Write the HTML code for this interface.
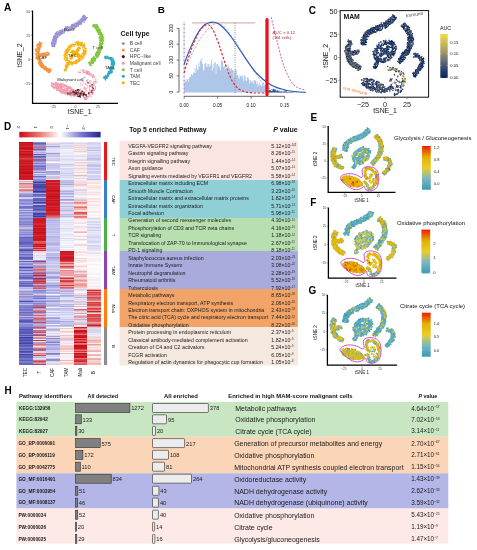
<!DOCTYPE html>
<html lang="en"><head><meta charset="utf-8"><title>Figure</title>
<style>html,body{margin:0;padding:0;background:#fff}svg{display:block}text{font-family:"Liberation Sans",sans-serif}</style>
</head><body>
<svg width="477" height="550" viewBox="0 0 477 550">
<rect width="477" height="550" fill="#fff"/>
<text x="4.00" y="11.32" font-size="10.20" fill="#000" font-weight="bold">A</text>
<path d="M58.4 32h0M53.7 43.8h0M51.5 42.9h0M73.1 28.8h0M83.5 16h0M59.7 34.9h0M72.3 26.1h0M74.2 25.6h0M64.3 29.6h0M68.5 30.7h0M83.4 15.6h0M54.6 44.8h0M81.2 19.9h0M81.7 23.1h0M54 43.7h0M62 32.1h0M53.9 38.4h0M62.8 33.1h0M69.5 30.2h0M61.9 33.8h0M54.1 38h0M52.9 46.2h0M84.5 18.2h0M83.6 20.6h0M62 31.4h0M54.5 36.5h0M52 46.3h0M71 25.9h0M60.2 31.3h0M52.3 42.3h0M79.7 21.6h0M67.7 26.6h0M82 21.7h0M68.7 30.3h0M81.2 24.5h0M55.8 36.2h0M52.5 45.1h0M85.4 19.8h0M55 36.1h0M80.2 21.3h0M55 42.7h0M56 38.8h0M83.9 16.6h0M52.5 40.3h0M56.2 40.6h0M52.6 39.7h0M68.3 30h0M56 34.5h0M57.1 35.2h0M71 29.6h0M66.7 29.4h0M54.7 46.5h0M76.3 24.9h0M54.1 41.6h0M77.9 23.5h0M71.4 27.1h0M64.3 29.7h0M82.6 17.3h0M79.7 20.8h0M54.6 43.2h0M55.5 39.8h0M57.3 37.2h0M86.6 17.6h0M54.8 37.3h0M69 28.3h0M55.6 43.8h0M53.6 41.6h0M64.2 32.7h0M55.8 40.2h0M74.6 25.4h0M73.2 28.4h0M64.5 29.9h0M56.2 33.4h0M52.5 44h0M77.2 23.2h0M55.4 33.8h0M55.4 37.9h0M66.9 30.5h0M75.4 27.2h0M62.1 30.3h0M54.8 43.4h0M82.3 21.6h0M58.2 34.2h0M85.6 17.8h0M58.7 33.4h0M55.7 37.5h0M53.6 42.3h0M70.5 28h0M76.5 26.4h0M76.5 25.4h0M82.7 20.5h0M67.5 30.9h0M70.9 29.1h0M53.8 40.1h0M69.2 28.4h0M79.8 23.9h0M72.6 24.6h0M75.9 23.8h0M66 28.6h0M71.7 24.6h0M76.6 23.7h0M74.4 26.8h0M67.2 28.7h0M86.3 18.1h0M81 23.7h0M56.8 37.5h0M83.1 17.1h0M57.5 36.7h0M53 46.3h0M60.1 34.8h0M79.8 20.9h0M60.9 31.3h0M60.5 31.9h0M59.3 36.1h0M66.3 27.4h0M72.9 28.1h0M75.1 23.2h0M56.5 32.4h0M65.1 29.1h0M72.9 25.5h0M53.8 38.3h0M84.6 21h0M53.8 37h0M70.4 29.8h0M62.9 31h0M83.5 16.4h0M80.6 20.1h0M85.6 19h0M54.7 45.2h0M62.8 33.2h0M84 16.6h0M84.6 18.9h0M65.1 30.9h0M72.8 26.4h0M72.9 27.6h0M61.3 30.4h0M58.7 34.1h0M55.1 35.4h0M57.2 31.7h0M74.7 27.9h0M59.6 32.5h0M66.1 27.6h0M79.2 21.6h0M66.2 28.9h0M74.7 28.1h0M53.4 39.5h0M83.8 20.9h0M56.9 38.8h0M73.4 25.5h0M57.4 34h0M83.3 16.5h0M53.2 44.1h0M55 37.6h0M77.2 22.5h0M82.4 18.5h0M84.9 18.2h0M58.8 33.1h0M82.2 16.9h0M85.7 18.9h0M82.6 18.1h0M80.6 23h0M77.5 22.4h0M55.6 34.3h0M84 22.6h0M53.9 42h0M72.2 28.1h0M73 24.8h0M76.1 23.3h0M56 40.1h0M66.7 28.7h0M83.5 15.1h0M52.1 44.4h0M85.3 17.6h0M57.6 35.8h0M71 28.1h0M57.2 35.7h0M52.6 45.8h0M79.3 23.4h0M62.2 31.6h0M62.6 30.7h0M59 33.7h0M59.6 30.4h0M54.5 46.4h0M64.5 29.1h0M73.6 28.6h0M53.9 39.5h0M54.3 41.5h0M85.7 19.7h0M83.4 18.8h0M77.8 22.4h0M79.3 21.1h0M53 40.6h0M53.9 44.6h0M71 27.5h0M63.2 30.9h0M54.1 45.5h0M78.3 25h0M53.9 40.5h0M66.2 27.2h0M66.1 26.9h0M83.5 17.4h0M56.8 38.4h0M82.2 18.5h0M76.9 23h0M78.2 20.8h0M66.7 28.7h0M56.3 39.8h0M54.7 41.2h0M81.5 20.5h0M72.3 27h0M85.3 16.5h0M76.2 22.8h0M73.4 28.2h0M52 44.7h0M67.9 30.8h0M52.6 46.3h0M56.2 36.5h0M55.8 40.9h0M54.9 42.2h0M54.1 46.1h0M73 26.8h0M54.4 44.6h0M55.3 44h0M56 37.7h0M78.6 21.4h0M79.3 24.4h0M77 24.3h0M54.5 35.3h0M75.6 26.8h0M78.7 23.3h0M83.7 16.8h0M78 26.4h0M81.5 20h0M74.5 27.7h0M75.6 26.4h0M56.2 37.1h0M53.2 39.2h0M51.7 44.9h0M75.7 26.7h0M81.3 24h0M84.8 20.7h0M81.8 22.6h0M71.9 26.1h0M58.9 33h0M58.3 35h0M81.3 21.7h0M64.3 31.4h0M80.2 19.7h0M52.1 46.3h0M66.8 30.7h0M61.1 33.7h0M75.2 25.6h0M54.9 42.9h0M62.1 30.7h0M81 18.8h0M62.1 33.1h0M68.4 29.8h0M56.3 40.1h0M54.8 38.7h0M81.6 19.7h0M76 26.8h0M67.1 27.8h0M86.2 18.1h0M86.3 17.7h0M56.2 38h0M62.9 32.6h0M72.4 26.9h0M82.9 19.6h0M62.7 29.8h0M81.2 21.6h0M59.5 34.2h0M71.5 25.5h0M71.6 26.4h0M78.3 23.6h0M54 44.8h0M54.2 41.8h0M67.5 29.8h0M56.9 37.5h0M56.2 41.1h0M53.4 45.9h0M59.9 31.7h0M57 37.2h0M55.4 41.1h0M58 37.2h0M80.6 23.3h0M79.9 21.4h0M60.8 30.7h0M57.1 33.6h0M63.8 31.2h0M54.8 44h0M55.7 40.6h0M72.9 25.4h0M57.2 36.5h0M56.2 39.4h0M74.7 27.7h0M68.6 30.1h0M68.6 27.4h0M64.6 28.6h0M69.2 30.6h0M74.4 27.5h0M82.8 16.3h0M75.3 27.5h0M67.1 29.1h0M60.6 33.7h0M68.2 30h0M79.6 21.6h0M66.1 27.6h0M58.9 32.1h0M73.2 28.3h0M52.5 44h0M83.4 19.2h0M71.8 27.4h0M73.7 24.5h0M53.3 37.4h0M73.2 26.1h0M58.3 33.5h0M73.7 28.7h0M79.8 22.9h0M52.3 45.7h0M62.2 29.5h0M53.2 38.9h0M56.1 42.7h0M75.5 24h0M76.5 26.7h0M72.3 27.1h0M75.3 23.9h0M78.5 20.9h0M65.5 28.4h0M64.5 31.6h0M72.2 26.9h0M84.8 18.8h0M76.1 26.9h0M85.9 17.8h0M61.9 32.8h0M79 22.2h0M81 23.9h0M80.5 23.7h0M75.1 26.9h0M69.5 29.7h0M71.5 27.9h0M57.5 36.2h0M77.6 23.2h0M82 20.1h0M56.2 38.7h0M62.5 31.4h0M54.6 41.7h0M70.5 26.8h0M81.6 21.1h0M78.5 23.8h0M55.1 33.1h0M51.4 42.2h0M81.7 18.5h0M56.1 41.2h0M73.4 25.1h0M86.3 18.8h0M84.4 21.1h0M78.9 23.7h0M78.4 26h0M71.1 28.9h0M65.3 28.6h0M73.3 24h0M57.9 37.4h0M54.7 40.2h0M64.1 29.3h0M71.5 25.6h0M55.6 40.3h0M54 39h0M60.4 35.1h0M55.3 44.1h0M56.2 34.2h0M87.2 17.5h0M75.9 24h0M79 22.3h0M54.8 37.8h0M69.2 26.8h0M51.9 42.5h0M56.5 33.4h0M53.6 36.4h0M75.3 23.3h0M65.2 27.1h0M81.2 20.2h0M61.4 32.4h0M64.5 30.8h0M59.5 33.6h0M55.7 43.9h0M67.4 26.7h0M53.7 37.5h0M74.5 24.3h0M70 28h0M51.6 44.1h0M56.6 33.1h0M54.5 39.7h0M81.2 23.4h0M62.9 32.9h0M55 35.1h0M80.2 23.2h0M85.9 18.9h0M67.1 26.8h0M52.4 45.4h0M80.5 23.8h0M72.2 25.6h0M71.3 25.9h0M83.3 17.3h0M84.6 18h0M67.5 27.4h0M57.6 33.7h0M80.6 21.8h0M65.3 30.7h0M58.2 32.8h0M53 45.9h0M69 28.1h0M53.6 38.7h0M52.8 43.5h0M85.3 18.4h0M60.6 32.7h0M77.1 25.2h0M79.3 24.2h0M78.1 24.3h0M69.6 27.8h0M64.4 30h0M62 31.6h0M66.3 28.6h0M54.7 39.9h0M81.6 22.7h0M64.3 32.5h0M84.1 19.8h0M67.4 29h0M61.8 34.3h0M53.1 41.8h0M84.3 17.3h0M84.5 15.6h0M86.3 18h0M83.3 21h0M53.7 38.9h0M53.8 37.3h0M72 25.7h0M59.4 34.6h0M73.1 24.6h0M57 34.6h0M52.5 40.6h0" stroke="#9b8fd4" stroke-width="1.35" stroke-linecap="round" fill="none"/>
<path d="M98.2 26.6h0M97.2 25h0M97.6 54.7h0M100.1 49h0M94.7 26.9h0M101.8 33.1h0M99.4 37h0M99.8 45h0M98.2 55.3h0M101.3 33h0M90.8 64.5h0M103.3 41h0M102.2 38.3h0M99 52.8h0M97.2 27h0M95.7 58.6h0M99.6 39.9h0M102.7 43.2h0M91.9 61.2h0M94.1 61.3h0M99.9 34.8h0M103.3 40.4h0M100.2 37.2h0M102.3 35.7h0M97.1 29.3h0M91.7 60h0M94.2 25.9h0M98.2 54.2h0M99.9 51.2h0M96.5 24.3h0M101.1 36.2h0M93.7 59h0M100.7 42.2h0M103 35.1h0M95.6 25.7h0M97.1 56.3h0M95.3 55h0M90.7 62h0M99 50.8h0M92.3 63.2h0M96.5 53.3h0M101.5 47.6h0M102.7 41.3h0M101.3 32.7h0M91.6 63.1h0M99.7 37.9h0M98.3 30.6h0M98.3 27.4h0M96.1 26h0M101.2 37.2h0M97 25.9h0M89.4 64h0M102.6 42.4h0M97.8 50.4h0M101.1 33.3h0M98.7 31.3h0M97.4 31h0M94.6 58.9h0M100.2 39.5h0M93.9 58h0M101 45h0M99 54.1h0M97.9 26.1h0M92.7 58.3h0M100.4 35.4h0M97.2 51.7h0M101.3 35.8h0M101.1 37.1h0M91.3 58.7h0M97.9 52.7h0M90.7 63.4h0M95 24.9h0M96.1 27.6h0M100.4 48.2h0M91.9 60.6h0M101.5 47h0M99.3 33.1h0M103.2 41.2h0M99.6 47.3h0M96 28.8h0M90.1 63.4h0M100.6 33h0M100.3 31.9h0M92.9 60.3h0M98 30.7h0M98.3 27.9h0M98.6 55.7h0M96.2 29.3h0M99.1 31.5h0M96.3 29h0M100.2 35.7h0M97.1 52.9h0M103.2 37.7h0M97.9 31.5h0M102.3 44.3h0M96.7 26.4h0M101.4 49.8h0M102.1 40.1h0M103.8 37.1h0M99 53.2h0M101 34.1h0M99.3 47.6h0M98.8 51h0M90.8 62.7h0M96.7 55.5h0M96.1 26h0M101.7 44.5h0M92.7 25.8h0M100.8 48.6h0M96.5 54.6h0M91.1 61.8h0M100.7 38.8h0M95.7 26.8h0M99.3 29.9h0M103.2 40.8h0M95.3 54.2h0M93.6 57.2h0M92.1 59.9h0M100.3 37.4h0M95.9 26h0M101.4 37.6h0M91.1 62.1h0M98.7 50h0M97.1 57.3h0M100.7 47h0M97.4 56h0M96.2 57.1h0M99.2 45.7h0M100.5 44.1h0M97.5 56.9h0M95.7 26.4h0M99.4 29h0M100.1 29.4h0M99.7 51.5h0M99.2 37.5h0M99.9 40.6h0M99.5 40.9h0M100.6 34.3h0M95.8 56h0M96.8 30.7h0M95.3 55.2h0M97.8 30.5h0M98.4 48.2h0M93.8 60.5h0M102.1 35.7h0M97.4 30.1h0M99.6 54.2h0M91.7 65.7h0M99.5 54.5h0M92.8 26.5h0M97.4 28.6h0M97 30.2h0M101.1 38.6h0M91.3 59.7h0M101.9 34.2h0M103.1 38.6h0M100.6 47.3h0M102.6 40.7h0M102.2 40.1h0M98 49.5h0M102.5 39.4h0M93.5 63h0M99 51.8h0M93.4 59.6h0M99.6 33.4h0M100.7 46.4h0M99 50.9h0M99.7 43.9h0M100.7 32.2h0M95.4 58.8h0M100.4 43.4h0M100.3 40h0M99 29.5h0M103.2 43.3h0M98.3 54h0M98.7 53.4h0M102.1 39.2h0M96.1 25.8h0M102 37h0M100 31.5h0M103.5 39h0M101.2 41h0M101.1 40.1h0M100.9 39.5h0M96.8 56.5h0M94.4 25.4h0M94.5 59.7h0M99.6 45.7h0M103.5 40.9h0M98.6 27.3h0M98.1 26.8h0M97.2 54.2h0M100.6 41.4h0M101.2 37.6h0M101.7 34.7h0M101.6 45.9h0M92 59.3h0M101 47.1h0M100.3 49.2h0M95.9 25.6h0M100.9 48.4h0M94.3 57.3h0M99.6 42.6h0M94.5 61h0M91.1 61.9h0M102.3 35.6h0M92.4 62.6h0M101.5 41.3h0M98.7 53.8h0M101.7 35.6h0M101.3 48.4h0M93.6 56.6h0M101 39.8h0M96.9 55h0M94.6 59.1h0M101.5 35.5h0M92.9 63.7h0M97.6 26.3h0M94.4 60h0M100 38.3h0M101.4 37.6h0M102.1 35.8h0M99.6 47.3h0M96.3 28.2h0M101.9 38.4h0M99.3 37.9h0M99.5 29h0M97.5 28.3h0M101.5 45.6h0M98.7 34.1h0M93.2 25.9h0M99.2 33.3h0M95.1 25.1h0M101 49.1h0M98.7 55.2h0M98.7 50.2h0M94.7 58.1h0M103.2 41.2h0M99.3 53.8h0M99.1 37.9h0M101.1 44.3h0M99.2 31.7h0M96.1 28.1h0M97.7 56.4h0M91 60.8h0M93.5 58h0M90.1 63.4h0M99.3 34.5h0M102.9 43.5h0M100.9 40.2h0M89.9 62.1h0M101.3 37.9h0M93.7 24.7h0M100 50.1h0M100.2 38.7h0M97.6 53.9h0M96.6 29.4h0M90.7 63.6h0M98.3 49.7h0M90.6 65.4h0M102.3 47.1h0M100.7 33.7h0M93.5 60.2h0M95.9 27.2h0M101 39h0M91.9 61.6h0M94.6 27.2h0M91.5 60.3h0M101.9 37.1h0M101.4 49.2h0M99.8 51.8h0M89.4 63.9h0M99.9 40.1h0M98.7 48.1h0M97.9 29.3h0M102.9 36.3h0M88.6 62.6h0M101.4 37h0M101.8 40.4h0M99.4 42.8h0M102.3 36.5h0M97.1 56.5h0M101.7 46.9h0M94 58.5h0M101.3 34.4h0M100.7 41.2h0M97.5 51.1h0M90.4 62.4h0M95.1 58.1h0M97.1 51.8h0M96.4 26.1h0M101.6 40.8h0M94.1 56.3h0M91.1 60.5h0M97.2 51.2h0M102.7 34.6h0M101.8 34.6h0M95.9 58.5h0M94 59.3h0M95.5 26.4h0M93.9 26.8h0M101.1 37.5h0M98.2 32.8h0M94.4 25.5h0M98.6 50.8h0M98.6 33.5h0M90.7 63.9h0M100.6 43.1h0M102.6 37.7h0M100.8 46h0M100.4 31h0M89.4 62.1h0M96.1 26.2h0M101.5 34.2h0M89.9 65h0M94.6 57.7h0M98.1 29.9h0M100.2 44.1h0M100.1 48.1h0M95.8 53.2h0M97 55.2h0M99.2 32.5h0M93.3 58.1h0M96.6 26.2h0M100.5 44.5h0M96.8 28.1h0M101.2 43.3h0M98.4 55.7h0M97.6 52.3h0M96.9 29.9h0M98.3 34.2h0M98.7 51h0M88.9 63.3h0M98.5 33.2h0M92.2 62.6h0M89.4 63.6h0M98.1 30.4h0M93 25.2h0M101 45.4h0M101.2 47.6h0M97.8 56.5h0M99.9 52.3h0M89.8 64.1h0M95.2 60.8h0M97.7 57.4h0M97.1 25.9h0M101.4 46.4h0M96.2 54.8h0M98.9 55.6h0M97.1 31.8h0M101.2 33.5h0M89.1 63.8h0M92.4 57.8h0M94.8 24.7h0M100 37.6h0M96.3 28.6h0M101.1 39.2h0M99.1 46.4h0M96.2 52.3h0M94.3 24.7h0M99.2 30.6h0M101.6 33.1h0M99.9 31.9h0M99.2 49.4h0M97.2 25.3h0M89.3 63.3h0M100.3 30.1h0M98.4 56h0M95.4 59.9h0M99.4 53.4h0M93.1 62.4h0M99.6 28.6h0M98.5 51.9h0M96.2 29.7h0M97 29.7h0M99.3 34.3h0M96.8 56.9h0M98.9 51.5h0M97.4 51.7h0M100.4 43.3h0M102.4 44.5h0M101.4 38.9h0M96.7 26.1h0M94.9 61.1h0M101.1 32.9h0M91.4 62.2h0M101.9 43.2h0M89.6 64.4h0M98.5 51.8h0M100.3 33h0M96.7 30.2h0M93.1 62.3h0M93.3 62.4h0M98.2 31.9h0M100.1 40.6h0M99 45.6h0M100.3 51h0M98.2 33.7h0M100.3 38.2h0M93 25.1h0M99.3 47.7h0M99 29.2h0M93.8 61.9h0M100.1 40.9h0M90.9 63.8h0M98.2 26.8h0M89.2 63.1h0M99.1 52.2h0M98.2 51.9h0M95 28.1h0M98.6 54h0M95.4 27.6h0M97.1 51.9h0M100.4 52.3h0M100 33.1h0M92.6 61.7h0M97.5 51.8h0M95.6 24.8h0M95.6 27.6h0M102.3 42.5h0M99.7 53.9h0M99 51.5h0M98.3 32h0M92.6 58.8h0M94 25.1h0M98 31h0M99.7 34.6h0M90.8 64.5h0M101.6 36.9h0M99.9 29.5h0" stroke="#86c440" stroke-width="1.35" stroke-linecap="round" fill="none"/>
<path d="M36.7 50.9h0M48.5 70.2h0M42.1 64.9h0M39.4 45.4h0M44.1 68.6h0M40 47.4h0M41.4 63.2h0M39.5 43h0M40.4 63.9h0M41.6 64.3h0M43.2 67.9h0M36.9 52.8h0M41 45.9h0M39.6 57.8h0M39.4 59.8h0M40.1 44.8h0M41.9 63.8h0M38.3 54.8h0M42 62.4h0M49.5 72.3h0M40.6 63h0M40 45.4h0M40.6 44.3h0M38.1 47.6h0M37.5 47.8h0M50.5 69.6h0M47 70.2h0M37.6 58.3h0M36 48.3h0M37.7 50.8h0M46.5 68.4h0M36.6 56.7h0M40 42.4h0M45.5 69.7h0M38.3 54.9h0M36.8 56.4h0M36 50.1h0M45.9 66.9h0M46.5 67.1h0M45.4 69.6h0M48.5 70.8h0M39.3 60.9h0M43.3 68.4h0M39 53h0M41.1 45.2h0M43.6 69.1h0M47.4 69.7h0M40.5 61.3h0M39.3 59.7h0M38.3 54.4h0M37.1 45.6h0M39.4 56.7h0M44.7 67.1h0M46.4 70.7h0M41.1 66.9h0M37.6 48.3h0M36.7 46.1h0M48 69.7h0M36 54.8h0M46.9 71.1h0M41 60.5h0M38.4 51h0M39.5 58h0M39.2 50.4h0M38.6 63.3h0M42.1 66h0M49.1 68.7h0M44.1 68.2h0M39.1 64.5h0M38.4 47.5h0M39.2 47.7h0M38 48.3h0M36.9 59.1h0M39.9 48.1h0M38.6 55.8h0M37.4 46.8h0M45.8 69.3h0M38.9 56.8h0M41.7 67.6h0M39.6 62.3h0M39.6 60.8h0M41.1 43.6h0M36.4 54.8h0M39.1 58.4h0M45 66.5h0M39.5 60.4h0M37.5 47.1h0M39.3 47.4h0M42 67.2h0M38 44.6h0M42.5 67.5h0M38.7 63.1h0M40.6 47.1h0M37.7 48.1h0M36.1 54.8h0M49 72.6h0M39.8 48.4h0M42.5 63.7h0M39.6 61.8h0M48.3 71.7h0M40 47.5h0M44.2 67.4h0M37.7 56.4h0M48.5 72.2h0M38.2 55h0M50.4 71.2h0M37 50.9h0M49.1 68.6h0M38.1 46.9h0M49.5 68.6h0M38.9 51.7h0M42.6 66.4h0M43.3 65h0M47.9 72.3h0M44.6 68.2h0M39.3 58.2h0M42.3 63.9h0M41.1 63.5h0M39.8 43.2h0M38.4 58.1h0M35.8 54.2h0M38.3 48.4h0M48.6 70h0M47.7 69.9h0M40.2 63.7h0M44.2 68.6h0M36.4 58.4h0M39.4 61.1h0M38.3 58.3h0M41.2 61.6h0M48.6 72.3h0M39.9 60.5h0M39.8 46.7h0M36.1 54.8h0M46.3 69.3h0M35.4 50h0M40.5 60.5h0M40.7 66h0M43.4 64.5h0M41.3 60.7h0M38.6 62.8h0M37.2 44.7h0M39.1 59.7h0M44.4 69.7h0M39.3 51.6h0M50.5 71.3h0M42.8 65.9h0M39.4 47.9h0M38.6 47.6h0M41.7 43.4h0M44.1 66h0M38.2 55.4h0M40.5 65.5h0M40 48.5h0M39 45h0M39.2 50.6h0M47.7 70.3h0M45.7 69.2h0M39.8 44.2h0M40.2 59h0M42.3 63.9h0M39.4 49h0M38.4 53.4h0M39.1 56.8h0M49.6 72.7h0M41.2 64.7h0M48.2 71h0M41.1 65.7h0M39.2 43.4h0M39 62.4h0M37 54.8h0M38.5 44.9h0M37.1 46.8h0M41.9 43h0M50.8 70.9h0M49.7 70.9h0M38.3 48.8h0M40.6 61.8h0M39 59.3h0M43.4 67.6h0M36.5 50.4h0M41.3 66.7h0M38.3 49.4h0M43.3 65.6h0M40.5 64.4h0M39.2 54.2h0M40 66.1h0M43.9 68.4h0M37.9 51.4h0M38.8 57.1h0M39.6 48.5h0M45.6 69.9h0M44 67.1h0M40.7 62h0M39.9 54.8h0M41.1 63h0M40.8 62.6h0M39.7 62.2h0M37.1 53.2h0M37.7 52.8h0M37.2 45.3h0M39.1 54.8h0M37.5 51.3h0M37.4 49.8h0M39.6 60.7h0M35.8 57.7h0M39.8 49.6h0M39.2 59.3h0M51 69.5h0M36.2 48.9h0M40.1 63.1h0M38.5 45.8h0M36.3 53.6h0M39.2 55.7h0M38.4 57.4h0M36.7 55.2h0M49.3 71h0M37.7 47.8h0M42.1 63.3h0M40.6 60.4h0M39.5 47h0M40.9 61h0M38.9 61.8h0M42.3 63.6h0M47.9 71.6h0M45.5 68.3h0M37 57.5h0M48 68.9h0M41.2 45.1h0M35.9 51.4h0M50.6 70.9h0M43.6 65.2h0M38.9 61.2h0M44.6 67h0M36.6 51.6h0M39.3 49.9h0M38.3 59.8h0M39.2 54.1h0M41.4 64.2h0M37.8 59.9h0M36.2 54.5h0M37.7 55.1h0M39.6 41.9h0M41.8 62.7h0M46.1 69.7h0M49.8 69.5h0M39.8 59.1h0M37.8 48.2h0M39.8 60.2h0M39.7 49.1h0M40 60.1h0M39.3 61.8h0M39.2 44.2h0M38.1 45.1h0M39.4 50.8h0M37.7 52.4h0M43.5 64.8h0M41.1 66.2h0M39.7 43.3h0M37.9 43.9h0M36.9 57.4h0M47.4 69.3h0M37.9 58.1h0M36.3 55h0M39.8 63.7h0M41.6 66.5h0M40.1 64.7h0M38.5 53.5h0M45.2 66.6h0M37.9 43.7h0M39.1 54.5h0M39.5 59.8h0M38.8 57h0M37.3 55.7h0M40.1 43.7h0M38.8 51.7h0M48.2 71.5h0M36.5 57.7h0M43.2 64.5h0M40.4 42.9h0M41.6 43.3h0M40 59.4h0M38.7 50.8h0M49.3 69.9h0M40.8 46.3h0M39.8 58.6h0M40.6 61.7h0M39.2 58.9h0M38 59.7h0M49.6 72.1h0M36.7 50.7h0M44.8 68.1h0M39.2 48.2h0M38.6 45.1h0M40 64.5h0M38.5 56.6h0M41.4 63.9h0M48.9 72.1h0M46.2 67.7h0M47.5 68.3h0M37.8 52.9h0M39.9 48.1h0M38.7 53.4h0M35.6 53.7h0M39.9 55.3h0M39.5 54.7h0M39.2 51h0M38.8 50.6h0M49.6 72.6h0M44.4 68.5h0M38.3 47.2h0M38.3 62.3h0M47.9 70.7h0M39.8 45.9h0M39.8 64.4h0M44 66.3h0M45.7 67h0M38.9 58.9h0M37.2 57.6h0M39.7 44.8h0M43 56h0M41.2 53.9h0M45.6 54.3h0M42.4 53.4h0M43.2 55.8h0M44.5 52.9h0M45 53h0M39.6 55.4h0M39.7 55.5h0M48.3 54.3h0M47.9 55.2h0M47 54.6h0M48.8 54.2h0M43.7 55.1h0M45.3 54.3h0M38.7 53.5h0M46.8 52.4h0M41 55.7h0M42.1 55.6h0M44.1 54.4h0M40.4 55h0M44.3 56.2h0M42.9 55.2h0M40 54.2h0M39.8 55.5h0M40.8 55.8h0M38.4 55.8h0M45.7 55.1h0M48 55.1h0M44.5 53.6h0M39.9 56h0M39.8 55.3h0M39.6 54h0M39.7 54.1h0M39.2 55.8h0M46.2 55.7h0M38.9 54.1h0M44.5 55h0M41.8 54.2h0M48.2 54.5h0M48.9 54.8h0M41.5 53.4h0M40.2 54.8h0M48.3 53.7h0M47 55.4h0M43.5 54.9h0M48.7 53.8h0M48 53.4h0M48 54.6h0M43.7 55h0M46.3 53.1h0M45.2 56h0M42.7 53.9h0M49.2 53.2h0M40.3 55.9h0M42 54.9h0M44.6 53.9h0M48.2 53.3h0M44.5 54.9h0M42.7 56h0M39.2 54.7h0M38.8 55.5h0M43.5 54.2h0M46.2 53.6h0M45.6 54h0M44.5 55.1h0M41 56.1h0M46.2 53.4h0M41.8 55.3h0M49.2 53h0M47.8 52.2h0M40.8 55.5h0M43.6 53.5h0M41.3 55.4h0M43.4 55.7h0M46.3 53.2h0M39.6 54.2h0M39.7 55.8h0M41.3 54.8h0M46.9 54.7h0" stroke="#f4923c" stroke-width="1.35" stroke-linecap="round" fill="none"/>
<path d="M67.3 55.6h0M83.2 48.9h0M81.4 42.1h0M84.2 44.4h0M82.1 57.3h0M81.7 45.4h0M85.2 51.6h0M67.1 57.2h0M76.4 43.9h0M73.9 44.6h0M73.9 45.2h0M84.3 54.9h0M79 57.9h0M65 57.3h0M81.4 46h0M70.4 47.8h0M81.8 58.9h0M80.8 43.8h0M68.3 51.2h0M80 43.3h0M69.3 49.2h0M64 55.4h0M81.6 59.3h0M78.3 41.4h0M66.5 50.4h0M67 59h0M82.8 47.8h0M70.2 48.9h0M67.6 50.9h0M69.7 63.9h0M77.8 42.1h0M84.1 53.5h0M65.9 51.8h0M65.9 57.8h0M74.2 61.6h0M80.3 56.8h0M69.7 61.3h0M74.5 61.3h0M83.3 53.4h0M83.9 52.2h0M85.3 48.4h0M85 48.5h0M67 52.3h0M76.1 41.8h0M79.2 43h0M76.3 42.4h0M85.3 51.1h0M69.6 47h0M85.8 50.4h0M77.9 60.6h0M81.3 59.8h0M74.6 63.1h0M83 57.3h0M80.6 45.7h0M81.8 59.4h0M65.7 50.5h0M80 43.8h0M78.8 44.5h0M83.3 49.4h0M81.9 44h0M85.3 51.5h0M77.4 45.4h0M84.5 45.5h0M84.5 50.6h0M81.6 44.8h0M67.1 48.7h0M83.3 55.8h0M71.5 62.4h0M79.3 61.1h0M69.5 61.9h0M66.6 54.3h0M67.1 62.8h0M65.9 59.8h0M79 59.8h0M70.3 49.3h0M83.2 49.2h0M79.3 58.9h0M72.1 44.1h0M81.8 55.3h0M66.1 51.8h0M71.8 64.7h0M76.7 60.7h0M78.6 60.8h0M84.3 46.2h0M69.5 64.6h0M72.4 63.3h0M69.6 46.6h0M84.2 55.5h0M71.2 62.2h0M84.3 44.7h0M84 50.7h0M66 60.2h0M67.4 60.6h0M70.2 63.2h0M64.2 54.9h0M84.5 47.5h0M68.3 46.3h0M64 57.7h0M72.1 64.9h0M67.4 58.7h0M79 44.9h0M83.4 51.4h0M77.4 61.9h0M67.3 53.2h0M67 62.8h0M66.2 53.4h0M68.4 48.9h0M67.3 58.2h0M80.5 43.3h0M68.2 63.7h0M70.4 46.8h0M75 42.1h0M84.2 54.8h0M74 62h0M85.4 50.7h0M67.8 60.2h0M85.7 52.8h0M65.7 52.4h0M70.1 47.8h0M73.8 46.3h0M67.9 49.6h0M82.9 47h0M77 42h0M81 56h0M77.7 44.8h0M83.4 45.5h0M79.4 61.1h0M70.2 44.6h0M83.3 50.6h0M82.3 53.1h0M67.7 62.4h0M67.3 52h0M65.8 57.7h0M64.7 52.1h0M77.6 44.8h0M72.9 62.5h0M86.3 48.7h0M76.9 62.9h0M65.1 53.7h0M76.3 62.2h0M68.9 47.4h0M77.9 61h0M72.9 63.4h0M73.1 44.3h0M66.1 53.3h0M77 43.9h0M65.2 56.8h0M64.6 53.8h0M73.3 61.9h0M66.9 50.9h0M80 59.9h0M80 58.7h0M65.2 52.3h0M79.8 43.3h0M71.7 63.9h0M67.7 57.5h0M70.2 44.9h0M78.3 44.6h0M82.1 44.5h0M65.6 52.5h0M70.4 61.9h0M68.7 60.8h0M66.7 62.5h0M71.7 62.2h0M71.3 61.7h0M81.7 43.3h0M85.8 48.9h0M72.5 63.9h0M75.6 60.7h0M84.7 47.3h0M81.2 42.7h0M74.4 44.4h0M75.7 43.8h0M78.2 57.9h0M85.4 54.1h0M81.6 56.6h0M84.2 44.3h0M75.5 44.4h0M86 53.3h0M77.5 42.5h0M83.2 45h0M65 52.3h0M74.5 45.1h0M69.4 46.4h0M79.4 58.9h0M67.7 59.8h0M72.3 44.7h0M83.7 46.7h0M78.2 61.7h0M70.2 45.5h0M82.5 53.6h0M76.3 42.3h0M67.2 59.7h0M65.4 50.8h0M69.2 49.1h0M65.2 56.4h0M69.1 60.4h0M66.8 55.7h0M82.4 56.6h0M84.5 52.2h0M67.7 53.9h0M65.2 56.7h0M84.9 51.2h0M72.5 44.9h0M83.7 54.6h0M78.8 42.4h0M83.5 51.9h0M84.7 46.8h0M80.8 56.3h0M68.3 51.7h0M68.5 49.7h0M83.7 45.2h0M78.3 43.4h0M68.3 49h0M70.1 64.3h0M66.1 59.6h0M85.5 53.3h0M71.3 45.5h0M78.1 44.8h0M65.5 55.8h0M71.8 44.7h0M86.3 51h0M79.6 44.8h0M84.7 46.1h0M64.4 59.2h0M69 47.1h0M72.9 43.9h0M73.3 63.1h0M65.8 60.6h0M65.3 54.6h0M83.4 53.5h0M69.1 61.5h0M66.4 49.6h0M70.7 47.4h0M66.4 53.3h0M78.8 57.8h0M64.9 54.5h0M66.8 59.1h0M80.3 57.9h0M79.4 61.1h0M70.4 63.5h0M81.3 55.8h0M80.9 55.8h0M84.4 51.4h0M80.5 43.9h0M77.4 43.3h0M72.4 63.2h0M64.4 57.1h0M67.7 52.2h0M71.8 45.1h0M82.5 58.3h0M80.8 56h0M85 51.1h0M65.5 52.6h0M83.7 53.2h0M76 61.4h0M67.1 51.1h0M66.4 58.7h0M66.9 57.3h0M69.6 63.1h0M76.3 63.2h0M65.2 60.8h0M82.4 43.1h0M66.8 58.6h0M81.8 54.5h0M65.8 54h0M81.2 44.4h0M75.5 62.7h0M79.3 61.5h0M80.9 42.4h0M72.2 64.9h0M84.6 54.5h0M80.1 44.2h0M84.5 45.8h0M68.9 51.8h0M79.3 44.6h0M73.9 63.2h0M77.2 42.7h0M67 60.4h0M82.7 45.5h0M77.4 42.3h0M64.7 54.7h0M84.3 43.3h0M78.8 44.5h0M66.8 62.3h0M80.4 58.1h0M82.3 42.6h0M69.4 49.5h0M64.6 54.4h0M72.3 46.1h0M71.6 62.1h0M79.5 59h0M80.7 45h0M67.3 49.4h0M83.2 44.9h0M83.5 50.7h0M85.8 52.2h0M68.8 50.4h0M67.9 50.9h0M84.9 49h0M79.2 44.8h0M75.4 63.8h0M65 57.6h0M78 61.1h0M84.8 50.3h0M68.9 46.1h0M78.4 60.8h0M71.6 46.6h0M70 62.5h0M68.1 47.7h0M80.1 60.6h0M84.5 53.9h0M76.7 60.9h0M67.3 63.7h0M66.9 60.6h0M83.5 55.8h0M81 56.3h0M74.7 44.9h0M67.9 48.4h0M79.7 44.2h0M65.6 50.5h0M65.5 56.7h0M85.3 53.8h0M74.3 45.8h0M80.7 57.9h0M84 57.2h0M78 59.6h0M65.5 55.6h0M68.5 62h0M75.3 44.6h0M79.5 58h0M67.2 59.2h0M78.1 45.4h0M76.3 60h0M83.7 46.6h0M66.2 52.2h0M69.8 48.9h0M84.7 47.5h0M84.2 53.3h0M76.2 60.3h0M75 51.6h0M72.7 52.1h0M79.6 55.2h0M73.8 53h0M73.3 51.8h0M70.7 52.1h0M80.2 56.2h0M76.9 52.5h0M72.9 51.4h0M72 51.8h0M76.9 53.1h0M73.3 50.8h0M71.7 51h0M77.6 55.4h0M75 52.2h0M72.7 51.5h0M74.1 54.2h0M78.8 54.5h0M72.3 51.3h0M74.9 54.2h0M78.7 57h0M73.5 51.2h0M78 55.4h0M77.8 53.4h0M77.6 55.1h0M77.1 54.2h0M75.9 52.9h0M77.3 53.3h0M79.3 56.1h0M70.5 52.4h0M76.3 53.2h0M71.5 52h0M77 55.5h0M78.2 55.7h0M77.3 56.7h0M75.2 52.3h0M73.2 53.2h0M76.5 53.8h0M80.4 56.1h0M70.9 52.3h0M73.2 53.1h0M78.4 53.7h0M71.7 52.3h0M78.2 54.3h0M78.3 56.1h0M74 53.1h0M73.5 52h0M79.9 55.4h0M74.1 52.7h0M73 53.6h0M74 52.9h0M77.4 55.3h0M76.2 54.5h0M73.6 52.5h0M76.1 53.7h0M71.7 52.5h0M74.1 53.9h0M72 50.6h0M73.6 51.9h0M72.3 50.5h0M79.9 55.2h0M79.6 54.6h0M72.8 53h0M72.3 52.2h0M76.1 52.4h0M71.3 52h0M76.8 53.8h0M73.6 50.8h0M78.6 54h0M75.9 53.5h0M77.9 55.8h0M76.3 52.7h0M74.5 53.2h0M74.6 53.2h0M72.2 52.3h0M78.3 57.1h0M75.3 51.2h0M72.1 52.2h0M77.6 54.5h0M74.4 51.2h0M80 48.1h0M79.2 47.2h0M80.4 48.4h0M70.6 58.3h0M72.7 57.6h0M71.2 56.8h0M78.1 50h0M77.4 50.7h0M72.5 55.1h0M70.5 58.2h0M77.7 51.1h0M70.6 58.9h0M76 53.5h0M74.1 52.4h0M73.3 54.8h0M75.2 54.1h0M78.1 50.9h0M76.3 51.1h0M74.9 54.9h0M72.3 58h0M71.1 55.6h0M75.6 53.8h0M71.7 58.3h0M74.7 54.4h0M76.2 53.9h0M71.4 55.5h0M77.8 51.3h0M69.9 58.4h0M77.3 48.9h0M71.5 57.7h0M74.8 53.3h0M76.8 53.5h0M75.6 52.7h0M74.6 53.9h0M70.9 57.5h0M78.7 50.1h0M72.4 56.7h0M76.6 49.7h0M80.3 48.7h0M77.5 48.2h0M77.3 49.5h0M71.9 56.6h0M79.2 50.3h0M70.5 56.4h0M78.9 48.5h0M76.9 50.5h0M74.2 56.1h0M76.9 53.7h0M80.4 48.7h0M76 54.1h0M77.3 51.2h0M79.6 47.5h0M70.9 58.1h0M70.3 58.5h0M73.3 53h0M74.7 56h0M75.2 53.3h0M75.1 53.3h0M74.5 54.4h0M77.8 48.1h0M79.1 46.8h0M70 58.1h0M71.7 58.1h0M74.4 52.8h0M77.7 50.7h0M77.7 50.4h0M71.7 55.9h0M77.8 50h0M78.4 47.2h0M78.7 49.5h0M77.2 53h0M71.7 58.9h0M79.7 48.3h0M77.5 50.4h0M72.5 55.4h0M74.2 53.5h0M78.7 50.7h0M77.6 51.6h0M76.9 50.4h0M74.4 53.7h0M75.3 52.7h0M74.7 54.8h0M70.2 58.3h0M71.3 59.1h0M76.4 51.2h0M77.6 51.7h0M74.3 56.1h0M75.9 53.3h0M76.2 52.7h0M77.7 51.8h0M75.8 54h0M72.7 58h0M73.2 53h0M76.2 52.3h0M73.9 55.3h0M77.3 51.3h0M70.9 57.7h0M77.9 48.7h0M78 49.2h0M77.4 51.3h0M78.8 47.8h0M79.3 47.2h0M74.1 53.2h0M70.8 56.9h0M74.7 55.5h0M71.7 57.4h0M71 56.5h0M75.2 50.9h0M72.3 54h0M74 55.6h0M66.9 63.7h0M64.7 70.8h0M65.9 65.3h0M64.3 70h0M68.9 62.5h0M66.2 70.8h0M65.6 68h0M66.7 66.4h0M66.7 66.4h0M66.5 65.1h0M64.4 70.3h0M68.6 62.7h0M64.7 69.9h0M68 66.6h0M66.6 68.9h0M65.5 65.4h0M65.9 70.5h0M66.3 68.9h0M65.9 69.2h0M65.1 70h0M65.3 70.1h0M67.6 65.7h0M65.7 65.1h0M66.7 68.1h0M67 65.6h0M66.6 66h0M66.9 65.2h0M65.9 68.8h0M68 66.1h0M65.5 66.7h0M66 67.5h0M66.3 67.7h0M67.6 63.1h0M67.6 64.6h0M67.9 65.1h0M68.7 62.8h0M68 62.4h0M68 66.5h0M64.2 69.5h0M66.1 68h0M67.9 65.2h0M67.5 66.1h0M68.1 64.1h0M67.3 66.9h0M68.5 64.7h0M66 69.3h0M65.5 65.5h0M67.2 64.8h0M65.8 66.4h0M67.1 67.8h0M66.6 66.6h0M68.2 63.1h0M65.8 65.1h0M66.1 65.7h0M67.9 64.7h0M67.5 66.6h0M65.4 68.6h0M67.8 63.6h0M69.2 64.2h0M67 67h0" stroke="#f5b10f" stroke-width="1.35" stroke-linecap="round" fill="none"/>
<path d="M109.2 57.3h0M107.1 76.4h0M107.1 57.8h0M108.8 71.8h0M113 64.6h0M111 57.7h0M111.4 62.2h0M111.4 61.4h0M112.8 58.8h0M111.7 60.7h0M110.6 67.6h0M112.5 71.9h0M110.8 57.5h0M111.2 64.2h0M110.2 57.6h0M105.2 57.7h0M107.8 74.2h0M111.5 71.6h0M111.2 60.8h0M111.3 60.7h0M104.5 77h0M112 71.4h0M111.7 63.3h0M103.5 77.7h0M107.2 77.6h0M111 72h0M109.6 70h0M111.7 72.9h0M114 62.3h0M110.4 73.1h0M110.9 69.9h0M110 58h0M111.6 58.9h0M114.6 64.2h0M113.8 65.4h0M109.8 73.9h0M112.5 61h0M114.1 69.1h0M108.5 58.7h0M111.9 67.9h0M112 62.7h0M106.6 77.7h0M105.6 80h0M107.4 57.6h0M109.9 72.3h0M108.4 72.5h0M108.8 75h0M104 77.6h0M112.8 65.1h0M113.7 67.4h0M106 57.4h0M111.8 72.4h0M108.5 58.7h0M106 75.2h0M111.4 63.7h0M108.3 76.2h0M112.2 69.3h0M109.1 71.8h0M106.2 78.3h0M112.8 64.4h0M111.5 61.1h0M110.5 72.5h0M111.3 59h0M112.8 68.7h0M113.7 62.3h0M112.1 68h0M107 76.7h0M109.7 73.6h0M110.7 68h0M112.6 65.3h0M112.1 61.4h0M108.6 71.3h0M108.9 75.3h0M110.4 59.6h0M108.2 74.6h0M106.1 58.7h0M112.3 59.4h0M112.3 70.7h0M111.4 58.2h0M111.7 68.5h0M111.9 65h0M108.2 75h0M105.7 57.8h0M111.5 59.9h0M113.1 63.2h0M113.4 65.6h0M111.5 72.1h0M105.2 77.9h0M105.2 76.9h0M107.5 75h0M109.3 73.7h0M107.4 75.2h0M106.1 76.7h0M107.5 74.9h0M105.2 57h0M106.5 76.7h0M107.8 75.4h0M107.5 77.6h0M113 68.9h0M113.8 60.1h0M105.4 58.2h0M105.3 57.2h0M111.8 69.5h0M113.7 65.9h0M112.5 71.8h0M110.2 71.4h0M111.2 72.8h0M104.4 78h0M110.2 72.7h0M112.9 64.7h0M106.8 77h0M111.2 59.3h0M109 72.5h0M109.8 72.3h0M110.2 70.3h0M110.3 70.8h0M106 77.2h0M105.1 79.2h0M113.1 66.3h0M111.6 60.9h0M112.3 59.5h0M107 78.4h0M108.8 72.5h0M114.5 63.3h0M114.1 60.7h0M114.1 64.3h0M112.1 65h0M111.9 67.4h0M112.4 64.2h0M114.2 63h0M104.9 57.9h0M108.3 58h0M111.1 66.1h0M108.9 73.7h0M109.3 73.2h0M104.6 76.6h0M107.7 57.7h0M110.6 72.8h0M105.5 58.2h0M110.1 73.4h0M111.5 70.5h0M109 58h0M111.5 71.6h0M110.2 59.2h0M109.7 71.4h0M111.9 64.7h0M110.6 57.5h0M105.1 58h0M111.7 59.5h0M111.7 61.2h0M108.8 57.4h0M112.2 57.6h0M112.7 67.9h0M108.8 58.1h0M109.4 73.7h0M112.4 62.7h0M108.9 58.3h0M111.7 58.1h0M105.4 58.5h0M107.4 56.7h0M105.5 76h0M113.2 60.7h0M113.1 68.2h0M106.9 76.1h0M113.8 60.1h0M108.5 71.7h0M110.9 58.6h0M105.9 55.9h0M112.3 67.8h0M108 58.3h0M107.9 75.1h0M107.5 73.6h0M114.6 62.4h0M105.3 57.9h0M113.5 68.9h0M106.2 56.8h0M110.4 69h0M113.3 63.3h0M110.2 71.7h0M109.5 58.9h0M108.1 57.5h0M105.9 58.3h0M110.9 58.8h0M107.3 77.9h0M109 72h0M107.9 73.1h0M108.6 73.5h0M111.2 60.8h0M108.2 74.4h0M103.9 76.9h0M113.2 64.7h0M107.8 56.2h0M112.5 68.7h0M104.8 57.5h0M105.3 57h0M103.8 77.4h0M113 62.5h0M112.9 64.9h0M104.6 57h0M108.1 75.8h0M104.9 78.4h0M111.2 71.7h0M111.9 58h0M112.9 62.6h0M112.9 68.1h0M113.8 61.8h0M113.3 58.8h0M112.6 64.8h0M111.7 72.2h0M111.9 57.6h0" stroke="#2aa9c0" stroke-width="1.35" stroke-linecap="round" fill="none"/>
<path d="M70.7 91h0M61.4 88.7h0M61.5 85.2h0M76.1 93.6h0M70.2 93.3h0M70.4 92h0M59.8 85.7h0M73.5 96h0M70.1 90.1h0M55.1 87.7h0M67.4 91.1h0M60.1 86h0M61 87.9h0M76.2 94.5h0M57.6 87.9h0M64.7 85.6h0M53.5 86.4h0M59.5 85.2h0M72.9 91.5h0M56.5 84.2h0M53.2 85.1h0M60.4 84.7h0M74.5 93.7h0M56.8 86.3h0M71 87.7h0M59.6 90.9h0M58.9 88.1h0M55.8 87.1h0M57.4 86.7h0M71.5 94.7h0M62.9 84.8h0M63.5 91.2h0M61.6 88.4h0M54.1 87.2h0M57 83.9h0M66.7 90.7h0M73.2 91.5h0M53.1 86h0M68.1 92.8h0M66.6 86.3h0M70.8 93.7h0M63.2 86.4h0M53.8 87.4h0M53.4 87.7h0M64.5 90.2h0M62.4 84h0M62.8 90.1h0M55.7 86.1h0M66.2 89.8h0M62 92h0M62.2 88.1h0M63.4 84.2h0M74.1 90.2h0M73.9 94.8h0M58.2 85.4h0M64.8 92.7h0M66.9 89.5h0M59.5 91.2h0M71.5 89.9h0M61.2 86.7h0M70 90.4h0M76 92.9h0M56 85.7h0M58.9 89.3h0M77.3 93.9h0M76.3 91.7h0M60.3 84.7h0M51.9 86.1h0M69.6 87h0M58.9 89.1h0M68.6 94.7h0M65.7 92.3h0M68.2 90.1h0M71.5 87.9h0M65.2 86.2h0M53.3 86.2h0M70 94.3h0M59.8 89.5h0M60.8 85.3h0M63.8 91.6h0M68.3 86.5h0M68.2 86.3h0M58.3 86.9h0M70 87.5h0M57.8 86.8h0M74.3 93.9h0M64.7 87.1h0M53.4 86.1h0M54.5 84.5h0M70.4 93.4h0M67.4 86.4h0M66.5 87h0M61.4 83.9h0M76.3 93.5h0M66.8 90.1h0M66.9 87.2h0M72.6 95.4h0M72.1 94.7h0M56.9 89.8h0M61.9 91.4h0M57.8 83.1h0M64.8 86.8h0M66.8 88.4h0M66.6 86.5h0M74.8 93.4h0M53 85.5h0M55.4 84h0M60.8 90.4h0M70.6 88h0M60.7 83.3h0M55.9 88h0M58.8 83.6h0M65.8 85.1h0M61.6 91.3h0M65.1 88.6h0M56.6 88.1h0M61.1 88h0M60.4 92.3h0M66.4 85.9h0M56.1 83.6h0M62 86.1h0M74.5 92.9h0M57.3 89.2h0M56.4 82.6h0M60.5 85.4h0M65.5 91.7h0M51.6 85h0M65.3 94.1h0M63.7 92.5h0M55.3 83h0M57.2 88.4h0M64.9 91.8h0M58.6 90.8h0M60.6 88.8h0M73.2 92.9h0M56.8 87.9h0M63.6 84.2h0M56.2 87.9h0M67.1 92.5h0M59.3 84.6h0M59.8 87.7h0M60.2 86.4h0M61.2 85.5h0M53.6 87.3h0M70.9 93.6h0M60.3 86.1h0M70.7 95.5h0M76.4 92h0M56.6 85.4h0M57.7 90.1h0M63.8 86.2h0M55.1 86.8h0M70.8 94.6h0M60.5 91h0M58.9 86.7h0M53.4 84h0M60.8 84.7h0M72.9 92.6h0M70.3 92h0M62.1 84.9h0M56.9 88h0M63.5 91.9h0M73.2 89.7h0M58.1 85.7h0M69.4 94h0M53.3 83.8h0M76.4 91.8h0M61.6 92.9h0M66.4 88.7h0M63.1 87.3h0M63.4 86.9h0M66.6 90.9h0M52 83.7h0M73.2 92.5h0M64.4 93.8h0M54.8 88.1h0M59.6 90.5h0M61.3 90.3h0M65.9 92.5h0M54 88.2h0M69.2 88h0M69.1 94.8h0M76.8 92.6h0M56.9 90.2h0M57.8 83.1h0M62.3 89.1h0M53.9 83.8h0M69.2 86.7h0M76.5 94h0M71.3 90.7h0M64.5 89.2h0M60.2 87.6h0M71.7 93.9h0M68.1 87.1h0M63.5 91.4h0M53 83.7h0M63.3 89.6h0M60.4 92.5h0M57.1 87.1h0M70.4 87.5h0M61 85.3h0M66.1 90.4h0M59.6 85.1h0M68.8 91.8h0M67.5 94.9h0M66.7 90.9h0M62.9 90.1h0M59.7 84.2h0M57.2 86.1h0M58 85.3h0M61.5 87h0M64.4 89.3h0M58.7 86.2h0M58.5 87.6h0M60.6 85.8h0M72.1 89h0M51.1 85.1h0M57.2 89.3h0M57.1 86.1h0M76 96h0M57.7 90.4h0M61.8 92.1h0M52.9 84.6h0M56.8 87.1h0M64.9 89.8h0M74.4 96h0M61.1 85.2h0M66.7 89.9h0M70.3 91.4h0M57.3 84.7h0M72.3 94.8h0M65.4 86.3h0M64.6 85.1h0M70.8 95.1h0M55.7 85.5h0M64.8 88.6h0M60.5 87.1h0M67 92.7h0M55.9 82.4h0M56.2 83.2h0M72.1 90h0M61.5 89h0M59.5 86h0M72.1 91.2h0M62.6 91h0M63.6 84.3h0M57.2 88.7h0M69.8 95.1h0M64.3 93.6h0M74.2 95.6h0M73.8 89.7h0M65.1 90.3h0M71.1 87.9h0M67.4 88.1h0M63 92.6h0M53.9 87h0M67.7 89.3h0M63.1 93.1h0M61.7 85.3h0M62.7 91.7h0M73.8 92.3h0M63.6 90.6h0M73.6 92.9h0M77.4 95.2h0M70 94.8h0M67.6 92.4h0M73.7 93.2h0M54.1 88.6h0M61.1 83.6h0M67.4 89.9h0M71.2 91.9h0M68.5 90.1h0M54.8 85h0M58.5 87h0M53.8 83.4h0M51.7 82.9h0M71.4 95.9h0M55.8 83.2h0M56.3 90h0M68.8 88.1h0M58.9 88.9h0M58.2 83.1h0M73.4 93.5h0M53.4 86.9h0M58.7 88.6h0M67.4 89.1h0M76.2 93.4h0M68.8 94.7h0M72.9 92.9h0M63.9 89.3h0M66.1 91.8h0M59.7 85.6h0M66.9 89.5h0M67.2 93.5h0M60.1 87.3h0M56.3 85.9h0M61 89.3h0M71.7 94.3h0M70.4 88.9h0M70.3 94.7h0M72.7 94.9h0M69.2 91.5h0M67.3 93.9h0M68.7 93h0M70.6 95.7h0M69.4 87.6h0M57 84.6h0M68.4 88.4h0M73.3 95.1h0M70.1 95.1h0M66.8 93.6h0M60 84.6h0M57.6 90.3h0M61.1 88.3h0M52.7 82.9h0M66.6 86.4h0M74.8 92.5h0M65 84.8h0M70.5 95.5h0M63.4 86.5h0M71.8 89.6h0M57.1 90.1h0M61.8 86.5h0M59.7 87.5h0M58 88.2h0M58.1 83.7h0M73.4 94.7h0M62.3 84h0M55.6 82.6h0M73.3 90.6h0M57.7 83.3h0M66.8 90.5h0M71.9 89.1h0M65.1 92.7h0M70 89h0M71 95.4h0M65 91.8h0M62.6 92.9h0M52.6 86.9h0M58.7 88.1h0M83.5 72.7h0M86.8 74.2h0M88.3 94.6h0M93 90.4h0M88 96.3h0M93.4 84.1h0M92.8 87.6h0M92.7 89.5h0M86 72.7h0M87.7 74h0M86.5 71.8h0M93.5 92.8h0M86.4 98.5h0M87.3 96.4h0M93.3 76.3h0M95.5 88.2h0M85.1 72.5h0M91.9 90.7h0M89.3 93.8h0M85.8 98.8h0M79.5 72.2h0M90.1 93.3h0M95.4 87.7h0M94 85.3h0M92.6 94.1h0M91.7 93.1h0M86.3 99.5h0M90.7 75.9h0M90.1 73.3h0M86.7 73.4h0M91.7 94.3h0M88.5 74.4h0M94.7 89.5h0M93 87.5h0M92.8 88h0M88.6 71.5h0M90 74h0M86.2 72.1h0M87.7 71.7h0M91.1 96.9h0M93 76.2h0M83 72h0M87.5 72.6h0M83.1 70.9h0M94.1 83.2h0M85.1 99.7h0M90 94.9h0M83.7 70h0M85.2 98.2h0M88.7 96.7h0M88.6 94.7h0M86.8 72h0M92.3 92.9h0M90.9 92h0M93.5 81.7h0M80.4 72.3h0M92.9 77.7h0M89 71.7h0M85.8 97.9h0M92.8 93h0M96 82.7h0M95 82h0M85.6 70.4h0M96.1 81.8h0M95.7 79.4h0M83.4 71.8h0M90.9 73.9h0M90 95.7h0M88.5 74.2h0M85.7 97.3h0M89.2 75h0M86.9 98.5h0M90.9 73.9h0M96.2 81.5h0M92.5 87.3h0M94 84.3h0M92.1 92h0M92.1 89.9h0M91.4 74.5h0M95.6 80.1h0M92.7 76.8h0M85.3 98.6h0M93.9 76.2h0M84.9 71.9h0M84.5 98.8h0M87.2 70.9h0M87.7 72.4h0M94.5 77.4h0M78.2 72.1h0M91 73.9h0M80.3 70.1h0M95.5 86.6h0M93.8 81.4h0M93.9 89.6h0M85.4 72.7h0M87.2 73.7h0M87.2 98.1h0M94.6 90.5h0M87 96.7h0M89.7 73h0M87.2 98.4h0M93.3 75.2h0M93.3 85.8h0M90.5 92.8h0M94.2 89.7h0M92.3 76.4h0M88.2 72.8h0M82.7 70h0M93 74.4h0M92.4 75.1h0M80.3 85.1h0M86.5 90.2h0M87.9 79.7h0M91.3 91.9h0M89.3 87.9h0M84.6 89h0M89.6 81.1h0M90.4 90.5h0M89.5 89.5h0M82.5 84.7h0M89.5 90.9h0M87.9 82.5h0M80.9 83h0M86.2 91h0M91.6 85.3h0M90.4 82.8h0M91.3 86.8h0M85.8 84.4h0M84.1 88.4h0M82 80.4h0M83.5 82.1h0M80.6 89.2h0M83.1 81.4h0M81.7 79.1h0M85 77.5h0M88.3 94.5h0M89.1 92.6h0M85.5 88.8h0M86.5 94.6h0M88.6 83h0M84 77.3h0M86.4 80.9h0M87.6 85.7h0M85.7 88.1h0M87.1 82.2h0M87.2 80.7h0M84.1 91.2h0M89.9 86.6h0M89.6 83.1h0M90.7 80.9h0M84.4 87.5h0M91 91.7h0M87 88h0M85.2 83.5h0M91.1 84.1h0M79.7 92.4h0M81.9 95.4h0M81.4 92.9h0M84 94.1h0M78.8 91.9h0M78.1 93.5h0M81.6 93.6h0M76.6 92.4h0M84.6 93.1h0M82.7 93.8h0M81.9 94.9h0M82.8 92.7h0M78 90.9h0M81.2 95.2h0M84.1 92.5h0M80.8 92.2h0M80.9 94.7h0M82.4 91h0M80.7 94.2h0M81 95h0M83.6 92.9h0M79.3 93.2h0M81.1 94.2h0M83.6 92.3h0M76.8 92.3h0M82.6 91.1h0M77.5 95.6h0M81.8 92.4h0M82.9 91.4h0M80.5 91.9h0M81.2 93.8h0M78.9 93.8h0M78.2 91.4h0M75.6 94.2h0M76.8 94.2h0M79.7 94.8h0M80 93.2h0M81.3 90.6h0M76.1 93.9h0M81.2 94.8h0" stroke="#f29aae" stroke-width="1.35" stroke-linecap="round" fill="none"/>
<path d="M83.6 94.2h0M75 93.6h0M74.7 92h0M76.3 93.3h0M84.2 93h0M77.5 96.1h0M80.2 95.8h0M84 97.1h0M85 94.8h0M75.1 92.6h0M80.4 93.8h0M74.8 92.3h0M83.6 94.9h0M77.2 94.3h0M78.3 92.1h0M76.8 92.1h0M86 95.2h0M77.2 90.5h0M78.3 89.6h0M77.3 89.7h0M81.7 92.1h0M73.7 91.9h0M86.4 96.1h0M75 94.7h0M82.2 91.3h0M77 92.5h0M80.8 93.6h0M80.5 97h0M83 95.8h0M73.1 91.3h0M78.2 96.2h0M79.5 95.7h0M79.2 90.3h0M75.6 90.7h0M84 93.8h0M80.4 93.9h0M86 94.4h0M79.3 96.5h0M73 92.4h0M77.3 90.3h0M92.3 84.8h0M88.5 93.2h0M88.5 93.2h0M91.8 92.2h0M89 92.6h0M88 82.9h0M92.4 87.1h0M90 86h0M93.2 88.5h0M92 90.7h0" stroke="#5a1212" stroke-width="1.4" stroke-linecap="round" fill="none"/>
<path d="M32.55 10.4V103.25H118" stroke="#000" stroke-width="1.25" fill="none"/>
<path d="M30.6 11.3H32" stroke="#333" stroke-width=".4"/>
<text x="30.30" y="12.60" font-size="3.60" fill="#444" text-anchor="end">50</text>
<path d="M30.6 35.2H32" stroke="#333" stroke-width=".4"/>
<text x="30.30" y="36.50" font-size="3.60" fill="#444" text-anchor="end">25</text>
<path d="M30.6 59.6H32" stroke="#333" stroke-width=".4"/>
<text x="30.30" y="60.90" font-size="3.60" fill="#444" text-anchor="end">0</text>
<path d="M30.6 83.8H32" stroke="#333" stroke-width=".4"/>
<text x="30.30" y="85.10" font-size="3.60" fill="#444" text-anchor="end">−25</text>
<path d="M53.3 103V104.4" stroke="#333" stroke-width=".4"/>
<text x="53.30" y="107.90" font-size="3.60" fill="#444" text-anchor="middle">−25</text>
<path d="M75.5 103V104.4" stroke="#333" stroke-width=".4"/>
<text x="75.50" y="107.90" font-size="3.60" fill="#444" text-anchor="middle">0</text>
<path d="M98.1 103V104.4" stroke="#333" stroke-width=".4"/>
<text x="98.10" y="107.90" font-size="3.60" fill="#444" text-anchor="middle">25</text>
<text x="79.60" y="114.08" font-size="6.90" fill="#222" text-anchor="middle">tSNE_1</text>
<text x="19.30" y="57.88" font-size="6.90" fill="#222" text-anchor="middle" transform="rotate(-90 19.30 55.40)">tSNE_2</text>
<text x="69.20" y="31.25" font-size="4.30" fill="#222" text-anchor="middle">B cell</text>
<text x="97.60" y="48.55" font-size="4.30" fill="#222" text-anchor="middle">T cell</text>
<text x="42.80" y="58.95" font-size="4.30" fill="#222" text-anchor="middle">CAF</text>
<text x="72.20" y="57.35" font-size="4.30" fill="#222" text-anchor="middle">TEC</text>
<text x="109.40" y="69.45" font-size="4.30" fill="#222" text-anchor="middle">TAM</text>
<text x="70.40" y="80.75" font-size="4.30" fill="#222" text-anchor="middle">Malignant cell</text>
<text x="75.50" y="95.15" font-size="4.30" fill="#222" text-anchor="middle">HPC−like</text>
<text x="120.60" y="35.80" font-size="6.95" fill="#111" font-weight="bold">Cell type</text>
<circle cx="123.3" cy="43.50" r="1.55" fill="#9b8fd4"/>
<text x="129.80" y="45.32" font-size="5.05" fill="#444">B cell</text>
<circle cx="123.3" cy="50.05" r="1.55" fill="#f4923c"/>
<text x="129.80" y="51.87" font-size="5.05" fill="#444">CAF</text>
<circle cx="123.3" cy="56.60" r="1.55" fill="#5a1212"/>
<text x="129.80" y="58.42" font-size="5.05" fill="#444">HPC−like</text>
<circle cx="123.3" cy="63.15" r="1.55" fill="#f29aae"/>
<text x="129.80" y="64.97" font-size="5.05" fill="#444">Malignant cell</text>
<circle cx="123.3" cy="69.70" r="1.55" fill="#86c440"/>
<text x="129.80" y="71.52" font-size="5.05" fill="#444">T cell</text>
<circle cx="123.3" cy="76.25" r="1.55" fill="#2aa9c0"/>
<text x="129.80" y="78.07" font-size="5.05" fill="#444">TAM</text>
<circle cx="123.3" cy="82.80" r="1.55" fill="#f5b10f"/>
<text x="129.80" y="84.62" font-size="5.05" fill="#444">TEC</text>
<text x="157.70" y="12.86" font-size="9.90" fill="#000" font-weight="bold">B</text>
<path d="M184.20 92.6v-10.0h0.80V92.6zM184.95 92.6v-12.2h0.80V92.6zM185.70 92.6v-10.9h0.80V92.6zM186.44 92.6v-13.8h0.80V92.6zM187.19 92.6v-13.2h0.80V92.6zM187.94 92.6v-11.4h0.80V92.6zM188.69 92.6v-14.4h0.80V92.6zM189.44 92.6v-16.3h0.80V92.6zM190.19 92.6v-15.5h0.80V92.6zM190.93 92.6v-18.8h0.80V92.6zM191.68 92.6v-18.2h0.80V92.6zM192.43 92.6v-17.5h0.80V92.6zM193.18 92.6v-20.2h0.80V92.6zM193.93 92.6v-19.8h0.80V92.6zM194.67 92.6v-24.7h0.80V92.6zM195.42 92.6v-19.6h0.80V92.6zM196.17 92.6v-27.9h0.80V92.6zM196.92 92.6v-23.1h0.80V92.6zM197.67 92.6v-23.1h0.80V92.6zM198.42 92.6v-30.2h0.80V92.6zM199.16 92.6v-26.3h0.80V92.6zM199.91 92.6v-32.5h0.80V92.6zM200.66 92.6v-30.6h0.80V92.6zM201.41 92.6v-34.6h0.80V92.6zM202.16 92.6v-28.5h0.80V92.6zM202.90 92.6v-21.7h0.80V92.6zM203.65 92.6v-23.5h0.80V92.6zM204.40 92.6v-28.8h0.80V92.6zM205.15 92.6v-29.9h0.80V92.6zM205.90 92.6v-26.1h0.80V92.6zM206.65 92.6v-29.1h0.80V92.6zM207.39 92.6v-25.5h0.80V92.6zM208.14 92.6v-28.3h0.80V92.6zM208.89 92.6v-25.5h0.80V92.6zM209.64 92.6v-29.1h0.80V92.6zM210.39 92.6v-26.8h0.80V92.6zM211.13 92.6v-33.1h0.80V92.6zM211.88 92.6v-21.5h0.80V92.6zM212.63 92.6v-28.6h0.80V92.6zM213.38 92.6v-24.4h0.80V92.6zM214.13 92.6v-29.5h0.80V92.6zM214.88 92.6v-30.6h0.80V92.6zM215.62 92.6v-19.0h0.80V92.6zM216.37 92.6v-28.3h0.80V92.6zM217.12 92.6v-28.6h0.80V92.6zM217.87 92.6v-26.4h0.80V92.6zM218.62 92.6v-26.8h0.80V92.6zM219.36 92.6v-25.1h0.80V92.6zM220.11 92.6v-22.0h0.80V92.6zM220.86 92.6v-31.5h0.80V92.6zM221.61 92.6v-33.6h0.80V92.6zM222.36 92.6v-30.3h0.80V92.6zM223.11 92.6v-25.5h0.80V92.6zM223.85 92.6v-26.6h0.80V92.6zM224.60 92.6v-23.3h0.80V92.6zM225.35 92.6v-28.5h0.80V92.6zM226.10 92.6v-22.8h0.80V92.6zM226.85 92.6v-21.5h0.80V92.6zM227.59 92.6v-28.6h0.80V92.6zM228.34 92.6v-25.8h0.80V92.6zM229.09 92.6v-24.7h0.80V92.6zM229.84 92.6v-22.3h0.80V92.6zM230.59 92.6v-24.0h0.80V92.6zM231.34 92.6v-24.9h0.80V92.6zM232.08 92.6v-22.6h0.80V92.6zM232.83 92.6v-22.5h0.80V92.6zM233.58 92.6v-15.8h0.80V92.6zM234.33 92.6v-21.2h0.80V92.6zM235.08 92.6v-23.7h0.80V92.6zM235.82 92.6v-22.7h0.80V92.6zM236.57 92.6v-17.3h0.80V92.6zM237.32 92.6v-17.7h0.80V92.6zM238.07 92.6v-15.4h0.80V92.6zM238.82 92.6v-13.5h0.80V92.6zM239.57 92.6v-17.6h0.80V92.6zM240.31 92.6v-16.1h0.80V92.6zM241.06 92.6v-16.5h0.80V92.6zM241.81 92.6v-17.4h0.80V92.6zM242.56 92.6v-14.3h0.80V92.6zM243.31 92.6v-11.3h0.80V92.6zM244.05 92.6v-17.7h0.80V92.6zM244.80 92.6v-16.6h0.80V92.6zM245.55 92.6v-12.3h0.80V92.6zM246.30 92.6v-11.7h0.80V92.6zM247.05 92.6v-15.2h0.80V92.6zM247.80 92.6v-15.3h0.80V92.6zM248.54 92.6v-13.0h0.80V92.6zM249.29 92.6v-8.9h0.80V92.6zM250.04 92.6v-12.6h0.80V92.6zM250.79 92.6v-10.7h0.80V92.6zM251.54 92.6v-10.0h0.80V92.6zM252.28 92.6v-12.1h0.80V92.6zM253.03 92.6v-9.0h0.80V92.6zM253.78 92.6v-12.3h0.80V92.6zM254.53 92.6v-12.2h0.80V92.6zM255.28 92.6v-12.0h0.80V92.6zM256.03 92.6v-8.5h0.80V92.6zM256.77 92.6v-11.4h0.80V92.6zM257.52 92.6v-6.3h0.80V92.6zM258.27 92.6v-7.9h0.80V92.6zM259.02 92.6v-10.4h0.80V92.6zM259.77 92.6v-8.2h0.80V92.6zM260.51 92.6v-7.0h0.80V92.6zM261.26 92.6v-6.4h0.80V92.6zM262.01 92.6v-9.3h0.80V92.6zM262.76 92.6v-9.3h0.80V92.6zM263.51 92.6v-6.4h0.80V92.6zM264.26 92.6v-7.4h0.80V92.6zM265.00 92.6v-7.4h0.80V92.6zM265.75 92.6v-7.0h0.80V92.6z" fill="#aec7e8"/>
<path d="M268.30 92.6v-2.1h.9V92.6zM269.15 92.6v-2.8h.9V92.6zM270.00 92.6v-2.4h.9V92.6zM270.85 92.6v-1.9h.9V92.6zM271.70 92.6v-1.7h.9V92.6zM272.55 92.6v-3.5h.9V92.6zM273.40 92.6v-3.9h.9V92.6zM274.25 92.6v-2.9h.9V92.6zM275.10 92.6v-3.0h.9V92.6zM275.95 92.6v-1.5h.9V92.6zM276.80 92.6v-2.6h.9V92.6zM277.65 92.6v-1.6h.9V92.6zM278.50 92.6v-2.2h.9V92.6zM279.35 92.6v-1.1h.9V92.6zM280.20 92.6v-1.1h.9V92.6zM281.05 92.6v-1.3h.9V92.6zM281.90 92.6v-0.9h.9V92.6zM282.75 92.6v-0.8h.9V92.6zM283.60 92.6v-1.3h.9V92.6zM284.45 92.6v-1.2h.9V92.6zM285.30 92.6v-1.3h.9V92.6zM286.15 92.6v-1.0h.9V92.6zM287.00 92.6v-0.6h.9V92.6zM287.85 92.6v-0.7h.9V92.6zM288.70 92.6v-0.7h.9V92.6zM289.55 92.6v-0.7h.9V92.6zM290.40 92.6v-0.8h.9V92.6zM291.25 92.6v-0.6h.9V92.6zM292.10 92.6v-0.7h.9V92.6zM292.95 92.6v-0.4h.9V92.6zM293.80 92.6v-0.4h.9V92.6zM294.65 92.6v-0.2h.9V92.6zM295.50 92.6v-0.3h.9V92.6zM296.35 92.6v-0.3h.9V92.6zM297.20 92.6v-0.2h.9V92.6zM298.05 92.6v-0.3h.9V92.6zM298.90 92.6v-0.2h.9V92.6zM299.75 92.6v-0.2h.9V92.6zM300.60 92.6v-0.3h.9V92.6zM301.45 92.6v-0.3h.9V92.6zM302.30 92.6v-0.1h.9V92.6zM303.15 92.6v-0.2h.9V92.6zM304.00 92.6v-0.2h.9V92.6zM304.85 92.6v-0.1h.9V92.6z" fill="#2e4f9e"/>
<path d="M192 22.8H255.2" stroke="#d6b6b6" stroke-width="1.3"/>
<path d="M235 22.8V93" stroke="#8a8a8a" stroke-width="1" stroke-dasharray="1 1.3"/>
<path d="M184.1 21.5V94.5" stroke="#7da0e0" stroke-width="1" stroke-dasharray="1 1"/>
<path d="M184.1 21.5V94.5" stroke="#e8607a" stroke-width="1" stroke-dasharray="1 3" stroke-dashoffset="1.5"/>
<path d="M184.1 68.6C184.9 67.1 186.9 63.8 189.2 59.6C191.4 55.3 195.3 47.3 197.6 43.1C200.0 39.0 201.2 37.4 203.3 34.6C205.4 31.9 208.3 28.6 210.4 26.7C212.5 24.9 214.2 23.9 216.0 23.6C217.9 23.3 220.1 23.9 221.7 24.7C223.4 25.5 224.3 26.5 225.9 28.4C227.6 30.3 229.3 32.7 231.6 36.1C234.0 39.5 237.3 44.3 240.1 48.8C242.9 53.3 245.8 58.5 248.6 62.9C251.4 67.4 254.7 72.4 257.1 75.7C259.4 79.0 260.9 80.7 262.7 82.8C264.6 84.8 266.0 86.4 268.4 87.9C270.8 89.3 273.6 90.5 276.9 91.3C280.2 92.1 286.3 92.4 288.2 92.7" stroke="#8c8c8c" stroke-width=".7" stroke-dasharray="2.2 1.6" fill="none"/>
<path d="M184.1 64.4C184.7 62.7 186.4 57.8 187.7 54.5C189.1 51.2 190.6 47.6 192.0 44.6C193.4 41.5 194.8 38.7 196.2 36.1C197.6 33.5 199.1 30.9 200.5 29.0C201.9 27.1 203.3 25.8 204.7 24.7C206.1 23.7 207.6 23.2 209.0 22.8C210.4 22.3 211.8 22.1 213.2 22.2C214.6 22.3 216.0 22.7 217.5 23.3C218.9 24.0 220.3 25.0 221.7 26.2C223.1 27.3 224.3 28.5 225.9 30.4C227.6 32.3 229.7 34.9 231.6 37.5C233.5 40.1 235.4 43.1 237.3 46.0C239.2 48.8 241.0 51.6 242.9 54.5C244.8 57.3 246.7 60.3 248.6 62.9C250.5 65.6 252.4 68.3 254.3 70.6C256.1 72.9 258.0 74.7 259.9 76.5C261.8 78.3 263.7 79.9 265.6 81.3C267.5 82.8 269.3 84.0 271.2 85.0C273.1 86.1 275.0 86.9 276.9 87.6C278.8 88.3 280.7 88.8 282.6 89.3C284.4 89.8 285.9 90.3 288.2 90.7C290.6 91.1 293.8 91.5 296.7 91.8C299.6 92.1 304.3 92.3 305.8 92.4" stroke="#2b57b8" stroke-width="1.15" fill="none"/>
<path d="M184.1 72.9C184.7 70.7 186.4 64.4 187.7 60.1C189.1 55.9 190.6 51.2 192.0 47.4C193.4 43.6 194.8 40.4 196.2 37.5C197.6 34.5 199.1 31.5 200.5 29.5C201.9 27.6 203.5 26.4 204.7 25.6C205.9 24.8 206.6 24.6 207.6 24.7C208.5 24.8 209.2 24.7 210.4 26.2C211.6 27.6 213.2 30.2 214.6 33.2C216.0 36.3 217.5 40.5 218.9 44.6C220.3 48.6 221.7 53.0 223.1 57.3C224.5 61.5 225.9 66.3 227.4 70.0C228.8 73.8 230.2 77.2 231.6 79.9C233.0 82.6 234.4 84.5 235.9 86.2C237.3 87.8 238.4 88.8 240.1 89.8C241.8 90.8 243.4 91.6 245.8 92.1C248.1 92.6 251.0 92.8 254.3 93.0C257.6 93.1 263.7 93.0 265.6 93.0" stroke="#e8202a" stroke-width="1.15" stroke-dasharray="2.4 1.6" fill="none"/>
<path d="M271.2 17.1C271.7 19.1 273.1 25.1 274.1 29.0C275.0 32.9 275.7 35.6 276.9 40.3C278.1 45.0 279.7 52.3 281.1 57.3C282.6 62.2 283.7 66.0 285.4 70.0C287.0 74.0 289.2 78.5 291.0 81.3C292.9 84.2 294.4 85.5 296.7 87.0C299.0 88.5 303.3 89.6 304.6 90.1" stroke="#c8409a" stroke-width=".85" stroke-dasharray="2 1.4" fill="none"/>
<path d="M267 19.7V94.6" stroke="#e8111d" stroke-width="3.3" stroke-linecap="round"/>
<text x="272.60" y="33.97" font-size="4.35" fill="#b3272d">AUC &gt; 0.12</text>
<text x="272.60" y="39.44" font-size="3.99" fill="#b3272d">(164 cells)</text>
<path d="M179 28.4V92.1" stroke="#222" stroke-width=".7"/>
<path d="M176.6 92.1H179" stroke="#222" stroke-width=".6"/>
<text x="171.60" y="93.79" font-size="4.70" fill="#111" text-anchor="middle" transform="rotate(-90 171.60 92.10)">0</text>
<path d="M176.6 75.9H179" stroke="#222" stroke-width=".6"/>
<text x="171.60" y="77.59" font-size="4.70" fill="#111" text-anchor="middle" transform="rotate(-90 171.60 75.90)">50</text>
<path d="M176.6 60.1H179" stroke="#222" stroke-width=".6"/>
<text x="171.60" y="61.79" font-size="4.70" fill="#111" text-anchor="middle" transform="rotate(-90 171.60 60.10)">100</text>
<path d="M176.6 44.2H179" stroke="#222" stroke-width=".6"/>
<text x="171.60" y="45.89" font-size="4.70" fill="#111" text-anchor="middle" transform="rotate(-90 171.60 44.20)">150</text>
<path d="M176.6 28.4H179" stroke="#222" stroke-width=".6"/>
<text x="171.60" y="30.09" font-size="4.70" fill="#111" text-anchor="middle" transform="rotate(-90 171.60 28.40)">200</text>
<path d="M184.1 96.3H284.6" stroke="#222" stroke-width=".7"/>
<path d="M184.1 96.3V98.8" stroke="#222" stroke-width=".6"/>
<text x="184.10" y="106.89" font-size="4.70" fill="#111" text-anchor="middle">0.00</text>
<path d="M217.6 96.3V98.8" stroke="#222" stroke-width=".6"/>
<text x="217.60" y="106.89" font-size="4.70" fill="#111" text-anchor="middle">0.05</text>
<path d="M251.1 96.3V98.8" stroke="#222" stroke-width=".6"/>
<text x="251.10" y="106.89" font-size="4.70" fill="#111" text-anchor="middle">0.10</text>
<path d="M284.6 96.3V98.8" stroke="#222" stroke-width=".6"/>
<text x="284.60" y="106.89" font-size="4.70" fill="#111" text-anchor="middle">0.15</text>
<text x="308.70" y="14.20" font-size="10.00" fill="#000" font-weight="bold">C</text>
<g fill="none" stroke="#cfcfcf" stroke-width=".45" stroke-dasharray=".6 .9">
<path d="M359.0 46.5L361.9 33.2L371.7 25.6L385.5 19.9L393.3 11.3L399.2 13.2L399.2 21.8L389.4 29.4L375.7 35.1L367.8 40.8L365.8 48.4L360.0 49.3L359.0 46.5"/>
<path d="M400.2 20.8L408.1 22.7L415.0 32.2L415.0 45.5L410.0 56.0L402.2 65.5L395.3 65.5L395.3 59.8L402.2 52.2L406.1 42.7L405.1 32.2L399.2 25.6L400.2 20.8"/>
<path d="M369.8 56.0L372.7 45.5L381.6 38.9L391.4 37.9L398.3 43.6L398.3 52.2L393.3 59.8L385.5 64.5L378.6 65.5L376.7 71.2L371.7 71.2L369.8 63.6L369.8 56.0"/>
<path d="M410.0 53.1L418.9 51.2L425.8 57.9L424.8 67.4L418.9 76.9L412.0 79.7L409.1 75.0L415.0 67.4L416.9 60.7L411.0 57.9L410.0 53.1"/>
<path d="M346.2 38.9L353.1 37.0L354.1 44.6L353.1 50.3L361.9 49.3L362.9 55.0L355.0 57.9L357.0 61.7L363.9 65.5L363.9 71.2L355.0 70.2L347.2 63.6L343.3 52.2L344.2 43.6L346.2 38.9"/>
<path d="M356.0 80.7L363.9 75.0L377.6 77.8L385.5 67.4L397.3 65.5L407.1 73.1L408.1 84.5L403.2 94.0L393.3 98.7L381.6 95.9L367.8 92.1L358.0 86.4L356.0 80.7"/>
</g>
<path d="M368 33h0M380.4 25.4h0M391.8 20h0M371.2 31.6h0M380.3 26h0M370.8 30.2h0M365.6 36.8h0M362.2 44.4h0M393.3 19.2h0M391.4 20h0M379.2 30.5h0M368.3 36.4h0M369.7 30.2h0M369.1 29.8h0M364.8 41h0M363.8 44.8h0M367.5 36.2h0M378.8 25.9h0M362.5 40.3h0M375.9 27h0M385.8 22.8h0M363.8 35.5h0M370.8 30.6h0M368.4 31.3h0M393.8 16.6h0M369.1 31.3h0M372.5 32.9h0M363.5 36h0M365.1 44.6h0M391.2 22.8h0M377.6 30.3h0M362.9 37.1h0M394.1 20.7h0M375 29.3h0M392.1 23.1h0M366 35.6h0M393.7 20.1h0M392.5 22.3h0M385.4 23.8h0M392.6 15.2h0M367.4 30.4h0M393.8 16.2h0M368.2 30.5h0M375.9 28h0M381 30.2h0M366.7 36.9h0M374.6 29.3h0M394.5 17.5h0M365.5 39.2h0M383.6 22.8h0M388.3 20h0M365.3 38.8h0M376 32.1h0M374.6 27.8h0M383.8 24.5h0M390.9 17.8h0M382.7 25.3h0M380.4 30.1h0M385.5 24.6h0M392.1 20.9h0M390.5 22.8h0M388.1 25.1h0M391.7 17.3h0M391.1 23.2h0M368.9 32.7h0M385.9 21.3h0M389.5 23.2h0M368.2 32.9h0M385.6 25.6h0M390.6 21.4h0M372.5 28.7h0M363.4 44.3h0M382.8 26.9h0M393.2 21.9h0M386.3 24.1h0M372.8 28.2h0M390.4 24.1h0M378.5 29.6h0M367.1 39.3h0M372 30.3h0M364.7 39h0M363.1 37.3h0M382.3 27.1h0M364.6 39.6h0M390.2 23.3h0M367.7 34.4h0M362.5 39.9h0M393.2 15.7h0M392.3 22h0M392.3 17.5h0M379.1 28.7h0M375.7 27.2h0M385.9 22.1h0M380.3 25.4h0M361.5 39.7h0M362.4 37.9h0M387.1 26.5h0M368.1 31.3h0M380.9 24.6h0M367.6 34.7h0M377.4 25.7h0M387.6 20.2h0M393.8 20.1h0M366.1 42.6h0M362.3 37.4h0M387.6 23.7h0M387.8 21.4h0M379.4 25.5h0M360.8 39.9h0M363.9 36.4h0M376.9 30.2h0M362.1 42.5h0M366.7 39.1h0M388.3 23.5h0M382.3 26h0M387 21.2h0M383.8 25h0M373.7 32.6h0M382.4 28.5h0M366.1 35.5h0M388.5 22.4h0M371.1 28.2h0M375.8 29.2h0M394.1 20.2h0M390.8 22.7h0M373.4 30.5h0M385.3 28.2h0M363.7 37.6h0M371.3 31.8h0M378.9 28h0M370.6 29.4h0M392.2 16.6h0M381.2 22.9h0M394.5 16.9h0M390.5 21.4h0M367 31.5h0M369.6 34.8h0M373.5 28.2h0M377.4 26.8h0M361.7 44.1h0M382.9 24.5h0M379.6 24.9h0M395.1 19.5h0M393.2 21.5h0M388.7 24.3h0M375.2 32.2h0M385.2 25.2h0M386 27.2h0M381.2 24.6h0M383.9 24h0M373.2 31.4h0M371.5 33.7h0M384.1 24.8h0M383.6 24.8h0M378.3 25.5h0M371.6 30h0M364.7 42.2h0M365 35.2h0M366.8 34.6h0M381.6 25.3h0M362.7 38.5h0M391.4 22.4h0M364.5 34.3h0M369.4 34.8h0M388.6 19.2h0M387.1 21.4h0M381.6 25.5h0M363.6 43.6h0M391.5 21.3h0M393.1 17.5h0M367.4 31.9h0M362.6 42.5h0M370.4 33.6h0M389.9 19.4h0M383.8 23.9h0M384 25.3h0M371.6 32.4h0M394.8 17.3h0M394.4 16.4h0M370.6 30.8h0M365.4 36.5h0M390.6 22.9h0M370.9 28.5h0M367.8 33.6h0M368.5 32.7h0M365.8 36.3h0M361.9 40.1h0M363.6 42.4h0M367.9 32.9h0M382.1 26.6h0M392 18h0M365 34.2h0M392.8 17.4h0M392.3 19.4h0M377.2 28.2h0M363 37.7h0M361.2 43.9h0M365.3 42.1h0M392.7 17.2h0M388.3 21h0M392.6 16.7h0M362.1 37.6h0M364.5 43.8h0M386.8 27.2h0M391.3 21.8h0M365.8 35.7h0M391.5 19.4h0M394.8 19.2h0M387 22.8h0M369.7 34.2h0M366.3 31.7h0M377.2 31.1h0M374.2 30.6h0M379.7 25h0M365.8 35.5h0M386.4 26.6h0M364.4 43.6h0M373.7 29.9h0M380.3 25.3h0M364 40.1h0M367.7 35.9h0M392.2 17.1h0M367.6 31.3h0M371.8 32.9h0M365.4 33.2h0M361 42.7h0M387 21.7h0M391.1 22.7h0M394.8 19.3h0M364.5 39h0M383.3 25.5h0M375.3 27.8h0M391.6 19.8h0M362.4 37.3h0M363 42.7h0M393 17.2h0M369.8 34.6h0M378.5 27.2h0M396.2 17.7h0M371.4 33.4h0M375.7 28h0M375.2 31.7h0M377.1 28.9h0M385.1 26.5h0M392.1 21.3h0M365 37.9h0M366.5 42.3h0M379.9 26.3h0M377.1 26.8h0M368.7 36.4h0M386.2 26.2h0M367.4 32h0M380.9 25.2h0M378.6 28.9h0M366.8 34.2h0M372.6 30.8h0M372.9 29.5h0M364 39.9h0M396 17.6h0M364.2 39.4h0M379.8 25.8h0M373.1 27.5h0M392.8 19.4h0M364.7 43h0M374.5 32h0M365.9 39.7h0M389.5 22.2h0M368.8 31.1h0M386.1 21.3h0M393 17h0M390 17.9h0M389.9 19.9h0M361.4 40.9h0M377.2 28.3h0M362.5 38h0M368.6 31.3h0M384.4 23h0M392 21.6h0M395.7 19.1h0M375.8 27.1h0M381.1 25.6h0M371.7 28.3h0M363.6 35.4h0M380 28.6h0M367.2 33.9h0M375.9 26.1h0M365.9 41h0M392.8 15.1h0M366.4 34.4h0M388.1 22.6h0M385.3 27h0M366 44.4h0M362.6 44.7h0M391.8 17.1h0M373.8 28.7h0M367.5 33.3h0M391.8 16.7h0M386.2 26.1h0M388.5 24.2h0M391.4 21.2h0M361.8 41.2h0M363.6 41.1h0M378 29.9h0M390.4 19.8h0M367.5 35.7h0M392.9 17h0M394.2 15.8h0M389 21.8h0M394.9 19.5h0M367.3 36.7h0M372.5 30.8h0M390 23.5h0M386.5 25.4h0M390.5 23.4h0M374.2 30.8h0M370.9 31.9h0M364.3 36.6h0M369.5 32.7h0M367.3 32.2h0M391.3 18.8h0M372.9 32.3h0M378.9 28.6h0M363.9 34.2h0M377.7 27.9h0M361.5 40.9h0M369.6 31.4h0M362.9 37.6h0M383.4 23.8h0M370.3 33.2h0M365.2 36.6h0M396.1 17.7h0M365.7 37.1h0M364.6 38.5h0M383 26.4h0M381.9 29.2h0M364 43.1h0M361.6 40.7h0M364 39.3h0M371.7 31.8h0M376.9 29h0M371.9 30.1h0M377 26.5h0M367.9 31.2h0M366.3 31.5h0M385.7 24.9h0M380.7 27h0M395.1 18.3h0M383.8 23.7h0M368.4 33.4h0M364.1 42.7h0M364.7 44.4h0M382.9 24.6h0M367.5 34.4h0M364.2 35h0M380.3 27.1h0M363.3 38.4h0M391.2 20.2h0M368.5 31h0M374.8 29h0M389.7 24.3h0M376 28.4h0M383 26.8h0M373.9 28.6h0M388.1 22.6h0M369.2 33h0M389.5 22.9h0M368.9 30.2h0M365.4 38.8h0M373.8 30h0M380.8 25.3h0M389.8 21.7h0M374.5 29.9h0M388.8 21.5h0M379.8 25.5h0M365.1 32.5h0M388.5 23.9h0M376.8 30.4h0M384.9 25.4h0M361.9 43h0M363.7 38.6h0M387.2 20.9h0M369 33.4h0M394.3 16.4h0M391.1 17.7h0M376.4 28.1h0M391.9 22h0M378.4 28.8h0M365.9 32.9h0M388.4 25.7h0M371.3 33.1h0M384.8 27.1h0M389.6 19.7h0M362.3 44.2h0M365.2 40.2h0M373.7 27.5h0M393.6 15.5h0M408.7 51.9h0M408.8 49.2h0M401.9 54.9h0M411.9 38.5h0M407.7 29.7h0M406.2 49.4h0M408.8 42.5h0M410.1 50.5h0M405.5 29.3h0M408.8 41.3h0M409.5 32h0M408.3 28.4h0M404.2 28.1h0M409.4 27.5h0M407.8 45.5h0M399 59.5h0M409.3 29.6h0M409.6 37.2h0M412.4 33.8h0M399.3 60.2h0M408.3 45.3h0M402.1 25.8h0M398.6 59.8h0M407.6 27.9h0M406.6 26.2h0M407 49.2h0M405.6 31.7h0M407.4 32.9h0M407.4 32.7h0M404.3 59.4h0M411.1 45.2h0M403.2 53.2h0M403 25.4h0M402.4 25.7h0M410 42.8h0M404.8 24.5h0M403.4 27.7h0M405.6 50.6h0M407.1 31.6h0M405.8 53.9h0M408.6 49.4h0M410.3 48.3h0M397.8 61.5h0M403.8 55.3h0M406.5 50.4h0M406.2 52.9h0M410.9 32.5h0M410.1 35h0M404.3 53.6h0M410.3 35.9h0M412.9 37.3h0M405 29.2h0M405.8 53.5h0M410.9 46.1h0M402.9 54.1h0M408.4 38.6h0M410.1 49.8h0M408.6 46.7h0M409.9 47.1h0M409.6 36h0M404.9 24.3h0M411 30.8h0M411 31.4h0M403.9 25.6h0M407.5 49.1h0M409.3 41h0M412 41.1h0M411.8 35.3h0M405.4 58h0M398.8 59.7h0M406.9 31.4h0M408.8 48.9h0M404.8 55.6h0M409.9 48.5h0M410.4 36.2h0M406.9 49.8h0M408 30h0M412.2 40.9h0M406.3 51.9h0M402 61.5h0M412.1 37h0M409.6 46.4h0M403.6 56.1h0M410.3 36.2h0M402.3 59.2h0M408.3 30.3h0M408.3 26.8h0M408.2 49.7h0M405.3 51.3h0M408.8 41.3h0M404 53.4h0M406.8 31.3h0M407.1 46.5h0M407.8 40h0M399.7 63.6h0M411.5 39.5h0M405.6 26.6h0M405.7 29.3h0M406 49.9h0M413.5 39.5h0M408.1 30.5h0M406.3 51h0M410.1 44.3h0M402.2 55.6h0M399.3 62.6h0M401.6 25.3h0M401.2 56.5h0M399.8 59.2h0M406.6 26.2h0M406.2 25h0M408.9 40.6h0M410 43.3h0M406.9 31h0M405.1 52.5h0M408.1 44.2h0M404.6 51.2h0M410.7 32.3h0M405 52.9h0M408.6 48.8h0M410 44.3h0M398.2 61.8h0M410.8 41.8h0M404.3 27.3h0M409 36.9h0M409.2 46.3h0M411 45.1h0M405.7 24.4h0M400 61.3h0M409.7 37.6h0M400 60.8h0M405.7 54.8h0M407.6 49.1h0M408.6 31.7h0M407.8 33.1h0M402.9 54.2h0M402 61.5h0M402.8 55.9h0M403.2 26.7h0M410.5 42.3h0M405.5 50.8h0M408.5 52.6h0M408.6 44h0M411.3 32.6h0M400.8 61.4h0M401.8 53.4h0M408 31.6h0M408.4 52.9h0M410.1 49.6h0M408 33.6h0M410.3 30.7h0M409.5 44.5h0M410.5 33.9h0M408.6 43.9h0M407.3 27.4h0M400.4 58.1h0M408.3 54.2h0M411.2 48.4h0M404.9 23.2h0M411.9 35.9h0M402.9 61.1h0M412.6 41.8h0M407.5 49.5h0M411.5 46h0M408.9 28.8h0M402.4 59.8h0M409.7 42.4h0M406.9 49.7h0M405.7 50.1h0M406.1 29.6h0M407.6 53.2h0M405.8 55.5h0M411.9 45.7h0M411.3 38.7h0M407.8 51.9h0M408.3 32.2h0M410.9 36.8h0M409.7 41.9h0M411.5 36.6h0M399.3 62.3h0M411.8 41.4h0M407.7 33.6h0M406.5 54h0M404.5 25.9h0M409.6 31.3h0M410.5 41.9h0M409.4 52.7h0M408.5 31.6h0M408 31h0M404.3 26.2h0M400.5 57.3h0M405.9 53.6h0M402.3 55.8h0M410.1 44.4h0M412.2 37.7h0M408.7 32.3h0M407.1 54.6h0M408.2 31h0M400.8 61.7h0M411.4 47.7h0M404.9 57.6h0M410.4 45.2h0M411.3 42.2h0M404.1 52.7h0M403.8 56.3h0M410.8 38.7h0M403.1 54.5h0M409.2 34.8h0M409.1 30.2h0M411.7 39.8h0M402.1 25.9h0M407.4 46h0M405.5 29.8h0M402.9 59.2h0M406.6 52.2h0M411.9 41h0M410.2 40.1h0M401.1 58.7h0M405.7 29.3h0M410.3 31h0M402.7 52.3h0M398.6 58.7h0M408.5 28.6h0M407.5 42.6h0M406 49.7h0M409.3 52.5h0M408.1 50.8h0M399.9 63.2h0M404.8 23.9h0M402.8 55.9h0M407.1 26.8h0M410.2 31.7h0M407.2 28.2h0M406.7 53.5h0M405.8 54.9h0M406.7 30.5h0M410 43.1h0M406.8 55.2h0M406.6 51.2h0M400.3 63.3h0M408.5 31.3h0M404 56h0M402.9 57.3h0M411 41.3h0M410.2 44.5h0M402.2 27.1h0M412.2 35.6h0M409.8 36.3h0M404.1 53.7h0M405.3 57.4h0M410.8 42.4h0M403.7 58h0M401.3 26h0M405.9 53.9h0M408.5 38.1h0M404.5 52.4h0M407.8 34.1h0M408.7 45.8h0M401.7 61.7h0M399.1 59h0M412.9 42.3h0M410 39.9h0M410.7 36.5h0M403.8 55.1h0M403.5 29.1h0M403.1 52.9h0M410.8 46.3h0M401.2 55.4h0M403.6 57.4h0M409.9 30.2h0M408.7 31.3h0M408.1 53.2h0M407.1 54.3h0M406.8 31.6h0M407.2 27.7h0M400.9 60.1h0M408 47.1h0M406.8 54.4h0M398.8 62.2h0M403.7 54.8h0M405.3 53.1h0M409.9 34.7h0M410.2 34.4h0M408.7 32h0M400 57.9h0M407.8 31h0M408.3 27.8h0M404.5 24.4h0M409.4 47.3h0M407 53.9h0M402.7 55.2h0M407.8 49.3h0M408.3 37.4h0M408.2 33.6h0M413 40.5h0M401.4 57.7h0M408.9 29.5h0M410.4 45.3h0M408.9 40.1h0M406.8 33.4h0M408.2 32.9h0M407.8 25.9h0M408.8 45.8h0M409.7 38.3h0M409.1 35.1h0M407.2 47.8h0M400 59.5h0M411.2 40.2h0M409.4 30.8h0M401.1 62.1h0M408.3 53.4h0M407.7 37.7h0M403.6 54.4h0M408.1 37.4h0M400.2 56.9h0M412.5 46.1h0M410.9 37.4h0M404.9 26.5h0M404 54.3h0M410.9 41.1h0M399.6 58.9h0M407.7 50.8h0M405.7 24.6h0M410.7 31.8h0M403.3 56.2h0M403.2 24.2h0M405.1 30.4h0M411.2 38.1h0M401.4 61.9h0M408.1 45.4h0M407.8 26.8h0M409.1 50.2h0M401.9 25.4h0M410.2 41h0M408.5 38.1h0M403 60.1h0M409.6 30.3h0M407.6 52.8h0M407.6 35h0M408.9 49.1h0M411.6 34.9h0M413.3 44.1h0M409.2 34.6h0M407.9 29.9h0M408.6 42.5h0M408.7 32h0M407.7 43.9h0M405.9 31.1h0M412.4 40.7h0M407.7 31.5h0M409.4 32.2h0M403.6 28h0M403.8 23.7h0M405.8 26.6h0M408.1 39.2h0M403.5 24.7h0M409.1 48.5h0M401.1 57h0M409.5 51.5h0M404.2 51.9h0M405.9 26.5h0M407.3 43.9h0M409.3 47.6h0M407.9 42.9h0M405.3 51.3h0M413.2 38.4h0M409.1 33.7h0M401 61.3h0M408.5 33.9h0M408.6 36.9h0M409.3 47.7h0M408.2 27.9h0M411.9 35.7h0M407.1 28.5h0M405.1 51.1h0M406.3 30.5h0M405.1 50.2h0M401.7 57.8h0M407.5 32.2h0M411.1 42.7h0M403 25.6h0M403 26.8h0M412.4 43.9h0M408.6 40.9h0M405 24.1h0M409.7 43.5h0M401.7 57.8h0M409.9 36.8h0M349.7 52.5h0M352.1 65.5h0M349.2 58.2h0M348 55.8h0M351 57.2h0M356.3 64.8h0M350.6 57h0M345.5 47.9h0M345.4 52.3h0M347.5 52.4h0M347.2 52.5h0M360.1 66.3h0M347.6 53.1h0M354.8 64.7h0M356.8 67.4h0M359.8 68.9h0M351.1 60h0M351.1 63.1h0M348 55.6h0M352.6 65.9h0M347.2 49.1h0M347.8 51.8h0M350.6 43.1h0M351.1 61.6h0M356.3 65.5h0M360.7 67.4h0M353.1 63.6h0M348.2 58.4h0M350.4 46.3h0M349.9 55.7h0M354.1 67.3h0M351.8 60.2h0M346.4 46.4h0M349.6 55.7h0M349.6 47.4h0M348.2 44.4h0M349.8 49.1h0M354.3 64.5h0M355.3 63.9h0M353 63.7h0M349.3 58.6h0M348 57.4h0M354.1 65.6h0M350.6 52.8h0M348.2 55.5h0M356.7 64.9h0M346.3 54.8h0M349.3 46.5h0M348.5 43.3h0M349.9 50.7h0M351.2 62.7h0M346.8 52.2h0M349.3 49.4h0M358.2 68.2h0M349.4 51.3h0M347.9 56.6h0M352.2 61.7h0M350.9 63.7h0M347.1 49h0M349.1 59.2h0M355.7 68.2h0M348.2 60.2h0M353.2 62.9h0M348.3 56.7h0M358.3 64.7h0M350.3 42h0M357.2 67.2h0M347.4 55.2h0M358.7 65.1h0M350.4 46.6h0M347.1 57.9h0M349.9 64.2h0M349.7 50h0M349.4 57.1h0M349.7 47.5h0M345.7 47h0M351.2 59.7h0M346.1 55h0M349.7 52h0M349.1 56.5h0M351.1 44.4h0M349 52.7h0M346.5 48.4h0M357.2 67.4h0M351.7 44.4h0M346.1 54.9h0M352.4 60.9h0M348 49.6h0M346.9 49.8h0M356.9 66.2h0M350 47.9h0M348.3 50h0M350.3 53.8h0M354.2 66.6h0M350.4 54.2h0M347.6 57.4h0M352.4 59.7h0M346.4 55.3h0M355.7 64.2h0M352.1 65h0M346.5 46.9h0M349.6 46.5h0M347.4 53h0M350.5 48.8h0M346.7 45.8h0M350.4 61.3h0M347.9 51.1h0M347.5 46.1h0M356.5 63.4h0M349.9 64.3h0M348.3 40.4h0M354.6 66.7h0M354.5 65.1h0M346.6 55.5h0M350.3 55.2h0M352.9 62.4h0M350 62.7h0M355.8 65.2h0M352.5 66.3h0M358.4 68.3h0M351.3 58.9h0M354.5 64.7h0M345.4 52.6h0M356.1 64.8h0M351.8 59.7h0M346 49.2h0M353.2 60.2h0M359.2 65.3h0M348 51.3h0M348.8 51.5h0M352.3 62h0M346.9 50.3h0M345.9 53.5h0M352.6 61h0M349.2 51.7h0M350 57.5h0M348.5 43.4h0M356.4 66.1h0M349.6 52.3h0M346.4 56.9h0M353 62.9h0M349.8 54.5h0M349.9 46.1h0M349.4 62.4h0M349.8 47.5h0M350.7 43.4h0M356.1 65.4h0M346.4 54.4h0M360.2 67.2h0M356.6 68.3h0M346.6 56h0M355.4 63h0M349.3 59.8h0M351.8 44.1h0M346.6 53.4h0M348.9 54.6h0M349.6 41.5h0M346.7 50.4h0M355.3 65.5h0M347.1 56.9h0M350.7 43.9h0M360.7 66.8h0M346.8 49h0M347.9 52.8h0M345.5 52.7h0M357 65.9h0M353.6 64.7h0M348.9 59.8h0M346.6 47.9h0M350.7 45.1h0M350.9 64.1h0M345.8 53h0M351.5 63h0M352.6 60.5h0M354.6 63.3h0M349.7 58.6h0M352.9 66.5h0M348.2 50.1h0M349 58.2h0M349.1 40.8h0M349.1 46.7h0M353.7 64.6h0M350.2 54.8h0M347 59h0M349.2 48.6h0M350.9 59h0M354.4 63.9h0M346.7 49.3h0M361 66.5h0M347.8 52.1h0M347.8 48.4h0M352.7 61.2h0M345.2 50.5h0M348.5 54.2h0M358.7 66.4h0M360.4 69.1h0M348.3 48.7h0M349.7 61h0M360.8 66.7h0M346.9 54.3h0M355.2 63.6h0M355.2 64.6h0M349 45.7h0M359.8 67.5h0M360.1 67.6h0M344.7 51h0M358.4 64.7h0M352.6 65.7h0M349.8 52.6h0M357.9 66.9h0M346.7 53.1h0M357.3 66.7h0M346.9 57.8h0M348.8 61.9h0M347.3 48.7h0M348.4 40.1h0M358.7 69.9h0M349.1 62.9h0M349.8 60.1h0M347.8 54.3h0M356 67.6h0M348.9 45.8h0M347.3 61.1h0M353.7 67.3h0M349 44.4h0M348.4 43.9h0M357.8 70.1h0M350.6 61.1h0M351.1 57.5h0M351.3 65.6h0M352.6 60.7h0M350.1 58h0M348.9 46.3h0M351.2 42.5h0M349.7 41.2h0M357 63.8h0M354.1 64.2h0M348.9 41.1h0M347.2 55.5h0M348.2 59h0M348.7 62.3h0M348.1 49.2h0M348.2 46.6h0M357.1 64.8h0M351.6 63.4h0M348.6 49.8h0M352.1 60.3h0M351.8 62.4h0M348 41.5h0M349.7 43h0M351.7 58.9h0M351.1 41.3h0M347.3 44.9h0M349 52.1h0M345.9 52.9h0M354.1 63.9h0M350.7 41.1h0M360.8 66.5h0M354 62.4h0M353.4 65.5h0M358 67.6h0M349.5 56.8h0M348 58.8h0M353.4 65.9h0M350.4 54.4h0M346.8 52.5h0M348.2 61.3h0M346.7 46.8h0M348.7 54.7h0M356.5 66.4h0M355.4 62.8h0M350.6 56.4h0M360.1 67.9h0M350 45.2h0M350.2 64.4h0M357.1 67.7h0M348.9 42.2h0M359.1 67.3h0M351.7 63.8h0M352.8 66.8h0M355.7 63.1h0M349.9 41.6h0M358.3 68.4h0M351.7 62.8h0M349.2 45.9h0M346.6 48.7h0M353.7 63.9h0M349 61.4h0M359 51.5h0M358.4 52h0M353.2 52.8h0M349 51.5h0M349.5 51.8h0M358.2 51.3h0M354.6 50.8h0M354.1 52h0M352.4 53.2h0M355.1 51h0M356.5 52.2h0M354.8 52.2h0M352 52.9h0M351.5 54.4h0M358.6 52.5h0M353 52.9h0M349.7 54.4h0M351.2 54.2h0M358.9 51.9h0M358.8 50.3h0M355.3 54.3h0M351.9 54.5h0M350.4 53.2h0M351.8 51.6h0M357.5 50.8h0M350.3 51.1h0M349.4 54.4h0M350.4 54.4h0M350.1 53.5h0M356.8 54h0M351.4 52.2h0M357.8 53.8h0M349.9 54.7h0M357.3 53.4h0M355.4 52.9h0M355.6 51h0M350.7 53.2h0M355.6 53.7h0M357.8 51.2h0M353.1 51.9h0M353.1 53.7h0M354 54.7h0M354.7 54.4h0M356.9 51.9h0M355 53.1h0M354.9 51.8h0M353.3 54.9h0M351.5 52.4h0M357.4 53.7h0M351.5 54.7h0M358.6 50.7h0M349.2 54.9h0M349.3 53.8h0M351 52h0M353.5 51.5h0M349.7 51.9h0M352.1 51.2h0M356.9 53.1h0M353.6 52.4h0M352 52.8h0M351.2 51.6h0M351.8 52.8h0M358.6 51.6h0M358.5 51.4h0M351.9 52.9h0M352.7 54.8h0M354.9 51h0M354.7 51.9h0M352.6 51.6h0M357.2 50.3h0M349.5 53h0M352.3 53.6h0M379 42.9h0M385.4 59.3h0M389.4 42.9h0M377.4 58.1h0M394 54.6h0M384.2 58.1h0M384.4 59.7h0M393.5 43.1h0M388.6 56.8h0M391.1 45.2h0M389.7 42h0M393.7 48.6h0M392.2 49.1h0M375.3 55h0M393.3 54.5h0M376.4 58.1h0M390.3 41.8h0M390.9 43.1h0M374.1 55.7h0M392.3 49.1h0M374 51.7h0M388.2 59.8h0M374.3 57.6h0M385.8 58.4h0M382.3 61.2h0M393.6 48.8h0M380.5 59.7h0M386.5 44.6h0M395.7 49.5h0M380 60.5h0M393.7 54.5h0M380 45.8h0M377.2 58.4h0M386.1 58h0M388.7 55.9h0M377 59.7h0M391.8 53.8h0M392.4 42.7h0M385.7 61.3h0M376.5 57.1h0M392.8 49.1h0M378 47.6h0M374 52.6h0M393.9 42.3h0M380.4 60.8h0M373.7 51.5h0M377 48.4h0M391.5 52.3h0M385 40.7h0M391.5 47.3h0M375.7 50.4h0M385.2 44h0M377.5 56.3h0M387.8 42.5h0M384.3 60.1h0M387.9 56.8h0M383.3 59.2h0M378.8 48.1h0M375.2 58.7h0M387.4 42.6h0M376.4 55.1h0M376.2 60.5h0M381.9 44.8h0M374.5 54.7h0M391.1 44.4h0M375 58.9h0M379.7 59.7h0M385.3 40.5h0M389.2 57.6h0M378.8 59.1h0M377.5 53.5h0M391.1 41.1h0M390.6 43.8h0M375.9 60.1h0M387.2 42.2h0M381.2 47.1h0M389 43.9h0M389.9 59.8h0M373.7 52.8h0M377.6 59.7h0M389 59.7h0M386.4 57.7h0M374.9 48.8h0M374.4 52.2h0M380.9 60.1h0M383.9 44.4h0M377 50.8h0M377.7 59.9h0M376.4 56.8h0M389.6 41.4h0M377.6 48h0M376.3 55h0M373.8 52.2h0M389.5 42.4h0M392.6 53.3h0M374.4 51.5h0M391.1 43.9h0M386 58.1h0M380 58.8h0M373.3 52.1h0M388.1 60.6h0M382.3 62.1h0M379.3 48h0M393.3 49.4h0M377.4 59.3h0M380.5 59.4h0M386.1 57.8h0M381 59.8h0M395 44.8h0M375.8 49.3h0M377.2 47.2h0M393 55h0M396 49.4h0M389.5 59.4h0M394.5 53.7h0M376.7 51.1h0M393 43.6h0M382.2 61.9h0M376 53.9h0M389.2 59.3h0M383.9 58.6h0M373 51.5h0M396.5 48.1h0M379.9 48.5h0M393.2 45.1h0M391.8 46.7h0M392.5 41.7h0M384.6 41.7h0M376.1 54.2h0M391.1 56h0M386.2 58.4h0M377.2 60.7h0M391.9 57.4h0M385.8 44.2h0M374.6 58.7h0M376.5 57.7h0M379.6 48.4h0M393.8 44.6h0M391.4 51h0M387.8 59.2h0M387.7 59.7h0M392.9 46.3h0M380.6 42.1h0M392.1 44.6h0M374.6 52h0M390.2 42.8h0M390.8 44.2h0M389 54.1h0M376.2 59.7h0M394.5 48.2h0M377.1 46.4h0M378.6 45.1h0M390.1 44h0M374.5 54.5h0M377.7 57.6h0M394.5 47.7h0M393.6 43.8h0M392.3 49.3h0M383.6 61.2h0M384.7 60.5h0M376 48.8h0M381.7 60.9h0M374.6 52.5h0M385.8 40.4h0M385.1 43.8h0M381 62.1h0M379 44.4h0M375.6 55.2h0M374.9 50.8h0M391 58.1h0M378.4 52.5h0M377.1 51.7h0M383.2 45.4h0M381.4 61.4h0M385.5 41.6h0M393.3 54.1h0M381.3 45.6h0M393.1 46.3h0M374 57.1h0M388.5 57.3h0M389.5 42.6h0M395.4 49.1h0M385.7 43.9h0M375.8 50.2h0M392.9 50h0M376.6 52.3h0M380.5 46.9h0M390.2 43.3h0M389.6 54h0M391.6 54.3h0M390.6 52.2h0M376.3 52.2h0M388.6 55.1h0M393.5 55.8h0M378.8 48.2h0M385.8 42.7h0M382.1 43.7h0M377 60.7h0M381.1 42.1h0M377.4 47.3h0M376.9 52.4h0M383.3 62h0M380.2 59.8h0M392.5 45.1h0M390.7 53.9h0M391.5 42.9h0M396.1 46.2h0M390.5 58.3h0M387.7 60.4h0M378.7 47h0M391.8 40.7h0M385.4 61.7h0M392.8 52.5h0M395.9 49.4h0M395.1 50.5h0M379.1 58.4h0M393.4 51.7h0M383.5 62.5h0M390.7 43.9h0M395.3 46.7h0M375.1 55.6h0M377.8 57.6h0M389 40.4h0M379.1 59.3h0M389.2 40.6h0M392.5 46h0M394.7 51.6h0M392.8 48.6h0M373.2 54.6h0M377 45.3h0M381.6 59.3h0M376.8 49.1h0M387.3 55.9h0M376.5 50h0M378.4 46.9h0M380.7 45.7h0M377.1 47h0M395.3 50.8h0M388.8 56.7h0M394.2 43.3h0M377.8 58h0M391.9 47.5h0M380.6 60.2h0M377.7 50.2h0M392.1 54.4h0M391.8 41.9h0M394 54.3h0M393.1 42.8h0M390.8 44.5h0M390.4 55.6h0M378.3 56.5h0M392.7 46.8h0M378.9 58.2h0M377 50h0M381.6 61.9h0M388.6 43.3h0M392.1 47.4h0M380.8 60.7h0M378.4 46.6h0M395.2 52.7h0M385.8 42.1h0M384.3 59.4h0M375.2 51h0M392.5 51h0M377.4 48.9h0M386.1 57.8h0M376 57.6h0M386.7 42.7h0M387.9 43.4h0M383.4 40.8h0M391 44.9h0M374.6 51.1h0M379.8 60.1h0M380.7 61.4h0M381.4 59.2h0M395.7 49.2h0M385.7 43.9h0M391.5 43.6h0M384.9 59.3h0M383.7 41.7h0M392.1 42.5h0M377.7 47.6h0M373.5 53.4h0M382.6 62.3h0M394.5 54.1h0M375.1 58.7h0M395 51.1h0M381.3 44.9h0M393.1 49.2h0M390.7 42.6h0M384.1 62.2h0M374.5 55.6h0M383.9 59.8h0M384.2 43.2h0M386 60.9h0M391.2 57.5h0M390.5 57.3h0M381 59.1h0M376.8 53.7h0M384.2 60.5h0M393.6 48.2h0M389.2 41.1h0M393.6 53.1h0M374 53h0M392.8 49.8h0M378.2 60.1h0M385.6 49.5h0M385.8 53h0M390.3 53h0M390.1 53.5h0M381.3 49.9h0M388 54.6h0M382.4 48h0M385.7 52.3h0M385.1 51.1h0M387.4 51.3h0M380.9 51h0M387.6 51.8h0M384.1 49h0M383.1 51.1h0M386.6 51.4h0M388.8 54.4h0M381.4 50.5h0M384.9 52.4h0M387.1 54h0M381.3 48.7h0M387.9 51.8h0M382.9 50.2h0M386.7 52.1h0M385.4 50.2h0M388.7 53.7h0M387.4 54.7h0M380.8 50.3h0M383.5 51.6h0M383.9 50.3h0M387.8 53.6h0M390.2 53.9h0M389.3 52.4h0M383.1 50.5h0M384.1 53h0M384.2 49.5h0M385.8 53.6h0M390.5 53.7h0M381.7 50.7h0M387 51h0M387.8 50.8h0M382.6 50.5h0M388.4 55.8h0M380.7 50.7h0M385.6 52.8h0M384.8 51.5h0M387 50h0M385.2 49.4h0M386.7 54.2h0M388.3 51.6h0M383.4 48.9h0M380.9 49h0M387.8 53.9h0M387.2 51.5h0M387.5 54.8h0M386.3 52.8h0M381.3 50.9h0M384.1 50.1h0M388.4 51.7h0M381.2 51.3h0M388.3 55h0M385 53.1h0M385.4 50.3h0M390.1 54.2h0M381.2 49.2h0M381.3 48.9h0M383.8 51.2h0M385.7 52.3h0M384.9 52h0M387.1 52h0M387.2 53.3h0M381.4 49.6h0M381.3 48.3h0M389.3 46.8h0M384.7 49.8h0M386.5 46.6h0M381.4 53.2h0M385.1 49.1h0M383.6 52.6h0M385.7 51.8h0M383.3 54.5h0M386.1 49.3h0M388.3 47.1h0M381.1 56.2h0M382 54.3h0M385 54h0M384.3 51.6h0M381.2 52.9h0M381.3 54.8h0M380.1 55.8h0M380.6 54.7h0M380.4 56.8h0M382.8 54.8h0M384 53.5h0M386.3 49.4h0M383.3 53.2h0M387 49.5h0M388.5 46.6h0M382 55.3h0M385.5 51.4h0M385.1 50.7h0M383.5 53.8h0M386.4 51.7h0M387.1 47.3h0M383.4 51.1h0M385.9 48.6h0M383.7 52.5h0M380.9 53.7h0M385.8 52.5h0M381.4 56.4h0M390.3 47.4h0M386.7 47.2h0M387.5 47.8h0M384.5 53h0M379.2 53.9h0M379.8 55.1h0M380.1 54.6h0M384.6 52.4h0M386 51h0M387 48.3h0M381 53.1h0M387.7 46.6h0M384.8 52.9h0M384.3 48.7h0M387.9 46.5h0M379.6 55.2h0M382.5 53.4h0M382.3 55.2h0M388.1 49.2h0M389.8 47h0M379.7 54.4h0M386.7 48.5h0M383.4 54.5h0M382.3 54.2h0M381 55.1h0M382.7 51.2h0M388.9 49.3h0M384 50.5h0M384.3 51.4h0M383.6 53.4h0M382.7 51.4h0M382.5 54.9h0M384.4 49.6h0M380.6 54.4h0M386.3 49.6h0M387.3 46.6h0M386.3 49h0M386.7 50.7h0M386.8 48h0M380.2 56.3h0M388.9 48.9h0M385.6 49.1h0M380.8 53.8h0M381.4 55.2h0M386 50.6h0M383.1 54.5h0M383.9 51.3h0M381.1 55.1h0M383.3 53.8h0M379.7 54.9h0M384.9 49.2h0M387.5 50.5h0M388.1 46.1h0M383.8 51.1h0M387.2 46.1h0M388.9 47.3h0M383 54.8h0M387 46.2h0M380.6 55.9h0M385.2 53.5h0M385 50.6h0M383.7 53.2h0M375 64.3h0M377.2 64.1h0M377.5 63.8h0M378.3 62.8h0M376.7 59.9h0M375.3 68.4h0M378.6 60.2h0M379.3 61h0M377.1 62.6h0M377.6 64.5h0M378 61.2h0M375.2 67.1h0M378.7 61.4h0M376.1 67.8h0M374.5 66.2h0M375.6 66.3h0M376 64.2h0M377.4 66h0M375.2 68.4h0M376.3 63.3h0M376.4 67.5h0M377.3 61.9h0M378 63.7h0M375.1 66.6h0M373.5 66.4h0M377.7 64.5h0M373.5 67.8h0M377.1 66.2h0M374.2 67.8h0M375.1 63.1h0M374.1 68.1h0M377.8 64.1h0M375.7 66.9h0M376.3 67.8h0M377.4 65.4h0M376.3 61.8h0M375.5 67.4h0M375.4 66.8h0M376.8 66.4h0M378.1 63.7h0M378.4 60.5h0M379 61.6h0M373.7 67h0M376.6 63.4h0M378.1 64.3h0M374.7 67.4h0M375.8 67.7h0M375.4 67.7h0M374.7 66.4h0M375.5 64.9h0M375.5 65h0M374.7 67.8h0M376.8 61.6h0M374.3 64.2h0M423.3 58.6h0M416.9 55.6h0M417.4 72.8h0M413.6 75.5h0M420.5 66h0M413.5 57.1h0M422.6 64.4h0M413.6 54.1h0M418.9 57.6h0M420.8 59h0M421.3 61.8h0M415.8 53.3h0M421.1 65.3h0M420.2 57.3h0M421.1 58.9h0M413.5 75.3h0M421.2 65.7h0M414.1 53.9h0M420.2 59h0M418.9 67.9h0M415.1 55.5h0M420.7 63.8h0M418.4 66.4h0M418.3 71.5h0M418.5 68.4h0M415.5 53.7h0M419.8 59.5h0M421.8 67.1h0M414.7 75.6h0M422.5 67.6h0M419.3 70.2h0M419.5 58.7h0M419 66.1h0M418.9 69.2h0M422.8 58.8h0M420.8 67.2h0M413.9 76.5h0M423.7 59.1h0M419.4 56.9h0M420.6 58.7h0M413.9 75.9h0M412.7 73.2h0M420.8 69.6h0M417.1 71.8h0M421.4 59.1h0M416.3 55.1h0M419.7 64.6h0M423.5 61.9h0M415.4 72.4h0M416.8 70.1h0M414.5 53.6h0M415 56.3h0M417.9 71.5h0M421.9 67.7h0M421.4 61.1h0M415.7 70.4h0M421.3 60.2h0M420.8 58.8h0M415 75.5h0M419.3 67.8h0M424 63.5h0M423.5 58h0M416.9 74.9h0M416.8 69.8h0M416.3 71.4h0M414.9 76.3h0M420.4 63.2h0M418.5 67.4h0M420.7 64.8h0M416.6 70h0M421.1 62.4h0M416 57.1h0M421.3 57.5h0M420 70h0M415.8 73.4h0M420 70.6h0M422.2 61.4h0M417.6 68.1h0M423.2 60.5h0M416.6 55.6h0M415.4 72.3h0M423.5 61.6h0M420.3 68.7h0M419.1 69.5h0M415.4 77.1h0M417.6 55.8h0M415.8 55.7h0M418.8 69.1h0M421.7 65.1h0M421.1 67.2h0M421.5 63.3h0M419 70.3h0M415.5 53.9h0M416.1 57.1h0M419.5 66.9h0M417.1 54.5h0M422.5 65.4h0M416.1 71.7h0M421.1 59.4h0M417.5 69.4h0M421.1 58h0M419.2 56.1h0M419.1 66.4h0M421.3 61.5h0M415.8 56.1h0M417.8 53.8h0M420.9 57.9h0M414 72.5h0M421.5 59.6h0M418.7 55.3h0M422.5 64.7h0M422.1 65.6h0M418.5 71.8h0M413.1 73.6h0M414.8 72.9h0M413.7 57.3h0M423 66.4h0M416.1 54.8h0M422.8 62.4h0M419.1 66.2h0M416.5 71.2h0M419.4 56.5h0M417.1 56.3h0M416.7 73.8h0M422.4 63.9h0M422.1 67.8h0M419.4 66.4h0M420.5 64.3h0M418.4 57.9h0M414.9 76.8h0M424 61.8h0M416.4 75h0M419.4 64.6h0M418.1 56.1h0M419.8 60.5h0M415.2 56.1h0M418.5 66.7h0M418.2 57h0M422.1 59.1h0M419.7 69.4h0M420.2 64.5h0M420.1 57.7h0M419.1 69.1h0M419.1 67h0M418.1 57.5h0M418 67.9h0M418.3 55.7h0M417.9 56.3h0M415.8 69.7h0M415.9 55.3h0M418.6 73.3h0M418.9 65.6h0M414.2 72.7h0M420.8 68.2h0M413.8 54.3h0M415.7 76.5h0M417.7 72.8h0M415.8 73.2h0M416.3 55.4h0M421.4 65.8h0M416.1 74.7h0M421.7 56.7h0M418.8 58.2h0M415.5 71.3h0M414.9 53.7h0M421.6 60.1h0M421.5 66.3h0M413.9 72.5h0M420.9 68.9h0M418.3 69.1h0M422.7 59.6h0M415.4 56.8h0M417.2 70.3h0M413.6 74.3h0M419.8 56.9h0M421.8 67.3h0M418.3 67.2h0M417.4 54.1h0M419.5 55.6h0M419.7 64.2h0M422.9 65.2h0M415.4 55.3h0M415.3 74.4h0M422.2 65.8h0M415.6 72.4h0M421.6 59h0M422.6 63.3h0M414.8 73.3h0M419.4 67.9h0M384.9 88.6h0M382.2 89h0M372.1 89.5h0M376.7 81.5h0M367.3 83.4h0M375.3 83.9h0M371.5 80h0M377.4 89.4h0M364 84h0M375.6 91.1h0M380.4 92.2h0M369.2 80.2h0M382.1 88.3h0M366.7 78.4h0M373.6 88.2h0M378.6 90h0M367.7 85.5h0M380.9 89.5h0M384.3 86.7h0M376.9 82h0M364 85.4h0M378.5 84.5h0M362.7 82.7h0M367.9 80.8h0M383.1 91.8h0M384 91.8h0M371.6 82.7h0M383.4 86.1h0M384.7 86.7h0M371.9 82.7h0M380.1 86.8h0M363.9 78.9h0M367.3 78.8h0M368 83.3h0M382 87.8h0M380.9 89.2h0M371.8 82.8h0M377 85.4h0M373.6 89.4h0M380.8 84.6h0M381.7 91.5h0M365.4 85.8h0M366.5 79.1h0M365.7 86.8h0M384.5 89.3h0M375.4 84.3h0M382.8 90.9h0M374.1 80.6h0M380 88.1h0M377.7 82.4h0M377.8 90.8h0M377.1 84h0M380.9 92.4h0M376.5 83.5h0M377.6 91.6h0M365.1 79.1h0M367.5 85.3h0M386.1 90.3h0M366.4 82.9h0M378.2 91.8h0M383.2 91h0M366.7 82.3h0M371.6 88.9h0M371.1 88.5h0M366.8 80.3h0M382.6 89.6h0M366.9 88.2h0M371.7 87.9h0M378.3 86.6h0M363.7 84.6h0M385.1 91.9h0M377.5 82.4h0M371.5 79.5h0M372.4 83.2h0M370 79.7h0M362 80h0M367 84.2h0M373.9 81.8h0M363.8 80.7h0M367 87h0M386.9 90.7h0M371 79.6h0M371.5 85.9h0M370.1 80.1h0M384.1 89.9h0M373.3 89.7h0M370.5 90.2h0M377.4 81.4h0M378.9 82h0M379.3 91.5h0M376 89.8h0M383.3 86.7h0M376.1 82.3h0M378.5 91.5h0M371.7 80.1h0M381.4 87.4h0M373.4 80.3h0M366.4 81h0M384.4 89.9h0M371.5 89.5h0M365.2 79h0M368.1 80.8h0M365.9 85h0M386.1 88.5h0M384.5 90.4h0M385.6 91.3h0M362.7 84.4h0M366.4 85.4h0M380.9 84h0M363.1 85.5h0M369.1 83.2h0M375 89.2h0M372.2 84.4h0M373.7 84.1h0M373.9 81h0M370.2 79.2h0M379.7 86.2h0M369.9 88.1h0M368.5 86.2h0M380.3 85h0M367.7 83.2h0M375.9 88.2h0M378.6 84.9h0M377.4 87.3h0M372.3 88.5h0M366.3 86.9h0M369.5 83.9h0M361.5 79.9h0M376.5 84.6h0M373 87.1h0M373.5 80.5h0M365.2 84.4h0M377.5 90.5h0M372.6 90.2h0M370.2 86.9h0M363.4 84.2h0M381.7 84.6h0M382.9 85.9h0M372.3 82.2h0M379.2 87.9h0M361.6 83.4h0M368.5 80h0M376.6 87.5h0M373.6 81.7h0M371 87.4h0M363.4 84.5h0M372 88.2h0M376.4 91.9h0M370.7 89.7h0M367.2 78.6h0M378.6 86h0M374.1 88.6h0M386 88.8h0M376.6 86.2h0M365.2 81.5h0M375.7 84.6h0M372.9 89.1h0M382.5 84.4h0M378.9 91.2h0M383 87.2h0M381.1 85h0M366.6 82.3h0M369.5 81.2h0M368.5 88.1h0M375.9 82.4h0M384 87h0M372.1 82.7h0M379.8 88.4h0M387.1 89.9h0M368.5 84.4h0M379.1 82.8h0M381.4 92.7h0M368.8 81.2h0M371.6 88.6h0M367.9 86.2h0M373.1 79.9h0M366.7 81.8h0M369.6 81.3h0M364.1 85.5h0M372.5 86.1h0M367.8 83.3h0M373.9 89.5h0M371.6 82.5h0M382.1 91h0M385 92.2h0M375.5 89.5h0M379.5 91.3h0M382 90.7h0M367.6 80.1h0M379.1 87.4h0M383.1 90.2h0M383.5 91.4h0M366.3 83.5h0M366 79.1h0M369.1 88.9h0M363.8 85.5h0M371.4 90.1h0M379.3 89.8h0M365.6 86h0M376.2 82.6h0M379.7 85.6h0M385 89.6h0M379.3 90.2h0M364.6 83.6h0M383.1 87.6h0M366.1 86.9h0M370.8 80.3h0M378.2 92h0M367.9 85.8h0M373.7 86.1h0M364 78.6h0M377.8 90h0M376.9 87.1h0M363.6 82.2h0M367.7 87.2h0M372.1 79.6h0M374.7 88h0M378.9 84.4h0M377.6 88.7h0M372.8 90.7h0M363.9 84h0M368.2 84.8h0M367 84h0M370.4 84.2h0M370.5 80.6h0M374.2 87.4h0M369.4 87.2h0M383.2 84.8h0M367.9 79.3h0M379.1 82.7h0M368.2 85.7h0M385.5 90.4h0M385 89.1h0M377.6 86.8h0M364.8 84.3h0M373.4 84h0M380.9 84.7h0M371.3 79.6h0M370.6 87.1h0M367.3 81.7h0M401.5 71.7h0M400.5 74.9h0M404.7 80.1h0M395 69.9h0M387.6 66.6h0M401.2 72.8h0M388.3 69.7h0M390.2 67.8h0M400.2 92.6h0M404.2 81.6h0M396.3 69.9h0M395.8 71.4h0M390.9 69.5h0M401.1 88h0M397.5 94h0M403.2 81.7h0M400.2 74.4h0M395.1 69.8h0M400.9 86.5h0M388.6 70.1h0M401.5 72.1h0M402.2 82.1h0M394.4 94.4h0M402.6 81h0M401.3 91.5h0M396.5 71.5h0M403.1 80.5h0M403.8 74.1h0M403.7 85.6h0M398.7 71.1h0M402.4 78.7h0M401 90.5h0M400.2 87.4h0M395.9 94.4h0M400.3 91.7h0M401.1 74h0M398.3 92.7h0M399.5 71.1h0M401.7 84.9h0M403.1 72.9h0M401.7 84h0M396.8 68.9h0M389.8 69.8h0M391.2 69.7h0M403.4 76.3h0M392.4 68.3h0M405 82h0M396.7 94.1h0M397.9 91.1h0M393.3 67.8h0M392.5 68h0M390.5 68h0M402.9 86.1h0M398.4 90.7h0M394.6 95.4h0M403.1 86.1h0M392.2 69.1h0M395.3 68.5h0M401.6 90.8h0M402.8 89.3h0M401.2 74.6h0M400.9 91.2h0M397.2 94.2h0M405 78.7h0M403.6 85.1h0M390.2 69.8h0M394.7 93.4h0M404.3 81.1h0M397.2 90.1h0M401.1 90.3h0M398.7 90.8h0M394 69.8h0M398.6 71.5h0M392.4 87h0M399.4 82.4h0M391.3 84.6h0M397.8 87.1h0M391.3 85.6h0M396.7 86.3h0M393 88.3h0M396.4 85.1h0M390.1 86.2h0M398.3 89.6h0M398.2 90.4h0M400.3 85.8h0M394.4 74.7h0M390.3 78.9h0M397 87.2h0M400.6 86.9h0M397.8 86h0M396.4 79.7h0M395.6 89.9h0M398.1 86h0M400.1 85.8h0M391.5 79.2h0M395.2 82.7h0M401.1 82.3h0M397.6 81h0M389.8 80.9h0M390.8 87.5h0M397.1 90.4h0M399.1 81.4h0M391.2 80.2h0M397.9 76.2h0M392.2 88.6h0M389.8 91h0M386.7 90.7h0M387 89.3h0M389.4 87h0M390.4 88.2h0M391.1 86.9h0M387.4 91.4h0M387.8 88.3h0M387.2 88.7h0M392.6 87.6h0M387.4 91.4h0M393.4 88.5h0M392.9 90.4h0M389.3 89.6h0M384.9 89.7h0M392.3 87.1h0M386.1 88.8h0M388.2 88.2h0M388.3 87.4h0M393.1 88.1h0M391.9 87h0M387.7 89.6h0M385.8 90.4h0M389.3 89.2h0M391 89.4h0" stroke="#12295c" stroke-width="1.5" stroke-linecap="round" fill="none"/>
<path d="M349.3 49.4h0M377.1 47h0M418.9 67.9h0M393.3 49.4h0M377.6 86.8h0M347.2 49.1h0M410.8 46.3h0M408.8 41.3h0M374 53h0M351.6 63.4h0M386.1 88.5h0M368.5 32.7h0M369.2 33h0M424 63.5h0M383.9 59.8h0M354.1 52h0M408.8 42.5h0M380.3 26h0M418.8 58.2h0M350.6 43.1h0M397.8 86h0M385.4 50.3h0M351.8 52.8h0M407.2 27.7h0M420 70.6h0M373.5 67.8h0M367.6 34.7h0M350.2 54.8h0M374.6 52h0M348.2 59h0M411.3 42.2h0M384.1 53h0M392.3 87.1h0M372.1 82.7h0M378.6 60.2h0M408.3 30.3h0M420.8 59h0M375.9 27h0M380.6 54.4h0M401.1 82.3h0M388.8 54.4h0M392.7 46.8h0M378.3 25.5h0M391.3 21.8h0M351.5 54.4h0M370.9 31.9h0M390.7 42.6h0M406.6 51.2h0M357.2 67.4h0M381.2 49.2h0M389.5 22.9h0M401.3 91.5h0M418.3 71.5h0M361.9 40.1h0M390.1 53.5h0M371.5 89.5h0M362.3 44.2h0M408.5 31.3h0M349.6 52.3h0M349.9 64.3h0M417.1 56.3h0M357.8 70.1h0M407.8 45.5h0M373.7 84.1h0M363.9 36.4h0M351.5 63h0M362.7 38.5h0M374 52.6h0M397.1 90.4h0M381.4 87.4h0M379.8 60.1h0M401.9 25.4h0M404.8 55.6h0M410.3 35.9h0M383.4 40.8h0M351.2 54.2h0M374.9 48.8h0M371.1 28.2h0M391.8 53.8h0M407.1 54.3h0M363.7 84.6h0M362.7 84.4h0M350.7 41.1h0M349.5 53h0M379.1 28.7h0M414.5 53.6h0M382 54.3h0M355.4 52.9h0M386.7 48.5h0M401.2 74.6h0M387.2 88.7h0M406.2 25h0M416.1 57.1h0M377.5 63.8h0M396.8 68.9h0M377.5 53.5h0M374 57.1h0M391.4 22.4h0M351.8 60.2h0M391.1 17.7h0M364.8 41h0M381.7 50.7h0M405.8 53.5h0M393.2 21.5h0M384.6 52.4h0M356.6 68.3h0M409.2 46.3h0M387.5 50.5h0M411.5 46h0M377.4 81.4h0M377.7 82.4h0M410.9 32.5h0M345.9 52.9h0M393 17h0M406.8 31.6h0M374.1 88.6h0M369.5 32.7h0M410.4 45.3h0M412.1 37h0M405.9 53.6h0M388.3 20h0M366.1 35.5h0M391.2 69.7h0M363.6 42.4h0M385 89.6h0M350.5 48.8h0M392.4 68.3h0M403.6 57.4h0M371.8 82.8h0M345.8 53h0M381.1 25.6h0M378.3 56.5h0M387.4 42.6h0M395.1 69.8h0M355 53.1h0M386.7 54.2h0M421.1 62.4h0M418.5 66.7h0M421.3 61.5h0M391.4 20h0M380.4 25.4h0M375.7 50.4h0M354.5 64.7h0M356.4 66.1h0M371.5 85.9h0M407.1 26.8h0M383.8 23.7h0M407 49.2h0M369.7 34.2h0M370.8 80.3h0M387.1 26.5h0M380.9 51h0M380.9 89.2h0M392.8 52.5h0M385.3 28.2h0M391.2 57.5h0M346.6 55.5h0M381.7 91.5h0M390.8 44.5h0M370.9 28.5h0M405.3 57.4h0M414.2 72.7h0M385 54h0M386.9 90.7h0M381.2 52.9h0M410 44.3h0M387.8 53.6h0M385.2 49.4h0M380.9 92.4h0M373.5 80.5h0M403.7 85.6h0M368.7 36.4h0M364.7 39h0M417.1 71.8h0M408.2 31h0M384.9 88.6h0M419.4 66.4h0M373.3 52.1h0M385 89.1h0M391.3 18.8h0M391.5 52.3h0M376.4 28.1h0M361.5 40.9h0M379.1 59.3h0M376.8 30.4h0M377.1 62.6h0M391.1 23.2h0M393 55h0M408.9 28.8h0M375.2 68.4h0M378.4 46.9h0M386.3 49h0M392.6 15.2h0M370.5 80.6h0M391.3 85.6h0M362.4 37.3h0M357.8 51.2h0M389.5 42.4h0M405.1 50.2h0M384.3 86.7h0M351.7 44.4h0M398.2 90.4h0M419.4 56.9h0M377.7 59.9h0M411.5 36.6h0M384.1 49h0M356.5 63.4h0M401.1 74h0M391 58.1h0M377.2 58.4h0M408.7 32h0M393.1 49.2h0M349 45.7h0M350.9 64.1h0M418.1 57.5h0M413.7 57.3h0M420.2 57.3h0M417.5 69.4h0M384 91.8h0M350.4 54.4h0M353.2 62.9h0M376.8 49.1h0M385.7 24.9h0M408.2 27.9h0M423 66.4h0M374.8 29h0M383.8 24.5h0M404 54.3h0M389.3 52.4h0M365.8 36.3h0M377 48.4h0M381.4 55.2h0M386.7 52.1h0M366 79.1h0M369.7 30.2h0M379.7 86.2h0M383.3 25.5h0M374.5 55.6h0M360.1 67.9h0M384 53.5h0M408.5 52.6h0M377.4 48.9h0M399.7 63.6h0M402.7 55.2h0M421.4 65.8h0M388.7 53.7h0M408.3 27.8h0M372.3 82.2h0M365.4 38.8h0M348.9 45.8h0M384.8 27.1h0M408.7 31.3h0M407.6 49.1h0M421.1 58.9h0M410 39.9h0M412.6 41.8h0M377.5 90.5h0M352.6 61h0M373.7 32.6h0M367.9 85.8h0M394.5 53.7h0M387.1 89.9h0M386.2 58.4h0M366.1 86.9h0M376.3 52.2h0M392.1 44.6h0M397.2 94.2h0M364.2 39.4h0M365.3 38.8h0M383.7 52.5h0M358.3 68.4h0M383.1 51.1h0M406.8 55.2h0M409.6 30.3h0M348.9 42.2h0M389.4 42.9h0M378.4 46.6h0M354.6 63.3h0M390.2 53.9h0M387.9 56.8h0M368.4 31.3h0M354.9 51.8h0M410.9 41.1h0M350.3 55.2h0M386 60.9h0M394.4 94.4h0M374.6 52.5h0M411.3 38.7h0M375.3 55h0M376.4 91.9h0M364 40.1h0M402.1 25.9h0M371.6 30h0M399.8 59.2h0M387.7 59.7h0M379.8 88.4h0M400.9 60.1h0M387.1 54h0M412.2 35.6h0M370.4 33.6h0M408.4 52.9h0M415.8 73.4h0M398.2 61.8h0M373.7 29.9h0M355.7 68.2h0M381.7 60.9h0M375.2 31.7h0M408.6 44h0M410.2 31.7h0M385.8 53.6h0M409.4 32.2h0M346.7 45.8h0M371.4 33.4h0M402.3 55.8h0M367.9 80.8h0M350.4 46.6h0M373.6 89.4h0M374.4 52.2h0M380 58.8h0M392.2 69.1h0M395 51.1h0M378.3 86.6h0M386.5 46.6h0M421.7 56.7h0M410.4 45.2h0M393.2 21.9h0M420.8 67.2h0M407.3 43.9h0M383.8 51.1h0M377.4 66h0M407.5 49.5h0M386.1 88.8h0M401.9 54.9h0M375.8 29.2h0M354.5 65.1h0M410.3 30.7h0M351.1 41.3h0M416.6 70h0M373.4 84h0M386.2 26.2h0M353 62.9h0M418.9 65.6h0M407.1 31.6h0M348.2 55.5h0M376.4 56.8h0M346.9 54.3h0M349.2 54.9h0M372.1 89.5h0M386.4 26.6h0M393.7 48.6h0M410.9 46.1h0M388.9 47.3h0M407.4 46h0M363 37.7h0M368.1 80.8h0M417.6 55.8h0M385.3 40.5h0M349.4 51.3h0M393.1 42.8h0M405.3 53.1h0M372.5 28.7h0M377.7 27.9h0M369.6 81.3h0M410.1 35h0M349.2 45.9h0M367.6 31.3h0M411.9 45.7h0M381.3 44.9h0M405.8 53.9h0M347.5 52.4h0M393.2 45.1h0M385.7 52.3h0M376 57.6h0M372.9 89.1h0M381.6 25.3h0M364.7 43h0M386.1 57.8h0M367 31.5h0M379 42.9h0M421.9 67.7h0M349.8 52.6h0M416.4 75h0M385.6 25.6h0M373.5 53.4h0M410 43.3h0M419.3 67.8h0M383.3 86.7h0M409.5 32h0M382 55.3h0M389.3 89.2h0M405.5 29.8h0M415.5 53.9h0M405.9 26.5h0M370.2 86.9h0M353.7 63.9h0M379.6 48.4h0M391.8 16.7h0M407.7 31.5h0M410.8 38.7h0M347.9 52.8h0M415.8 73.2h0M365.1 32.5h0M348 55.6h0M379.3 61h0M419.8 60.5h0M370.2 79.2h0M410.1 50.5h0M419 66.1h0M373 87.1h0M403.9 25.6h0M399.4 82.4h0M405 78.7h0M403.1 80.5h0M367.5 33.3h0M410.9 36.8h0M386 58.1h0M385.4 50.2h0M377.2 60.7h0M409.4 30.8h0M383.6 22.8h0M404.9 26.5h0M420.6 58.7h0M419.1 69.5h0M383.3 54.5h0M391.5 21.3h0M373.3 89.7h0M392.3 17.5h0M390.4 88.2h0M384.9 59.3h0M349.3 59.8h0M407.5 49.1h0M408.8 48.9h0M361.8 41.2h0M354.7 51.9h0M397.5 94h0M347.8 48.4h0M374.4 51.5h0M385.7 43.9h0M357.2 67.2h0M397.8 87.1h0M412.4 40.7h0M411.1 42.7h0M380.5 59.7h0M414.1 53.9h0M357.3 53.4h0M367.7 35.9h0M408.2 33.6h0M411 30.8h0M416.1 54.8h0M387 21.7h0M380.6 54.7h0M349.6 47.4h0M347.8 54.3h0M378.9 84.4h0M418.7 55.3h0M378.5 91.5h0M400 60.8h0M389.2 59.3h0M377.6 88.7h0M367.4 31.9h0M377.5 56.3h0M350.7 53.2h0M408.1 44.2h0M390.9 69.5h0M377.1 26.8h0M401.1 90.3h0M408.1 45.4h0M374.5 66.2h0M385.6 49.1h0M378.5 27.2h0M367.7 34.4h0M382.3 26h0M371.3 31.8h0M372.4 83.2h0M387.6 66.6h0M384.9 89.7h0M385.9 21.3h0M397.2 90.1h0M351.4 52.2h0M387.2 46.1h0M405.3 51.3h0M401.5 71.7h0M378.6 90h0M420.9 57.9h0M368.8 31.1h0M351.7 63.8h0M347.1 57.9h0M392.7 17.2h0M408.6 48.8h0M373.8 28.7h0M349.7 52.5h0" stroke="#5a6a8c" stroke-width="0.7" stroke-linecap="round" fill="none"/>
<path d="M384.7 86.7h0M377.6 91.6h0M349.1 62.9h0M383.7 41.7h0M351.7 58.9h0M349.8 60.1h0M393.2 15.7h0M380 28.6h0M410.3 30.7h0M403 25.4h0M365.1 32.5h0M408.3 30.3h0M376 64.2h0M362.7 38.5h0M357 63.8h0M362.4 37.9h0M365.6 86h0M376.3 55h0M383.6 24.8h0M403.8 55.3h0M397.6 81h0M353.2 62.9h0M381.9 29.2h0M408.3 28.4h0M410.5 33.9h0M389 40.4h0M354.1 65.6h0M383.4 51.1h0M360.8 39.9h0M392.3 22h0M390.5 57.3h0M404.9 24.3h0M408.9 40.6h0M387 22.8h0M383.4 86.1h0M405.7 29.3h0M345.7 47h0M389.5 59.4h0M389.9 19.9h0M390.1 53.5h0M354.8 64.7h0M390.3 53h0M347.3 61.1h0M388.1 22.6h0M405.7 24.6h0M374.6 29.3h0M377.6 64.5h0M350.4 53.2h0M391.4 20h0M362 80h0M391.8 17.1h0M383.3 86.7h0M385.5 90.4h0M385 50.6h0M365 37.9h0M374.9 50.8h0M356.4 66.1h0M399.1 81.4h0M391.8 20h0M373.4 30.5h0M389.5 23.2h0M371.2 31.6h0M405.6 26.6h0M406.6 52.2h0M391.3 21.8h0M388.7 24.3h0M347.6 53.1h0M401.2 72.8h0M359.2 65.3h0M385.6 49.5h0M384.6 41.7h0M420.8 59h0M380.3 25.3h0M350.5 48.8h0M400.2 74.4h0M405.8 54.9h0M374 52.6h0M381.4 50.5h0M396.7 94.1h0M348 57.4h0M391.2 69.7h0M387 21.7h0M407.8 34.1h0M362.9 37.1h0M410 43.1h0M392.9 90.4h0M352.6 60.7h0M385 40.7h0M389.2 40.6h0M393.3 67.8h0M348.5 43.4h0M388 54.6h0M420.2 59h0M390.2 67.8h0M385.8 53.6h0M410.2 44.5h0M376.4 28.1h0M379.7 85.6h0M367.7 87.2h0M408.5 31.6h0M410.8 41.8h0M401.9 25.4h0M373 51.5h0M392.2 88.6h0M353.6 64.7h0M418.1 57.5h0M417.4 72.8h0M381.1 56.2h0M365.2 79h0M377 50h0M376.6 63.4h0M395.3 68.5h0M392.2 17.1h0M416.5 71.2h0M385.3 40.5h0M412.5 46.1h0M400.1 85.8h0M407.5 49.5h0M411.3 32.6h0M388.1 60.6h0M390.5 23.4h0M372.5 32.9h0M350.6 57h0M410.1 49.6h0M387.6 20.2h0M387.4 51.3h0M419.4 67.9h0M421.3 61.8h0M377.8 90h0M414.2 72.7h0M407.8 51.9h0M358.7 65.1h0M349.6 47.4h0M380.8 25.3h0M379.7 54.9h0M401.8 53.4h0M346.3 54.8h0M366 35.6h0M391.7 17.3h0M365 34.2h0M380.4 60.8h0M377.5 82.4h0M407.6 35h0M384.2 58.1h0M380.9 84.7h0M382.5 53.4h0M408.6 42.5h0M351.9 52.9h0M374.1 68.1h0M350.2 54.8h0M420.7 63.8h0M406.5 54h0M388.3 47.1h0M354.7 54.4h0M375.8 50.2h0M352.6 65.9h0" stroke="#a89f6a" stroke-width="0.7" stroke-linecap="round" fill="none"/>
<path d="M352.1 65.5h0M350.6 57h0M345.4 52.3h0M347.5 52.4h0M354.8 64.7h0M356.8 67.4h0M347.8 51.8h0M350.6 43.1h0M348.2 58.4h0M351.8 60.2h0M355.3 63.9h0M348 57.4h0M354.1 65.6h0M348.2 55.5h0M349.3 46.5h0M351.2 62.7h0M352.2 61.7h0M350.9 63.7h0M353.2 62.9h0M358.3 64.7h0M358.7 65.1h0M349.1 56.5h0M349 52.7h0M357.2 67.4h0M351.7 44.4h0M352.4 60.9h0M354.2 66.6h0M347.6 57.4h0M352.1 65h0M349.6 46.5h0M346.7 45.8h0M350.4 61.3h0M356.5 63.4h0M349.9 64.3h0M346.6 55.5h0M350 62.7h0M345.4 52.6h0M353.2 60.2h0M359.2 65.3h0M345.9 53.5h0M350 57.5h0M348.5 43.4h0M353 62.9h0M349.8 54.5h0M360.2 67.2h0M351.8 44.1h0M346.7 50.4h0M347.1 56.9h0M346.8 49h0M346.6 47.9h0M350.7 45.1h0M351.5 63h0M349.7 58.6h0M349 58.2h0M349.1 40.8h0M350.9 59h0M345.2 50.5h0M358.7 66.4h0M349.7 61h0M355.2 63.6h0M355.2 64.6h0M359.8 67.5h0M358.4 64.7h0M349.8 52.6h0M348.4 40.1h0M358.7 69.9h0M349.8 60.1h0M347.3 61.1h0M350.6 61.1h0M351.3 65.6h0M348.9 46.3h0M348.9 41.1h0M348.1 49.2h0M357.1 64.8h0M351.8 62.4h0M349.7 43h0M347.3 44.9h0M360.8 66.5h0M354 62.4h0M353.4 65.5h0M353.4 65.9h0M346.8 52.5h0M348.7 54.7h0M350 45.2h0M355.7 63.1h0M358.3 68.4h0M349.2 45.9h0M346.6 48.7h0M352.4 53.2h0M358.6 52.5h0M349.7 54.4h0M358.9 51.9h0M358.8 50.3h0M355.3 54.3h0M351.8 51.6h0M357.5 50.8h0M349.4 54.4h0M357.8 53.8h0M357.3 53.4h0M353.1 53.7h0M354 54.7h0M354.9 51.8h0M351.5 54.7h0M358.6 50.7h0M349.3 53.8h0M351 52h0M351.2 51.6h0M349.5 53h0M384.9 88.6h0M382.2 89h0M372.1 89.5h0M367.3 83.4h0M380.1 86.7h0M384.3 86.7h0M376.9 82h0M378.5 84.5h0M376.5 88.4h0M366.6 80.2h0M384.7 86.7h0M380.1 86.8h0M363.9 78.9h0M382 87.8h0M373.6 89.4h0M380.8 84.6h0M380 88.1h0M380.9 92.4h0M365.1 79.1h0M367.5 85.3h0M366.4 82.9h0M383.2 91h0M366.7 82.3h0M374.9 90.3h0M371.6 88.9h0M378.3 86.6h0M385.1 91.9h0M370.1 88.9h0M363.8 80.7h0M378.5 91.5h0M381.4 87.4h0M363.1 85.5h0M373.7 84.1h0M379 85h0M375.9 88.2h0M366 85h0M364.4 81.3h0M375.8 83.3h0M382.9 85.9h0M372.5 89.7h0M368.5 80h0M385.7 91.6h0M376.4 91.9h0M370.7 89.7h0M382.5 84.4h0M381.1 85h0M368.5 88.1h0M375.5 87.8h0M379.1 82.8h0M368.8 81.2h0M371.6 88.6h0M373.1 79.9h0M372.5 86.1h0M373.9 89.5h0M382.1 91h0M379.5 91.3h0M377.3 87.7h0M367.6 80.1h0M366 79.1h0M369.1 88.9h0M371.4 90.1h0M365.6 86h0M379.3 90.2h0M366.7 82.3h0M378.2 92h0M367.9 85.8h0M364 78.6h0M377.8 90h0M368 84.6h0M372.8 90.7h0M363.3 82.1h0M370.5 80.6h0M368.2 85.7h0M386.7 90.7h0M387.4 91.4h0M387.2 88.7h0M385.9 89.6h0" stroke="#8f8a6c" stroke-width="0.8" stroke-linecap="round" fill="none"/>
<path d="M395.8 69h0M403.8 83.2h0M397.4 70.8h0M390.8 68.3h0M402.3 82.9h0M400.2 73.4h0M395.8 70.8h0M403.7 82.1h0M401.9 74h0M404 78.8h0M390.6 68.8h0M401.4 72.5h0M402.8 83.7h0M403.5 85.4h0M389.8 69.5h0M402.1 85.4h0M405 78.9h0M403.9 74.8h0M398.8 72h0M401.2 85.8h0M404 83.1h0M399.1 72.7h0M404.5 79.7h0M388.4 69.7h0M397.8 69.2h0M402 85.6h0M404.3 81h0M400.2 72.6h0M403 76.7h0M394.9 69.3h0M404.7 80.5h0M402.9 82.5h0M396.4 70.3h0M402.3 86h0M404 82.3h0M390.5 68.9h0M401.6 74.1h0M389.4 69.6h0M402.6 75.9h0M403 76.6h0M402.8 78.2h0M404.1 80.6h0M396.4 70.6h0M402.9 75.3h0M403.6 79.8h0M399.9 70.9h0M390 68.9h0M395.5 69.5h0M403.9 77.8h0M403.2 74.1h0M403.1 84.4h0M389.6 68.2h0M404.5 82.7h0M399.6 72.8h0M401.5 85h0M401.6 86h0M388 69.6h0M404.6 78.1h0M404 83.8h0M389.5 69h0M404 76.7h0M401.7 72.5h0M394.6 68.3h0M393.2 69.8h0M404.4 79.3h0M397.1 70.2h0M399.7 72.5h0M399.6 73.3h0M390.4 68.2h0M394.7 69.6h0" stroke="#c9b857" stroke-width="1.0" stroke-linecap="round" fill="none"/>
<path d="M394.8 89.2h0M396.7 85h0M396 82.5h0M393.3 82.8h0M395.6 88.3h0M395.3 89.7h0M394.8 75.5h0M392.5 78.7h0M394.9 80.7h0M396.5 82.8h0M390.6 81.5h0M395.3 83.6h0M395.3 87.6h0M392.5 83.7h0M393.8 86.7h0M394.6 82.1h0M391.6 84.1h0M399.5 82.5h0M391.8 81.3h0M397.5 77.5h0M391 84.7h0M394.2 83.5h0M396.7 84.5h0M396.5 84.8h0M392.1 79.4h0" stroke="#8d8a6a" stroke-width="0.9" stroke-linecap="round" fill="none"/>
<rect x="340.2" y="10.6" width="88.4" height="86.6" fill="none" stroke="#111" stroke-width="1"/>
<path d="M338.3 11.1H339.7" stroke="#333" stroke-width=".5"/>
<text x="337.50" y="13.69" font-size="7.20" fill="#222" text-anchor="end">50</text>
<path d="M338.3 34.2H339.7" stroke="#333" stroke-width=".5"/>
<text x="337.50" y="36.79" font-size="7.20" fill="#222" text-anchor="end">25</text>
<path d="M338.3 57.5H339.7" stroke="#333" stroke-width=".5"/>
<text x="337.50" y="60.09" font-size="7.20" fill="#222" text-anchor="end">0</text>
<path d="M338.3 80.3H339.7" stroke="#333" stroke-width=".5"/>
<text x="337.50" y="82.89" font-size="7.20" fill="#222" text-anchor="end">−25</text>
<path d="M363.0 97.7V99.2" stroke="#333" stroke-width=".5"/>
<text x="363.00" y="106.59" font-size="7.20" fill="#222" text-anchor="middle">−25</text>
<path d="M385.0 97.7V99.2" stroke="#333" stroke-width=".5"/>
<text x="385.00" y="106.59" font-size="7.20" fill="#222" text-anchor="middle">0</text>
<path d="M407.0 97.7V99.2" stroke="#333" stroke-width=".5"/>
<text x="407.00" y="106.59" font-size="7.20" fill="#222" text-anchor="middle">25</text>
<text x="385.00" y="113.18" font-size="6.90" fill="#111" text-anchor="middle">tSNE_1</text>
<text x="325.90" y="58.28" font-size="6.90" fill="#111" text-anchor="middle" transform="rotate(-90 325.90 55.80)">tSNE_2</text>
<text x="343.40" y="19.28" font-size="6.90" fill="#111" font-weight="bold">MAM</text>
<text x="414.50" y="16.03" font-size="4.80" fill="#444" text-anchor="middle" transform="rotate(-10 414.50 14.30)">Immune</text>
<text x="355.20" y="92.22" font-size="4.50" fill="#f07030" text-anchor="middle" transform="rotate(14 355.20 90.60)">non-immune</text>
<text x="440.00" y="29.71" font-size="5.30" fill="#111">AUC</text>
<defs><linearGradient id="gC" x1="0" y1="0" x2="0" y2="1"><stop offset="0" stop-color="#f2dc45"/><stop offset=".35" stop-color="#b0a35c"/><stop offset=".6" stop-color="#6a6f7c"/><stop offset=".85" stop-color="#1f3a6e"/><stop offset="1" stop-color="#0b2455"/></linearGradient></defs>
<rect x="440.3" y="34" width="7.4" height="44" fill="url(#gC)"/>
<text x="450.30" y="43.51" font-size="4.20" fill="#222">0.15</text>
<path d="M440.3 42.0h1.4M447.7 42.0h-1.4" stroke="#fff" stroke-width=".3"/>
<text x="450.30" y="55.31" font-size="4.20" fill="#222">0.10</text>
<path d="M440.3 53.8h1.4M447.7 53.8h-1.4" stroke="#fff" stroke-width=".3"/>
<text x="450.30" y="67.11" font-size="4.20" fill="#222">0.05</text>
<path d="M440.3 65.6h1.4M447.7 65.6h-1.4" stroke="#fff" stroke-width=".3"/>
<text x="450.30" y="78.71" font-size="4.20" fill="#222">0.00</text>
<path d="M440.3 77.2h1.4M447.7 77.2h-1.4" stroke="#fff" stroke-width=".3"/>
<text x="4.00" y="129.90" font-size="10.00" fill="#000" font-weight="bold">D</text>
<defs><linearGradient id="gD" x1="0" y1="0" x2="1" y2="0"><stop offset="0" stop-color="#c80a16"/><stop offset=".25" stop-color="#e97a74"/><stop offset=".5" stop-color="#ffffff"/><stop offset=".75" stop-color="#7e7ed4"/><stop offset="1" stop-color="#23238c"/></linearGradient></defs>
<rect x="19.3" y="131.8" width="81.3" height="5.6" fill="url(#gD)"/>
<text x="19.00" y="128.88" font-size="4.40" fill="#111" text-anchor="middle" transform="rotate(90 19.00 127.30)">2</text>
<text x="35.15" y="128.88" font-size="4.40" fill="#111" text-anchor="middle" transform="rotate(90 35.15 127.30)">1</text>
<text x="51.30" y="128.88" font-size="4.40" fill="#111" text-anchor="middle" transform="rotate(90 51.30 127.30)">0</text>
<text x="67.45" y="128.88" font-size="4.40" fill="#111" text-anchor="middle" transform="rotate(90 67.45 127.30)">−1</text>
<text x="83.60" y="128.88" font-size="4.40" fill="#111" text-anchor="middle" transform="rotate(90 83.60 127.30)">−2</text>
<g shape-rendering="crispEdges">
<path d="M32.9 191h13.55v1h-13.55z" fill="#36369c"/>
<path d="M32.9 202h13.55v1h-13.55z" fill="#3c3c9c"/>
<path d="M32.9 216h13.55v1h-13.55zM19.3 337h13.55v1h-13.55z" fill="#3c3ca2"/>
<path d="M32.9 182h13.55v1h-13.55zM32.9 186h13.55v1h-13.55zM32.9 213h13.55v1h-13.55z" fill="#4242a2"/>
<path d="M19.3 343h13.55v1h-13.55zM19.3 354h13.55v1h-13.55z" fill="#4242a8"/>
<path d="M32.9 184h13.55v1h-13.55zM32.9 187h13.55v1h-13.55zM32.9 214h13.55v1h-13.55zM19.3 267h13.55v1h-13.55zM19.3 351h13.55v1h-13.55z" fill="#4848a8"/>
<path d="M32.9 185h13.55v1h-13.55zM32.9 206h13.55v1h-13.55zM19.3 250h13.55v1h-13.55zM19.3 301h13.55v1h-13.55zM19.3 340h13.55v1h-13.55z" fill="#4e4eae"/>
<path d="M19.3 335h13.55v1h-13.55z" fill="#5454ae"/>
<path d="M32.9 188h13.55v1h-13.55zM32.9 205h13.55v1h-13.55zM32.9 209h13.55v1h-13.55zM19.3 321h13.55v1h-13.55zM19.3 329h13.55v1h-13.55zM19.3 332h13.55v1h-13.55zM19.3 342h13.55v1h-13.55zM19.3 345h13.55v1h-13.55z" fill="#5454b4"/>
<path d="M32.9 200h13.55v1h-13.55zM19.3 352h13.55v1h-13.55z" fill="#5a5ab4"/>
<path d="M32.9 190h13.55v1h-13.55zM32.9 192h13.55v1h-13.55zM32.9 215h13.55v1h-13.55zM19.3 257h13.55v1h-13.55zM19.3 285h13.55v1h-13.55zM19.3 320h13.55v1h-13.55zM19.3 333h13.55v1h-13.55zM19.3 338h13.55v1h-13.55zM19.3 339h13.55v1h-13.55zM19.3 356h13.55v1h-13.55z" fill="#5a5aba"/>
<path d="M32.9 154h13.55v1h-13.55z" fill="#6060b4"/>
<path d="M32.9 156h13.55v1h-13.55zM32.9 189h13.55v1h-13.55zM32.9 194h13.55v1h-13.55zM19.3 242h13.55v1h-13.55zM19.3 249h13.55v1h-13.55zM19.3 258h13.55v1h-13.55zM19.3 261h13.55v1h-13.55zM19.3 277h13.55v1h-13.55zM19.3 283h13.55v1h-13.55zM19.3 348h13.55v1h-13.55zM19.3 349h13.55v1h-13.55zM19.3 357h13.55v1h-13.55z" fill="#6060ba"/>
<path d="M32.9 143h13.55v1h-13.55zM32.9 199h13.55v1h-13.55zM19.3 237h13.55v1h-13.55zM19.3 243h13.55v1h-13.55zM19.3 330h13.55v1h-13.55zM19.3 331h13.55v1h-13.55zM19.3 360h13.55v1h-13.55z" fill="#6060c0"/>
<path d="M32.9 208h13.55v1h-13.55zM32.9 279h13.55v1h-13.55zM19.3 312h13.55v1h-13.55z" fill="#6666ba"/>
<path d="M32.9 181h13.55v1h-13.55zM32.9 198h13.55v1h-13.55zM32.9 207h13.55v1h-13.55zM32.9 210h13.55v1h-13.55zM19.3 270h13.55v1h-13.55zM19.3 278h13.55v1h-13.55zM19.3 341h13.55v1h-13.55zM19.3 346h13.55v1h-13.55zM19.3 355h13.55v1h-13.55zM19.3 363h13.55v1h-13.55zM19.3 364h13.55v1h-13.55z" fill="#6666c0"/>
<path d="M32.9 203h13.55v1h-13.55z" fill="#6c6cba"/>
<path d="M32.9 159h13.55v1h-13.55zM32.9 166h13.55v1h-13.55zM19.3 241h13.55v1h-13.55zM19.3 328h13.55v1h-13.55zM19.3 344h13.55v1h-13.55z" fill="#6c6cc0"/>
<path d="M32.9 176h13.55v1h-13.55zM32.9 195h13.55v1h-13.55zM19.3 207h13.55v1h-13.55zM32.9 217h13.55v1h-13.55zM19.3 244h13.55v1h-13.55zM19.3 254h13.55v1h-13.55zM19.3 273h13.55v1h-13.55zM19.3 322h13.55v1h-13.55zM19.3 327h13.55v1h-13.55z" fill="#6c6cc6"/>
<path d="M19.3 259h13.55v1h-13.55zM19.3 286h13.55v1h-13.55z" fill="#7272c0"/>
<path d="M32.9 160h13.55v1h-13.55zM19.3 206h13.55v1h-13.55zM19.3 238h13.55v1h-13.55zM19.3 239h13.55v1h-13.55zM19.3 359h13.55v1h-13.55z" fill="#7272c6"/>
<path d="M32.9 157h13.55v1h-13.55zM32.9 183h13.55v1h-13.55zM19.3 240h13.55v1h-13.55zM19.3 246h13.55v1h-13.55zM19.3 281h13.55v1h-13.55zM32.9 298h13.55v1h-13.55zM19.3 309h13.55v1h-13.55zM19.3 319h13.55v1h-13.55z" fill="#7272cc"/>
<path d="M19.3 358h13.55v1h-13.55z" fill="#7878c6"/>
<path d="M32.9 144h13.55v1h-13.55zM32.9 212h13.55v1h-13.55zM19.3 275h13.55v1h-13.55zM19.3 307h13.55v1h-13.55zM19.3 310h13.55v1h-13.55zM19.3 315h13.55v1h-13.55zM19.3 317h13.55v1h-13.55zM46.4 342h13.55v1h-13.55zM19.3 350h13.55v1h-13.55zM46.4 353h13.55v1h-13.55zM19.3 362h13.55v1h-13.55z" fill="#7878cc"/>
<path d="M32.9 306h13.55v1h-13.55z" fill="#7878d2"/>
<path d="M32.9 163h13.55v1h-13.55zM32.9 168h13.55v1h-13.55zM32.9 196h13.55v1h-13.55zM19.3 224h13.55v1h-13.55zM32.9 301h13.55v1h-13.55z" fill="#7e7ecc"/>
<path d="M32.9 201h13.55v1h-13.55zM19.3 234h13.55v1h-13.55zM19.3 245h13.55v1h-13.55zM19.3 276h13.55v1h-13.55zM32.9 296h13.55v1h-13.55zM19.3 306h13.55v1h-13.55zM19.3 334h13.55v1h-13.55zM19.3 336h13.55v1h-13.55zM19.3 347h13.55v1h-13.55zM19.3 361h13.55v1h-13.55z" fill="#7e7ed2"/>
<path d="M32.9 348h13.55v1h-13.55z" fill="#8484c6"/>
<path d="M32.9 172h13.55v1h-13.55zM19.3 196h13.55v1h-13.55zM19.3 218h13.55v1h-13.55zM19.3 251h13.55v1h-13.55zM19.3 252h13.55v1h-13.55zM19.3 282h13.55v1h-13.55z" fill="#8484cc"/>
<path d="M32.9 165h13.55v1h-13.55zM32.9 169h13.55v1h-13.55zM19.3 203h13.55v1h-13.55zM19.3 222h13.55v1h-13.55zM19.3 264h13.55v1h-13.55zM32.9 303h13.55v1h-13.55zM19.3 313h13.55v1h-13.55zM19.3 325h13.55v1h-13.55zM46.4 338h13.55v1h-13.55z" fill="#8484d2"/>
<path d="M19.3 200h13.55v1h-13.55zM19.3 208h13.55v1h-13.55zM19.3 210h13.55v1h-13.55zM19.3 266h13.55v1h-13.55zM19.3 268h13.55v1h-13.55zM19.3 284h13.55v1h-13.55zM32.9 290h13.55v1h-13.55zM19.3 308h13.55v1h-13.55z" fill="#8484d8"/>
<path d="M32.9 275h13.55v1h-13.55z" fill="#8a3066"/>
<path d="M32.9 142h13.55v1h-13.55zM32.9 148h13.55v1h-13.55zM32.9 180h13.55v1h-13.55zM19.3 212h13.55v1h-13.55zM19.3 255h13.55v1h-13.55zM19.3 256h13.55v1h-13.55zM19.3 305h13.55v1h-13.55zM46.4 359h13.55v1h-13.55z" fill="#8a8ad2"/>
<path d="M32.9 147h13.55v1h-13.55zM32.9 167h13.55v1h-13.55zM19.3 215h13.55v1h-13.55zM19.3 219h13.55v1h-13.55zM19.3 221h13.55v1h-13.55zM19.3 230h13.55v1h-13.55zM32.9 267h13.55v1h-13.55zM19.3 324h13.55v1h-13.55zM19.3 326h13.55v1h-13.55zM19.3 353h13.55v1h-13.55z" fill="#8a8ad8"/>
<path d="M32.9 364h13.55v1h-13.55z" fill="#904878"/>
<path d="M19.3 195h13.55v1h-13.55zM32.9 211h13.55v1h-13.55zM19.3 311h13.55v1h-13.55z" fill="#9090d2"/>
<path d="M19.3 199h13.55v1h-13.55zM19.3 223h13.55v1h-13.55zM19.3 232h13.55v1h-13.55zM19.3 248h13.55v1h-13.55zM19.3 263h13.55v1h-13.55zM32.9 277h13.55v1h-13.55zM46.4 285h13.55v1h-13.55zM19.3 296h13.55v1h-13.55zM19.3 300h13.55v1h-13.55zM19.3 303h13.55v1h-13.55zM46.4 344h13.55v1h-13.55zM46.4 360h13.55v1h-13.55z" fill="#9090d8"/>
<path d="M32.9 273h13.55v1h-13.55z" fill="#965a8a"/>
<path d="M46.4 354h13.55v1h-13.55z" fill="#9696cc"/>
<path d="M32.9 179h13.55v1h-13.55zM19.3 201h13.55v1h-13.55zM19.3 279h13.55v1h-13.55zM32.9 292h13.55v1h-13.55zM32.9 297h13.55v1h-13.55zM46.4 301h13.55v1h-13.55zM32.9 338h13.55v1h-13.55z" fill="#9696d8"/>
<path d="M19.3 194h13.55v1h-13.55zM32.9 262h13.55v1h-13.55zM19.3 291h13.55v1h-13.55zM32.9 291h13.55v1h-13.55z" fill="#9696de"/>
<path d="M32.9 261h13.55v1h-13.55z" fill="#9c4878"/>
<path d="M32.9 332h13.55v1h-13.55z" fill="#9c5a8a"/>
<path d="M32.9 260h13.55v1h-13.55z" fill="#9c9cd8"/>
<path d="M32.9 150h13.55v1h-13.55zM46.4 153h13.55v1h-13.55zM60 199h13.55v1h-13.55zM19.3 204h13.55v1h-13.55zM19.3 213h13.55v1h-13.55zM19.3 225h13.55v1h-13.55zM19.3 226h13.55v1h-13.55zM19.3 229h13.55v1h-13.55zM19.3 233h13.55v1h-13.55zM19.3 236h13.55v1h-13.55zM19.3 253h13.55v1h-13.55zM46.4 277h13.55v1h-13.55zM46.4 296h13.55v1h-13.55zM19.3 297h13.55v1h-13.55zM19.3 302h13.55v1h-13.55zM32.9 304h13.55v1h-13.55zM46.4 318h13.55v1h-13.55zM32.9 323h13.55v1h-13.55zM46.4 336h13.55v1h-13.55z" fill="#9c9cde"/>
<path d="M32.9 149h13.55v1h-13.55z" fill="#a25a84"/>
<path d="M19.3 314h13.55v1h-13.55z" fill="#a2729c"/>
<path d="M32.9 342h13.55v1h-13.55z" fill="#a2a2d2"/>
<path d="M19.3 202h13.55v1h-13.55z" fill="#a2a2d8"/>
<path d="M46.4 146h13.55v1h-13.55zM46.4 171h13.55v1h-13.55zM46.4 172h13.55v1h-13.55zM32.9 174h13.55v1h-13.55zM32.9 177h13.55v1h-13.55zM19.3 217h13.55v1h-13.55zM19.3 220h13.55v1h-13.55zM19.3 235h13.55v1h-13.55zM46.4 257h13.55v1h-13.55zM19.3 269h13.55v1h-13.55zM46.4 273h13.55v1h-13.55zM19.3 274h13.55v1h-13.55zM19.3 293h13.55v1h-13.55zM32.9 295h13.55v1h-13.55zM19.3 318h13.55v1h-13.55zM46.4 321h13.55v1h-13.55zM19.3 323h13.55v1h-13.55z" fill="#a2a2de"/>
<path d="M32.9 335h13.55v1h-13.55z" fill="#a84e7e"/>
<path d="M32.9 282h13.55v1h-13.55z" fill="#a86090"/>
<path d="M32.9 312h13.55v1h-13.55z" fill="#a86690"/>
<path d="M32.9 330h13.55v1h-13.55zM32.9 350h13.55v1h-13.55z" fill="#a86c96"/>
<path d="M32.9 161h13.55v1h-13.55z" fill="#a87eae"/>
<path d="M60 184h13.55v1h-13.55z" fill="#a8a8d8"/>
<path d="M32.9 155h13.55v1h-13.55zM32.9 193h13.55v1h-13.55zM60 193h13.55v1h-13.55zM19.3 216h13.55v1h-13.55zM46.4 272h13.55v1h-13.55zM46.4 276h13.55v1h-13.55zM46.4 278h13.55v1h-13.55zM46.4 286h13.55v1h-13.55zM46.4 290h13.55v1h-13.55zM60 291h13.55v1h-13.55zM19.3 292h13.55v1h-13.55zM46.4 292h13.55v1h-13.55zM60 295h13.55v1h-13.55zM46.4 298h13.55v1h-13.55zM19.3 299h13.55v1h-13.55zM32.9 300h13.55v1h-13.55zM32.9 302h13.55v1h-13.55zM60 306h13.55v1h-13.55zM32.9 313h13.55v1h-13.55zM60 321h13.55v1h-13.55zM46.4 323h13.55v1h-13.55zM32.9 325h13.55v1h-13.55zM60 325h13.55v1h-13.55zM46.4 341h13.55v1h-13.55zM46.4 349h13.55v1h-13.55z" fill="#a8a8e4"/>
<path d="M32.9 327h13.55v1h-13.55z" fill="#ae5a84"/>
<path d="M32.9 334h13.55v1h-13.55z" fill="#ae6690"/>
<path d="M32.9 145h13.55v1h-13.55z" fill="#ae96c6"/>
<path d="M19.3 271h13.55v1h-13.55z" fill="#aeaede"/>
<path d="M32.9 152h13.55v1h-13.55zM32.9 162h13.55v1h-13.55zM32.9 164h13.55v1h-13.55zM46.4 174h13.55v1h-13.55zM60 191h13.55v1h-13.55zM19.3 193h13.55v1h-13.55zM19.3 214h13.55v1h-13.55zM46.4 220h13.55v1h-13.55zM46.4 244h13.55v1h-13.55zM19.3 247h13.55v1h-13.55zM46.4 258h13.55v1h-13.55zM19.3 265h13.55v1h-13.55zM19.3 272h13.55v1h-13.55zM46.4 287h13.55v1h-13.55zM32.9 293h13.55v1h-13.55zM19.3 298h13.55v1h-13.55zM46.4 300h13.55v1h-13.55zM46.4 305h13.55v1h-13.55zM46.4 317h13.55v1h-13.55zM46.4 325h13.55v1h-13.55zM46.4 329h13.55v1h-13.55zM46.4 345h13.55v1h-13.55zM46.4 348h13.55v1h-13.55z" fill="#aeaee4"/>
<path d="M32.9 305h13.55v1h-13.55z" fill="#b46c96"/>
<path d="M32.9 285h13.55v1h-13.55z" fill="#b4729c"/>
<path d="M32.9 270h13.55v1h-13.55zM32.9 310h13.55v1h-13.55z" fill="#b484ae"/>
<path d="M46.4 340h13.55v1h-13.55z" fill="#b4aed8"/>
<path d="M19.3 262h13.55v1h-13.55z" fill="#b4b4de"/>
<path d="M32.9 178h13.55v1h-13.55zM60 182h13.55v1h-13.55zM60 196h13.55v1h-13.55zM60 200h13.55v1h-13.55zM32.9 204h13.55v1h-13.55zM60 206h13.55v1h-13.55zM60 216h13.55v1h-13.55zM46.4 218h13.55v1h-13.55zM46.4 236h13.55v1h-13.55zM46.4 243h13.55v1h-13.55zM46.4 253h13.55v1h-13.55zM46.4 255h13.55v1h-13.55zM46.4 283h13.55v1h-13.55zM19.3 288h13.55v1h-13.55zM46.4 293h13.55v1h-13.55zM60 293h13.55v1h-13.55zM73.5 297h13.55v1h-13.55zM60 300h13.55v1h-13.55zM60 304h13.55v1h-13.55zM32.9 324h13.55v1h-13.55zM46.4 347h13.55v1h-13.55zM32.9 357h13.55v1h-13.55z" fill="#b4b4e4"/>
<path d="M32.9 286h13.55v1h-13.55z" fill="#ba5a7e"/>
<path d="M32.9 318h13.55v1h-13.55z" fill="#ba668a"/>
<path d="M19.3 183h13.55v1h-13.55z" fill="#ba789c"/>
<path d="M32.9 308h13.55v1h-13.55z" fill="#ba96c0"/>
<path d="M32.9 170h13.55v1h-13.55z" fill="#baa2c6"/>
<path d="M19.3 231h13.55v1h-13.55z" fill="#baa2cc"/>
<path d="M32.9 289h13.55v1h-13.55zM32.9 314h13.55v1h-13.55z" fill="#babae4"/>
<path d="M87 150h13.55v1h-13.55zM46.4 173h13.55v1h-13.55zM87 179h13.55v1h-13.55zM19.3 205h13.55v1h-13.55zM60 210h13.55v1h-13.55zM19.3 211h13.55v1h-13.55zM60 214h13.55v1h-13.55zM46.4 222h13.55v1h-13.55zM46.4 224h13.55v1h-13.55zM46.4 228h13.55v1h-13.55zM46.4 229h13.55v1h-13.55zM46.4 232h13.55v1h-13.55zM46.4 237h13.55v1h-13.55zM46.4 242h13.55v1h-13.55zM46.4 249h13.55v1h-13.55zM46.4 259h13.55v1h-13.55zM46.4 284h13.55v1h-13.55zM46.4 289h13.55v1h-13.55zM60 290h13.55v1h-13.55zM19.3 295h13.55v1h-13.55zM60 296h13.55v1h-13.55zM32.9 299h13.55v1h-13.55zM46.4 304h13.55v1h-13.55zM46.4 308h13.55v1h-13.55zM60 308h13.55v1h-13.55zM46.4 309h13.55v1h-13.55zM46.4 312h13.55v1h-13.55zM19.3 316h13.55v1h-13.55zM46.4 320h13.55v1h-13.55zM46.4 322h13.55v1h-13.55zM46.4 330h13.55v1h-13.55z" fill="#babaea"/>
<path d="M19.3 190h13.55v1h-13.55z" fill="#c07896"/>
<path d="M19.3 294h13.55v1h-13.55z" fill="#c084a2"/>
<path d="M32.9 326h13.55v1h-13.55z" fill="#c08aa8"/>
<path d="M32.9 321h13.55v1h-13.55z" fill="#c090ae"/>
<path d="M46.4 156h13.55v1h-13.55zM87 158h13.55v1h-13.55zM87 159h13.55v1h-13.55zM46.4 165h13.55v1h-13.55zM87 165h13.55v1h-13.55zM87 166h13.55v1h-13.55zM32.9 171h13.55v1h-13.55zM32.9 175h13.55v1h-13.55zM60 180h13.55v1h-13.55zM60 181h13.55v1h-13.55zM60 194h13.55v1h-13.55zM32.9 197h13.55v1h-13.55zM60 203h13.55v1h-13.55zM19.3 209h13.55v1h-13.55zM46.4 219h13.55v1h-13.55zM46.4 221h13.55v1h-13.55zM46.4 225h13.55v1h-13.55zM46.4 226h13.55v1h-13.55zM19.3 228h13.55v1h-13.55zM46.4 231h13.55v1h-13.55zM46.4 238h13.55v1h-13.55zM46.4 239h13.55v1h-13.55zM46.4 240h13.55v1h-13.55zM46.4 245h13.55v1h-13.55zM46.4 250h13.55v1h-13.55zM46.4 254h13.55v1h-13.55zM46.4 260h13.55v1h-13.55zM46.4 271h13.55v1h-13.55zM19.3 287h13.55v1h-13.55zM19.3 290h13.55v1h-13.55zM60 301h13.55v1h-13.55zM46.4 303h13.55v1h-13.55zM19.3 304h13.55v1h-13.55zM46.4 306h13.55v1h-13.55zM60 323h13.55v1h-13.55zM46.4 339h13.55v1h-13.55zM46.4 346h13.55v1h-13.55z" fill="#c0c0ea"/>
<path d="M19.3 142h13.55v1h-13.55zM19.3 148h13.55v1h-13.55zM19.3 154h13.55v1h-13.55zM19.3 173h13.55v1h-13.55zM46.4 190h13.55v1h-13.55zM46.4 200h13.55v1h-13.55zM73.5 346h13.55v1h-13.55zM73.5 353h13.55v1h-13.55z" fill="#c60c18"/>
<path d="M32.9 272h13.55v1h-13.55z" fill="#c6667e"/>
<path d="M32.9 146h13.55v1h-13.55zM32.9 360h13.55v1h-13.55z" fill="#c67890"/>
<path d="M32.9 266h13.55v1h-13.55z" fill="#c68aa8"/>
<path d="M32.9 343h13.55v1h-13.55z" fill="#c690ae"/>
<path d="M32.9 153h13.55v1h-13.55zM46.4 154h13.55v1h-13.55zM46.4 160h13.55v1h-13.55zM46.4 164h13.55v1h-13.55zM87 164h13.55v1h-13.55zM46.4 167h13.55v1h-13.55zM87 169h13.55v1h-13.55zM46.4 178h13.55v1h-13.55zM60 190h13.55v1h-13.55zM46.4 223h13.55v1h-13.55zM46.4 227h13.55v1h-13.55zM46.4 230h13.55v1h-13.55zM46.4 234h13.55v1h-13.55zM46.4 241h13.55v1h-13.55zM46.4 247h13.55v1h-13.55zM46.4 256h13.55v1h-13.55zM19.3 260h13.55v1h-13.55zM46.4 263h13.55v1h-13.55zM46.4 265h13.55v1h-13.55zM46.4 266h13.55v1h-13.55zM46.4 267h13.55v1h-13.55zM46.4 269h13.55v1h-13.55zM19.3 280h13.55v1h-13.55zM46.4 280h13.55v1h-13.55zM46.4 282h13.55v1h-13.55zM46.4 297h13.55v1h-13.55zM73.5 304h13.55v1h-13.55zM60 310h13.55v1h-13.55zM60 319h13.55v1h-13.55zM60 322h13.55v1h-13.55zM46.4 358h13.55v1h-13.55z" fill="#c6c6ea"/>
<path d="M87 171h13.55v1h-13.55zM46.4 248h13.55v1h-13.55zM60 324h13.55v1h-13.55z" fill="#c6c6f0"/>
<path d="M19.3 151h13.55v1h-13.55zM19.3 169h13.55v1h-13.55zM19.3 172h13.55v1h-13.55zM46.4 196h13.55v1h-13.55zM32.9 232h13.55v1h-13.55zM32.9 246h13.55v1h-13.55zM73.5 331h13.55v1h-13.55zM73.5 337h13.55v1h-13.55zM73.5 342h13.55v1h-13.55zM73.5 345h13.55v1h-13.55z" fill="#cc0c18"/>
<path d="M19.3 147h13.55v1h-13.55zM32.9 239h13.55v1h-13.55zM32.9 244h13.55v1h-13.55z" fill="#cc1218"/>
<path d="M19.3 163h13.55v1h-13.55zM19.3 166h13.55v1h-13.55zM19.3 171h13.55v1h-13.55zM19.3 176h13.55v1h-13.55zM19.3 178h13.55v1h-13.55zM46.4 181h13.55v1h-13.55zM46.4 191h13.55v1h-13.55zM46.4 198h13.55v1h-13.55zM46.4 204h13.55v1h-13.55zM46.4 210h13.55v1h-13.55zM32.9 228h13.55v1h-13.55zM32.9 229h13.55v1h-13.55zM60 251h13.55v1h-13.55zM60 257h13.55v1h-13.55zM73.5 356h13.55v1h-13.55z" fill="#cc121e"/>
<path d="M19.3 144h13.55v1h-13.55zM46.4 195h13.55v1h-13.55zM46.4 209h13.55v1h-13.55zM32.9 226h13.55v1h-13.55zM32.9 233h13.55v1h-13.55zM32.9 238h13.55v1h-13.55zM32.9 240h13.55v1h-13.55zM73.5 336h13.55v1h-13.55zM73.5 347h13.55v1h-13.55zM73.5 348h13.55v1h-13.55z" fill="#cc181e"/>
<path d="M19.3 145h13.55v1h-13.55zM19.3 149h13.55v1h-13.55zM19.3 155h13.55v1h-13.55zM19.3 161h13.55v1h-13.55zM19.3 167h13.55v1h-13.55zM19.3 168h13.55v1h-13.55zM46.4 180h13.55v1h-13.55zM46.4 183h13.55v1h-13.55zM46.4 194h13.55v1h-13.55zM46.4 197h13.55v1h-13.55zM46.4 202h13.55v1h-13.55zM46.4 203h13.55v1h-13.55zM46.4 205h13.55v1h-13.55zM46.4 207h13.55v1h-13.55zM32.9 219h13.55v1h-13.55zM32.9 220h13.55v1h-13.55zM32.9 222h13.55v1h-13.55zM32.9 225h13.55v1h-13.55zM32.9 230h13.55v1h-13.55zM32.9 236h13.55v1h-13.55zM60 254h13.55v1h-13.55zM60 258h13.55v1h-13.55zM73.5 330h13.55v1h-13.55zM73.5 339h13.55v1h-13.55zM73.5 357h13.55v1h-13.55z" fill="#cc1824"/>
<path d="M19.3 143h13.55v1h-13.55zM19.3 153h13.55v1h-13.55zM19.3 160h13.55v1h-13.55zM19.3 165h13.55v1h-13.55zM19.3 170h13.55v1h-13.55zM19.3 175h13.55v1h-13.55zM46.4 184h13.55v1h-13.55zM46.4 187h13.55v1h-13.55zM46.4 188h13.55v1h-13.55zM46.4 189h13.55v1h-13.55zM46.4 193h13.55v1h-13.55zM32.9 221h13.55v1h-13.55zM32.9 231h13.55v1h-13.55zM32.9 234h13.55v1h-13.55zM32.9 237h13.55v1h-13.55zM60 259h13.55v1h-13.55zM87 325h13.55v1h-13.55zM73.5 327h13.55v1h-13.55zM73.5 335h13.55v1h-13.55z" fill="#cc1e24"/>
<path d="M19.3 177h13.55v1h-13.55zM46.4 186h13.55v1h-13.55zM46.4 213h13.55v1h-13.55zM32.9 218h13.55v1h-13.55zM60 252h13.55v1h-13.55zM32.9 278h13.55v1h-13.55zM87 311h13.55v1h-13.55zM73.5 361h13.55v1h-13.55z" fill="#cc1e2a"/>
<path d="M19.3 156h13.55v1h-13.55zM19.3 157h13.55v1h-13.55zM19.3 162h13.55v1h-13.55zM19.3 174h13.55v1h-13.55zM60 253h13.55v1h-13.55zM60 260h13.55v1h-13.55z" fill="#cc242a"/>
<path d="M32.9 320h13.55v1h-13.55z" fill="#cc84a2"/>
<path d="M32.9 265h13.55v1h-13.55z" fill="#cc96ae"/>
<path d="M19.3 227h13.55v1h-13.55z" fill="#ccb4d2"/>
<path d="M46.4 177h13.55v1h-13.55z" fill="#ccc0e4"/>
<path d="M46.4 144h13.55v1h-13.55zM60 183h13.55v1h-13.55z" fill="#ccc6e4"/>
<path d="M46.4 158h13.55v1h-13.55z" fill="#ccccea"/>
<path d="M87 147h13.55v1h-13.55zM87 148h13.55v1h-13.55zM32.9 151h13.55v1h-13.55zM46.4 155h13.55v1h-13.55zM87 155h13.55v1h-13.55zM60 164h13.55v1h-13.55zM46.4 168h13.55v1h-13.55zM87 168h13.55v1h-13.55zM60 173h13.55v1h-13.55zM87 173h13.55v1h-13.55zM60 186h13.55v1h-13.55zM60 192h13.55v1h-13.55zM60 208h13.55v1h-13.55zM60 215h13.55v1h-13.55zM87 227h13.55v1h-13.55zM87 230h13.55v1h-13.55zM46.4 233h13.55v1h-13.55zM46.4 235h13.55v1h-13.55zM46.4 251h13.55v1h-13.55zM46.4 261h13.55v1h-13.55zM46.4 262h13.55v1h-13.55zM32.9 264h13.55v1h-13.55zM46.4 288h13.55v1h-13.55zM60 289h13.55v1h-13.55zM46.4 291h13.55v1h-13.55zM46.4 295h13.55v1h-13.55zM46.4 299h13.55v1h-13.55zM46.4 302h13.55v1h-13.55zM60 305h13.55v1h-13.55zM60 309h13.55v1h-13.55zM60 312h13.55v1h-13.55zM60 314h13.55v1h-13.55zM46.4 315h13.55v1h-13.55zM46.4 319h13.55v1h-13.55zM73.5 322h13.55v1h-13.55zM46.4 326h13.55v1h-13.55zM60 326h13.55v1h-13.55zM87 327h13.55v1h-13.55zM46.4 328h13.55v1h-13.55zM60 338h13.55v1h-13.55zM46.4 343h13.55v1h-13.55zM46.4 350h13.55v1h-13.55zM46.4 351h13.55v1h-13.55z" fill="#ccccf0"/>
<path d="M19.3 152h13.55v1h-13.55zM46.4 192h13.55v1h-13.55zM46.4 201h13.55v1h-13.55zM46.4 208h13.55v1h-13.55zM32.9 223h13.55v1h-13.55zM32.9 248h13.55v1h-13.55z" fill="#d2242a"/>
<path d="M19.3 179h13.55v1h-13.55zM60 256h13.55v1h-13.55z" fill="#d22430"/>
<path d="M19.3 146h13.55v1h-13.55zM19.3 164h13.55v1h-13.55zM46.4 185h13.55v1h-13.55zM46.4 199h13.55v1h-13.55zM46.4 211h13.55v1h-13.55zM46.4 212h13.55v1h-13.55zM46.4 214h13.55v1h-13.55zM32.9 235h13.55v1h-13.55zM32.9 281h13.55v1h-13.55zM87 290h13.55v1h-13.55zM73.5 332h13.55v1h-13.55zM73.5 354h13.55v1h-13.55z" fill="#d22a30"/>
<path d="M32.9 227h13.55v1h-13.55z" fill="#d23030"/>
<path d="M19.3 159h13.55v1h-13.55zM46.4 206h13.55v1h-13.55zM32.9 224h13.55v1h-13.55zM32.9 245h13.55v1h-13.55zM32.9 250h13.55v1h-13.55zM60 255h13.55v1h-13.55zM60 278h13.55v1h-13.55zM60 281h13.55v1h-13.55zM73.5 351h13.55v1h-13.55zM73.5 355h13.55v1h-13.55z" fill="#d23036"/>
<path d="M32.9 340h13.55v1h-13.55z" fill="#d2363c"/>
<path d="M32.9 331h13.55v1h-13.55z" fill="#d27284"/>
<path d="M32.9 287h13.55v1h-13.55z" fill="#d2788a"/>
<path d="M32.9 362h13.55v1h-13.55z" fill="#d27e90"/>
<path d="M32.9 317h13.55v1h-13.55z" fill="#d28a9c"/>
<path d="M32.9 158h13.55v1h-13.55z" fill="#d290a8"/>
<path d="M32.9 263h13.55v1h-13.55zM32.9 271h13.55v1h-13.55zM73.5 316h13.55v1h-13.55z" fill="#d296a8"/>
<path d="M73.5 319h13.55v1h-13.55z" fill="#d2a8c0"/>
<path d="M32.9 284h13.55v1h-13.55z" fill="#d2aec6"/>
<path d="M60 202h13.55v1h-13.55z" fill="#d2b4cc"/>
<path d="M73.5 275h13.55v1h-13.55z" fill="#d2bad2"/>
<path d="M46.4 166h13.55v1h-13.55z" fill="#d2c6e4"/>
<path d="M60 209h13.55v1h-13.55z" fill="#d2cce4"/>
<path d="M32.9 356h13.55v1h-13.55z" fill="#d2ccea"/>
<path d="M60 143h13.55v1h-13.55zM87 143h13.55v1h-13.55zM46.4 147h13.55v1h-13.55zM87 156h13.55v1h-13.55zM87 157h13.55v1h-13.55zM46.4 159h13.55v1h-13.55zM87 160h13.55v1h-13.55zM46.4 163h13.55v1h-13.55zM46.4 169h13.55v1h-13.55zM87 172h13.55v1h-13.55zM60 175h13.55v1h-13.55zM87 175h13.55v1h-13.55zM87 176h13.55v1h-13.55zM73.5 190h13.55v1h-13.55zM19.3 197h13.55v1h-13.55zM19.3 198h13.55v1h-13.55zM87 224h13.55v1h-13.55zM87 237h13.55v1h-13.55zM87 241h13.55v1h-13.55zM87 245h13.55v1h-13.55zM46.4 246h13.55v1h-13.55zM46.4 270h13.55v1h-13.55zM46.4 274h13.55v1h-13.55zM46.4 275h13.55v1h-13.55zM19.3 289h13.55v1h-13.55zM73.5 289h13.55v1h-13.55zM32.9 294h13.55v1h-13.55zM60 302h13.55v1h-13.55zM46.4 310h13.55v1h-13.55zM87 330h13.55v1h-13.55zM32.9 359h13.55v1h-13.55zM46.4 361h13.55v1h-13.55zM46.4 364h13.55v1h-13.55z" fill="#d2d2f0"/>
<path d="M60 285h13.55v1h-13.55zM73.5 360h13.55v1h-13.55z" fill="#d8363c"/>
<path d="M19.3 150h13.55v1h-13.55zM32.9 307h13.55v1h-13.55zM87 308h13.55v1h-13.55zM87 314h13.55v1h-13.55z" fill="#d83c3c"/>
<path d="M46.4 182h13.55v1h-13.55zM60 266h13.55v1h-13.55zM87 292h13.55v1h-13.55zM87 302h13.55v1h-13.55zM32.9 355h13.55v1h-13.55z" fill="#d83c42"/>
<path d="M19.3 158h13.55v1h-13.55zM87 316h13.55v1h-13.55zM32.9 322h13.55v1h-13.55z" fill="#d84242"/>
<path d="M60 261h13.55v1h-13.55zM87 304h13.55v1h-13.55zM87 318h13.55v1h-13.55zM73.5 333h13.55v1h-13.55zM73.5 359h13.55v1h-13.55zM32.9 361h13.55v1h-13.55z" fill="#d84248"/>
<path d="M60 280h13.55v1h-13.55zM87 297h13.55v1h-13.55zM73.5 349h13.55v1h-13.55z" fill="#d84848"/>
<path d="M46.4 215h13.55v1h-13.55zM32.9 283h13.55v1h-13.55zM87 294h13.55v1h-13.55zM73.5 341h13.55v1h-13.55z" fill="#d8484e"/>
<path d="M87 305h13.55v1h-13.55z" fill="#d84e4e"/>
<path d="M87 296h13.55v1h-13.55z" fill="#d88a9c"/>
<path d="M73.5 175h13.55v1h-13.55zM32.9 316h13.55v1h-13.55z" fill="#d8bacc"/>
<path d="M73.5 301h13.55v1h-13.55z" fill="#d8c6de"/>
<path d="M60 211h13.55v1h-13.55z" fill="#d8cce4"/>
<path d="M46.4 356h13.55v1h-13.55z" fill="#d8d2e4"/>
<path d="M87 142h13.55v1h-13.55zM73.5 143h13.55v1h-13.55zM87 144h13.55v1h-13.55zM60 145h13.55v1h-13.55zM60 146h13.55v1h-13.55zM46.4 148h13.55v1h-13.55zM60 148h13.55v1h-13.55zM87 152h13.55v1h-13.55zM87 154h13.55v1h-13.55zM60 159h13.55v1h-13.55zM73.5 162h13.55v1h-13.55zM87 162h13.55v1h-13.55zM60 165h13.55v1h-13.55zM60 168h13.55v1h-13.55zM60 169h13.55v1h-13.55zM60 172h13.55v1h-13.55zM60 177h13.55v1h-13.55zM87 177h13.55v1h-13.55zM87 178h13.55v1h-13.55zM73.5 189h13.55v1h-13.55zM60 197h13.55v1h-13.55zM60 204h13.55v1h-13.55zM60 207h13.55v1h-13.55zM60 213h13.55v1h-13.55zM87 221h13.55v1h-13.55zM87 222h13.55v1h-13.55zM60 228h13.55v1h-13.55zM87 236h13.55v1h-13.55zM87 242h13.55v1h-13.55zM87 246h13.55v1h-13.55zM87 248h13.55v1h-13.55zM46.4 264h13.55v1h-13.55zM46.4 268h13.55v1h-13.55zM46.4 279h13.55v1h-13.55zM60 292h13.55v1h-13.55zM60 294h13.55v1h-13.55zM73.5 299h13.55v1h-13.55zM73.5 303h13.55v1h-13.55zM73.5 311h13.55v1h-13.55zM46.4 314h13.55v1h-13.55zM60 317h13.55v1h-13.55zM60 320h13.55v1h-13.55zM87 329h13.55v1h-13.55zM87 331h13.55v1h-13.55zM87 332h13.55v1h-13.55zM46.4 335h13.55v1h-13.55zM32.9 352h13.55v1h-13.55z" fill="#d8d8f0"/>
<path d="M87 324h13.55v1h-13.55z" fill="#de4e4e"/>
<path d="M32.9 243h13.55v1h-13.55z" fill="#de4e54"/>
<path d="M73.5 212h13.55v1h-13.55zM32.9 242h13.55v1h-13.55zM32.9 280h13.55v1h-13.55zM32.9 288h13.55v1h-13.55zM87 315h13.55v1h-13.55zM32.9 349h13.55v1h-13.55z" fill="#de5454"/>
<path d="M60 263h13.55v1h-13.55zM60 287h13.55v1h-13.55zM87 303h13.55v1h-13.55zM87 309h13.55v1h-13.55zM87 319h13.55v1h-13.55zM87 320h13.55v1h-13.55z" fill="#de5a5a"/>
<path d="M73.5 340h13.55v1h-13.55z" fill="#de5a60"/>
<path d="M73.5 213h13.55v1h-13.55zM32.9 269h13.55v1h-13.55z" fill="#de605a"/>
<path d="M87 298h13.55v1h-13.55zM73.5 344h13.55v1h-13.55zM73.5 364h13.55v1h-13.55z" fill="#de6060"/>
<path d="M73.5 309h13.55v1h-13.55zM73.5 363h13.55v1h-13.55z" fill="#de6066"/>
<path d="M32.9 241h13.55v1h-13.55zM73.5 338h13.55v1h-13.55z" fill="#de6666"/>
<path d="M73.5 328h13.55v1h-13.55z" fill="#de6c6c"/>
<path d="M32.9 344h13.55v1h-13.55z" fill="#de7272"/>
<path d="M73.5 334h13.55v1h-13.55z" fill="#de7278"/>
<path d="M73.5 313h13.55v1h-13.55zM87 322h13.55v1h-13.55z" fill="#dea2ae"/>
<path d="M46.4 176h13.55v1h-13.55z" fill="#dec0d2"/>
<path d="M19.3 192h13.55v1h-13.55zM60 335h13.55v1h-13.55z" fill="#dec6d8"/>
<path d="M73.5 199h13.55v1h-13.55zM46.4 352h13.55v1h-13.55z" fill="#decce4"/>
<path d="M32.9 351h13.55v1h-13.55zM46.4 363h13.55v1h-13.55z" fill="#ded2e4"/>
<path d="M60 185h13.55v1h-13.55z" fill="#ded8ea"/>
<path d="M46.4 145h13.55v1h-13.55zM46.4 152h13.55v1h-13.55z" fill="#ded8f0"/>
<path d="M46.4 150h13.55v1h-13.55zM73.5 156h13.55v1h-13.55zM73.5 159h13.55v1h-13.55zM87 218h13.55v1h-13.55zM87 235h13.55v1h-13.55zM87 328h13.55v1h-13.55zM87 336h13.55v1h-13.55zM46.4 355h13.55v1h-13.55z" fill="#dedef0"/>
<path d="M60 142h13.55v1h-13.55zM87 145h13.55v1h-13.55zM87 146h13.55v1h-13.55zM87 149h13.55v1h-13.55zM87 153h13.55v1h-13.55zM60 156h13.55v1h-13.55zM87 163h13.55v1h-13.55zM60 166h13.55v1h-13.55zM87 167h13.55v1h-13.55zM60 170h13.55v1h-13.55zM60 171h13.55v1h-13.55zM32.9 173h13.55v1h-13.55zM60 174h13.55v1h-13.55zM60 176h13.55v1h-13.55zM73.5 194h13.55v1h-13.55zM60 195h13.55v1h-13.55zM60 205h13.55v1h-13.55zM60 217h13.55v1h-13.55zM60 220h13.55v1h-13.55zM60 222h13.55v1h-13.55zM87 228h13.55v1h-13.55zM60 238h13.55v1h-13.55zM87 238h13.55v1h-13.55zM87 240h13.55v1h-13.55zM87 247h13.55v1h-13.55zM32.9 257h13.55v1h-13.55zM73.5 294h13.55v1h-13.55zM60 297h13.55v1h-13.55zM60 298h13.55v1h-13.55zM60 311h13.55v1h-13.55zM73.5 312h13.55v1h-13.55zM60 313h13.55v1h-13.55zM60 318h13.55v1h-13.55zM32.9 329h13.55v1h-13.55zM46.4 331h13.55v1h-13.55z" fill="#dedef6"/>
<path d="M46.4 216h13.55v1h-13.55zM87 293h13.55v1h-13.55zM32.9 311h13.55v1h-13.55zM32.9 315h13.55v1h-13.55zM87 321h13.55v1h-13.55z" fill="#e46060"/>
<path d="M32.9 274h13.55v1h-13.55zM32.9 276h13.55v1h-13.55zM32.9 319h13.55v1h-13.55z" fill="#e46666"/>
<path d="M87 299h13.55v1h-13.55z" fill="#e46c6c"/>
<path d="M73.5 207h13.55v1h-13.55zM87 295h13.55v1h-13.55z" fill="#e4726c"/>
<path d="M87 326h13.55v1h-13.55zM73.5 350h13.55v1h-13.55z" fill="#e47272"/>
<path d="M60 267h13.55v1h-13.55zM32.9 328h13.55v1h-13.55zM73.5 358h13.55v1h-13.55z" fill="#e47278"/>
<path d="M46.4 217h13.55v1h-13.55z" fill="#e47872"/>
<path d="M73.5 216h13.55v1h-13.55zM73.5 343h13.55v1h-13.55z" fill="#e47878"/>
<path d="M73.5 362h13.55v1h-13.55z" fill="#e4787e"/>
<path d="M87 300h13.55v1h-13.55z" fill="#e47e78"/>
<path d="M32.9 249h13.55v1h-13.55zM60 288h13.55v1h-13.55zM87 317h13.55v1h-13.55z" fill="#e47e7e"/>
<path d="M60 277h13.55v1h-13.55zM32.9 353h13.55v1h-13.55z" fill="#e47e84"/>
<path d="M60 270h13.55v1h-13.55zM73.5 352h13.55v1h-13.55z" fill="#e48484"/>
<path d="M60 282h13.55v1h-13.55z" fill="#e4848a"/>
<path d="M19.3 187h13.55v1h-13.55z" fill="#e4969c"/>
<path d="M60 284h13.55v1h-13.55z" fill="#e49ca8"/>
<path d="M73.5 317h13.55v1h-13.55z" fill="#e4a2a8"/>
<path d="M73.5 310h13.55v1h-13.55z" fill="#e4a2ae"/>
<path d="M60 262h13.55v1h-13.55zM60 275h13.55v1h-13.55z" fill="#e4a8ae"/>
<path d="M73.5 271h13.55v1h-13.55z" fill="#e4aeb4"/>
<path d="M32.9 309h13.55v1h-13.55z" fill="#e4aeba"/>
<path d="M60 353h13.55v1h-13.55z" fill="#e4bac0"/>
<path d="M73.5 323h13.55v1h-13.55z" fill="#e4c0cc"/>
<path d="M73.5 302h13.55v1h-13.55z" fill="#e4ccd8"/>
<path d="M73.5 318h13.55v1h-13.55z" fill="#e4d2de"/>
<path d="M73.5 239h13.55v1h-13.55z" fill="#e4d2e4"/>
<path d="M73.5 149h13.55v1h-13.55zM19.3 182h13.55v1h-13.55zM87 253h13.55v1h-13.55zM46.4 333h13.55v1h-13.55z" fill="#e4d8e4"/>
<path d="M32.9 255h13.55v1h-13.55zM73.5 278h13.55v1h-13.55z" fill="#e4d8ea"/>
<path d="M73.5 183h13.55v1h-13.55zM73.5 326h13.55v1h-13.55z" fill="#e4def0"/>
<path d="M60 144h13.55v1h-13.55zM60 147h13.55v1h-13.55zM87 151h13.55v1h-13.55zM60 155h13.55v1h-13.55zM46.4 157h13.55v1h-13.55zM60 158h13.55v1h-13.55zM60 160h13.55v1h-13.55zM60 163h13.55v1h-13.55zM87 170h13.55v1h-13.55zM46.4 179h13.55v1h-13.55zM60 187h13.55v1h-13.55zM60 188h13.55v1h-13.55zM60 189h13.55v1h-13.55zM60 198h13.55v1h-13.55zM73.5 198h13.55v1h-13.55zM87 219h13.55v1h-13.55zM60 224h13.55v1h-13.55zM87 225h13.55v1h-13.55zM73.5 226h13.55v1h-13.55zM87 226h13.55v1h-13.55zM87 229h13.55v1h-13.55zM60 230h13.55v1h-13.55zM87 232h13.55v1h-13.55zM60 234h13.55v1h-13.55zM87 234h13.55v1h-13.55zM87 239h13.55v1h-13.55zM60 240h13.55v1h-13.55zM87 243h13.55v1h-13.55zM60 247h13.55v1h-13.55zM87 249h13.55v1h-13.55zM87 250h13.55v1h-13.55zM32.9 259h13.55v1h-13.55zM73.5 293h13.55v1h-13.55zM60 307h13.55v1h-13.55zM60 315h13.55v1h-13.55zM60 316h13.55v1h-13.55zM73.5 321h13.55v1h-13.55zM87 334h13.55v1h-13.55zM32.9 341h13.55v1h-13.55z" fill="#e4e4f6"/>
<path d="M32.9 247h13.55v1h-13.55z" fill="#ea726c"/>
<path d="M87 323h13.55v1h-13.55z" fill="#ea847e"/>
<path d="M73.5 202h13.55v1h-13.55zM73.5 217h13.55v1h-13.55z" fill="#ea8484"/>
<path d="M19.3 189h13.55v1h-13.55z" fill="#ea8a84"/>
<path d="M73.5 214h13.55v1h-13.55zM60 283h13.55v1h-13.55zM87 306h13.55v1h-13.55zM87 310h13.55v1h-13.55zM73.5 329h13.55v1h-13.55z" fill="#ea8a8a"/>
<path d="M87 291h13.55v1h-13.55zM87 312h13.55v1h-13.55z" fill="#ea908a"/>
<path d="M87 307h13.55v1h-13.55zM32.9 337h13.55v1h-13.55z" fill="#ea9090"/>
<path d="M73.5 280h13.55v1h-13.55z" fill="#ea9690"/>
<path d="M32.9 345h13.55v1h-13.55zM32.9 363h13.55v1h-13.55z" fill="#ea9696"/>
<path d="M60 268h13.55v1h-13.55z" fill="#ea9c96"/>
<path d="M19.3 184h13.55v1h-13.55zM60 279h13.55v1h-13.55zM73.5 284h13.55v1h-13.55z" fill="#ea9c9c"/>
<path d="M32.9 268h13.55v1h-13.55z" fill="#ea9ca2"/>
<path d="M60 274h13.55v1h-13.55z" fill="#eaa2a2"/>
<path d="M60 264h13.55v1h-13.55zM60 273h13.55v1h-13.55z" fill="#eaa2a8"/>
<path d="M87 351h13.55v1h-13.55z" fill="#eaaeb4"/>
<path d="M32.9 347h13.55v1h-13.55z" fill="#eab4b4"/>
<path d="M73.5 178h13.55v1h-13.55zM73.5 320h13.55v1h-13.55zM60 345h13.55v1h-13.55zM60 347h13.55v1h-13.55z" fill="#ead2d8"/>
<path d="M46.4 143h13.55v1h-13.55zM73.5 160h13.55v1h-13.55zM73.5 296h13.55v1h-13.55z" fill="#ead2de"/>
<path d="M60 340h13.55v1h-13.55z" fill="#ead2e4"/>
<path d="M32.9 251h13.55v1h-13.55zM32.9 252h13.55v1h-13.55z" fill="#ead8e4"/>
<path d="M73.5 176h13.55v1h-13.55zM60 212h13.55v1h-13.55zM73.5 290h13.55v1h-13.55zM87 313h13.55v1h-13.55z" fill="#eadeea"/>
<path d="M60 303h13.55v1h-13.55zM32.9 358h13.55v1h-13.55z" fill="#eae4f0"/>
<path d="M73.5 144h13.55v1h-13.55zM46.4 151h13.55v1h-13.55zM73.5 193h13.55v1h-13.55z" fill="#eae4f6"/>
<path d="M46.4 149h13.55v1h-13.55zM60 150h13.55v1h-13.55zM73.5 150h13.55v1h-13.55zM60 152h13.55v1h-13.55zM60 153h13.55v1h-13.55zM60 157h13.55v1h-13.55zM87 161h13.55v1h-13.55zM73.5 167h13.55v1h-13.55zM46.4 175h13.55v1h-13.55zM60 178h13.55v1h-13.55zM60 179h13.55v1h-13.55zM73.5 180h13.55v1h-13.55zM87 212h13.55v1h-13.55zM60 223h13.55v1h-13.55zM87 223h13.55v1h-13.55zM60 226h13.55v1h-13.55zM60 229h13.55v1h-13.55zM60 231h13.55v1h-13.55zM87 231h13.55v1h-13.55zM87 233h13.55v1h-13.55zM60 235h13.55v1h-13.55zM60 245h13.55v1h-13.55zM60 249h13.55v1h-13.55zM60 250h13.55v1h-13.55zM46.4 252h13.55v1h-13.55zM32.9 256h13.55v1h-13.55zM46.4 281h13.55v1h-13.55zM73.5 298h13.55v1h-13.55zM60 299h13.55v1h-13.55zM46.4 316h13.55v1h-13.55zM73.5 325h13.55v1h-13.55zM46.4 327h13.55v1h-13.55zM87 333h13.55v1h-13.55z" fill="#eaeaf6"/>
<path d="M46.4 313h13.55v1h-13.55z" fill="#eaeafc"/>
<path d="M73.5 285h13.55v1h-13.55z" fill="#f09690"/>
<path d="M73.5 276h13.55v1h-13.55z" fill="#f09696"/>
<path d="M73.5 203h13.55v1h-13.55zM73.5 206h13.55v1h-13.55zM87 344h13.55v1h-13.55z" fill="#f09c96"/>
<path d="M60 272h13.55v1h-13.55z" fill="#f09c9c"/>
<path d="M19.3 186h13.55v1h-13.55z" fill="#f0a29c"/>
<path d="M60 271h13.55v1h-13.55zM32.9 354h13.55v1h-13.55z" fill="#f0a2a2"/>
<path d="M19.3 181h13.55v1h-13.55zM73.5 274h13.55v1h-13.55zM87 289h13.55v1h-13.55zM87 340h13.55v1h-13.55z" fill="#f0a8a2"/>
<path d="M19.3 185h13.55v1h-13.55zM19.3 191h13.55v1h-13.55zM73.5 283h13.55v1h-13.55zM60 286h13.55v1h-13.55zM87 359h13.55v1h-13.55z" fill="#f0a8a8"/>
<path d="M87 358h13.55v1h-13.55zM87 363h13.55v1h-13.55z" fill="#f0aea8"/>
<path d="M73.5 306h13.55v1h-13.55zM73.5 324h13.55v1h-13.55zM32.9 333h13.55v1h-13.55zM87 355h13.55v1h-13.55z" fill="#f0aeae"/>
<path d="M73.5 209h13.55v1h-13.55zM60 265h13.55v1h-13.55zM73.5 281h13.55v1h-13.55zM73.5 295h13.55v1h-13.55z" fill="#f0b4ae"/>
<path d="M73.5 208h13.55v1h-13.55zM73.5 232h13.55v1h-13.55zM73.5 286h13.55v1h-13.55zM60 360h13.55v1h-13.55z" fill="#f0b4b4"/>
<path d="M73.5 279h13.55v1h-13.55z" fill="#f0baba"/>
<path d="M73.5 315h13.55v1h-13.55z" fill="#f0c6cc"/>
<path d="M73.5 211h13.55v1h-13.55z" fill="#f0cccc"/>
<path d="M87 339h13.55v1h-13.55z" fill="#f0d2d2"/>
<path d="M73.5 245h13.55v1h-13.55z" fill="#f0d2d8"/>
<path d="M60 276h13.55v1h-13.55zM87 349h13.55v1h-13.55z" fill="#f0d8de"/>
<path d="M73.5 182h13.55v1h-13.55zM73.5 270h13.55v1h-13.55z" fill="#f0dee4"/>
<path d="M46.4 362h13.55v1h-13.55z" fill="#f0e4e4"/>
<path d="M73.5 169h13.55v1h-13.55zM46.4 170h13.55v1h-13.55zM87 205h13.55v1h-13.55zM73.5 222h13.55v1h-13.55z" fill="#f0e4ea"/>
<path d="M73.5 142h13.55v1h-13.55zM73.5 155h13.55v1h-13.55z" fill="#f0e4f0"/>
<path d="M60 161h13.55v1h-13.55zM73.5 267h13.55v1h-13.55zM87 286h13.55v1h-13.55zM46.4 311h13.55v1h-13.55z" fill="#f0eaf0"/>
<path d="M60 201h13.55v1h-13.55zM87 252h13.55v1h-13.55zM32.9 254h13.55v1h-13.55zM73.5 300h13.55v1h-13.55zM60 341h13.55v1h-13.55z" fill="#f0eaf6"/>
<path d="M87 207h13.55v1h-13.55zM60 225h13.55v1h-13.55zM60 246h13.55v1h-13.55zM46.4 307h13.55v1h-13.55z" fill="#f0f0f6"/>
<path d="M60 151h13.55v1h-13.55zM60 154h13.55v1h-13.55zM73.5 157h13.55v1h-13.55zM73.5 158h13.55v1h-13.55zM60 162h13.55v1h-13.55zM60 167h13.55v1h-13.55zM87 174h13.55v1h-13.55zM73.5 195h13.55v1h-13.55zM60 218h13.55v1h-13.55zM87 220h13.55v1h-13.55zM60 221h13.55v1h-13.55zM60 227h13.55v1h-13.55zM60 233h13.55v1h-13.55zM73.5 235h13.55v1h-13.55zM60 236h13.55v1h-13.55zM60 237h13.55v1h-13.55zM60 239h13.55v1h-13.55zM73.5 240h13.55v1h-13.55zM60 242h13.55v1h-13.55zM60 243h13.55v1h-13.55zM87 244h13.55v1h-13.55zM87 255h13.55v1h-13.55zM32.9 258h13.55v1h-13.55zM87 258h13.55v1h-13.55zM87 274h13.55v1h-13.55zM87 277h13.55v1h-13.55zM46.4 334h13.55v1h-13.55zM87 335h13.55v1h-13.55zM60 342h13.55v1h-13.55zM87 346h13.55v1h-13.55zM60 356h13.55v1h-13.55zM46.4 357h13.55v1h-13.55z" fill="#f0f0fc"/>
<path d="M73.5 200h13.55v1h-13.55zM60 348h13.55v1h-13.55zM87 354h13.55v1h-13.55z" fill="#f6bab4"/>
<path d="M87 301h13.55v1h-13.55zM60 339h13.55v1h-13.55zM87 341h13.55v1h-13.55z" fill="#f6baba"/>
<path d="M73.5 287h13.55v1h-13.55zM87 342h13.55v1h-13.55zM87 350h13.55v1h-13.55zM87 364h13.55v1h-13.55z" fill="#f6c0ba"/>
<path d="M60 349h13.55v1h-13.55z" fill="#f6c0c0"/>
<path d="M73.5 165h13.55v1h-13.55zM87 345h13.55v1h-13.55zM60 363h13.55v1h-13.55z" fill="#f6c6c0"/>
<path d="M73.5 184h13.55v1h-13.55zM73.5 272h13.55v1h-13.55zM73.5 277h13.55v1h-13.55zM60 328h13.55v1h-13.55zM32.9 336h13.55v1h-13.55zM60 346h13.55v1h-13.55z" fill="#f6c6c6"/>
<path d="M73.5 151h13.55v1h-13.55zM60 331h13.55v1h-13.55z" fill="#f6ccc6"/>
<path d="M73.5 147h13.55v1h-13.55zM73.5 185h13.55v1h-13.55zM73.5 201h13.55v1h-13.55zM73.5 215h13.55v1h-13.55zM73.5 231h13.55v1h-13.55zM87 361h13.55v1h-13.55z" fill="#f6cccc"/>
<path d="M73.5 145h13.55v1h-13.55z" fill="#f6d2cc"/>
<path d="M73.5 168h13.55v1h-13.55zM73.5 172h13.55v1h-13.55zM73.5 204h13.55v1h-13.55zM73.5 218h13.55v1h-13.55zM73.5 266h13.55v1h-13.55zM87 337h13.55v1h-13.55zM87 362h13.55v1h-13.55z" fill="#f6d2d2"/>
<path d="M73.5 192h13.55v1h-13.55zM73.5 252h13.55v1h-13.55zM73.5 282h13.55v1h-13.55zM60 337h13.55v1h-13.55zM87 347h13.55v1h-13.55zM60 351h13.55v1h-13.55z" fill="#f6d8d2"/>
<path d="M73.5 236h13.55v1h-13.55zM73.5 258h13.55v1h-13.55zM60 332h13.55v1h-13.55zM87 338h13.55v1h-13.55zM87 360h13.55v1h-13.55zM60 362h13.55v1h-13.55z" fill="#f6d8d8"/>
<path d="M87 194h13.55v1h-13.55z" fill="#f6dede"/>
<path d="M73.5 181h13.55v1h-13.55z" fill="#f6dee4"/>
<path d="M73.5 146h13.55v1h-13.55zM46.4 161h13.55v1h-13.55zM32.9 339h13.55v1h-13.55z" fill="#f6e4ea"/>
<path d="M73.5 148h13.55v1h-13.55zM73.5 164h13.55v1h-13.55zM87 189h13.55v1h-13.55zM73.5 197h13.55v1h-13.55zM73.5 259h13.55v1h-13.55zM87 279h13.55v1h-13.55zM73.5 314h13.55v1h-13.55zM87 348h13.55v1h-13.55z" fill="#f6eaf0"/>
<path d="M73.5 166h13.55v1h-13.55zM73.5 243h13.55v1h-13.55zM60 355h13.55v1h-13.55zM87 357h13.55v1h-13.55z" fill="#f6f0f0"/>
<path d="M19.3 180h13.55v1h-13.55zM60 219h13.55v1h-13.55zM73.5 219h13.55v1h-13.55zM87 260h13.55v1h-13.55zM87 264h13.55v1h-13.55zM60 269h13.55v1h-13.55zM87 283h13.55v1h-13.55zM87 288h13.55v1h-13.55z" fill="#f6f0f6"/>
<path d="M73.5 308h13.55v1h-13.55z" fill="#f6f0fc"/>
<path d="M87 261h13.55v1h-13.55z" fill="#f6f6f6"/>
<path d="M60 149h13.55v1h-13.55zM73.5 196h13.55v1h-13.55zM87 203h13.55v1h-13.55zM87 206h13.55v1h-13.55zM73.5 221h13.55v1h-13.55zM60 232h13.55v1h-13.55zM73.5 233h13.55v1h-13.55zM73.5 237h13.55v1h-13.55zM60 241h13.55v1h-13.55zM73.5 246h13.55v1h-13.55zM73.5 247h13.55v1h-13.55zM87 273h13.55v1h-13.55zM87 278h13.55v1h-13.55zM87 284h13.55v1h-13.55zM73.5 291h13.55v1h-13.55zM46.4 294h13.55v1h-13.55zM73.5 305h13.55v1h-13.55zM46.4 324h13.55v1h-13.55zM87 352h13.55v1h-13.55z" fill="#f6f6fc"/>
<path d="M19.3 188h13.55v1h-13.55zM73.5 244h13.55v1h-13.55zM73.5 260h13.55v1h-13.55zM46.4 337h13.55v1h-13.55zM32.9 346h13.55v1h-13.55z" fill="#fcd8d8"/>
<path d="M87 183h13.55v1h-13.55zM87 187h13.55v1h-13.55zM87 192h13.55v1h-13.55zM87 201h13.55v1h-13.55zM73.5 273h13.55v1h-13.55z" fill="#fcded8"/>
<path d="M73.5 163h13.55v1h-13.55zM87 198h13.55v1h-13.55zM73.5 223h13.55v1h-13.55zM73.5 227h13.55v1h-13.55zM73.5 288h13.55v1h-13.55zM60 343h13.55v1h-13.55z" fill="#fcdede"/>
<path d="M46.4 142h13.55v1h-13.55zM87 182h13.55v1h-13.55zM87 211h13.55v1h-13.55zM60 336h13.55v1h-13.55zM60 350h13.55v1h-13.55zM60 364h13.55v1h-13.55z" fill="#fce4de"/>
<path d="M73.5 170h13.55v1h-13.55zM87 185h13.55v1h-13.55zM73.5 186h13.55v1h-13.55zM87 186h13.55v1h-13.55zM73.5 191h13.55v1h-13.55zM87 199h13.55v1h-13.55zM73.5 205h13.55v1h-13.55zM73.5 210h13.55v1h-13.55zM73.5 251h13.55v1h-13.55zM73.5 261h13.55v1h-13.55zM73.5 265h13.55v1h-13.55zM73.5 269h13.55v1h-13.55z" fill="#fce4e4"/>
<path d="M87 204h13.55v1h-13.55zM73.5 228h13.55v1h-13.55z" fill="#fceae4"/>
<path d="M73.5 154h13.55v1h-13.55zM73.5 174h13.55v1h-13.55zM87 180h13.55v1h-13.55zM87 181h13.55v1h-13.55zM87 188h13.55v1h-13.55zM87 217h13.55v1h-13.55zM73.5 220h13.55v1h-13.55zM32.9 253h13.55v1h-13.55zM73.5 254h13.55v1h-13.55zM73.5 255h13.55v1h-13.55zM73.5 262h13.55v1h-13.55zM87 280h13.55v1h-13.55zM46.4 332h13.55v1h-13.55zM87 343h13.55v1h-13.55z" fill="#fceaea"/>
<path d="M73.5 152h13.55v1h-13.55z" fill="#fceaf0"/>
<path d="M73.5 188h13.55v1h-13.55zM60 329h13.55v1h-13.55z" fill="#fcf0ea"/>
<path d="M73.5 171h13.55v1h-13.55zM73.5 177h13.55v1h-13.55zM73.5 179h13.55v1h-13.55zM73.5 187h13.55v1h-13.55zM87 191h13.55v1h-13.55zM87 193h13.55v1h-13.55zM87 200h13.55v1h-13.55zM87 202h13.55v1h-13.55zM87 208h13.55v1h-13.55zM87 215h13.55v1h-13.55zM73.5 225h13.55v1h-13.55zM73.5 238h13.55v1h-13.55zM87 251h13.55v1h-13.55zM87 259h13.55v1h-13.55zM73.5 264h13.55v1h-13.55zM87 282h13.55v1h-13.55zM87 287h13.55v1h-13.55zM60 330h13.55v1h-13.55zM60 334h13.55v1h-13.55zM60 344h13.55v1h-13.55zM60 354h13.55v1h-13.55zM87 356h13.55v1h-13.55zM60 357h13.55v1h-13.55zM60 358h13.55v1h-13.55zM60 359h13.55v1h-13.55zM60 361h13.55v1h-13.55z" fill="#fcf0f0"/>
<path d="M73.5 249h13.55v1h-13.55z" fill="#fcf0f6"/>
<path d="M73.5 292h13.55v1h-13.55z" fill="#fcf6f0"/>
<path d="M73.5 161h13.55v1h-13.55zM73.5 173h13.55v1h-13.55zM87 190h13.55v1h-13.55zM87 196h13.55v1h-13.55zM87 209h13.55v1h-13.55zM87 210h13.55v1h-13.55zM73.5 230h13.55v1h-13.55zM73.5 253h13.55v1h-13.55zM87 254h13.55v1h-13.55zM87 256h13.55v1h-13.55zM73.5 257h13.55v1h-13.55zM87 269h13.55v1h-13.55zM87 272h13.55v1h-13.55zM87 285h13.55v1h-13.55zM60 327h13.55v1h-13.55zM60 333h13.55v1h-13.55zM87 353h13.55v1h-13.55z" fill="#fcf6f6"/>
<path d="M87 195h13.55v1h-13.55zM87 214h13.55v1h-13.55zM73.5 229h13.55v1h-13.55zM87 268h13.55v1h-13.55z" fill="#fcf6fc"/>
<path d="M87 275h13.55v1h-13.55z" fill="#fcfcf6"/>
<path d="M73.5 153h13.55v1h-13.55zM46.4 162h13.55v1h-13.55zM87 184h13.55v1h-13.55zM87 197h13.55v1h-13.55zM87 213h13.55v1h-13.55zM87 216h13.55v1h-13.55zM73.5 224h13.55v1h-13.55zM73.5 234h13.55v1h-13.55zM73.5 241h13.55v1h-13.55zM73.5 242h13.55v1h-13.55zM60 244h13.55v1h-13.55zM60 248h13.55v1h-13.55zM73.5 248h13.55v1h-13.55zM73.5 250h13.55v1h-13.55zM73.5 256h13.55v1h-13.55zM87 257h13.55v1h-13.55zM87 262h13.55v1h-13.55zM73.5 263h13.55v1h-13.55zM87 263h13.55v1h-13.55zM87 265h13.55v1h-13.55zM87 266h13.55v1h-13.55zM87 267h13.55v1h-13.55zM73.5 268h13.55v1h-13.55zM87 270h13.55v1h-13.55zM87 271h13.55v1h-13.55zM87 276h13.55v1h-13.55zM87 281h13.55v1h-13.55zM73.5 307h13.55v1h-13.55zM60 352h13.55v1h-13.55z" fill="#fcfcfc"/>
</g>
<rect x="104" y="142" width="3.1" height="38" fill="#e41a1c"/>
<text x="113.40" y="163.18" font-size="4.40" fill="#111" text-anchor="middle" transform="rotate(90 113.40 161.60)">TEC</text>
<rect x="104" y="180" width="3.1" height="38" fill="#3a7fc4"/>
<text x="113.40" y="201.18" font-size="4.40" fill="#111" text-anchor="middle" transform="rotate(90 113.40 199.60)">CAF</text>
<rect x="104" y="218" width="3.1" height="33" fill="#4daf4a"/>
<text x="113.40" y="236.68" font-size="4.40" fill="#111" text-anchor="middle" transform="rotate(90 113.40 235.10)">T</text>
<rect x="104" y="251" width="3.1" height="38" fill="#8e44ad"/>
<text x="113.40" y="272.18" font-size="4.40" fill="#111" text-anchor="middle" transform="rotate(90 113.40 270.60)">TAM</text>
<rect x="104" y="289" width="3.1" height="38" fill="#ff7f0e"/>
<text x="113.40" y="310.18" font-size="4.40" fill="#111" text-anchor="middle" transform="rotate(90 113.40 308.60)">Mali</text>
<rect x="104" y="327" width="3.1" height="38" fill="#8c8c8c"/>
<text x="113.40" y="348.18" font-size="4.40" fill="#111" text-anchor="middle" transform="rotate(90 113.40 346.60)">B</text>
<text x="25.78" y="374.02" font-size="4.50" fill="#111" text-anchor="middle" transform="rotate(-90 25.78 372.40)">TEC</text>
<text x="39.33" y="374.02" font-size="4.50" fill="#111" text-anchor="middle" transform="rotate(-90 39.33 372.40)">T</text>
<text x="52.88" y="374.02" font-size="4.50" fill="#111" text-anchor="middle" transform="rotate(-90 52.88 372.40)">CAF</text>
<text x="66.43" y="374.02" font-size="4.50" fill="#111" text-anchor="middle" transform="rotate(-90 66.43 372.40)">TAM</text>
<text x="79.98" y="374.02" font-size="4.50" fill="#111" text-anchor="middle" transform="rotate(-90 79.98 372.40)">Mali</text>
<text x="93.53" y="374.02" font-size="4.50" fill="#111" text-anchor="middle" transform="rotate(-90 93.53 372.40)">B</text>
<text x="129.20" y="131.85" font-size="6.80" fill="#111" font-weight="bold">Top 5 enriched Pathway</text>
<text x="273.2" y="131.9" font-size="7" font-weight="bold" fill="#111"><tspan font-style="italic">P</tspan> value</text>
<rect x="119.6" y="140.7" width="178.3" height="39.3" fill="#fbe5e1"/>
<rect x="119.6" y="180.0" width="178.3" height="38.0" fill="#8fd0d6"/>
<rect x="119.6" y="218.0" width="178.3" height="33.0" fill="#b7dfb0"/>
<rect x="119.6" y="251.0" width="178.3" height="38.0" fill="#a9abdc"/>
<rect x="119.6" y="289.0" width="178.3" height="38.3" fill="#f2a468"/>
<rect x="119.6" y="327.3" width="178.3" height="38.2" fill="#f5e9df"/>
<text x="128.30" y="147.89" font-size="5.25" fill="#1a1a1a">VEGFA-VEGFR2 signaling pathway</text>
<text x="271.3" y="147.89" font-size="5.25" fill="#1a1a1a">5.12×10<tspan font-size="2.6" dy="-1.9">−102</tspan></text>
<text x="128.30" y="155.35" font-size="5.25" fill="#1a1a1a">Gastrin signaling pathway</text>
<text x="271.3" y="155.35" font-size="5.25" fill="#1a1a1a">8.26×10<tspan font-size="2.6" dy="-1.9">−15</tspan></text>
<text x="128.30" y="162.81" font-size="5.25" fill="#1a1a1a">Integrin signalling pathway</text>
<text x="271.3" y="162.81" font-size="5.25" fill="#1a1a1a">1.44×10<tspan font-size="2.6" dy="-1.9">−14</tspan></text>
<text x="128.30" y="170.27" font-size="5.25" fill="#1a1a1a">Axon guidance</text>
<text x="271.3" y="170.27" font-size="5.25" fill="#1a1a1a">5.07×10<tspan font-size="2.6" dy="-1.9">−14</tspan></text>
<text x="128.30" y="177.73" font-size="5.25" fill="#1a1a1a">Signaling events mediated by VEGFR1 and VEGFR2</text>
<text x="271.3" y="177.73" font-size="5.25" fill="#1a1a1a">5.58×10<tspan font-size="2.6" dy="-1.9">−14</tspan></text>
<text x="128.30" y="185.19" font-size="5.25" fill="#1a1a1a">Extracellular matrix including ECM</text>
<text x="271.3" y="185.19" font-size="5.25" fill="#1a1a1a">6.98×10<tspan font-size="2.6" dy="-1.9">−18</tspan></text>
<text x="128.30" y="192.65" font-size="5.25" fill="#1a1a1a">Smooth Muscle Contraction</text>
<text x="271.3" y="192.65" font-size="5.25" fill="#1a1a1a">3.23×10<tspan font-size="2.6" dy="-1.9">−16</tspan></text>
<text x="128.30" y="200.11" font-size="5.25" fill="#1a1a1a">Extracellular matrix and extracellular matrix proteins</text>
<text x="271.3" y="200.11" font-size="5.25" fill="#1a1a1a">1.82×10<tspan font-size="2.6" dy="-1.9">−14</tspan></text>
<text x="128.30" y="207.57" font-size="5.25" fill="#1a1a1a">Extracellular matrix organization</text>
<text x="271.3" y="207.57" font-size="5.25" fill="#1a1a1a">5.71×10<tspan font-size="2.6" dy="-1.9">−13</tspan></text>
<text x="128.30" y="215.03" font-size="5.25" fill="#1a1a1a">Focal adhesion</text>
<text x="271.3" y="215.03" font-size="5.25" fill="#1a1a1a">5.98×10<tspan font-size="2.6" dy="-1.9">−11</tspan></text>
<text x="128.30" y="222.49" font-size="5.25" fill="#1a1a1a">Generation of second messenger molecules</text>
<text x="271.3" y="222.49" font-size="5.25" fill="#1a1a1a">4.30×10<tspan font-size="2.6" dy="-1.9">−16</tspan></text>
<text x="128.30" y="229.95" font-size="5.25" fill="#1a1a1a">Phosphorylation of CD3 and TCR zeta chains</text>
<text x="271.3" y="229.95" font-size="5.25" fill="#1a1a1a">4.16×10<tspan font-size="2.6" dy="-1.9">−15</tspan></text>
<text x="128.30" y="237.41" font-size="5.25" fill="#1a1a1a">TCR signaling</text>
<text x="271.3" y="237.41" font-size="5.25" fill="#1a1a1a">1.18×10<tspan font-size="2.6" dy="-1.9">−12</tspan></text>
<text x="128.30" y="244.87" font-size="5.25" fill="#1a1a1a">Translocation of ZAP-70 to Immunological synapse</text>
<text x="271.3" y="244.87" font-size="5.25" fill="#1a1a1a">2.67×10<tspan font-size="2.6" dy="-1.9">−11</tspan></text>
<text x="128.30" y="252.33" font-size="5.25" fill="#1a1a1a">PD-1 signaling</text>
<text x="271.3" y="252.33" font-size="5.25" fill="#1a1a1a">8.18×10<tspan font-size="2.6" dy="-1.9">−11</tspan></text>
<text x="128.30" y="259.79" font-size="5.25" fill="#1a1a1a">Staphylococcus aureus infection</text>
<text x="271.3" y="259.79" font-size="5.25" fill="#1a1a1a">2.03×10<tspan font-size="2.6" dy="-1.9">−23</tspan></text>
<text x="128.30" y="267.25" font-size="5.25" fill="#1a1a1a">Innate Immune System</text>
<text x="271.3" y="267.25" font-size="5.25" fill="#1a1a1a">3.08×10<tspan font-size="2.6" dy="-1.9">−22</tspan></text>
<text x="128.30" y="274.71" font-size="5.25" fill="#1a1a1a">Neutrophil degranulation</text>
<text x="271.3" y="274.71" font-size="5.25" fill="#1a1a1a">2.28×10<tspan font-size="2.6" dy="-1.9">−19</tspan></text>
<text x="128.30" y="282.17" font-size="5.25" fill="#1a1a1a">Rheumatoid arthritis</text>
<text x="271.3" y="282.17" font-size="5.25" fill="#1a1a1a">5.52×10<tspan font-size="2.6" dy="-1.9">−18</tspan></text>
<text x="128.30" y="289.63" font-size="5.25" fill="#1a1a1a">Tuberculosis</text>
<text x="271.3" y="289.63" font-size="5.25" fill="#1a1a1a">7.92×10<tspan font-size="2.6" dy="-1.9">−17</tspan></text>
<text x="128.30" y="297.09" font-size="5.25" fill="#1a1a1a">Metabolic pathways</text>
<text x="271.3" y="297.09" font-size="5.25" fill="#1a1a1a">8.65×10<tspan font-size="2.6" dy="-1.9">−58</tspan></text>
<text x="128.30" y="304.55" font-size="5.25" fill="#1a1a1a">Respiratory electron transport, ATP synthesis</text>
<text x="271.3" y="304.55" font-size="5.25" fill="#1a1a1a">2.06×10<tspan font-size="2.6" dy="-1.9">−55</tspan></text>
<text x="128.30" y="312.01" font-size="5.25" fill="#1a1a1a">Electron transport chain: OXPHOS system in mitochondria</text>
<text x="271.3" y="312.01" font-size="5.25" fill="#1a1a1a">2.43×10<tspan font-size="2.6" dy="-1.9">−53</tspan></text>
<text x="128.30" y="319.47" font-size="5.25" fill="#1a1a1a" textLength="139.8" lengthAdjust="spacingAndGlyphs">The citric acid (TCA) cycle and respiratory electron transport</text>
<text x="271.3" y="319.47" font-size="5.25" fill="#1a1a1a">7.44×10<tspan font-size="2.6" dy="-1.9">−52</tspan></text>
<text x="128.30" y="326.93" font-size="5.25" fill="#1a1a1a">Oxidative phosphorylation</text>
<text x="271.3" y="326.93" font-size="5.25" fill="#1a1a1a">8.22×10<tspan font-size="2.6" dy="-1.9">−50</tspan></text>
<text x="128.30" y="334.39" font-size="5.25" fill="#1a1a1a">Protein processing in endoplasmic reticulum</text>
<text x="271.3" y="334.39" font-size="5.25" fill="#1a1a1a">2.37×10<tspan font-size="2.6" dy="-1.9">−9</tspan></text>
<text x="128.30" y="341.85" font-size="5.25" fill="#1a1a1a">Classical antibody-mediated complement activation</text>
<text x="271.3" y="341.85" font-size="5.25" fill="#1a1a1a">1.82×10<tspan font-size="2.6" dy="-1.9">−9</tspan></text>
<text x="128.30" y="349.31" font-size="5.25" fill="#1a1a1a">Creation of C4 and C2 activators</text>
<text x="271.3" y="349.31" font-size="5.25" fill="#1a1a1a">5.24×10<tspan font-size="2.6" dy="-1.9">−9</tspan></text>
<text x="128.30" y="356.77" font-size="5.25" fill="#1a1a1a">FCGR activation</text>
<text x="271.3" y="356.77" font-size="5.25" fill="#1a1a1a">6.05×10<tspan font-size="2.6" dy="-1.9">−9</tspan></text>
<text x="128.30" y="364.23" font-size="5.25" fill="#1a1a1a">Regulation of actin dynamics for phagocytic cup formation</text>
<text x="271.3" y="364.23" font-size="5.25" fill="#1a1a1a">1.05×10<tspan font-size="2.6" dy="-1.9">−8</tspan></text>
<text x="310.40" y="121.20" font-size="10.00" fill="#000" font-weight="bold">E</text>
<path d="M346.7 145.5h0M354.5 138.6h0M347.2 144.1h0M359.8 137.1h0M365.1 132.6h0M360.8 137h0M354.7 139.6h0M364 134.3h0M368.8 130.3h0M358.1 136.7h0M365.5 131.1h0M361.7 136.4h0M344.5 142.8h0M343.6 148.3h0M346.3 141.6h0M357.8 136.8h0M373 164.5h0M375.6 135.5h0M376.4 136.4h0M379.6 148.4h0M373.7 162.1h0M378.9 139.8h0M380.7 141.6h0M333.2 150.2h0M332 151.7h0M333.7 148.8h0M334.6 162.6h0M331.9 156.3h0M341.5 156.4h0M334.2 155.8h0M362.7 160.4h0M364.4 149.9h0M370.3 151.1h0M354.4 158.4h0M352.8 155.5h0M359.9 151.2h0M356.1 162.2h0M367.2 152h0M366.7 159.6h0M365.4 158.9h0M364.1 158.4h0M362.7 157.8h0M360.4 154.1h0M362.1 155.3h0M357.9 158.9h0M364.1 153h0M357.4 158.7h0M360.1 158.7h0M356.2 163.2h0M390.4 164.8h0M386.5 160h0M389.6 162.3h0M390.5 164.5h0M388.7 163.7h0M362.1 183.5h0M372.6 170.4h0M375 184.7h0M366.3 184.2h0" stroke="#3b9ab2" stroke-width="1.75" stroke-linecap="round" fill="none"/>
<path d="M351.1 143h0M346.9 144.1h0M359.3 138.3h0M367.3 131.7h0M350.6 140.7h0M358.1 136.9h0M347.3 148h0M366.8 134.2h0M366.9 132.7h0M346.1 150.2h0M344.6 144.5h0M347.1 145.5h0M365.7 132.2h0M362.1 134.4h0M349.3 142h0M362.5 135h0M350.2 141.4h0M353.6 137h0M354.5 140.3h0M349.8 139.8h0M360.4 137h0M345.5 143.4h0M354.1 138.4h0M357.2 135.9h0M362 136.1h0M362.7 133.7h0M356.5 135.8h0M347 144.2h0M348.1 145.3h0M356.5 137.9h0M368.5 129.5h0M364.1 132.6h0M354.7 137.8h0M360.1 137h0M362.2 136.4h0M363.4 134.2h0M363.8 137.2h0M355.5 140.3h0M343.9 148.5h0M345.9 142.9h0M352.1 141.8h0M348.4 140.1h0M369 132.9h0M364.2 132.3h0M346 144.3h0M366.8 131.5h0M364.8 133.8h0M357.9 136.4h0M381.3 149.2h0M383 146.7h0M375.5 160h0M382.4 151.2h0M381.1 139.7h0M381 140.9h0M380.2 154.3h0M381.6 153.7h0M381.5 152.9h0M378.9 140.3h0M372.3 162.4h0M377.3 138.5h0M379.4 149.4h0M373.1 162.9h0M374.2 162.7h0M376.7 158.1h0M380 150.1h0M379.3 150.2h0M379.3 153.8h0M331.5 154.4h0M337.5 164.2h0M337.2 163.3h0M333.6 158.5h0M332 154.5h0M333.5 160.2h0M333.8 158.4h0M334.2 155.4h0M340.5 167.6h0M333.2 156.9h0M333.3 153.2h0M342.4 167.2h0M333.6 156.5h0M341.2 157.4h0M341.3 156.9h0M338.7 157.5h0M338.7 157h0M362.6 160.4h0M356.2 162.6h0M354.3 153.5h0M365.3 160h0M356.9 154h0M369.1 153.2h0M354 156h0M368.4 155.5h0M364.8 160h0M364.3 148.5h0M361.1 162.3h0M364.6 148.8h0M359.1 163.3h0M367.6 157.6h0M358.2 161.9h0M367.4 153.4h0M352.7 156.3h0M359.7 161.5h0M355.7 162.8h0M361 150.6h0M363.7 160.7h0M361.7 161.1h0M364.6 148.8h0M353.9 154.1h0M356.6 153.7h0M357.3 152.5h0M362.9 149.3h0M365.8 149.9h0M360.9 161h0M356.5 151.7h0M360.6 150.7h0M360.5 155.2h0M362.1 155.7h0M360.9 155.4h0M361.8 156.9h0M363.8 158.3h0M361.9 156.9h0M360.6 156h0M360.5 154.5h0M359.1 159.3h0M358.7 157.9h0M363.9 151.5h0M362.6 154.1h0M357 158.8h0M360.4 157h0M361.8 154.5h0M362.5 156.1h0M358.6 159.9h0M355.7 166.2h0M355 165.5h0M353.1 166h0M353.6 165.8h0M353.6 167h0M354.1 168.4h0M386.2 159.2h0M386.4 158.7h0M385.8 159h0M386 170.8h0M387 160.4h0M389.7 169.9h0M390.5 164.5h0M388.4 165.5h0M388.6 169.1h0M383.1 173h0M389.9 160.8h0M388.7 160.9h0M387.4 168h0M390.9 160.9h0M345.4 181.5h0M360.9 182.9h0M372.3 187.1h0M367.9 189h0M367.5 189.4h0M374.3 172h0M375.6 175h0M365.7 170.5h0M367.7 184.7h0M373.6 178.9h0" stroke="#4fa4b8" stroke-width="1.75" stroke-linecap="round" fill="none"/>
<path d="M351.1 139.6h0M343.7 144.7h0M345.8 144.5h0M357.9 138.9h0M345.3 142.6h0M359.3 138.8h0M354.5 137h0M352.3 141.3h0M346.2 147.9h0M348 142.2h0M369 132.1h0M367.2 131.2h0M363.9 132.1h0M361.5 134.9h0M343.1 149.5h0M348.9 140h0M359.6 137.1h0M360.4 137.6h0M365.4 130.2h0M343.7 149.7h0M366.2 131.5h0M367.4 131.9h0M357.1 138.6h0M368 133.4h0M347 145.3h0M352.3 141h0M345.1 149.7h0M344.9 145.6h0M355.6 140.3h0M364.2 135h0M364.1 135.2h0M354.2 140h0M358.3 136.2h0M344.5 146.7h0M343.6 146.8h0M355.6 139.8h0M343 147.2h0M359.2 139h0M350.9 138.8h0M358.1 135.7h0M344.7 149.7h0M354.2 137.7h0M364.8 132.9h0M358.6 136.7h0M355.5 137.7h0M344.4 146.9h0M356.8 136.4h0M369.3 132.2h0M369.8 131.3h0M377.3 135.2h0M377.6 140.4h0M373.3 160.2h0M381.4 149h0M375.8 160.4h0M377.6 156.5h0M379.5 147h0M376.9 158.7h0M379.9 142.8h0M380.8 146.3h0M377.1 156.7h0M380.6 141.7h0M377.1 135.2h0M379 151.6h0M372.6 162.7h0M381.3 141.5h0M378.1 157.9h0M379 154.6h0M380.7 148.7h0M379.5 157.5h0M378.4 156.2h0M379.6 150h0M383.1 145.7h0M372.5 162.2h0M373.5 160.7h0M379.6 139.8h0M382 141h0M375.1 159.3h0M381 140.5h0M379.2 145.9h0M381.4 146.4h0M378.9 153.5h0M381 144.7h0M332.1 153h0M333.9 151.8h0M337.6 163.5h0M333.4 154.6h0M334.2 151.7h0M331 152h0M342.3 167.3h0M331.5 156h0M333 157.6h0M332.7 150.6h0M332.8 157.2h0M332.6 149.1h0M341.4 167.8h0M333.3 155.4h0M334.7 158.4h0M331.6 157.7h0M334.4 159h0M332 157.7h0M332.1 151.8h0M334.6 160h0M336.2 166.1h0M339.9 165.7h0M334.7 152.2h0M332.1 159.5h0M334.1 160.1h0M340.2 156.8h0M341.1 155.3h0M336.9 155.5h0M337.4 157h0M337.6 156h0M339.6 155.5h0M354.7 152.3h0M356.5 160.5h0M367.9 157.4h0M358.8 161.7h0M353.9 157h0M352.9 155.8h0M369.6 151.5h0M365.5 159.7h0M354.4 157.3h0M362.9 148.6h0M355.3 158.9h0M370.1 152.9h0M358.5 150.8h0M366.5 150.8h0M353.4 159.9h0M357.1 154.3h0M358.4 162h0M355 155.1h0M365 148.6h0M354.9 159.8h0M354.7 158.8h0M367.4 153.2h0M360.5 161.9h0M358.9 161.5h0M361.9 148.3h0M357.2 160.8h0M367.9 155.9h0M366.8 156.1h0M354.9 160.7h0M361.8 156.4h0M361.6 154.9h0M365.7 157.2h0M363.1 157.3h0M361.3 154.6h0M360 154.4h0M363.4 156.6h0M362.4 155.4h0M357.6 157.9h0M364.7 153.1h0M363.7 153.5h0M361.8 155.6h0M357.6 159.3h0M359.5 159.3h0M365.2 151.9h0M362.8 154.8h0M364.6 153.1h0M361.7 154.1h0M362.8 152.4h0M359.1 158.6h0M362.2 156.3h0M362.4 152.9h0M354.8 164.8h0M353.8 165.2h0M354.3 168.1h0M353.2 168h0M356.6 163.7h0M356 164.3h0M387.6 171.6h0M387.3 160.2h0M388.5 163.8h0M384.4 172.3h0M385 173h0M389.1 169.8h0M390.6 163.5h0M389.4 164.6h0M391 162h0M388.4 170h0M386.8 170h0M345.3 180.1h0M362 183.1h0M359.9 181.3h0M350.2 176.4h0M352 183.3h0M348.1 178.8h0M377 184.2h0M371.6 188.3h0M372.8 188.5h0M367.7 187.3h0M377.3 178.2h0M365.9 169.9h0M376.7 182.2h0M367.5 186.2h0M364.9 181.5h0" stroke="#64adbf" stroke-width="1.75" stroke-linecap="round" fill="none"/>
<path d="M358.3 137.3h0M366.6 130.8h0M349.5 141.1h0M347 142.4h0M360.2 138.9h0M347.2 140.6h0M360.1 136.6h0M344.2 148h0M342.9 149.8h0M367.2 133.4h0M370.1 131.8h0M347 144.4h0M346.8 151.1h0M378.7 141.9h0M373.1 164.5h0M372.4 161.6h0M373.4 163.7h0M372.5 161.8h0M377.8 159.9h0M380.8 140.8h0M382 148.8h0M380.4 139.7h0M380.9 149.7h0M382.6 146.4h0M378.8 155.2h0M377.7 159.5h0M379.7 152.8h0M375.3 161.2h0M379.4 142.3h0M373.1 163.2h0M336.1 162.1h0M334.7 153.3h0M332.8 156.5h0M333.6 162.2h0M334.3 162.9h0M333 160.5h0M333.6 148.2h0M334.4 157h0M334.7 158.8h0M333.8 157.8h0M341.6 156.4h0M352.9 158.7h0M368.3 152.1h0M359.4 149.8h0M366.1 148.3h0M368.1 159h0M364.9 149.1h0M358.3 162.8h0M364.3 158.7h0M368 153.6h0M355.1 151.6h0M358.7 149.1h0M355.4 161h0M360.8 155.2h0M364.6 157.1h0M360 156.9h0M357.8 159.7h0M353.1 167.2h0M355.2 166.9h0M356.5 163.4h0M387.4 171.5h0M384.8 159.8h0M388.8 163.3h0M386.6 159.5h0M354.7 182.2h0M357.1 184.5h0M362.2 184.9h0M342.1 179.4h0M368.3 189.2h0M368.7 189.3h0M364.9 171.6h0" stroke="#78b7c5" stroke-width="1.75" stroke-linecap="round" fill="none"/>
<path d="M353.5 139.5h0M367.9 133.3h0M380.4 139h0M379.3 155.4h0M334.2 156.5h0M333.6 154.4h0M365.9 156.6h0M365.1 158.1h0M362.3 157.1h0M352.5 166.8h0M357.8 183.2h0" stroke="#9ebe91" stroke-width="1.75" stroke-linecap="round" fill="none"/>
<path d="M376.3 136.4h0" stroke="#c5c55e" stroke-width="1.75" stroke-linecap="round" fill="none"/>
<path d="M379.3 140.8h0M379.5 149.6h0M358.6 161.6h0M354.6 160h0M365.6 160.4h0M361.1 148.3h0M359.7 156.6h0M353.8 165.3h0M350.6 180.2h0M373.1 188.1h0M367 185.4h0" stroke="#ebcc2a" stroke-width="1.75" stroke-linecap="round" fill="none"/>
<path d="M348.8 142.3h0M382.1 143h0M379.7 139.5h0M377.8 139.5h0M379.5 145.8h0M377.2 156.7h0M375.6 161.5h0M374.3 160.6h0M374.1 161.8h0M379.4 140.3h0M331.2 154.1h0M336.7 164.4h0M334.1 153h0M332.2 154.8h0M333.9 155.2h0M363.2 149.6h0M357.6 162.4h0M368.7 151.4h0M356.4 162.5h0M366.4 159.5h0M356 155.4h0M362.8 161h0M355.7 161.5h0M367.3 157.3h0M361.9 156.9h0M364.5 157.3h0M357.7 158.6h0M353.8 165.9h0M388 159.7h0M386.3 158.4h0M389.6 159.6h0M383.7 173.2h0M349.7 180.6h0M354.4 183.2h0M354.6 180h0M359.8 183.1h0M358.5 181.3h0M347.1 179.6h0M355.5 181.9h0M343.7 182h0M355.2 179.9h0M354.6 183h0M346.9 182.2h0M346 178.7h0M343.4 181h0M352.7 186.2h0M347.1 183.1h0M351.2 177.8h0M349.1 179.3h0M352.2 184.1h0M356.3 180.5h0M351.6 181.9h0M346.6 183.7h0M367.9 168.3h0M376.1 182.4h0M371.9 188.5h0M375.3 174.1h0M369.1 167.7h0M373 186.2h0M371.8 168.9h0M364.4 175.1h0M367.5 178.4h0M366.5 178.3h0M365.8 182.1h0M366.7 184.9h0M369.5 180.1h0" stroke="#e8c21c" stroke-width="1.75" stroke-linecap="round" fill="none"/>
<path d="M355 139.2h0M344.5 150.6h0M356.3 140h0M373.2 162.3h0M374.9 158.6h0M382.5 147.8h0M380.9 152.4h0M378 137.7h0M381.2 150.8h0M377.5 137.2h0M375.4 162.8h0M379.7 147.1h0M374.6 161.4h0M383.5 146.9h0M380.6 153.4h0M380.1 141.9h0M373.6 165h0M378.7 143.6h0M374.9 137.1h0M374.1 163.4h0M379.8 154.2h0M380.4 139.7h0M379.2 154.8h0M378.3 153.2h0M377 137.3h0M378.8 139.8h0M376.9 136.7h0M371.8 162.8h0M332.8 154.1h0M338.5 167.1h0M335.9 148.9h0M335.4 164.6h0M336.3 163.2h0M335.9 162.5h0M336.1 161.6h0M331 156.4h0M336.6 162.7h0M334.9 164.5h0M342.9 168h0M335.5 164.8h0M332.7 149.4h0M335.4 162.9h0M334.5 150.4h0M339.2 168.1h0M334.9 148.2h0M333.9 155.7h0M332.8 160.2h0M342.3 167.9h0M340.1 168h0M335.3 162h0M334.1 150.9h0M333.6 156.2h0M336.5 158.6h0M338.6 156.6h0M335.6 157.8h0M339.4 156.6h0M340.9 155.1h0M363.5 147.7h0M367.7 157.7h0M359.3 161h0M367.9 158h0M362.6 157.3h0M390.6 164.3h0M390.2 161.9h0M388.7 162.6h0M386 172.5h0M388 169.3h0M383.6 171.7h0M387.4 159h0M390.5 161.6h0M389.9 163.9h0M389.2 162.5h0M387.9 159.7h0M389.9 161.1h0M383.9 159.8h0M389.5 162h0M358.4 183.1h0M351.6 177.7h0M353 180.4h0M350.8 182.5h0M349.3 180.9h0M361.3 184.8h0M355.6 186.5h0M353.6 182h0M356.2 182.3h0M354.4 185.2h0M345.1 181.2h0M345 178.6h0M349.4 179.8h0M356 180.2h0M344.7 182.2h0M349.3 177.2h0M356.3 184.5h0M343.5 178.6h0M342.2 178.1h0M359.9 183.1h0M344 180.7h0M351.8 182.5h0M347.1 176.8h0M350 177.6h0M350.3 182.8h0M359.7 186.2h0M351.6 178.3h0M347.5 180.7h0M349.2 179.4h0M343.7 178.5h0M351.4 182.5h0M351.5 180h0M343.3 176.8h0M353 180.3h0M353.1 179.9h0M342.9 177.7h0M348.5 181h0M347.1 179.9h0M355.5 185h0M357.1 184.9h0M344.7 179.9h0M351.8 177.1h0M342.4 180.4h0M342.1 179.8h0M345.9 177.3h0M354.3 186h0M355 186.2h0M353.9 183.9h0M352.9 186.1h0M350.4 179.7h0M352.1 183.7h0M344.2 177.4h0M360.4 183.2h0M349.9 182.1h0M347.6 182.5h0M349.1 180.6h0M362.1 183.4h0M376.5 181.7h0M375.7 176.7h0M376.9 180.4h0M376.1 172.5h0M375.1 171.8h0M370.2 169.1h0M370.3 169.6h0M376.3 178h0M368.6 187.4h0M373.3 170.6h0M371.2 168.4h0M374.1 184.4h0M375.8 180.9h0M375.5 180.3h0M365.2 175.6h0M364.5 173h0M365.4 174.2h0M365.5 174.9h0M365.6 175.3h0M365.1 182.9h0M365.4 182.3h0M365.9 182.8h0M368 185.1h0M369.9 178.2h0M372.6 181.1h0M370.3 174.6h0" stroke="#e4b90e" stroke-width="1.75" stroke-linecap="round" fill="none"/>
<path d="M344.4 146h0M351.2 138.8h0M376.9 135.6h0M377.3 135.4h0M378.6 152.3h0M378.9 139h0M376.2 137.8h0M376.2 136.8h0M378.5 141.1h0M378.4 136.5h0M380.3 141.1h0M379.1 140.5h0M371.7 163.3h0M380.5 154h0M377.8 153.6h0M374.1 160.6h0M376.8 138.2h0M379.7 145.8h0M335.3 159h0M340.6 168.7h0M339.6 168.1h0M334.1 149.8h0M340.5 165.8h0M339.2 166h0M333.5 160.4h0M334.6 166.3h0M335.1 161.2h0M335.2 163.6h0M331.6 152.3h0M333.8 163.1h0M334 154.4h0M334 148.5h0M335.3 158.1h0M339.9 154.9h0M388.1 168.2h0M386.5 159.7h0M385.7 173.7h0M386.7 159.6h0M388.9 169.7h0M388.8 167.9h0M383.7 172h0M347.1 183.4h0M353 185.9h0M349.5 181.1h0M348.4 182.8h0M359.1 184.6h0M348.3 184.8h0M357.9 179.2h0M352.4 182.5h0M351.6 182.9h0M360.9 184.1h0M342.7 181h0M349.4 179.5h0M346.6 183.6h0M355.7 182.6h0M357.9 185.7h0M359.3 180.2h0M342.5 177.5h0M359.9 185.3h0M355.7 182.8h0M357.9 185.3h0M346.8 181.5h0M347.6 177h0M356.2 179.2h0M350.7 178.8h0M354.5 180.3h0M348 183.1h0M356.3 180.9h0M347.7 178.3h0M347.2 179.3h0M368 188h0M374.7 173.1h0M375.4 184.1h0M372.4 171.5h0M368.7 168.8h0M376.7 181.3h0M365.7 168.2h0M369.7 168.1h0M375.5 174.3h0M364.6 171.2h0M365.7 173.9h0M365.1 176.7h0M365.8 170.3h0M366.4 183.9h0M373.3 180.1h0M369.3 181.1h0" stroke="#e1af00" stroke-width="1.75" stroke-linecap="round" fill="none"/>
<path d="M345.8 150.7h0M333.5 162.2h0M387.3 160.4h0M353.7 184.2h0M349.3 176.1h0M375.8 181.2h0M376 181.1h0M375.7 176.5h0" stroke="#e77d00" stroke-width="1.75" stroke-linecap="round" fill="none"/>
<path d="M384.9 172.3h0M350.7 180.5h0M357.8 183.2h0M358.9 181.7h0M351.3 177.9h0" stroke="#ec4c00" stroke-width="1.75" stroke-linecap="round" fill="none"/>
<path d="M384.1 157.6h0M389.1 162h0M356.8 186.6h0M357.9 184.8h0" stroke="#f21a00" stroke-width="1.75" stroke-linecap="round" fill="none"/>
<path d="M350.6 138.7h0M363.9 133h0M345.4 142.8h0M347 142.1h0M349.8 139.7h0M366.1 130.2h0M355.2 136.9h0M359.6 136.4h0M348.6 147.1h0M351.1 142.4h0M365.4 135.2h0M345.8 149.2h0M345 144.6h0M344 149.6h0M346.6 150.1h0M353.8 141.1h0M375.4 136.3h0M381 152.9h0M382.4 146.9h0M377.3 158.8h0M380.9 154.1h0M379.9 153.6h0M374.8 160.5h0M342.7 167.9h0M338.5 166.2h0M335.7 164.1h0M335.2 162.6h0M333.4 149.1h0M341.4 156.9h0M355.1 155.2h0M360.6 149.1h0M353.2 157.3h0M356.3 152.7h0M367 149.8h0M357 151.3h0M357 161.4h0M368.2 155.3h0M369.9 151.1h0M355.3 152.7h0M367.4 153.6h0M360.3 149h0M361.5 154.1h0M359.8 153.6h0M363.2 153.2h0M358.6 158h0M362.6 153.5h0M361.2 156.8h0M358.3 160h0M355.6 162.4h0M390.4 161.4h0M389.8 166.3h0M388.7 168.1h0M389.3 159.8h0M384.7 173h0M370.5 187.5h0M376.6 182.6h0M377.3 176.1h0M366.9 184.2h0" stroke="#3b9ab2" stroke-width="1.75" stroke-linecap="round" fill="none"/>
<path d="M347.6 148h0M369.2 130.2h0M359.4 136.3h0M350.9 142.4h0M364 133.6h0M368.6 130.7h0M356.3 137.3h0M362.2 135.7h0M348.6 144.2h0M353 137.3h0M345.8 147.7h0M346.7 141.3h0M345.8 146.7h0M349.6 141.8h0M348.3 140.7h0M366.9 130.2h0M357.4 135.7h0M343.4 147.7h0M348.5 144.1h0M362.5 137.6h0M349.1 139.9h0M344.1 149.1h0M352.2 138.2h0M357.6 139.9h0M357.1 137.8h0M353.2 140.1h0M344.7 150.3h0M347.3 147.9h0M351.3 141.6h0M345.2 146.7h0M368.7 129.2h0M348.5 141.5h0M366.3 134.9h0M355.9 137.8h0M349.2 140.3h0M366.5 133.8h0M361.5 136.9h0M357.7 136.2h0M348.4 142h0M351.5 139.5h0M352.1 139.8h0M350.5 140.4h0M358 139h0M344 146.8h0M346.4 143.7h0M364.1 136.1h0M352.4 141.4h0M353.3 139.5h0M382.5 145.9h0M380.3 145.5h0M381.3 143.7h0M382.6 150h0M381.2 140.8h0M374.5 163.2h0M381.1 152.4h0M382.1 149.4h0M377.5 135.2h0M377.9 139h0M372.6 162.5h0M377.3 139.2h0M380.5 143.4h0M382.8 151.3h0M380.2 149.6h0M382.2 145.1h0M381.9 145.7h0M379.3 150.7h0M342.2 166.6h0M333.2 153.1h0M334.1 164.3h0M337.7 165.2h0M331.9 156h0M336.5 148.6h0M332.8 148.7h0M339.8 166.3h0M343 167h0M336 149.4h0M340.1 165h0M331.8 159.2h0M333 148.7h0M334.4 155.2h0M342.3 157.5h0M340 155.9h0M340.2 157.1h0M360.6 161.2h0M368.8 155.9h0M357.4 153.1h0M354.7 154.4h0M368.5 157.8h0M366.6 149.8h0M361 163.7h0M354.3 153.4h0M355.1 158.8h0M353.9 160.4h0M355.9 152.7h0M367.8 155.9h0M355.5 160.7h0M367.7 152.2h0M365.2 160.2h0M369.2 151.1h0M356.4 154.9h0M368 152.3h0M355.3 161.2h0M370 153.1h0M362.3 161.1h0M366.2 158.7h0M356.1 159.4h0M363.3 159.2h0M360.4 148h0M362.8 163.5h0M368.9 151.6h0M355.1 152.7h0M357 160.8h0M361.6 150.2h0M354.1 159h0M359.2 149.6h0M362.9 155.5h0M358.3 154.5h0M365.7 157.7h0M358.2 155h0M360.6 155.4h0M364.4 157.9h0M365 157.9h0M358.5 158h0M357.1 157.9h0M359 157.9h0M364.4 153.8h0M359.7 157.4h0M363.2 152.8h0M364.2 152.7h0M360.6 158.1h0M359.4 157.6h0M363.2 153.2h0M354.1 165.8h0M354.1 168.1h0M355 165.2h0M355.2 167.1h0M356.4 162.9h0M353.6 166.8h0M388.3 160.8h0M388.7 161.6h0M388.9 161.5h0M389.2 161.9h0M387.6 159.6h0M388.9 166.8h0M390.6 161.3h0M389.8 158.8h0M386.2 168.7h0M384.4 174.5h0M389.3 159.6h0M384.6 173.8h0M389.9 162.7h0M389.1 165.1h0M359.2 184.8h0M358.5 180.1h0M375.6 178.6h0M375.4 173.6h0M376.9 180.5h0M374.5 185h0M374.2 184.4h0M363.9 181.6h0M368.4 187.5h0M373.3 179h0" stroke="#4fa4b8" stroke-width="1.75" stroke-linecap="round" fill="none"/>
<path d="M344.6 149.5h0M360.7 137.4h0M344.8 147.1h0M350.1 139.4h0M351.3 142h0M362.4 134.4h0M350.7 142.9h0M347 146h0M367.8 131.5h0M347 147.4h0M352.7 138.9h0M356.2 140.6h0M347.9 143.3h0M358.9 135.8h0M365.3 132.8h0M358 137.4h0M345.4 146.4h0M366.5 130.3h0M366.3 131.8h0M366.5 133.7h0M344.1 146.5h0M368.2 128.7h0M367.3 130.1h0M348 143.6h0M359.5 139h0M358.7 139.3h0M366.4 135.3h0M368.7 129h0M367.2 131.6h0M356.1 137.1h0M357.2 139.1h0M346.7 150.4h0M355.6 137.3h0M351.7 140.1h0M346.9 142.3h0M348.7 139.5h0M368.6 132.3h0M367.1 129.5h0M344 144.4h0M346.2 148.2h0M346.3 150h0M352 141.1h0M355 139.3h0M366.7 135.2h0M369 132.4h0M345.9 150.9h0M357.4 135.7h0M369 129.8h0M346.1 147.7h0M379.3 143h0M379.1 149.7h0M383.2 145.5h0M378.7 154.9h0M380.1 144.9h0M379.5 140.3h0M380.9 151.6h0M372.1 164h0M380.1 138.2h0M376.7 156.3h0M380.3 148.5h0M382.3 145.2h0M380.5 146.6h0M377.9 154.1h0M380.9 150h0M380.8 152.2h0M377.1 155.9h0M381 153.4h0M375.8 157.3h0M376.8 135h0M381.2 148.8h0M380.8 139.9h0M374.7 158.8h0M371.8 163.5h0M380.7 150.6h0M376.3 161.5h0M378.8 143.6h0M378.5 142.1h0M374.7 160h0M381 152.6h0M374 164.1h0M381.7 151.9h0M341.7 168.2h0M333.4 156h0M333.9 148.6h0M333.9 157.6h0M337.7 166.1h0M340 166.9h0M331.4 160h0M332.6 152.9h0M337.7 164.3h0M337 167h0M342.1 168.2h0M331.4 154.3h0M334.3 150.5h0M333.1 150.1h0M334.7 153.2h0M332.6 161.3h0M332.9 155.9h0M342.7 168.3h0M337 166.5h0M343.1 167.2h0M341.6 166.6h0M333.6 156.4h0M331.6 153h0M334.1 156.2h0M335.2 164.3h0M334.6 165.9h0M341.4 155.1h0M337.3 156.6h0M338 158h0M335.5 157.5h0M338.5 156.4h0M368.1 157.9h0M355 157.3h0M360.8 149.2h0M356.2 150.6h0M358.2 149.9h0M366.4 149h0M354.7 162.9h0M353.4 161.3h0M353.8 153.1h0M360.5 163.3h0M357.3 153.6h0M362.5 147.4h0M364.7 150.2h0M365.7 156.3h0M353.5 153.3h0M353.3 159.2h0M368.2 150.9h0M356.9 160.5h0M362.4 148.6h0M355.4 154.3h0M354.6 153.1h0M358.2 151.3h0M354.8 155.7h0M368.4 152.8h0M357.8 150h0M360.7 148.6h0M361.2 162.1h0M368.1 148.8h0M357.3 152.3h0M368.7 157h0M361.9 156.5h0M358.8 154.8h0M363.2 157.3h0M358.8 153.6h0M361.5 156.6h0M359.2 153.7h0M365.3 157.3h0M362 157.5h0M363.1 153.1h0M356.9 157.8h0M359 157.2h0M363.4 153.5h0M357.2 158.1h0M362.3 152.9h0M362.7 153h0M363.6 151.4h0M362.3 153.4h0M365.9 152.4h0M362.6 153.4h0M364.9 152.2h0M361 155.8h0M355.7 165.1h0M354.4 165.1h0M354.2 165.3h0M353.6 167.4h0M354.5 164.2h0M354.9 166.7h0M354.8 163.3h0M384.7 172.2h0M388 165.7h0M384.1 171.7h0M387.8 167h0M390.4 162.2h0M389.4 165.8h0M388.2 161h0M385.4 157.4h0M389.7 164.7h0M390.4 162.8h0M388.1 159.6h0M358.3 180.8h0M349.1 184.4h0M352 183.1h0M358.8 183.8h0M347.6 178.2h0M371.3 187.7h0M376.9 179.4h0M373.8 184.5h0M376.9 176.5h0M372 188.3h0M374.3 186h0M371.5 188.6h0M365.9 170h0M368.1 187.4h0M366.5 183.7h0" stroke="#64adbf" stroke-width="1.75" stroke-linecap="round" fill="none"/>
<path d="M359.8 135.2h0M367.1 133.2h0M361.2 137.7h0M351.2 138.5h0M359.2 136.6h0M348.2 142h0M366.2 130.9h0M351.4 140.7h0M351.6 142.2h0M343.6 147.4h0M368.2 129.2h0M343.7 149.9h0M356.4 136.4h0M380.5 143h0M378.4 140.1h0M378 135.9h0M379.3 151.2h0M379 157.9h0M381.3 154h0M375.9 159.6h0M374.3 160.2h0M378.8 154.3h0M371 163.2h0M381.7 143.5h0M377.1 155.3h0M381.6 152.4h0M375.7 138.7h0M379.5 146.2h0M380.1 140.9h0M373 163.3h0M332.8 150.3h0M331.8 152.4h0M334.9 156.6h0M335.2 149h0M332.1 159.5h0M334.8 153.7h0M336.2 163.1h0M335.7 163h0M334.9 160.3h0M338.6 156.5h0M339.4 158h0M361.1 161.3h0M356.5 151.6h0M364 159.7h0M360.9 163.8h0M359.5 164h0M355.4 153.5h0M355.7 164h0M356.7 154.5h0M353.1 158.3h0M354.6 155.3h0M368.5 155.6h0M362.9 158h0M365.2 156.9h0M363.5 158.2h0M362.2 154.3h0M363.4 153.3h0M353.4 166.1h0M353.7 165.7h0M390.1 164.2h0M387.5 170.8h0M390 165.9h0M389.4 163.3h0M389.7 163.3h0M352.4 181.1h0M359.7 182.7h0M356.3 178.8h0M369.5 188.6h0M375.4 184h0M366 175.3h0M367.9 186.6h0" stroke="#78b7c5" stroke-width="1.75" stroke-linecap="round" fill="none"/>
<path d="M346.4 148.1h0M352.9 138.5h0M371.5 162.5h0M338.8 167.9h0M332.8 152.6h0M335.4 157.2h0M367.8 150.2h0M358.9 153.8h0M357.2 158.7h0M391.3 162.2h0M353.5 185.9h0" stroke="#9ebe91" stroke-width="1.75" stroke-linecap="round" fill="none"/>
<path d="M334.4 164.1h0" stroke="#c5c55e" stroke-width="1.75" stroke-linecap="round" fill="none"/>
<path d="M374.3 137.4h0M331.7 158.1h0M361.2 161.6h0M369.8 152.1h0M364.3 158.2h0M363.4 157.4h0M358.7 158.4h0M353.3 180.7h0M347.1 177h0M369.8 187.8h0M366.8 186.6h0" stroke="#ebcc2a" stroke-width="1.75" stroke-linecap="round" fill="none"/>
<path d="M352.4 139.9h0M381.2 154.7h0M379.7 145.2h0M382.6 148.9h0M381.7 146.5h0M380.1 142.6h0M378.1 159h0M377.4 137.7h0M381.8 151.2h0M381.1 153.9h0M335.2 161.2h0M333.4 155.4h0M343.6 167.1h0M334 156.2h0M335.5 156.2h0M354.4 154h0M361.1 162.7h0M364.3 158.1h0M362.7 149h0M367.9 158.2h0M357.6 162.8h0M366.3 157.6h0M367.1 150.7h0M368.6 156.3h0M360.7 156.8h0M360.6 155.7h0M360.6 155.9h0M355.4 161.8h0M385.3 160.2h0M384.5 171.7h0M390.1 162.3h0M388.3 161.2h0M344.4 182.9h0M354.5 183.3h0M344.5 181.5h0M360.5 183.6h0M357.1 186.3h0M357.4 186.6h0M351.1 182.8h0M351.1 183.5h0M348 184.6h0M358.6 183.8h0M342.5 179.4h0M344.4 178.1h0M361.2 183.4h0M349.2 183.9h0M351.4 180.8h0M355.9 178.2h0M348.9 180.3h0M346.5 183.6h0M349.7 178.9h0M345 178h0M375.6 180.6h0M373.4 171.8h0M377.2 180.9h0M366.5 168.2h0M376.2 182.4h0M373.4 187h0M368.4 189.3h0M370.6 168.1h0M366.8 177.2h0M364.6 175.7h0M367.5 185.9h0M367.7 185.6h0M366.7 185.7h0M370.5 177.9h0" stroke="#e8c21c" stroke-width="1.75" stroke-linecap="round" fill="none"/>
<path d="M357.6 135.5h0M343.9 145.1h0M348.5 142h0M376.1 137.5h0M377.4 136h0M378 156.9h0M378.5 140.6h0M380.6 146.4h0M380.1 157.2h0M380.3 139.8h0M380.2 142.3h0M376.9 138.9h0M376 136.2h0M379 158.2h0M382.7 147.7h0M380.4 139.1h0M378.9 142.1h0M374.3 159.2h0M377.2 139.3h0M380.7 153h0M373.3 164.5h0M378.9 152.8h0M375.7 136.6h0M380.3 142.3h0M382.1 146.1h0M375.6 136.2h0M382 150.1h0M377.3 155.9h0M337.3 164.2h0M334.4 159.1h0M336.1 160h0M335.9 164.3h0M334.4 159.4h0M337.6 167.6h0M331.6 159.1h0M333.1 154.3h0M331.6 156.1h0M337.5 165.5h0M339.4 165.4h0M339.8 165.7h0M338.7 165.8h0M335.4 165h0M333.6 163.3h0M333.6 154.4h0M335.4 151.4h0M333.1 156.8h0M335.9 162.2h0M333.5 159.2h0M336.5 165.5h0M334.4 151h0M332.7 156.9h0M341.3 156.4h0M333.7 156.2h0M341.1 154.3h0M336.2 155.9h0M337.1 155.9h0M335.3 156.9h0M354.4 158h0M363.3 147.3h0M356.8 162.7h0M353.1 155.7h0M361 157h0M387.7 171.7h0M384.3 174h0M384.1 157.3h0M389.8 163.7h0M386.7 172.2h0M388.6 170.9h0M389.1 165h0M387.5 165.9h0M390.3 164.5h0M384.4 158.9h0M385.9 170.3h0M390.7 166.7h0M388.5 161.5h0M350.8 182.5h0M357.2 180.8h0M352.5 181.5h0M356.8 185.5h0M351.9 176.9h0M354.7 181.8h0M354 179.4h0M357.7 183.7h0M359.2 181.2h0M360 181.9h0M342.3 180h0M346.6 177.9h0M351.7 176.9h0M349.8 185.3h0M348.4 184.1h0M349.6 181.4h0M347.2 177.1h0M356.3 178.7h0M351 177.9h0M355.8 186h0M356.6 184.4h0M353.5 182.9h0M353.7 182.3h0M356.1 181.4h0M351.5 182h0M362.1 183.4h0M353.9 179.4h0M349.6 183.7h0M344.2 180.5h0M355.3 178.2h0M355.8 178.1h0M352.6 185.5h0M357.2 184.1h0M355.4 183.8h0M351.1 176.8h0M341.9 179.1h0M353.4 186.5h0M351.7 178.8h0M343.1 178.2h0M362.5 184.1h0M345.8 180.9h0M341.9 179.2h0M360.6 181.7h0M361.3 185.6h0M352.9 183h0M350.7 178.7h0M352.5 179.7h0M362 183.2h0M358.7 181h0M356.6 183.4h0M360.9 184.6h0M354.4 186.3h0M346.4 179.1h0M352.7 176.8h0M345.4 177.9h0M352.7 177.3h0M353.9 182.7h0M350.8 183.3h0M369 167.9h0M372.9 171.5h0M375.5 172h0M377.6 180.7h0M375.1 174.5h0M375.8 175.9h0M370.1 187.5h0M374.1 186.4h0M376.4 172.8h0M365.1 168.7h0M367.6 169.8h0M365.9 168.8h0M376.2 177.8h0M368.6 168.1h0M365 170.5h0M366.1 176.8h0M366.1 174.5h0M366.5 176.5h0M365.5 173.1h0M365.8 183.1h0M368.4 186h0M367.2 183.4h0M365.4 183.3h0M370.3 177.2h0M370.6 180.7h0M371 176.9h0" stroke="#e4b90e" stroke-width="1.75" stroke-linecap="round" fill="none"/>
<path d="M352.7 139.7h0M379.9 156.7h0M374.1 159.2h0M376.5 136.6h0M378.9 156.3h0M382.9 148.1h0M378.4 138.9h0M379 137.5h0M379.6 153.2h0M377.5 158.8h0M379.4 143h0M378.8 157.6h0M381.6 149.8h0M373.1 164.9h0M380.6 152.6h0M380.5 141.3h0M374.8 137h0M379 143h0M335.2 153.6h0M338.8 167.5h0M334 149.4h0M334.5 148.4h0M335.5 152.5h0M333.7 154.5h0M335.4 160.4h0M335.2 162.1h0M333.7 152h0M333.5 154.6h0M333.6 154.7h0M335.8 163.2h0M331.3 156.7h0M332.7 155.8h0M335 157.3h0M335.2 156.3h0M385.7 170.3h0M385.4 173.3h0M388 165.4h0M384.4 159.7h0M391 160.9h0M388.9 169h0M390 163.1h0M344.4 176.4h0M356.3 182.4h0M360.4 184.5h0M342.5 180.9h0M356.3 183.2h0M354.3 177.4h0M356 182.8h0M358.6 183.5h0M352 184.5h0M347.8 183.7h0M351.9 180h0M347 176.5h0M355.8 183.6h0M350 177h0M348.2 179.4h0M351.3 178.6h0M355.9 185.9h0M351.8 182.4h0M360.8 185.2h0M342.8 177.8h0M345.7 180.3h0M347.7 182.7h0M343.2 177.5h0M351.1 178h0M348.1 176.5h0M344.2 179.3h0M356.3 184.2h0M351 180.6h0M345.3 182.1h0M375.8 183.2h0M375.4 183.1h0M377 182.1h0M375.4 171.3h0M376.8 180.3h0M377.8 177.4h0M375.8 171.1h0M376.2 183h0M367 167.9h0M367.2 177.7h0M365 176.2h0M365.7 172.4h0M365 181.3h0M372.2 174.3h0M373.2 182.4h0M373.6 183.2h0" stroke="#e1af00" stroke-width="1.75" stroke-linecap="round" fill="none"/>
<path d="M379.5 136.9h0M387.9 158h0M359.3 182.5h0M356.5 179.2h0M345.7 177.3h0M376.8 183.8h0M366.5 168h0M364.8 176.6h0" stroke="#e77d00" stroke-width="1.75" stroke-linecap="round" fill="none"/>
<path d="M382.8 173.2h0M356 180.8h0M353.5 181.6h0M355.3 182.9h0M346.3 178.5h0" stroke="#ec4c00" stroke-width="1.75" stroke-linecap="round" fill="none"/>
<path d="M388.5 158.8h0M359 183.6h0M350.9 186h0M376.8 174.5h0" stroke="#f21a00" stroke-width="1.75" stroke-linecap="round" fill="none"/>
<path d="M368.8 132.3h0M360.9 136.7h0M347 150.6h0M354.2 137.4h0M367.4 129.8h0M357.6 137.3h0M347.6 140.7h0M360.1 135h0M366.5 133.3h0M362.2 134h0M359.1 137.3h0M346.7 149h0M343.3 145.2h0M362.6 137.4h0M349.9 142.9h0M377 158.8h0M381.6 151.6h0M377.6 155h0M379 137.2h0M380 152.7h0M378 136.8h0M378.2 153.5h0M334.5 160.6h0M335.6 150.9h0M333.1 160.9h0M335.2 163.5h0M335.9 149.6h0M337.9 164.7h0M339 157h0M368.9 148.8h0M370 152.1h0M361.6 149.4h0M359.9 161.6h0M362.9 162.6h0M366.9 156.1h0M364.6 149.4h0M353.2 158.7h0M359.1 150.7h0M367.4 150.7h0M364.9 160.6h0M355 161.1h0M362.3 154.3h0M359.6 155.3h0M364.9 152.4h0M359.4 156.7h0M362.6 155.3h0M360.1 155.4h0M355.4 163.1h0M354 165.4h0M387.8 167.6h0M385.5 171.9h0M390.2 165.1h0M388.8 159.9h0M387.9 169.5h0M366.2 168.4h0M370.7 188.4h0M366 178.5h0M370.7 174.4h0" stroke="#3b9ab2" stroke-width="1.75" stroke-linecap="round" fill="none"/>
<path d="M347.8 145h0M364 135.5h0M346.8 147.1h0M345.1 149.9h0M362.4 136.2h0M347 147.1h0M356 139.8h0M356.8 139.3h0M365.1 136.3h0M361.9 138.6h0M366.7 130.3h0M350.6 140.4h0M346.3 145.6h0M348.2 143.4h0M360.9 134.5h0M363.2 133h0M351.3 141.8h0M365.5 130.9h0M362.3 136.1h0M364.6 135h0M345.5 147.4h0M361 134.2h0M360.9 137.2h0M351.1 141.9h0M367.3 128.2h0M357.4 137.7h0M365.8 133h0M366.3 133.2h0M360.4 137.7h0M343.5 149.8h0M346.7 147.3h0M368.4 132.6h0M347.7 143.9h0M345.1 149.2h0M358.2 137.5h0M360.9 136.4h0M357.6 138.2h0M363.1 137.1h0M357.5 137h0M344.9 147.2h0M354.4 137.5h0M354.3 136.6h0M365.2 133.1h0M345.7 149.1h0M347.4 147.6h0M343.9 149.5h0M353.5 139.2h0M354.8 137h0M377.1 158.1h0M377.3 135.4h0M380.3 146.4h0M372.4 162.5h0M378.2 155.5h0M379.7 152.5h0M377.7 158.9h0M380.4 151.6h0M374.1 159.7h0M377.2 157.2h0M374.8 158.5h0M374.6 162.3h0M373.5 164.7h0M379.7 149.4h0M381.3 141.2h0M383.2 146.6h0M378.3 152.1h0M378.4 157.2h0M332 151h0M332.9 149.6h0M332.3 158.1h0M332.1 160h0M333.6 157.8h0M332.9 152h0M334.2 155.1h0M337 165.8h0M332.3 158.2h0M331.6 156.7h0M331.9 156.1h0M333 158.6h0M333.6 155.1h0M337 156.5h0M334.8 156h0M336.4 157.1h0M339.2 157.2h0M354 155.8h0M355.7 161h0M367 152.9h0M357.9 150.1h0M359.6 150.9h0M365.3 158.6h0M360.9 151.5h0M365.5 160h0M363.3 149.4h0M358.4 162.5h0M367.8 151.1h0M362.7 161.5h0M362.9 163h0M358.5 163.3h0M367.4 149.2h0M369 153.4h0M362.9 149.3h0M365 157.6h0M363.9 160.6h0M358.5 163.3h0M359.6 164.3h0M365 150.1h0M355.6 154.9h0M358.9 150.4h0M355.2 157.9h0M368.9 154.9h0M362.3 147.6h0M363.4 146.9h0M354.7 155h0M361.1 149h0M355.4 161.4h0M361.4 156.6h0M360 155.8h0M364.1 157.6h0M363.3 155.4h0M360 154.3h0M363.5 156.8h0M362.5 154.3h0M361 156.5h0M361.5 153.9h0M361.3 155.8h0M359 157.8h0M360.9 155.3h0M361.5 157.3h0M357.9 157.5h0M359.2 156.4h0M364 151.8h0M361.8 156.3h0M363.3 153.5h0M354.5 165.7h0M356.6 164.1h0M352.2 167.2h0M353.6 167.2h0M355.5 164.6h0M354.3 168.1h0M391.7 164.7h0M388 157.7h0M387.5 168.2h0M386.1 172.2h0M384.6 173.1h0M385.8 173.5h0M385.8 169.2h0M388.7 160.4h0M389.9 160h0M388.3 168h0M390 158.8h0M387 169h0M384.7 171.5h0M343.3 179.6h0M356.7 180.1h0M370.4 188.9h0M371.2 170h0M368.7 189.3h0M376.5 175.4h0M375.1 185.1h0M364.7 176.3h0M366.8 184.6h0M366 183.4h0" stroke="#4fa4b8" stroke-width="1.75" stroke-linecap="round" fill="none"/>
<path d="M345.7 151h0M347.9 143.5h0M351.5 142.1h0M356.1 138.6h0M358.9 134.8h0M345.1 144h0M366.8 131.4h0M362.6 133.3h0M362.1 138h0M356 137.6h0M362.7 137.1h0M365.1 136.2h0M344.9 146h0M348.2 144.8h0M358.8 139.2h0M361.8 136.8h0M362.8 135.3h0M363.6 134.1h0M348 142.7h0M343.3 147h0M347.7 140.6h0M360.7 137.3h0M346.1 147.6h0M353.1 141h0M362.2 135h0M357.7 137.3h0M349.2 143.4h0M352.6 138.7h0M360.9 136.1h0M360 136.7h0M346.2 147.3h0M346.8 145.7h0M367.4 131.6h0M358.8 135.5h0M350 143.1h0M347.5 144.6h0M361.1 136.4h0M345.4 150.2h0M363.7 134.6h0M368.8 130.7h0M366.5 129.8h0M360.1 135.1h0M359.1 137.4h0M345 147.6h0M358.7 136.8h0M361.6 134.2h0M363.8 133.3h0M343.5 149h0M372.5 162.6h0M379.3 150.6h0M379.9 149.7h0M372.8 163h0M378 152.6h0M378.8 140.6h0M373.7 162.7h0M374.1 161h0M382.3 143.5h0M377.9 139h0M381.3 154.6h0M374.4 160.2h0M380 147.5h0M378.9 156.8h0M374.9 158.6h0M377.8 156.8h0M377.7 141.1h0M376.6 160.6h0M381 152.4h0M378.9 149.2h0M379.7 151.4h0M381.5 153.1h0M375.3 158.7h0M379.8 144.2h0M374.1 160h0M371.9 161.3h0M380.8 149.6h0M379.1 143.2h0M379.9 151.3h0M381.2 148.3h0M375.9 137.6h0M380.9 151.5h0M376.8 136.3h0M332.3 150h0M332.2 161.2h0M332.4 161.2h0M334.2 158.4h0M337.2 166.7h0M332.7 159.5h0M335.4 165.2h0M341.2 166.7h0M339.5 167.4h0M339.8 166.1h0M334.6 157.4h0M335.5 161.8h0M336.3 166.7h0M335.1 161.1h0M333.4 161.8h0M334.5 149.9h0M342.9 168.1h0M337.4 165.9h0M338.3 164.8h0M340.5 166.8h0M342.4 166.7h0M334 155.7h0M341.8 167.3h0M334 158.2h0M335.9 166.5h0M334.8 157.4h0M340.3 155.3h0M333.7 158h0M335.9 158h0M334.9 156.5h0M334.1 155.9h0M360.1 149.1h0M368.9 155.7h0M362.1 159.7h0M355.6 160.8h0M358.9 148.8h0M365.7 158.3h0M360.3 149h0M365.5 149.2h0M361.6 149.6h0M356.8 160.9h0M358.3 162h0M367 148.9h0M356.3 161.2h0M364.5 159.2h0M362.2 150.2h0M360.6 162h0M358.3 162.8h0M354.5 156h0M357.5 153h0M365.8 157.9h0M364.3 158.2h0M368.4 154.8h0M353.9 159.7h0M352 156h0M355.5 161.9h0M364.3 149h0M361.5 149.5h0M366.6 149.4h0M353.9 158h0M360.9 156.6h0M359.6 155.4h0M360.2 153.9h0M360.8 154.6h0M362.8 157.3h0M365 157.5h0M359.9 154.6h0M361.5 154.8h0M358.9 157.7h0M358.8 157.4h0M358.1 157.6h0M357.8 159h0M359.5 158.6h0M358.9 157h0M362.8 153.5h0M364.7 151.6h0M363.6 154.1h0M359 158.8h0M363.6 155.4h0M359.7 157.1h0M363 154.8h0M360 156.1h0M356 164.5h0M354.8 167.2h0M354.5 168h0M354.4 167.8h0M354.4 167.6h0M356.5 163h0M386.6 160h0M389.2 159.7h0M384.3 174.3h0M389 158.8h0M388.9 169.9h0M389.9 162.3h0M385.2 159.9h0M383.3 173.2h0M384.6 171.7h0M391.9 163.7h0M386.9 159.2h0M389.2 161.8h0M358.3 183.4h0M353.5 179.4h0M349.3 184.9h0M343.7 179.4h0M358.2 181.5h0M370.1 187.9h0M367.6 187.5h0M369.1 188.7h0M375.1 185.1h0M368.3 188.6h0M369.3 168.5h0M369.2 188.3h0M366.2 178.8h0M366.8 185.8h0M371.9 175.8h0" stroke="#64adbf" stroke-width="1.75" stroke-linecap="round" fill="none"/>
<path d="M351 142.5h0M366.6 132h0M360.3 137.1h0M350.4 138.1h0M360.8 136.5h0M345 149.4h0M344.8 144.1h0M355.4 138.3h0M369.7 130.4h0M343.7 150h0M368.9 129.8h0M353.8 139.3h0M346.4 144.1h0M375.7 137.7h0M381.9 148.9h0M381.1 154h0M378.4 159.3h0M381 150.4h0M373.6 161.6h0M373.7 164.7h0M376.5 156.2h0M381.2 146.3h0M380.4 154.9h0M379.5 147.1h0M375.1 159.2h0M373.2 163.2h0M379.5 144.6h0M381.5 145.2h0M381.2 144.6h0M376.6 156.4h0M331.9 157.2h0M333.7 160.5h0M332.3 156.7h0M336 148.7h0M335.1 148.9h0M331.6 158.9h0M334.3 152.2h0M333.3 160.2h0M337.7 155.8h0M340.8 156.1h0M355.3 160.2h0M354.5 152.9h0M367 155.9h0M360 150.6h0M354.9 154.7h0M355.9 161h0M368.1 153.5h0M368.7 157h0M360.4 151.2h0M354.9 159h0M361.3 162.2h0M369.3 156.1h0M360.3 155.3h0M365 157.9h0M361.4 154.7h0M361 156.2h0M362 153.4h0M357.3 162.9h0M355.6 165.6h0M386 160.2h0M388.4 159.4h0M385.3 159.9h0M389.9 163.4h0M352.2 180.6h0M344.6 177.3h0M347.6 176.7h0M353.7 178.5h0M374 187.1h0M373.2 185.8h0M367.9 178.2h0M367.8 184.5h0" stroke="#78b7c5" stroke-width="1.75" stroke-linecap="round" fill="none"/>
<path d="M352.6 139.4h0M374.7 159.4h0M372.5 161.1h0M335.7 165.9h0M333.5 161.8h0M335 157.8h0M363.8 161.8h0M360 153.9h0M355.9 164.4h0M384.1 171.7h0M371.3 188.2h0" stroke="#9ebe91" stroke-width="1.75" stroke-linecap="round" fill="none"/>
<path d="M358.2 152.9h0" stroke="#c5c55e" stroke-width="1.75" stroke-linecap="round" fill="none"/>
<path d="M377.3 156.5h0M363 150.6h0M363.7 159.9h0M364.3 161.7h0M353 155.8h0M358.5 154.6h0M355.7 162.9h0M353.7 185.4h0M376.2 184.6h0M375.2 184.3h0M367.3 184.7h0" stroke="#ebcc2a" stroke-width="1.75" stroke-linecap="round" fill="none"/>
<path d="M379.2 153h0M378.1 139.4h0M382.3 145h0M379.3 139.1h0M379.3 139.2h0M380.6 142.7h0M382.3 144.3h0M377.6 138.8h0M375.4 160h0M333.9 148h0M335 163.2h0M334.1 163h0M334.7 150.3h0M340.3 156.2h0M337.2 157.1h0M367.2 151.8h0M361.7 163.4h0M364.7 158.3h0M362.1 148.4h0M355.7 161h0M369.5 153.6h0M363.1 160.6h0M363.6 159.6h0M358.2 155h0M365.4 157h0M364.6 153.4h0M364.1 154h0M389.2 161.6h0M386.7 156.9h0M387 169.3h0M384.7 171.1h0M354.3 182.2h0M352.1 180.1h0M345.5 177.4h0M360.1 182.2h0M361.1 183.6h0M360.3 185.4h0M344.1 176.9h0M355.4 178.6h0M350.4 183.9h0M347.8 176.5h0M357.8 183.6h0M354.9 178.9h0M346.7 177.9h0M354.7 181.9h0M358.2 179.4h0M359.2 184.5h0M346 178.9h0M345.8 176.3h0M350.3 177.5h0M349.3 180h0M354.1 185.3h0M370.6 187.7h0M371.8 187.1h0M375.7 180h0M367.5 187.5h0M367.7 189h0M371.7 188.6h0M377.2 181.7h0M365 173.4h0M365.9 170.5h0M367.7 178.8h0M367.7 186.8h0M364.6 181.5h0M364 181.6h0M370.2 182.8h0" stroke="#e8c21c" stroke-width="1.75" stroke-linecap="round" fill="none"/>
<path d="M349.6 143.3h0M347.4 141.2h0M377.7 136.2h0M378.2 155.4h0M377.8 153.9h0M378.2 159.6h0M380.9 140.3h0M377.3 158.6h0M377 160.3h0M378.4 155.5h0M379.5 143h0M374.8 160h0M376.4 138.1h0M380.5 139h0M378.2 139.6h0M382.3 151.4h0M378.1 136.4h0M377.4 139.3h0M379 150.3h0M378.1 138.9h0M381.4 145.4h0M381.6 143.5h0M379.2 138.8h0M379 155.7h0M380.7 150.3h0M374.6 161.2h0M371.7 163.1h0M332.5 153.5h0M332.2 151.8h0M341.4 169.2h0M334 151.9h0M331.7 159.6h0M333.1 157.9h0M334.6 162.5h0M335 150.1h0M333.4 154.5h0M333.6 158.6h0M334.4 151.5h0M339.2 167h0M335.8 164.3h0M332.7 152.1h0M334.5 152.6h0M334.6 165.4h0M333.1 147.9h0M333.7 149.9h0M340.8 166.9h0M332.8 161.3h0M341.5 168.9h0M341.8 167.2h0M334.7 153.2h0M338 157.5h0M341 157.2h0M336.5 157.6h0M339 157.2h0M334.4 158.4h0M334.1 155.5h0M338.5 155.9h0M365.2 158.3h0M367.4 159.8h0M357.4 152.3h0M366.4 150.5h0M385.1 172.9h0M384.3 171.1h0M391.6 163.3h0M384.3 157.5h0M387.5 158.7h0M389.8 164.1h0M389 164.1h0M383.7 158.9h0M386.1 157.7h0M388.9 165.4h0M390.9 161h0M385.9 159.2h0M384 172.1h0M389.8 159.2h0M352.6 185.8h0M358.3 179.7h0M359.8 184.9h0M353 186.4h0M351.2 180.6h0M343.2 179.1h0M346.8 176.1h0M342.8 178.2h0M348.6 182.9h0M353.1 181.3h0M350.5 182.6h0M358.9 182.3h0M353.3 185.9h0M354.2 182.7h0M349.1 183.6h0M357.5 186.2h0M359.2 181.4h0M357.3 179.3h0M350.4 178.6h0M355.9 178.8h0M361.4 183.6h0M351.8 181.2h0M353.2 179.3h0M353.9 181.2h0M351.2 181.8h0M348.3 178.3h0M353.3 179.2h0M348.2 177h0M349.1 179.7h0M349.3 182.1h0M353.6 182.8h0M356.7 178.7h0M361.4 183.3h0M356 185.5h0M359.1 181.1h0M351.8 176.9h0M360.1 182h0M360.1 183.4h0M359.5 185.6h0M349.1 183.2h0M353 179h0M359.8 181.4h0M358.4 183.4h0M356.8 178.6h0M343.5 181.8h0M343.2 177.3h0M351.9 184.9h0M360.1 184.6h0M354.1 182.4h0M357.7 186.4h0M351 179.2h0M346.5 180.2h0M347.1 183.6h0M351.7 185.5h0M342 179.6h0M357.9 186.5h0M356.2 180.1h0M368.6 169.3h0M371 168.9h0M370.8 169.4h0M370 187.8h0M375.9 178.3h0M375.6 180.6h0M375.2 173.9h0M369.2 169.2h0M376.2 173.3h0M370.1 169h0M376.3 178.7h0M371.2 187.7h0M367.9 169.3h0M366.3 169.2h0M366.5 178.7h0M367.5 177.6h0M365.9 177h0M365.2 176.9h0M366.3 170h0M366.1 178.8h0M365.7 183.1h0M367.2 186h0M364.6 181.6h0M364.4 181.8h0M370.7 174.8h0M369.8 176.3h0M373 179.6h0" stroke="#e4b90e" stroke-width="1.75" stroke-linecap="round" fill="none"/>
<path d="M345.6 146.9h0M381.4 143.1h0M381 147.2h0M382.2 147.2h0M378.2 155.8h0M378.9 152.8h0M373.7 164.3h0M380.1 141.7h0M379.4 141.5h0M379.8 149.2h0M377.5 137.2h0M379.6 140h0M379.7 155.6h0M376.7 135h0M377.5 138.9h0M382.4 142.4h0M378 157.4h0M334.3 158.2h0M341.9 166.8h0M343.3 167.2h0M332.7 158.7h0M332.7 162.8h0M335.4 162.3h0M333.4 159.2h0M333 155.6h0M339.3 165.6h0M332.8 157h0M339.7 166.8h0M333.6 160.7h0M334.1 163.1h0M332.7 158.4h0M339.3 156.2h0M340 157.6h0M386.5 157.5h0M384 158.1h0M387.7 167.3h0M385.8 172.1h0M386.6 170.4h0M385.7 170.1h0M389.8 160.6h0M389.1 163.3h0M353.9 184.5h0M361.8 184.9h0M359.7 185.8h0M359.3 186.1h0M355.1 186.3h0M344.4 178.4h0M343.4 178.8h0M356.4 181.6h0M361.4 184.4h0M352.6 184.6h0M351.9 179.9h0M348.9 180.7h0M346.1 182.3h0M342.5 179.7h0M347.3 178.1h0M357.5 185h0M347.1 179.3h0M344.2 177h0M357.6 185.5h0M351.7 181.1h0M358.1 179.9h0M355.8 183.8h0M355.9 185h0M353.9 186h0M346.8 177.2h0M346.2 176h0M359.1 181.3h0M353.7 185.8h0M357 184.3h0M374.5 184.5h0M367.2 168h0M375.7 182.3h0M372.4 170.4h0M374.3 172.3h0M375.7 181.4h0M377.4 176.6h0M371.6 169.3h0M367.8 178.2h0M366.2 178.5h0M365.2 173.6h0M366.6 177.4h0M364.8 181.8h0M373.9 182.1h0M371.4 182.4h0" stroke="#e1af00" stroke-width="1.75" stroke-linecap="round" fill="none"/>
<path d="M333.9 158.5h0M388 159.9h0M351.4 183.7h0M353.4 185h0M358.6 186.3h0M372.5 170.1h0M377.8 179.2h0M367.5 178.1h0" stroke="#e77d00" stroke-width="1.75" stroke-linecap="round" fill="none"/>
<path d="M353.4 184.4h0M350 178.6h0M342.2 179.8h0M352.9 182.7h0M376.2 177.2h0" stroke="#ec4c00" stroke-width="1.75" stroke-linecap="round" fill="none"/>
<path d="M389.5 169.1h0M357.2 181.8h0M353.2 182.3h0" stroke="#f21a00" stroke-width="1.75" stroke-linecap="round" fill="none"/>
<path d="M340.4 177.5C340.6 176.6 341.5 175.7 342.7 175.1C343.9 174.5 345.7 173.9 347.4 173.7C349.2 173.5 351.4 173.6 353.1 174.0C354.8 174.3 356.5 175.0 357.8 175.6C359.1 176.1 360.3 177.2 361.1 177.5C361.9 177.7 362.4 177.3 362.7 176.8C363.0 176.2 362.8 175.2 362.7 174.2C362.6 173.1 362.0 171.4 362.1 170.4C362.2 169.4 362.6 168.6 363.3 168.0C364.0 167.4 365.2 167.0 366.3 166.8C367.4 166.6 368.7 166.6 370.1 166.8C371.4 167.0 373.1 167.3 374.3 168.0C375.5 168.7 376.4 169.7 377.2 170.8C377.9 172.0 378.3 173.6 378.6 175.1C378.8 176.6 378.8 178.2 378.8 179.8C378.7 181.4 378.5 183.1 378.1 184.5C377.7 185.9 377.1 187.3 376.2 188.3C375.3 189.3 374.1 189.9 372.9 190.4C371.7 190.8 370.2 191.0 369.1 190.9C368.0 190.9 367.0 190.6 366.3 190.2C365.6 189.7 365.4 189.0 365.1 188.3C364.8 187.6 364.8 186.1 364.4 185.9C364.0 185.8 363.7 186.8 362.7 187.4C361.8 187.9 360.2 189.1 358.8 189.4C357.3 189.8 355.6 189.8 354.0 189.4C352.5 189.1 350.9 188.3 349.3 187.4C347.7 186.4 345.9 184.8 344.6 183.6C343.3 182.4 342.0 181.3 341.3 180.3C340.6 179.3 340.1 178.3 340.4 177.5Z" fill="none" stroke="#c832c8" stroke-width=".85"/>
<path d="M328.2 126.0V192.3H395.5" stroke="#000" stroke-width="1.3" fill="none"/>
<path d="M326.6 126.7h1.2" stroke="#333" stroke-width=".4"/>
<text x="326.00" y="127.82" font-size="3.10" fill="#444" text-anchor="end">50</text>
<path d="M326.6 143.9h1.2" stroke="#333" stroke-width=".4"/>
<text x="326.00" y="145.02" font-size="3.10" fill="#444" text-anchor="end">25</text>
<path d="M326.6 161.1h1.2" stroke="#333" stroke-width=".4"/>
<text x="326.00" y="162.22" font-size="3.10" fill="#444" text-anchor="end">0</text>
<path d="M326.6 178.3h1.2" stroke="#333" stroke-width=".4"/>
<text x="326.00" y="179.42" font-size="3.10" fill="#444" text-anchor="end">−25</text>
<path d="M344.6 192.7v1.2" stroke="#333" stroke-width=".4"/>
<text x="344.60" y="197.32" font-size="3.10" fill="#444" text-anchor="middle">−25</text>
<path d="M361.6 192.7v1.2" stroke="#333" stroke-width=".4"/>
<text x="361.60" y="197.32" font-size="3.10" fill="#444" text-anchor="middle">0</text>
<path d="M378.6 192.7v1.2" stroke="#333" stroke-width=".4"/>
<text x="378.60" y="197.32" font-size="3.10" fill="#444" text-anchor="middle">25</text>
<text x="361.60" y="201.82" font-size="4.50" fill="#222" text-anchor="middle">tSNE 1</text>
<text x="315.60" y="160.66" font-size="4.60" fill="#222" text-anchor="middle" transform="rotate(-90 315.60 159.00)">tSNE 2</text>
<text x="394.00" y="139.94" font-size="5.93" fill="#111">Glycolysis / Gluconeogenesis</text>
<defs><linearGradient id="gE" x1="0" y1="1" x2="0" y2="0"><stop offset="0" stop-color="#3B9AB2"/><stop offset=".25" stop-color="#78B7C5"/><stop offset=".5" stop-color="#EBCC2A"/><stop offset=".75" stop-color="#E1AF00"/><stop offset="1" stop-color="#F21A00"/></linearGradient></defs>
<rect x="422.0" y="146.0" width="8.8" height="43.7" fill="url(#gE)"/>
<text x="433.80" y="149.24" font-size="4.00" fill="#222">1.2</text>
<path d="M422.0 147.8h1.6M430.8 147.8h-1.6" stroke="#fff" stroke-width=".3" stroke-opacity=".8"/>
<text x="433.80" y="161.24" font-size="4.00" fill="#222">0.8</text>
<path d="M422.0 159.8h1.6M430.8 159.8h-1.6" stroke="#fff" stroke-width=".3" stroke-opacity=".8"/>
<text x="433.80" y="173.34" font-size="4.00" fill="#222">0.4</text>
<path d="M422.0 171.9h1.6M430.8 171.9h-1.6" stroke="#fff" stroke-width=".3" stroke-opacity=".8"/>
<text x="433.80" y="185.24" font-size="4.00" fill="#222">0.0</text>
<path d="M422.0 183.8h1.6M430.8 183.8h-1.6" stroke="#fff" stroke-width=".3" stroke-opacity=".8"/>
<text x="310.20" y="205.90" font-size="10.00" fill="#000" font-weight="bold">F</text>
<path d="M353.6 226.2h0M353.2 222.6h0M359.2 221.2h0M347.6 227.3h0M351.4 224.2h0M371 214.2h0M352.4 221.9h0M352.5 222.7h0M352.6 223h0M345.7 231.7h0M369 215.4h0M356.7 221.6h0M372.3 214h0M350.8 227.8h0M372.2 212.7h0M364.7 218.3h0M355.6 221.4h0M353.3 224.5h0M368.1 218.9h0M373.2 212.9h0M368 218.7h0M347.4 232.7h0M354.3 222.9h0M347.1 226.4h0M349.1 226.1h0M369.9 212.6h0M360 220.4h0M368.4 218.3h0M372.5 214.1h0M354.3 225.1h0M346.7 225.8h0M350.7 225.8h0M351.6 222h0M385.1 228.4h0M379.8 220h0M381.7 222h0M376.2 247.1h0M385.3 236.8h0M377.7 248.7h0M382.7 220.8h0M385.1 232h0M377.7 246.6h0M382.8 230.3h0M382.4 239.8h0M370.2 239.8h0M368.1 243.4h0M359.1 237.3h0M359.6 236.2h0M355.8 238.3h0M370.2 241.2h0M371.2 232.6h0M365.6 231.2h0M365.5 242.4h0M365.2 239.6h0M367.4 235.7h0M364 238.4h0M357.3 247.9h0M393.9 243.8h0M393.2 248.9h0M393.2 250.9h0M378.6 270h0M370.6 270.5h0" stroke="#3b9ab2" stroke-width="1.75" stroke-linecap="round" fill="none"/>
<path d="M347.3 229.2h0M368.4 213.4h0M367.3 214.9h0M350.9 225.6h0M361.1 222.7h0M367.4 219.2h0M353.3 224.9h0M365.5 215.8h0M361 221.6h0M356.4 221.1h0M371.4 214.4h0M348.8 228.6h0M347.8 229.3h0M346.7 231.4h0M348.2 227.9h0M368.9 214h0M348.4 226.9h0M347.1 227.3h0M357.1 219.6h0M363.9 219.5h0M368.7 216.8h0M350.6 227.2h0M348.3 231h0M348.8 231.4h0M364.4 216.6h0M353.7 224.1h0M352.5 224.2h0M356.8 224.2h0M365.7 216.7h0M352.8 224.4h0M364 220.3h0M347.5 233h0M363.8 217.6h0M356.4 222.2h0M361.9 220.1h0M361.1 218.4h0M345.4 234.7h0M351.8 226.3h0M348 229.4h0M352.7 221.7h0M363.4 217h0M358.1 222.4h0M365.4 217.5h0M354.5 222.1h0M348.9 232.3h0M365.1 216.7h0M364.6 220.4h0M350.7 222.4h0M381.1 241.7h0M386.5 234.3h0M379.5 245.4h0M386.2 229.4h0M383.8 231.4h0M382.3 243.2h0M383.7 231.5h0M379.1 240.1h0M382.6 232.4h0M381.9 239.7h0M384.9 224.6h0M379.6 245.8h0M386.1 228.1h0M379.8 243.9h0M385.4 233.3h0M383.1 221.3h0M378.4 245.6h0M383.9 238.5h0M385.1 235.1h0M384.6 222.1h0M382.6 231.9h0M382.4 240.4h0M383.4 225.9h0M377.7 249.8h0M382 222.9h0M376.9 246.6h0M385.5 232.6h0M375.2 246.7h0M382.5 238.3h0M384.3 234.5h0M378.3 247.3h0M385.6 224.7h0M378.5 246.3h0M384.7 228.4h0M377.4 249.2h0M385.4 225.9h0M385.2 234h0M384.9 221.9h0M381.2 220.8h0M382.6 234.9h0M375.7 248.4h0M339.1 248.3h0M333.6 246.6h0M337.4 250.4h0M335.3 240.5h0M356 237.3h0M369 233h0M372 238.4h0M357.3 244.7h0M365.3 245.7h0M357.6 239h0M358.1 236.9h0M356.7 244h0M368 233h0M369.8 236.8h0M368.8 243.8h0M363.8 232.8h0M364.1 247.1h0M356.9 243.3h0M370.8 238.2h0M364.6 245.2h0M370.3 239.3h0M363.6 239.3h0M361.4 240.2h0M363.6 240.8h0M366.2 239.7h0M361.1 239.5h0M367.1 239.7h0M363.7 240.3h0M363.6 238.7h0M368.6 236.5h0M363.9 238.8h0M366.8 238.3h0M357.8 248.6h0M358.6 248.8h0M355.2 251.6h0M356 251.4h0M392.5 257.3h0M395.5 245.2h0M387.6 259.6h0M393.2 254.3h0M394.4 248.9h0M395 251h0M395.5 247.4h0M372.1 274.9h0M378.2 270.3h0M377.4 271.5h0M377.7 271.7h0M376.7 273.5h0M374.7 274.7h0M375.5 274.6h0M368.2 256.9h0M371.7 273.6h0" stroke="#4fa4b8" stroke-width="1.75" stroke-linecap="round" fill="none"/>
<path d="M359.3 219h0M363.4 219.5h0M370.6 212.5h0M345.6 234.7h0M355.6 222.9h0M357.4 220.7h0M348.8 231.1h0M363.3 221.2h0M348.2 225.4h0M346.9 228.3h0M363.5 216.3h0M365.7 218.5h0M371.3 215.1h0M361.3 222.4h0M351.4 227h0M363.7 216.6h0M363.8 220.5h0M361.4 217.7h0M348 232.2h0M354.9 221.2h0M349.3 232h0M352.4 224.8h0M367.1 216.7h0M361 217.5h0M369.5 214.5h0M347.8 230.9h0M353.2 226.2h0M366.7 215.9h0M372.4 213.3h0M365.6 219.7h0M353.5 224.2h0M353.2 225.2h0M367 217.4h0M369.3 214.8h0M359.8 222.7h0M367.9 219h0M354 224.2h0M363.7 219.2h0M367.6 217.8h0M383.5 226.2h0M381.8 238.6h0M382.8 234.2h0M382.8 237.7h0M378.4 248h0M385 235.1h0M379.7 242.6h0M381.5 222.4h0M384.8 232.6h0M378 245.2h0M386 230.3h0M384.4 235.1h0M384.7 235.9h0M380.2 245.2h0M378.5 245.2h0M383.2 237.2h0M377.6 247h0M380 219.7h0M382.3 225.7h0M378.2 244.3h0M385.1 223.4h0M379.1 218h0M385.9 234h0M382.2 236.5h0M379.3 240.5h0M384.8 232.8h0M375.4 246.2h0M377 244.6h0M381.4 241.4h0M384.5 224.2h0M333.8 245.6h0M335.3 241.3h0M333.4 233.3h0M332 236.3h0M336.4 248.5h0M332.6 240.4h0M338.7 250.2h0M335.4 245.3h0M341.4 239.3h0M361 234.2h0M367 247.1h0M356.5 241.6h0M364.7 232.9h0M357.1 238.7h0M357.8 243.1h0M360.8 236.2h0M361.8 233.1h0M360.9 246.9h0M363.2 233.7h0M355.9 243.7h0M360.8 248.6h0M371.8 235.7h0M355.6 237.7h0M361 236.4h0M369 240.8h0M358.4 244.1h0M367.9 244.5h0M356 237.2h0M370 235h0M356.6 242.1h0M371.7 241.4h0M365.7 241.2h0M362.4 238.5h0M364.2 239.7h0M365.6 236.3h0M363 238.9h0M365 240.2h0M363.7 241.9h0M366.1 238.2h0M364.3 239.4h0M364.5 237h0M356.4 250.8h0M354.8 252.5h0M357.7 251.9h0M356.9 248.6h0M393.6 247.7h0M395.3 252.1h0M390.4 254.6h0M390.6 255.9h0M389.7 255.6h0M394 254.4h0M388.7 242.7h0M393.2 253.3h0M390 242.8h0M395.9 245.2h0M387.4 257.2h0M377.9 273.2h0M374 273.5h0M375.2 255.7h0M372.6 273.8h0M379.9 260.5h0M370.9 272.8h0M370.3 271.3h0M368.5 270.9h0" stroke="#64adbf" stroke-width="1.75" stroke-linecap="round" fill="none"/>
<path d="M363.8 219.8h0M355.1 221h0M352.7 223.7h0M359 221.4h0M347 230.9h0M346.8 228.1h0M353.4 224.5h0M352.5 222.5h0M380.8 220.3h0M375.8 245.4h0M380.1 217.9h0M379.2 221.4h0M383.3 230h0M381.1 237.8h0M382 224.8h0M385.1 231h0M381.3 244.8h0M383.8 223.1h0M382.9 228.6h0M382.3 226.3h0M384.7 229.5h0M334.5 239.9h0M341.7 252.7h0M335.6 248.8h0M340.8 250.5h0M342.7 253.5h0M338.6 249.8h0M340.4 250.8h0M334.5 246.2h0M336.8 247.9h0M339 240.3h0M337.6 239.7h0M369.7 234.1h0M368.6 245.9h0M368.7 242.8h0M371.8 233.5h0M369.3 243.5h0M356.7 243h0M366 233h0M364.4 232.4h0M359.3 246.7h0M364.5 238.1h0M361.7 239.7h0M361.6 238.8h0M365.5 243.2h0M367.3 236.6h0M368 237.7h0M364 237.6h0M355.9 249.8h0M355.5 253.1h0M389 258.9h0M390.9 243.1h0M388.2 258.1h0M344.9 262.2h0M352.9 263.1h0M360.1 267.3h0M376 272.7h0M370.7 272.7h0" stroke="#78b7c5" stroke-width="1.75" stroke-linecap="round" fill="none"/>
<path d="M351.1 223.9h0M360.8 220h0M381.2 243.1h0M379.3 243.2h0M384.5 231.1h0M383.4 236h0M337.7 232.6h0M336.2 244h0M372.7 236.1h0M367.6 245.3h0M360.3 246.4h0M364.3 247.5h0M362.8 232.6h0M363.8 245.4h0M356.3 244.6h0M356.1 237.4h0M358.1 242.3h0M361.8 234.8h0M359.1 239.6h0M356.6 244.4h0M365.5 242h0M366.6 235.5h0M366.6 238.5h0M360.1 243.2h0M361.2 242.9h0M356.8 249.2h0M393.1 250.8h0M392.9 250.3h0M362.6 268.8h0M370.1 263.5h0" stroke="#9ebe91" stroke-width="1.75" stroke-linecap="round" fill="none"/>
<path d="M347.5 228.5h0M366.6 245.8h0M361.4 234.9h0M372.2 238.6h0M357.4 239h0M367.2 233.6h0M372.5 239.5h0M366.5 245.2h0M354.6 241.3h0M358 240.8h0M362.3 247.6h0M371.8 237.6h0M369.7 232.3h0M356.4 243.1h0M356.4 245.3h0M370.1 238.5h0M359 234.2h0M371.1 241.7h0M357.2 237.3h0M357.6 235.9h0M359.5 234.1h0M365.6 241.8h0M368.4 241.7h0M366.6 243.8h0M361.1 239.7h0M365.3 239.2h0M366.6 236.5h0M361 243.1h0M364.1 238.8h0M362.2 241h0M364.7 239.3h0M361.8 243.6h0M366.5 236.7h0M362.7 242.5h0M366.6 238.7h0M355.9 252.6h0M356.2 252.6h0M357.6 252.3h0M359.4 247.9h0M391.4 256.8h0" stroke="#c5c55e" stroke-width="1.75" stroke-linecap="round" fill="none"/>
<path d="M349.3 225.4h0M385.7 232.6h0M384.6 229.4h0M382.6 232.4h0M380.3 242.2h0M379.9 242.1h0M379.3 240.9h0M376.2 244.9h0M334.5 236.1h0M336.5 244.6h0M365.3 233.3h0M357.8 241.5h0M366.1 231.2h0M355.9 237.2h0M359.7 234.8h0M356.6 245.2h0M371.7 240.7h0M361.7 235h0M358.3 238.1h0M362.4 245.9h0M365 232.5h0M363.9 232.4h0M357.7 236.6h0M357.4 241.4h0M366.6 240.9h0M360 242.6h0M365.5 237.5h0M362.7 239.2h0M363.7 241.9h0M355.6 250.9h0M359.4 247.7h0M389.4 255.2h0M391.8 257h0M387.7 257.8h0M377.4 257.9h0" stroke="#ebcc2a" stroke-width="1.75" stroke-linecap="round" fill="none"/>
<path d="M368.3 218.6h0M345.9 233.4h0M385.2 223.2h0M380.9 219.4h0M381 223.8h0M378.4 246.8h0M380 243.1h0M378.7 220.7h0M378.2 243.6h0M384.5 237.3h0M383.6 235.9h0M382.2 218.9h0M336.8 250.5h0M332.2 241h0M336.5 249.4h0M334.3 235.6h0M332.8 237.7h0M336 246.7h0M334.5 244.5h0M335.8 243h0M336.1 247.9h0M336.8 246.2h0M333.9 233.6h0M336.4 250.3h0M342 250.8h0M336 245.1h0M336.9 234.1h0M340.9 250.3h0M344.7 252.6h0M335.5 233.2h0M334.4 239.5h0M340.4 239.5h0M336.2 240.4h0M335 242.3h0M343.4 241.4h0M371.7 240.4h0M366.2 240.6h0M390.9 243.7h0M392.6 250.5h0M390.5 242.2h0M392.9 252.3h0M392.7 246.4h0M390.1 244.4h0M392.8 245.1h0M389.6 255.6h0M390.8 242h0M393 245.9h0M390.3 255.5h0M393.9 251.9h0M387.4 258.3h0M392 244.2h0M391.9 256.6h0M392.2 245.6h0M362.2 269.7h0M354 263.5h0M362 267.2h0M373.5 255h0M380.2 264h0M378.1 257.4h0M378 270h0M380 263.5h0M380.1 260.8h0M374.5 254.6h0M377.7 270.2h0M379.2 263h0M378.1 255.7h0M380.4 267.1h0M378 257h0M378.6 258.9h0M369.2 255.8h0M368.6 260.3h0M368.8 262.7h0M368.1 255.1h0M369.1 270.1h0M369.5 268.1h0M368.5 269.3h0M375.6 260.9h0M375.7 264.4h0" stroke="#e8c21c" stroke-width="1.75" stroke-linecap="round" fill="none"/>
<path d="M349.4 227.2h0M383.8 221.7h0M380.6 219.7h0M382.4 226.7h0M379.8 220.2h0M374.9 247.8h0M382.9 224.2h0M377 246.2h0M380.5 216.9h0M382.4 223.2h0M332.7 245.1h0M343.2 251.1h0M333.3 238.8h0M333.6 242.3h0M333.9 236.2h0M340.2 250h0M333.4 234h0M335.9 241.7h0M336.9 248.5h0M337.7 247.4h0M332.7 234.5h0M332.2 238.1h0M335.9 236.5h0M335.7 248.2h0M336.5 234.9h0M336.5 250.9h0M335 244.2h0M337 250.8h0M337.1 248.8h0M342.4 253.1h0M334 235.7h0M332.6 236.5h0M336.6 246.9h0M334.9 242.8h0M338.4 247.6h0M336.8 249.8h0M332.4 236.5h0M342.7 252h0M334.5 244.2h0M332.8 238.4h0M335.2 234.8h0M334.3 232.4h0M333.5 243.7h0M333.4 233.2h0M339.9 250.9h0M344.5 252.3h0M337.7 250.1h0M335.8 236.1h0M339.5 241.5h0M342.2 238.8h0M340 240.6h0M341.7 242.6h0M340.2 242.4h0M336 242.2h0M340.3 239.1h0M338 242.7h0M337.8 241h0M339.5 240.3h0M340 239.6h0M334.5 241.8h0M390.3 258.2h0M388.2 259.1h0M393.1 248.7h0M388.7 241.7h0M387.9 258.1h0M394.5 250.5h0M389.6 256.3h0M393.2 247.6h0M393.9 251h0M393.9 249.7h0M392.2 249.8h0M387.2 258.1h0M393.5 254.1h0M392.6 246.5h0M391 256.4h0M351.6 267.3h0M349.8 262.2h0M354 272h0M348.2 265.5h0M352.3 262.5h0M351.9 263.9h0M351.3 265h0M360.4 266.9h0M349.1 263.7h0M358.4 269.2h0M363 271.2h0M347.8 265.8h0M354 266.4h0M350 267.5h0M355.1 263.6h0M361 268.4h0M357.3 271.2h0M361.8 267.8h0M354.6 270.4h0M359.8 265.7h0M359.4 271.2h0M360.6 268.4h0M363.5 268.4h0M358 264.9h0M349.9 262.1h0M356.1 272.3h0M355.5 264.7h0M352.6 268.7h0M363.9 270.6h0M344.1 263.6h0M353.3 262.7h0M349.1 270.8h0M353.5 262.9h0M353.3 263.5h0M346.9 263.1h0M379.8 265.3h0M378.7 269.1h0M380 266.6h0M379.9 268.6h0M379.6 267.1h0M379.8 259.1h0M377.7 257.9h0M376.2 256.8h0M379.9 264.2h0M374.2 255.7h0M379.5 266.1h0M378.6 270.3h0M379.4 259.7h0M376.3 256.2h0M379.5 268h0M368 263.1h0M368 257.1h0M368.3 256.4h0M370.1 263.9h0M367.9 263.5h0M368.3 255.8h0M369.9 263h0M368.5 260.2h0M368.5 268h0M368.7 267.9h0M374.2 260.3h0M372.2 262.8h0M373.2 267h0M373.7 261.6h0" stroke="#e4b90e" stroke-width="1.75" stroke-linecap="round" fill="none"/>
<path d="M382.2 223.6h0M384 225.3h0M382.6 225.4h0M380.2 219.6h0M334.6 237.5h0M335.1 239.6h0M333.6 246.5h0M334 235.9h0M333 233.3h0M335.2 238.8h0M339.5 249.6h0M344.9 252.2h0M338.1 250.6h0M332.1 244.6h0M334.6 235.8h0M338.4 248.5h0M341.1 254h0M339.8 249h0M342.7 240.3h0M341.8 240.7h0M341.3 241.2h0M393.6 253.8h0M352.7 265.9h0M359.7 271.7h0M352.8 269.6h0M357.6 271.1h0M344.1 265h0M357.8 269.6h0M349.6 267.6h0M347.4 268.2h0M349.7 268.4h0M351.7 262.1h0M360 266h0M352.3 270.5h0M350.3 270.6h0M362.1 266.7h0M344.2 265.7h0M347.3 265.7h0M345.4 266h0M357.6 266.6h0M348.4 269.5h0M357.2 271.5h0M350.9 264.3h0M347.4 266.8h0M352.4 265.4h0M363.2 271.7h0M347.8 263.7h0M349.1 262.4h0M361.6 270.4h0M353.9 268.2h0M346.6 263h0M345.5 262.2h0M364 270.8h0M343.7 265h0M361.1 268.7h0M357.1 263.2h0M354 263.6h0M347.6 270h0M359.4 269h0M352.2 265.3h0M352.8 264.6h0M363.8 270.5h0M355 262.5h0M351.5 268.8h0M351.6 264.7h0M362.7 267.6h0M349.5 267.2h0M363.1 272.1h0M346.1 267h0M359.6 271.7h0M349.7 264.9h0M352.1 270.7h0M362.3 268.3h0M364.8 270.6h0M347.8 266.3h0M360.5 272.5h0M362.3 270.9h0M355.3 265.9h0M348.9 262.5h0M362.7 268.6h0M359.4 269.2h0M377.3 257.3h0M368.2 254.2h0M378.1 259.1h0M375.2 254.4h0M370 253.5h0M379.3 267.4h0M369.7 262h0M368.4 262.2h0M367.3 267.1h0M367.5 267.5h0M375.1 266.9h0M373.5 265.6h0" stroke="#e1af00" stroke-width="1.75" stroke-linecap="round" fill="none"/>
<path d="M334.6 233.8h0M342 252.1h0M347.3 267.6h0M354.6 268.3h0M347.8 265.6h0M343.4 263.9h0M354.1 265.7h0M352.6 264.4h0M356.6 272.3h0M359.3 266.8h0M351.1 264.4h0M364.7 270.6h0M349.7 265.7h0M344.5 267.2h0M362.8 271.9h0M349.1 263.4h0M359.6 269.6h0M345.7 265.4h0M347.3 269h0M356.8 263.4h0M358.9 265.6h0M356.6 268.2h0M359.8 270.9h0M357.1 267.9h0M370.8 263.1h0" stroke="#e77d00" stroke-width="1.75" stroke-linecap="round" fill="none"/>
<path d="M357.9 270.5h0M359.9 268h0M349.7 265.8h0M360.6 271.3h0M358.3 270.4h0M352.1 268.9h0" stroke="#ec4c00" stroke-width="1.75" stroke-linecap="round" fill="none"/>
<path d="M343.6 264.9h0M353.4 262.6h0" stroke="#f21a00" stroke-width="1.75" stroke-linecap="round" fill="none"/>
<path d="M356.4 221.3h0M350.8 228h0M352.1 225.7h0M365 215.6h0M367.7 218.2h0M354.5 224.3h0M347.5 233.7h0M356.3 222.1h0M348.2 231h0M368.9 216.2h0M368.5 215.1h0M366.7 218.2h0M372.4 214.1h0M357.5 222.6h0M365.6 218.3h0M348.3 230.6h0M356.6 222.1h0M348.8 226.5h0M356.6 220.9h0M357 221.9h0M352.4 223.2h0M368.2 213.2h0M349 228.4h0M356.7 223.7h0M365.4 219.4h0M364.5 220.4h0M354.4 222.8h0M348.6 229.3h0M345 232.9h0M359.9 221.4h0M349.8 227.2h0M350.3 223.7h0M382.9 242h0M383.9 237.9h0M385.9 229.3h0M376.3 244.7h0M383.6 229.9h0M383.7 227.5h0M381.5 218.9h0M384 234.3h0M382.7 231.6h0M378 246.4h0M383.3 240.8h0M338.2 249.1h0M362.4 248.9h0M358 244.7h0M368.6 241.1h0M373.1 237.1h0M364.7 248.2h0M372.7 238.5h0M363.4 232h0M367.5 242.7h0M365.7 239.9h0M361 242.8h0M368.4 236.3h0M354.8 252h0M393.8 244.3h0M389.9 244.5h0M394.2 250.9h0M393 251.8h0M375 274.5h0" stroke="#3b9ab2" stroke-width="1.75" stroke-linecap="round" fill="none"/>
<path d="M369.1 216.7h0M349.2 226.1h0M346.2 231.1h0M344.9 233.5h0M370.7 216.3h0M355.5 222.4h0M367.9 214.9h0M346.7 230.1h0M348.8 227.2h0M353.3 222.8h0M356.2 220.4h0M356.3 220.5h0M347.5 226.9h0M346.6 229h0M362.6 218.9h0M361.2 221.3h0M369.3 217.2h0M352.3 224.5h0M369.7 217h0M347.2 229.4h0M348.6 225.7h0M361 218.9h0M358.9 220.4h0M347.5 232.6h0M348 230.7h0M352.5 225.6h0M353.5 224.2h0M351.5 226.2h0M345.8 230.9h0M357 220.1h0M370.2 217.2h0M348.7 233.1h0M362 218h0M371.6 213h0M344.3 233.3h0M361.3 220.2h0M346.6 226.3h0M361.5 221h0M361.8 218.3h0M361 221.3h0M363.2 220.4h0M347.4 231.9h0M352.8 222.6h0M357.3 221.5h0M351.7 221.6h0M348.8 229.5h0M354.2 223.7h0M346.5 231.4h0M375.5 245.6h0M385.8 232.9h0M380.5 239.6h0M382.8 239.7h0M383.9 239.9h0M384.5 238.6h0M376.4 245.5h0M380.8 242.1h0M381.7 222.9h0M386 235.9h0M381.2 239h0M380.3 245.8h0M378.2 243.9h0M381.1 222.2h0M373.6 247.1h0M386.4 226.8h0M378.5 242h0M377.7 246.9h0M380.6 241.8h0M385.8 235.7h0M384.2 234.2h0M384.2 228.5h0M381.4 240.9h0M378 247.4h0M386.9 232.9h0M383.7 233.8h0M385.7 231.5h0M376.4 246.5h0M378.2 242.7h0M384.1 221.3h0M380.1 217.7h0M380 239.5h0M381.4 237.9h0M376 247.2h0M380.8 241.6h0M383.1 229.9h0M377.2 247h0M385.9 227.6h0M384.1 231.6h0M378.1 219h0M383.1 234.2h0M337.1 247.6h0M334.6 235.5h0M333.1 239.1h0M334.9 241h0M365 245.8h0M359.6 238.5h0M368.2 243h0M358.7 237.8h0M356.3 245.9h0M355.6 241.7h0M363.6 246.2h0M369.8 232.7h0M366.3 243.9h0M355.9 237.7h0M357.1 235.8h0M370 240.6h0M366.1 234.2h0M371.1 240.7h0M368.4 240.5h0M371.3 241.6h0M368 242.2h0M361.5 236.7h0M365.9 240.7h0M360.7 238.3h0M364.3 240.6h0M366.7 240.2h0M362.2 238h0M366.8 236.2h0M363.9 240.3h0M363.8 238.1h0M360.5 244h0M359.7 243.6h0M355.2 253.2h0M355.1 253h0M358.5 247.2h0M355.8 253.3h0M395.1 245.4h0M391 255.5h0M396.1 246.8h0M390.4 241.7h0M388.3 259.8h0M388.1 243.7h0M392 251.3h0M377.9 272h0M375.2 273.5h0M378.8 271.5h0M372.9 275.2h0M377.1 272.7h0M376.1 273.6h0M373.5 274.1h0M369.5 270.3h0M366.8 267.7h0" stroke="#4fa4b8" stroke-width="1.75" stroke-linecap="round" fill="none"/>
<path d="M372.1 215.7h0M355 224.9h0M357.4 222.6h0M354.2 221.4h0M349.9 225.8h0M348.4 231.1h0M368 214h0M348.2 232.5h0M357.3 222.7h0M348.8 225.4h0M366.5 216.6h0M354.9 222.5h0M372.3 213.7h0M365.6 216.3h0M349.5 227h0M365.3 217.9h0M350.5 222.9h0M365.9 217.5h0M365.9 220.1h0M351.5 223.6h0M365.1 220.4h0M371.4 213h0M347.9 225.1h0M348.2 234.4h0M363.3 218.6h0M346 229.2h0M370.1 216.9h0M347.3 228.9h0M358.6 222.5h0M362.5 220.9h0M357.4 220.6h0M363.6 220.2h0M356.5 223.5h0M348.4 232h0M368.9 216.7h0M372.1 215.2h0M349.2 226.8h0M358.9 222.9h0M361.4 217.5h0M376.6 247.6h0M386.1 236.9h0M377.3 246.3h0M384.4 228.4h0M384.8 223.9h0M385.3 230.8h0M381.3 243.2h0M379.8 245.6h0M377.9 244.7h0M385 224h0M384.9 236.9h0M379.3 247.2h0M386.5 231h0M381.7 240.5h0M381.1 221h0M381.1 238.8h0M381.6 237.7h0M382.2 224.9h0M385.2 233.3h0M383 234.4h0M383.1 225.9h0M383 237.4h0M382.6 227h0M383.5 231.5h0M384.8 237.1h0M385 232.6h0M378.8 243.3h0M379.3 241.8h0M384.3 229.9h0M376.9 247.6h0M334.4 232.6h0M338.1 252.2h0M336.9 250.1h0M334.9 240.4h0M333.6 235.4h0M336.2 247.4h0M335.2 246.3h0M336.7 234.8h0M341.1 241.3h0M372.8 238.3h0M362.2 247.8h0M370.2 241.3h0M367.7 232.8h0M372.1 237.6h0M355.8 243.7h0M361.2 246.2h0M365 245.2h0M369.5 233.6h0M357.6 236.2h0M360.3 235.6h0M366.9 230.8h0M354.6 238.8h0M359.4 233.2h0M367.4 243.8h0M357.6 240h0M368.9 232.2h0M370 234.1h0M366.8 231.3h0M363.9 247.5h0M371.8 237.2h0M366.8 242.4h0M362.6 240.4h0M366.9 241.1h0M364.8 239.7h0M360.1 243.5h0M365.6 236.6h0M360.2 241.6h0M366.9 238.3h0M363.4 242.4h0M367.9 237.8h0M367.5 237.1h0M358.1 247.3h0M358.2 248.5h0M357.5 249.6h0M357 247.8h0M393.2 246.2h0M394.7 245.4h0M393.2 248.7h0M391.7 242.6h0M393.1 246.7h0M394.1 248.8h0M390 242.2h0M393.4 246.7h0M393.4 254.1h0M395.2 252.1h0M356.5 269.6h0M371.3 274.4h0M371.1 273.7h0M370 254h0M376.4 273.2h0M366.8 269.2h0M369 270.7h0M370.1 274.1h0" stroke="#64adbf" stroke-width="1.75" stroke-linecap="round" fill="none"/>
<path d="M365.8 215.7h0M353.7 225.2h0M350.2 225.7h0M369.5 217.4h0M353 223.1h0M368.1 214h0M369.5 217.1h0M369.5 213.4h0M379.1 246h0M382.7 233.2h0M379.8 218.8h0M381.4 218.9h0M384.9 228.5h0M378.5 220.8h0M386.1 235.1h0M382.9 226.7h0M381.5 222.5h0M383.1 239.5h0M383.8 228.3h0M381.5 236.7h0M380.4 218.5h0M337.8 247.2h0M333.3 245.5h0M336.4 232.8h0M336.3 233.2h0M334.2 233.6h0M335 234.1h0M334.9 237.1h0M338.9 250.5h0M333 242.9h0M339.6 242.7h0M357.7 237.6h0M360.4 235.2h0M357.7 246h0M370 240.5h0M368.9 240.7h0M370.7 236.9h0M370 232.2h0M369.4 242.7h0M370.4 241.1h0M361.3 234.7h0M360.8 239.9h0M362.5 240.4h0M366.3 240.2h0M362.3 240h0M362.6 242.9h0M363.9 239.5h0M363.1 240.9h0M356.2 252h0M394.4 250.7h0M391.6 256.1h0M391.8 253.4h0M392.3 248.4h0M346.6 263.5h0M347.3 263.2h0M378.8 259h0M375.2 273.2h0M368.7 270.2h0" stroke="#78b7c5" stroke-width="1.75" stroke-linecap="round" fill="none"/>
<path d="M345.7 234.1h0M362 221.2h0M381.3 238.4h0M384.1 226.6h0M383 227.8h0M340.3 250h0M334.8 247.8h0M335.9 242.2h0M371.4 240.8h0M358.2 238h0M356.1 243.4h0M369.3 234.1h0M369.3 233.4h0M358.9 233.7h0M366.4 233.3h0M367.2 231h0M359.1 239.3h0M356.4 245.2h0M367.9 243.6h0M370.6 233.8h0M362.3 240.1h0M363.5 238.4h0M368.2 236.7h0M365.2 237h0M358.9 247.8h0M356.6 253.4h0M390.7 242.7h0M390.8 257.4h0M362.7 271.2h0" stroke="#9ebe91" stroke-width="1.75" stroke-linecap="round" fill="none"/>
<path d="M382.7 239.3h0M357.5 240.8h0M368.8 241h0M366 234.3h0M355.7 244.4h0M355.7 240.3h0M361.1 246.6h0M361.9 234.9h0M368.2 241.1h0M370 233.8h0M370.4 241.1h0M361.7 248.3h0M362.2 249h0M366.7 246.5h0M364.5 246.8h0M365 234.5h0M361.3 234.2h0M360.2 247.4h0M367.3 233.5h0M365.9 231.9h0M359.8 236.3h0M362 238h0M362 239.4h0M361 239.2h0M366.4 240.6h0M363.8 240.1h0M363.4 242h0M364.3 237.4h0M365.7 236.3h0M363.8 237.7h0M363.6 239.3h0M365.4 237.1h0M368.5 236.3h0M363.9 239h0M360.4 242.6h0M359.3 248.6h0M357 252.2h0M355.5 251.7h0M356.6 253.2h0M357.1 265.1h0" stroke="#c5c55e" stroke-width="1.75" stroke-linecap="round" fill="none"/>
<path d="M359.6 218.8h0M384.8 235.1h0M385.9 230.6h0M383.1 228.6h0M376.7 244h0M384.4 232.1h0M382.3 224.9h0M336.8 233.3h0M334.9 234.1h0M341.4 241.3h0M373.2 239.8h0M357.8 237.7h0M362.5 248.1h0M370.2 235h0M359.2 237h0M371.4 239.4h0M357.4 245.7h0M366.5 244.9h0M367.4 232.6h0M370.1 232.4h0M360.5 247.5h0M371.9 239.8h0M361.1 234.1h0M364 241.2h0M363.2 239.2h0M365.1 240.7h0M363.8 239.9h0M364.2 239.9h0M365.8 236.2h0M356.8 250.2h0M358.8 248.9h0M389.9 258.5h0M393.2 255.5h0M391.5 253.3h0M376.4 274h0" stroke="#ebcc2a" stroke-width="1.75" stroke-linecap="round" fill="none"/>
<path d="M349.8 225.3h0M365.2 216.4h0M378.9 221.1h0M382.7 232.3h0M383.1 227.4h0M383.2 241.6h0M380.4 219.1h0M380.6 244.5h0M382.8 237.9h0M382.5 242.4h0M380.6 223.4h0M331.9 236.9h0M332.2 236.2h0M341.5 250.4h0M343.2 253.2h0M337.3 249.2h0M333.8 238.4h0M338 232.6h0M335 240.4h0M339.1 250.2h0M338 250.1h0M342.1 253h0M341.9 252.1h0M334.2 241.9h0M333.4 245.2h0M334.5 245.1h0M332.1 238h0M343.5 251.7h0M334.4 249h0M337.7 249.9h0M336.3 241.3h0M342.1 239.5h0M337.8 241.9h0M335.9 240.8h0M339.2 242.5h0M364.3 247.1h0M364.9 240.3h0M392.9 255h0M389.1 259h0M393.5 245.2h0M391.8 244.4h0M391.2 256h0M394.9 248.8h0M389.6 254.8h0M391.5 243.7h0M390.4 242.8h0M395.3 251.4h0M393.4 242.8h0M390.5 244.2h0M387.7 243.1h0M395.5 246.5h0M390.8 243.1h0M393.3 251.7h0M349.5 270.8h0M362.4 269.2h0M379.9 267.2h0M378.8 266.1h0M377.9 269.9h0M375.2 253.9h0M378.1 271.8h0M379.2 262h0M369.6 253.1h0M372.7 255.3h0M379.9 263.4h0M379.3 259.1h0M376.7 255.3h0M379.6 264.2h0M375.9 254.8h0M378.2 271.8h0M369.9 262.8h0M369.9 263.5h0M369.3 261.7h0M368.7 260.4h0M370.1 269.5h0M368 268.5h0M370.2 273.2h0M373.7 266.6h0M374.4 264.8h0" stroke="#e8c21c" stroke-width="1.75" stroke-linecap="round" fill="none"/>
<path d="M385.7 222.9h0M377.8 220.2h0M383.2 223.9h0M381.6 220.3h0M379.2 219.1h0M380.1 217.5h0M380.4 217.7h0M380.5 221.6h0M379.6 219.3h0M385.8 223.8h0M339.7 252.8h0M336.7 248.4h0M334.6 232.9h0M332.5 241.8h0M336.9 245.8h0M336.1 250.3h0M334.4 232.3h0M338.7 249.4h0M339 253.7h0M343.2 254.5h0M335.6 243.9h0M340.2 251.1h0M334.3 245.2h0M333.4 247.3h0M336.2 233.5h0M336.6 248.4h0M333.1 242.5h0M335 231.4h0M336.3 248.2h0M334.2 243.2h0M337.3 247.1h0M336 231.7h0M336.6 250.2h0M332.8 242.2h0M342.8 252.6h0M332.8 238.7h0M334.9 240.7h0M342.3 251.1h0M344.2 252.6h0M333.1 240.7h0M339 249h0M332.4 237.9h0M332.5 241.1h0M332.6 243.4h0M335.9 231.7h0M332.8 242.2h0M339.5 250.4h0M334.1 234.9h0M340.1 241.9h0M336.8 240.1h0M338.3 242.1h0M339.2 241.9h0M337.4 242.3h0M340.8 239.5h0M339.6 241.3h0M338.7 240h0M338.1 240h0M340.6 242.2h0M334.8 240.8h0M394.3 245.9h0M393.1 255.2h0M395.7 247.4h0M387.4 256.9h0M391.6 242.4h0M391.5 245.3h0M392.2 256.1h0M390.9 244.6h0M394.4 246.8h0M395.3 246.3h0M388.7 243.9h0M386.6 258.8h0M388.4 242.8h0M391 255.8h0M388 257.3h0M346.8 269.5h0M362.1 272.3h0M346.8 268.2h0M354 268.8h0M344.6 265.6h0M362.7 271.1h0M363.8 271.8h0M349.2 267.5h0M354.6 268.2h0M349.7 262.6h0M352.8 264.4h0M352.1 271.1h0M353.4 263.5h0M349.8 266.6h0M361.9 272.4h0M350.6 263.9h0M358.2 270.9h0M353.9 268.8h0M355.2 271.3h0M355.4 271.8h0M350.9 271.4h0M351 266.4h0M346.9 266.9h0M353 265.1h0M355 264h0M358.4 270.4h0M362.8 272.2h0M353.3 271.6h0M350.2 262.8h0M363.7 271.6h0M361.6 266h0M351 267.6h0M361.5 271.3h0M360.7 271.9h0M364 269.7h0M373.4 253.4h0M368.2 253.8h0M380.2 265.1h0M375.3 254.8h0M372 254.7h0M378.1 257.2h0M379.9 261h0M380 259.8h0M379.7 261.6h0M378.4 258h0M378.1 256.2h0M380.3 260.9h0M374.8 253.8h0M371.6 254.1h0M380.4 260.6h0M379.2 260.8h0M370.5 263h0M368.1 260.9h0M367.2 259.5h0M367.5 257h0M368.4 256.1h0M371.2 264.3h0M369.6 262.7h0M367.8 267.5h0M366.6 269.2h0M368.4 268.5h0M371.6 262.5h0M376 266.9h0M375.4 267.5h0M376.6 262.9h0" stroke="#e4b90e" stroke-width="1.75" stroke-linecap="round" fill="none"/>
<path d="M383.4 224.2h0M385.6 224.7h0M380.6 218.9h0M381.4 223.8h0M341.2 253h0M333.3 234.5h0M335.5 248.7h0M334.5 246.5h0M334.2 240.9h0M343.4 254.1h0M338.6 251.4h0M336.2 246.2h0M334 239.2h0M334.7 236h0M340.1 249.7h0M335.8 246.1h0M334.3 239.8h0M332.9 240.8h0M337.8 240.3h0M340.4 242.1h0M335.1 240.4h0M392.2 253.9h0M358.5 271h0M357.8 272h0M356.7 269.3h0M358.6 269.1h0M357.3 266h0M357.1 268.8h0M352.7 264.1h0M360.1 267.7h0M350.6 271.3h0M358 270h0M354.2 268h0M352.5 269.2h0M359.2 272.8h0M350.3 267.3h0M348.9 266.2h0M357 271.6h0M351.1 261.8h0M355.9 265.7h0M350 264.9h0M353.3 271.6h0M363.7 270h0M345.3 267.3h0M359 267.1h0M359.8 266.8h0M363.2 272h0M359.3 270.2h0M350.6 264.3h0M362.1 268.7h0M352.6 269.5h0M354.9 266.7h0M353.9 264.1h0M356.9 265.2h0M347.6 265.4h0M350.1 266.1h0M349.7 266.6h0M351 270.7h0M361.8 268.8h0M354.4 269.5h0M354.6 269.1h0M359.6 269.6h0M348.1 264.6h0M361.1 270.4h0M364.5 270.5h0M357.1 263.7h0M348.1 264.9h0M346.1 267.5h0M356.4 270.6h0M351 268.8h0M355.5 270.5h0M344.6 265.2h0M350.1 268.9h0M362.7 267.6h0M361.9 267.6h0M344.1 266.8h0M363 270.5h0M348.1 263.3h0M345.5 265h0M348.7 262.7h0M348.2 265h0M378.6 257.4h0M380.3 266.5h0M380.1 265.8h0M376.3 254.9h0M368.6 254.4h0M379.5 261.6h0M369 261.9h0M368.7 262.1h0M367.7 267.4h0M368.6 269h0M374.2 262.2h0" stroke="#e1af00" stroke-width="1.75" stroke-linecap="round" fill="none"/>
<path d="M340.5 251.9h0M335.7 246.7h0M349.2 267.1h0M360.2 268.9h0M351.3 269.7h0M347.7 264.3h0M352.6 270.2h0M359.9 268.9h0M354.6 263.4h0M352.5 264.3h0M352.3 269.6h0M362.7 270.8h0M356.7 263.2h0M357.2 264.2h0M344.8 265.6h0M355.2 263.8h0M354 262.6h0M362.5 271.1h0M361.5 266.4h0M350.7 264.5h0M353.4 265h0M355.5 270.5h0M354.2 270.6h0M377.8 269.5h0" stroke="#e77d00" stroke-width="1.75" stroke-linecap="round" fill="none"/>
<path d="M354.2 268.9h0M355.7 270.4h0M354.2 262.6h0M348.1 263.2h0M355.5 270.5h0M367.3 260.6h0" stroke="#ec4c00" stroke-width="1.75" stroke-linecap="round" fill="none"/>
<path d="M355.1 269.2h0M369.4 262.9h0" stroke="#f21a00" stroke-width="1.75" stroke-linecap="round" fill="none"/>
<path d="M348.8 227.4h0M367.3 218h0M351.7 225.3h0M367.3 214.8h0M353.8 226.2h0M356.6 220.7h0M365 219.7h0M355.5 222.2h0M354.1 221.7h0M347 233.2h0M348.8 224.3h0M346.7 230.4h0M371.7 212.4h0M367.7 215h0M347.8 232.9h0M349 225.8h0M358.7 221.4h0M347.8 230.2h0M359.1 222.3h0M358.2 222.3h0M365.4 217.8h0M354 223.2h0M349.3 224.6h0M359.3 221.7h0M348.5 229.3h0M354.3 224.7h0M366.2 215.3h0M348.2 231.9h0M352.3 224.9h0M349.5 227.3h0M367.9 217.3h0M355.1 220.7h0M381.3 242.6h0M379.7 242.3h0M379.8 220.7h0M382.8 227.4h0M382.3 239.8h0M381.6 240.2h0M384.2 223.8h0M385 227.8h0M385.6 237.5h0M379.3 240.4h0M379.8 245.3h0M361.8 234.5h0M366.6 245.8h0M371.4 234.6h0M357.5 236.8h0M361.5 247.3h0M363.6 232.3h0M373 238h0M360.3 235.7h0M360.6 247.8h0M363.6 239.2h0M360.3 241h0M363.5 240.8h0M356.9 248.8h0M394.3 250.4h0M390.1 256.3h0M388.4 257.3h0M373.9 273.7h0M377.1 273.4h0" stroke="#3b9ab2" stroke-width="1.75" stroke-linecap="round" fill="none"/>
<path d="M366.4 214.8h0M368.9 214.2h0M370.2 211.8h0M368.8 215.4h0M368.2 214.6h0M360.9 221.1h0M360 220.7h0M352.5 225.5h0M369 215.2h0M362.2 220.9h0M348.3 225.7h0M347.8 228h0M351.4 223.1h0M345.1 229.3h0M372.6 212.8h0M349 231.1h0M348.2 233.9h0M361.1 220.1h0M347.4 230.4h0M346.9 227.4h0M346.7 227.4h0M348.7 234.9h0M356.8 220.8h0M349.4 229.8h0M348.7 231.5h0M348.5 228h0M354.9 223.5h0M347.8 234.6h0M344.4 234.5h0M361.5 222.1h0M360.6 220h0M371.2 212.4h0M371.8 215.8h0M364.4 217.5h0M351.9 226.2h0M354.4 223.7h0M370.6 213.3h0M359.9 223.3h0M370.3 215.9h0M362.7 220.6h0M358.1 222.1h0M362.7 218.8h0M346.7 232.1h0M351.4 224.2h0M349.1 225.7h0M369.3 211.7h0M345.2 229.1h0M382.3 232.6h0M386 225.9h0M384.8 238.9h0M385.4 232.3h0M385.8 231.4h0M377.9 220.8h0M385.7 231.1h0M384.1 236.2h0M381.6 242.5h0M382.7 235h0M384.2 233h0M384.4 225.1h0M384 229.9h0M384.7 223.9h0M382.5 223.4h0M384.6 228.2h0M384.6 221h0M380.7 239.9h0M382.1 220.4h0M379.2 245.9h0M386.9 231h0M383 222h0M384.9 224.3h0M384.7 236.1h0M383.1 240.1h0M381.9 219.3h0M382.8 222.9h0M380.6 245.7h0M380.5 221.8h0M384.3 229h0M379.6 241.9h0M385.6 225.7h0M383.2 233.7h0M381.1 241h0M384.5 238.6h0M377.9 245.2h0M377.9 246.3h0M382.1 239.7h0M384.9 239h0M382.9 223.6h0M376 248.6h0M337 233.4h0M334.1 240.4h0M335.8 241.7h0M339.1 242.2h0M359.9 233.1h0M363.5 234.3h0M365 245.6h0M365 246.7h0M369.2 242.8h0M373.2 239.7h0M362.7 234.6h0M361.2 245.7h0M370.1 239.4h0M366.3 233h0M361.8 246.7h0M362.8 246.9h0M371.9 236.7h0M369.4 244.3h0M355.4 239.2h0M373.2 237.3h0M357 243.4h0M362.1 238.2h0M367.3 240.4h0M361.1 237.6h0M363.3 240.2h0M366.2 242.7h0M365.8 240.2h0M363.2 238.1h0M362.5 239.7h0M365.2 240h0M363.7 238.5h0M368.3 236.4h0M357.5 247.8h0M357.3 247.4h0M356.4 251.9h0M356.9 250.2h0M389.8 257.6h0M390.2 256.5h0M392.9 252.7h0M390 257.5h0M389.4 256.8h0M395 251.8h0M387.6 241.5h0M394.3 250.1h0M378 272.5h0M377.7 272.5h0M376.4 273.1h0M377.3 273.1h0M372.1 274.6h0M376.8 257h0M372.4 275.5h0M370.9 271.3h0" stroke="#4fa4b8" stroke-width="1.75" stroke-linecap="round" fill="none"/>
<path d="M358.7 222.8h0M347.7 234.6h0M343.8 233.3h0M364.3 218.9h0M349.3 224.7h0M347.3 231.6h0M372.5 215.5h0M347.2 227.4h0M361.7 218.6h0M361.2 221.9h0M360.8 217.8h0M366.9 216h0M348.2 234.3h0M353.8 224.4h0M354.8 222.7h0M368.4 215.4h0M361.1 222.8h0M368.4 219.2h0M348.2 224.2h0M357.2 223.7h0M359.4 218.9h0M353.1 223.3h0M347.2 233.1h0M356.3 224.5h0M360.9 219.4h0M371.1 214.8h0M353.3 221.7h0M347.1 228.5h0M361.9 219.3h0M346.4 227.5h0M364.4 217.2h0M364.7 218.7h0M348.3 233.3h0M371.6 214.3h0M364.6 220.5h0M348.9 229.9h0M347.8 231.9h0M349.6 226.4h0M383 233.6h0M386.7 234.1h0M379 245.1h0M384.5 239.1h0M377.9 243.8h0M380.3 243.6h0M386 236.9h0M386.6 228.6h0M386.2 233.5h0M384 233.6h0M387.3 230.3h0M383.8 238.2h0M379.7 245.5h0M383.3 229.8h0M384.8 233.5h0M381.7 242.4h0M381.5 222.2h0M384.4 237.2h0M384.9 236.6h0M377.2 249.2h0M384.1 236.1h0M385.7 231.1h0M381.9 220.7h0M378.6 245.4h0M378 220.6h0M381.5 241.7h0M382.9 237.1h0M386.2 229.3h0M382.1 225.2h0M374.9 246.4h0M375.5 247.6h0M332.5 235.8h0M334 236.7h0M339.6 253.3h0M332.1 236.6h0M334.5 233.8h0M334.6 239.3h0M334.6 245.7h0M343.9 251.4h0M341.9 241.9h0M359.3 247.7h0M357 240h0M361.8 234.7h0M366.3 245.5h0M367.1 244.7h0M369.1 242.9h0M358.2 237.3h0M356.5 238.7h0M357.6 238.8h0M359.4 234.6h0M360.3 234.6h0M372.4 240.6h0M357.3 237.2h0M370.9 241.3h0M364.1 231.9h0M369.4 239.5h0M362.8 233.6h0M358.4 248.5h0M372.8 237.9h0M367.9 242.9h0M362.8 247.2h0M364 238.7h0M365.3 239.2h0M361.8 238.2h0M366.9 242.3h0M364 239.6h0M363 240.5h0M364.2 237.5h0M365.6 240h0M365.6 237.4h0M362.2 242h0M366.5 237.5h0M357.7 252.6h0M355.7 250.7h0M355.1 253h0M390.2 243.6h0M390.3 257.1h0M394.3 251.3h0M393.8 249.3h0M395.5 247.4h0M388.8 256.7h0M393.9 245.1h0M392 244.5h0M394.3 247.2h0M390.5 243h0M392.9 247.5h0M362.8 272.3h0M374.9 274.6h0M373.1 274h0M376.7 271.5h0M375.7 272.5h0M370.5 269.2h0M370.5 271.3h0M371.2 273.5h0" stroke="#64adbf" stroke-width="1.75" stroke-linecap="round" fill="none"/>
<path d="M369.1 212.1h0M355.5 221.4h0M349 224.4h0M348.2 226.8h0M345.3 230.8h0M370.4 212h0M359.5 221.8h0M383.1 222.5h0M376.1 249h0M377.8 244.5h0M384 233.7h0M380.2 243.5h0M386.3 234.2h0M384.1 240.4h0M382.9 233.8h0M383.7 221h0M382.6 238.4h0M382 221.9h0M381 223.4h0M383.5 231.5h0M382.9 230.1h0M334.2 230.9h0M333.5 244.3h0M335.9 246h0M335.6 237.8h0M343 254.3h0M332.6 241.9h0M343.6 253.5h0M335.3 235.3h0M339 242.8h0M342.8 240.7h0M358.7 246.1h0M357.6 235.8h0M370.3 238.3h0M366.6 231h0M363.2 232.8h0M370.7 243.3h0M367.5 233.3h0M358.5 236.1h0M363.6 234.1h0M367.2 241.7h0M364.3 241.2h0M366.9 242.5h0M365.5 242.2h0M360.9 242.7h0M362.6 241.4h0M367.4 236.4h0M355.6 252.6h0M357.5 251.4h0M391.6 245.5h0M392.9 243.9h0M394.3 251.1h0M392.7 251.6h0M358.5 271.5h0M362.3 267.3h0M377.2 271.9h0M377.2 271.7h0M370.3 271.2h0" stroke="#78b7c5" stroke-width="1.75" stroke-linecap="round" fill="none"/>
<path d="M361.8 219.6h0M371.4 213.8h0M383.7 233.2h0M380.9 222.2h0M378.2 246.3h0M332.9 240.3h0M342.3 250.3h0M366.5 233h0M364.2 231.7h0M367.8 246h0M360.9 246.3h0M357.3 238.5h0M357.3 245.2h0M363.3 245.4h0M371.3 236.9h0M358.7 237.5h0M366.8 233.6h0M367.6 232.6h0M370.2 243.1h0M366.6 242.9h0M365.9 243.2h0M363.6 238.8h0M362.7 239.5h0M364.9 240.7h0M357.9 247.5h0M393.9 252.8h0M389.6 257.9h0M392.9 250.2h0M346.8 262.5h0" stroke="#9ebe91" stroke-width="1.75" stroke-linecap="round" fill="none"/>
<path d="M381.1 239.1h0M365.1 246.5h0M358.7 235.7h0M366.4 244.7h0M362.5 235h0M357.3 238.6h0M359.8 236.7h0M363 247.3h0M354.4 244h0M364.1 247.9h0M357.9 243.6h0M359.4 237.6h0M371.3 241.6h0M364.5 248h0M358.1 240.7h0M370.4 238.2h0M369.5 243.3h0M356.4 240h0M372.9 234.4h0M366.2 245.7h0M357.6 245.4h0M360.8 240.2h0M363.6 240h0M364.2 239.5h0M363.9 238.5h0M365.7 238.7h0M364.7 238.5h0M368 236.7h0M361.3 241.4h0M366 236.3h0M360.6 244.3h0M361.4 242.9h0M364 238h0M366.4 235.8h0M357.3 247.7h0M355.3 251h0M355.3 250.2h0M356.9 248.1h0M359.1 247.9h0" stroke="#c5c55e" stroke-width="1.75" stroke-linecap="round" fill="none"/>
<path d="M370.2 215.1h0M383.9 229.4h0M385.1 228.5h0M376.9 243.8h0M384.8 231.6h0M376.2 249.3h0M382.3 243.4h0M332.8 241h0M335 236h0M339.1 240.4h0M366.7 243h0M357.2 241.3h0M368.6 240.8h0M363 233.8h0M358.3 235.8h0M362 247.1h0M356.7 246.6h0M365.3 232.1h0M364.9 247.8h0M358.6 247.8h0M364.4 233.4h0M360 233.4h0M365.2 232.9h0M367.6 240.5h0M360.3 239.3h0M364.7 240.1h0M361.9 240.3h0M359.6 241.8h0M359.7 241.7h0M355.2 252.1h0M357.2 251.6h0M393.3 246.6h0M390.4 256.2h0M358.7 265.7h0M370 270.5h0" stroke="#ebcc2a" stroke-width="1.75" stroke-linecap="round" fill="none"/>
<path d="M350.6 226.6h0M348.5 230.6h0M384.5 221.8h0M381.9 222.7h0M382.9 239.2h0M383 232.8h0M386.2 230.3h0M378.5 246.7h0M381.5 239.1h0M384.4 239.3h0M383.1 222.9h0M336.3 250h0M335.8 233.8h0M333.1 240.2h0M333.2 240.7h0M334.5 232h0M335.2 244.9h0M344 252h0M332.5 241.4h0M344 254h0M334.6 242.4h0M343.7 254.1h0M340.5 249.4h0M340 251.5h0M335.5 246.4h0M333 235.5h0M335.5 240.1h0M334.5 246.4h0M338.6 251.5h0M333.8 247.6h0M338.4 241.2h0M338.7 240.9h0M342.8 241.4h0M341.1 239h0M335.8 240.3h0M369.9 231.7h0M394.2 245.6h0M387.1 258.1h0M392.9 253.4h0M392.5 250.5h0M392.1 252.1h0M390.1 258.1h0M393.9 246h0M391.8 252.7h0M392.1 255.2h0M390.8 242h0M391.4 253.7h0M388 243.5h0M393.8 251.6h0M392.8 253.8h0M386.7 258.5h0M389.7 256.1h0M390.8 243.5h0M352.7 272.1h0M361.8 266.1h0M380.3 262.1h0M376.1 254.8h0M378.5 258.4h0M379.9 264.5h0M379 257.2h0M375.5 275.1h0M376.7 255.4h0M369.8 253.4h0M370.2 254.5h0M369.7 254.2h0M379.5 270.7h0M376.1 273.5h0M379.9 265.3h0M367.9 256h0M368 256.9h0M367.1 257.3h0M368.9 260.9h0M366.3 267.5h0M370.4 271.7h0M370.1 270.7h0M368 267.4h0M374.4 259.5h0M377.3 268.3h0" stroke="#e8c21c" stroke-width="1.75" stroke-linecap="round" fill="none"/>
<path d="M382 223.9h0M380.2 220h0M381.5 223.2h0M380 218.5h0M382.3 222.4h0M380.6 222.6h0M385.1 227.1h0M382.2 225h0M381.4 220h0M382.7 223.3h0M335.2 236.9h0M337 233.4h0M333.8 248h0M335.1 248.8h0M339.1 248.1h0M337.1 232.5h0M334.5 240.9h0M334.9 231.4h0M342.4 251.1h0M335.1 237.7h0M331.6 243.5h0M337.3 249h0M340.7 249.9h0M341.2 252.6h0M333.4 236.5h0M334.3 243.3h0M336.2 250.3h0M336.3 247.6h0M334.3 236.6h0M332.1 244h0M336.1 234.7h0M335.7 243.9h0M336.7 245.8h0M339.3 252.2h0M336.9 246.7h0M336.1 248.4h0M337.5 249.8h0M338.6 251.5h0M333.2 235.1h0M333.2 240.1h0M339.3 252.2h0M333.9 235.3h0M337.1 244.5h0M334.5 231.2h0M337.1 248h0M333.6 239.4h0M331.9 240.9h0M338 239.8h0M336.1 241.3h0M339.8 241.1h0M339.5 241.7h0M338.9 240.5h0M335.5 239.7h0M342.8 240.4h0M336.4 239h0M335.4 241.2h0M340.1 240.5h0M334.8 240.1h0M340.8 239.2h0M390.4 255.6h0M394.1 243.1h0M388 257.2h0M387.4 259h0M388.4 243.7h0M395.1 251.9h0M390.6 242.3h0M391.6 242.7h0M390.2 243.5h0M392.6 252.1h0M394.5 248.6h0M389.3 257.7h0M394.7 245.9h0M394 249.4h0M392.3 243.9h0M355.9 263.7h0M346.7 268.9h0M347.4 268.9h0M353.7 269.7h0M350.7 267.9h0M359.6 272.4h0M351.1 262.8h0M352.3 270.9h0M356.3 271.2h0M360.1 266.5h0M361.5 271h0M358.7 264.7h0M348.5 264.3h0M353.6 267h0M356.2 267.2h0M357.8 266.4h0M363 269.8h0M358.1 268.7h0M360.7 267.5h0M350.3 266.1h0M348.4 267.8h0M358.5 271h0M363.6 268.5h0M362.8 270.2h0M360.4 268.1h0M343.6 265.3h0M358.8 271.5h0M344.8 262.4h0M361.9 269h0M361.1 271.2h0M361.7 271.6h0M344 263.9h0M347.2 267.9h0M347.3 268.1h0M363 270.5h0M380 266.6h0M374.2 254.6h0M380.1 265h0M377.3 257.8h0M378.1 269.7h0M376.5 254.5h0M380.2 266.1h0M379.2 260.4h0M380.2 268.3h0M376.4 257.3h0M377.8 269.4h0M379.6 259.8h0M369.2 254.9h0M381.1 263.4h0M378.2 258.5h0M379.2 259h0M366.8 260h0M367.2 256h0M367.9 256.8h0M368.2 263.7h0M370 265.2h0M370.2 263.9h0M367 256.4h0M369.3 267.9h0M368.2 268.4h0M376.9 267.4h0M373.1 265.6h0M373.8 260.3h0M375.6 263.2h0" stroke="#e4b90e" stroke-width="1.75" stroke-linecap="round" fill="none"/>
<path d="M382.4 220.3h0M384.7 225.3h0M382 219.9h0M381.3 221.9h0M336.7 245.7h0M342.5 254.9h0M333.1 239.9h0M332.8 240.9h0M332.1 234.2h0M337.1 233.5h0M334.6 243.8h0M336.7 233.8h0M336.8 233.8h0M334.6 244.8h0M334.2 239.6h0M337.4 247.6h0M337.9 251.4h0M336.9 242.2h0M339.6 239.7h0M342.1 240.6h0M394.1 247.6h0M393.3 244.8h0M360.3 271.7h0M351.9 267h0M363.1 270.3h0M362.4 269.4h0M350.5 261.8h0M365 270.6h0M360.1 270.9h0M353.3 270.2h0M348.9 264.9h0M360.3 268.6h0M352.8 267h0M363 270h0M361.5 271.2h0M354.1 270.6h0M349.2 262.8h0M345.7 265h0M345.3 266.2h0M352.2 266.9h0M351.7 263.9h0M354.7 271.7h0M356.5 267.1h0M363.4 270.2h0M351.3 266.3h0M354.4 267.9h0M350 268.2h0M349 269h0M350.9 269.2h0M352.1 262.1h0M354.3 262.6h0M356.8 271.4h0M354.9 264.5h0M345.1 267h0M349.9 266h0M359.5 265.2h0M344 263.4h0M343.2 264.2h0M356.4 270.1h0M361 269.1h0M355.4 265.2h0M364.7 271.6h0M355.1 270.4h0M349.2 266.8h0M352.1 267.7h0M354.3 265.5h0M363.7 269.8h0M363.8 268.9h0M350.3 262.7h0M355.5 265.3h0M344.7 263.6h0M354.9 269h0M348.6 262.1h0M360.9 271h0M361.5 270.4h0M347.3 265.1h0M348.7 265.5h0M344.5 267.3h0M355.3 269.9h0M361.7 272.5h0M375.1 254.1h0M378.8 271h0M379.7 259.7h0M379.8 260h0M380.9 262.2h0M370.2 253.8h0M374.1 253.1h0M371 264h0M368.7 258.2h0M369.9 269.3h0M376.2 266.1h0M372.8 259.5h0" stroke="#e1af00" stroke-width="1.75" stroke-linecap="round" fill="none"/>
<path d="M334.4 237.4h0M349.1 263.6h0M354.9 270.2h0M345.2 267.5h0M345.3 262.6h0M361.3 271h0M363.3 269.2h0M351 269.1h0M361.7 270.7h0M354.3 266.7h0M354.3 270.7h0M345.2 267.7h0M361.3 268.5h0M356.1 270.4h0M356.2 269.3h0M361.3 270.1h0M350.5 267.7h0M360.6 269.1h0M346.5 267.6h0M346.4 265.3h0M353.4 265.3h0M363.1 270.1h0M361.9 270h0M379.9 265h0" stroke="#e77d00" stroke-width="1.75" stroke-linecap="round" fill="none"/>
<path d="M347.1 262.4h0M346.5 268.3h0M345.4 264.7h0M347.5 269.6h0M355.7 265.6h0" stroke="#ec4c00" stroke-width="1.75" stroke-linecap="round" fill="none"/>
<path d="M349.6 270.2h0" stroke="#f21a00" stroke-width="1.75" stroke-linecap="round" fill="none"/>
<path d="M341.0 262.4C341.3 261.5 342.3 260.6 343.5 259.9C344.8 259.2 346.7 258.6 348.5 258.4C350.3 258.2 352.7 258.4 354.5 258.7C356.3 259.0 358.1 259.8 359.5 260.4C360.9 261.0 362.1 262.2 363.0 262.4C363.9 262.6 364.4 262.3 364.7 261.7C365.0 261.1 364.8 260.0 364.7 258.9C364.6 257.7 363.9 256.0 364.0 254.9C364.1 253.8 364.5 253.0 365.3 252.4C366.0 251.7 367.3 251.3 368.5 251.1C369.7 250.8 371.1 250.8 372.5 251.1C373.9 251.3 375.7 251.6 377.0 252.4C378.2 253.1 379.2 254.1 380.0 255.4C380.7 256.6 381.2 258.3 381.5 259.9C381.7 261.5 381.7 263.2 381.7 264.9C381.6 266.6 381.4 268.4 381.0 269.9C380.5 271.4 379.9 272.9 379.0 273.9C378.1 275.0 376.7 275.7 375.5 276.1C374.2 276.6 372.6 276.8 371.5 276.8C370.3 276.7 369.2 276.4 368.5 275.9C367.8 275.5 367.5 274.7 367.2 273.9C366.8 273.2 366.9 271.6 366.5 271.4C366.1 271.3 365.7 272.3 364.7 272.9C363.7 273.6 362.0 274.8 360.5 275.1C359.0 275.5 357.2 275.5 355.5 275.1C353.8 274.8 352.2 274.0 350.5 272.9C348.8 271.9 346.9 270.2 345.5 268.9C344.1 267.7 342.8 266.5 342.0 265.4C341.3 264.3 340.8 263.3 341.0 262.4Z" fill="none" stroke="#c832c8" stroke-width=".85"/>
<path d="M328.4 207.4V278.2H396.5" stroke="#000" stroke-width="1.3" fill="none"/>
<path d="M326.8 207.9h1.2" stroke="#333" stroke-width=".4"/>
<text x="326.20" y="209.02" font-size="3.10" fill="#444" text-anchor="end">50</text>
<path d="M326.8 226.2h1.2" stroke="#333" stroke-width=".4"/>
<text x="326.20" y="227.32" font-size="3.10" fill="#444" text-anchor="end">25</text>
<path d="M326.8 244.5h1.2" stroke="#333" stroke-width=".4"/>
<text x="326.20" y="245.62" font-size="3.10" fill="#444" text-anchor="end">0</text>
<path d="M326.8 262.8h1.2" stroke="#333" stroke-width=".4"/>
<text x="326.20" y="263.92" font-size="3.10" fill="#444" text-anchor="end">−25</text>
<path d="M345.8 278.6v1.2" stroke="#333" stroke-width=".4"/>
<text x="345.80" y="283.22" font-size="3.10" fill="#444" text-anchor="middle">−25</text>
<path d="M363.8 278.6v1.2" stroke="#333" stroke-width=".4"/>
<text x="363.80" y="283.22" font-size="3.10" fill="#444" text-anchor="middle">0</text>
<path d="M381.8 278.6v1.2" stroke="#333" stroke-width=".4"/>
<text x="381.80" y="283.22" font-size="3.10" fill="#444" text-anchor="middle">25</text>
<text x="362.60" y="287.02" font-size="4.50" fill="#222" text-anchor="middle">tSNE 1</text>
<text x="315.60" y="244.26" font-size="4.60" fill="#222" text-anchor="middle" transform="rotate(-90 315.60 242.60)">tSNE 2</text>
<text x="396.90" y="225.33" font-size="5.93" fill="#111">Oxidative phosphorylation</text>
<defs><linearGradient id="gF" x1="0" y1="1" x2="0" y2="0"><stop offset="0" stop-color="#3B9AB2"/><stop offset=".25" stop-color="#78B7C5"/><stop offset=".5" stop-color="#EBCC2A"/><stop offset=".75" stop-color="#E1AF00"/><stop offset="1" stop-color="#F21A00"/></linearGradient></defs>
<rect x="421.4" y="229.6" width="8.8" height="43.8" fill="url(#gF)"/>
<text x="433.20" y="244.74" font-size="4.00" fill="#222">2</text>
<path d="M421.4 243.3h1.6M430.2 243.3h-1.6" stroke="#fff" stroke-width=".3" stroke-opacity=".8"/>
<text x="433.20" y="259.34" font-size="4.00" fill="#222">1</text>
<path d="M421.4 257.9h1.6M430.2 257.9h-1.6" stroke="#fff" stroke-width=".3" stroke-opacity=".8"/>
<text x="433.20" y="273.94" font-size="4.00" fill="#222">0</text>
<path d="M421.4 272.5h1.6M430.2 272.5h-1.6" stroke="#fff" stroke-width=".3" stroke-opacity=".8"/>
<text x="308.60" y="294.10" font-size="10.00" fill="#000" font-weight="bold">G</text>
<path d="M362.7 308.1h0M363 304.8h0M347.9 312.6h0M371.4 301.3h0M346.3 318.1h0M348.9 314.9h0M347.9 314h0M363.2 306.6h0M368.4 304.3h0M347.1 322.1h0M350.3 312.1h0M346.4 319.5h0M365.7 303.8h0M369.9 301.5h0M363 307.3h0M347 318.8h0M344.4 317.6h0M369.1 303.2h0M363.6 304.9h0M364.2 303.5h0M369 299.8h0M362.5 305.9h0M344.9 314.2h0M364.2 305.3h0M366.4 306.4h0M346.1 317.8h0M370.3 298.6h0M365.4 302.1h0M349.9 310.4h0M357.4 308.1h0M362.4 303.6h0M346.2 315.7h0M362.2 306.5h0M383.7 313.2h0M384 318.1h0M375.7 334.5h0M385.5 312.9h0M377.3 331.6h0M374.9 333.8h0M381.3 324.1h0M378.4 329.8h0M377.6 328.4h0M383 323.4h0M382.3 316.9h0M382.1 318h0M384.5 316.4h0M385.1 319.7h0M373.7 335.1h0M379.1 327.4h0M375.5 333.8h0M380.6 328h0M332.8 324.6h0M334.6 329.9h0M335.7 336.4h0M333.8 329.7h0M332.5 321.5h0M332.8 327.9h0M334.1 333.9h0M340.2 338.2h0M338.1 339.7h0M331.7 332.7h0M334.8 327.1h0M341.4 327.6h0M365.5 330.4h0M363.5 318.5h0M359.5 323.8h0M364.2 319.4h0M368.8 320.9h0M363.6 320.5h0M360.9 332.7h0M355.1 323.4h0M358.5 321.1h0M368.9 329.9h0M370.3 325.1h0M360.8 319h0M369.1 321.9h0M363.3 333.7h0M365.3 331.7h0M354.6 326.9h0M359.8 323.2h0M363.9 332.3h0M366.4 329.2h0M366 327.6h0M365.3 329.5h0M359.1 326h0M363.3 325.2h0M360.2 330h0M358.6 330.6h0M365 322.4h0M359 329.4h0M353.4 338.9h0M355.8 339.5h0M356.9 338h0M356.1 335.8h0M391.2 337.1h0M391.5 334.3h0M392 332.9h0M392.7 337.8h0M388.5 344.3h0M389.7 330.1h0M391.1 331h0M392.9 334.8h0M391.2 340h0M385.5 345.6h0M391.8 340.3h0M359.4 355.7h0M353.7 353h0M355.6 359.3h0M352.3 351.1h0M371.7 360.9h0M369.8 361.6h0M371.7 362.6h0M368.4 358.6h0M372.1 351.3h0" stroke="#3b9ab2" stroke-width="1.75" stroke-linecap="round" fill="none"/>
<path d="M355.1 308.2h0M370 301.7h0M368.6 302.1h0M362.1 308h0M353.5 308.7h0M342.8 320.4h0M361.1 306.2h0M343.7 319.4h0M363.9 305.9h0M366.2 304.8h0M353.6 309.5h0M344.3 314.8h0M345.6 321.9h0M370 299.7h0M366.5 302.4h0M364.1 307.3h0M365.9 303h0M369.7 301.5h0M360.7 307.8h0M349.4 310.9h0M369.3 304.2h0M345.9 314.7h0M368.3 303.3h0M353 312.6h0M356.6 307.1h0M351.7 309.4h0M347.8 321.3h0M359.2 307.7h0M367.3 300.6h0M355.6 307.7h0M348.3 312.6h0M344.3 317.5h0M347.8 317h0M367.5 303.4h0M346.2 316.7h0M347 316.8h0M365.8 305.3h0M355.7 310.4h0M358.2 306.6h0M355.6 308.4h0M353.8 307.5h0M370.6 302.2h0M349 312.3h0M358.8 306.5h0M358.2 310.1h0M384.1 315.3h0M379.7 331.9h0M383.1 311.3h0M379.2 329.2h0M382.9 319.6h0M381.6 311.4h0M373.8 335.6h0M377.7 328.5h0M378.5 307.7h0M383.3 313.9h0M384.6 313.7h0M383.6 319.3h0M384.6 311.3h0M384.6 312h0M378.2 308h0M381 324.1h0M380.6 326.1h0M384.4 311.4h0M376.4 307h0M382.5 321.2h0M384.6 322.6h0M379.4 304.2h0M378.3 332.1h0M380.4 329.4h0M385.1 311.9h0M380.3 306.6h0M377 334.8h0M383.5 325.8h0M383.2 317.8h0M380 309h0M381.8 307.3h0M378.3 328.9h0M385.4 313.2h0M382.9 312.6h0M382.9 308.2h0M382.9 310.7h0M382.3 313.6h0M385.7 317.3h0M332.3 325.6h0M330.7 328.9h0M338.9 338.1h0M334.4 334.5h0M332 324.7h0M334.4 336.4h0M336.6 337.7h0M335 321.8h0M334.2 335.2h0M332.3 331.6h0M339.7 339.2h0M333.9 331.9h0M339.3 339h0M334.1 318.9h0M333.4 319.1h0M334.1 334.8h0M333.3 331.3h0M332.9 323h0M334 329.7h0M333.5 331.2h0M336.7 328.9h0M337.8 329.2h0M333.4 326.7h0M334.2 329.1h0M334.1 329.3h0M335.1 329.3h0M360.7 321h0M358 333.1h0M354.4 329.3h0M363.5 335.5h0M369.3 330.1h0M359.3 321.9h0M356.1 333.7h0M356 331.8h0M369 322.6h0M357.4 323.1h0M366 318.5h0M355.2 332.7h0M359.3 322h0M357.1 324.1h0M355.2 324.6h0M361.2 335.7h0M366.1 330h0M353.3 327.6h0M362.5 320.8h0M355.5 326.1h0M361.9 318.8h0M365.6 334.1h0M359.8 321.9h0M353.7 327.4h0M368.9 329.5h0M354.5 327.8h0M367.8 320.2h0M366.4 320h0M362.6 320.7h0M369.6 331.2h0M357.8 321.1h0M360.4 321.7h0M358.6 335h0M366.3 334.6h0M355.2 327.3h0M368.6 329.3h0M359.8 320.9h0M366.2 328.3h0M360.4 326.2h0M360.8 324.7h0M364.5 327.5h0M365.3 328.7h0M360 329.2h0M364.2 324.8h0M360.8 328h0M362.3 326h0M362.8 325.6h0M361.9 329.2h0M363.7 325.4h0M364.1 327h0M359 328.8h0M366.8 323.8h0M362 327.8h0M365.7 324.3h0M362.3 327.8h0M354.3 338.1h0M357.2 337.1h0M356 335.4h0M357.7 334.5h0M355 339.6h0M390.4 339.2h0M391.5 341.5h0M392.3 340.8h0M388.6 331h0M391.5 332h0M386.8 344.9h0M389 331.2h0M392.6 339.6h0M392.7 340.8h0M393.8 333.7h0M389.7 344.5h0M393.7 339.8h0M388.9 344.2h0M394.5 335.4h0M387.7 343.9h0M387.4 344.3h0M393.7 334.5h0M392.7 337h0M391.1 338.3h0M391.5 336.3h0M395 336.7h0M392.5 339.4h0M389.8 340h0M393.3 338.2h0M390.7 344.3h0M351.7 353.3h0M358.7 357h0M360.7 355h0M348.2 355.9h0M352.8 355.3h0M344.7 350.3h0M342.8 353.7h0M358.4 352.2h0M357.9 358.7h0M350.7 355.3h0M360.9 357.1h0M349.8 352.6h0M360.3 354.6h0M351.1 351.1h0M358.9 355.2h0M368 340.4h0M367.4 340.4h0M374.4 362h0M376.4 358.2h0M377.7 353.9h0M378.6 346.5h0M374.8 359.3h0M376.1 357h0M373.9 340.6h0M372 360.6h0M378.6 345.3h0M366.1 347h0M369.5 357.3h0M367.6 355.7h0" stroke="#4fa4b8" stroke-width="1.75" stroke-linecap="round" fill="none"/>
<path d="M370.6 301h0M352.7 311.1h0M367.5 300.4h0M369.9 298.4h0M359.7 308.8h0M359.9 307.7h0M343.1 320.3h0M357.5 307.4h0M350.6 310.7h0M358.4 307.1h0M354.4 309.1h0M348.3 316.6h0M369.2 303.2h0M343.7 318.7h0M362.2 306.1h0M367.3 301.8h0M362.6 304.6h0M369.2 299.9h0M345.4 315.1h0M344 316.3h0M368.9 302.8h0M368.9 302.5h0M348.5 314.9h0M346.3 318.9h0M366 304.7h0M360.7 307.2h0M351.9 312.3h0M348.3 316.9h0M347.3 314.9h0M346 316.3h0M349.4 313.1h0M362.3 305h0M367.8 303.2h0M361.5 304.1h0M362.3 307.3h0M347.9 314.2h0M366.7 301.7h0M383.3 315.1h0M380.1 331.8h0M377 331.6h0M381.4 307.3h0M381.6 312.9h0M382.7 327h0M383.9 315h0M378.1 329.4h0M377.3 333.3h0M381 306.8h0M379.8 306.2h0M381.5 308h0M380.4 305.7h0M379.6 329.1h0M380.2 307h0M379.7 306.2h0M381.1 325.6h0M383.4 325.1h0M378.6 306.9h0M380.4 329.1h0M381.8 324h0M378.3 305.4h0M382.9 323.1h0M374.4 332.2h0M385.3 322.5h0M378.6 332.8h0M377.9 333.5h0M382.7 309.1h0M384.1 319.2h0M376.8 333.5h0M385.7 315.4h0M375.8 333h0M378.6 329.4h0M380.7 305.5h0M377.1 334.6h0M378.5 328.6h0M380.7 309.2h0M378.7 326.8h0M373.9 334.4h0M384.7 322.6h0M381.9 316.4h0M383.6 315.1h0M384.9 313.4h0M334.7 330.9h0M335.3 333.5h0M333.4 319.5h0M342.5 340.7h0M333.9 327.7h0M343.2 339.4h0M334.6 318.7h0M341.5 339.3h0M332.8 320.9h0M334 326.8h0M335.4 321.6h0M334.2 330.9h0M333.7 329.5h0M335.5 319.9h0M331.8 327.4h0M342.8 339.4h0M342.7 338.5h0M336.1 320.6h0M334.9 331.7h0M334.3 324.4h0M332.7 326.8h0M333.1 323.6h0M335.2 332.9h0M337.9 326.8h0M334.7 327.9h0M336.4 327.7h0M341.2 328.3h0M364.3 330.8h0M358.5 324.8h0M361.1 333h0M366.4 320.8h0M357.3 322.8h0M366.8 330.4h0M369.3 323.3h0M366 331.7h0M370.6 322.7h0M367.1 321.1h0M363.3 334.4h0M370 325.2h0M356.4 322.2h0M368.2 319.3h0M353.1 327.7h0M357.8 335.3h0M371.2 319.7h0M362.9 319.1h0M368.9 321.3h0M360.3 320.7h0M359.2 320.4h0M355.2 334.2h0M362.6 320.6h0M364.7 333.5h0M369.1 322.9h0M356.7 325.5h0M371.2 329.2h0M358.5 324h0M354.4 328.2h0M362.6 332.6h0M371.9 321.6h0M359.8 324.9h0M364.7 326.1h0M360.5 324.3h0M364.5 328.5h0M364 327.7h0M363 326.2h0M361.7 326.5h0M365.5 330.3h0M364.3 327.9h0M360.2 331h0M363.1 325.4h0M364.6 326.6h0M361.5 328.6h0M366.3 325h0M361 330.1h0M362.5 327.8h0M362.7 328.9h0M363.3 325h0M365.1 325.6h0M365.3 325.8h0M355.6 340.3h0M355.6 338.4h0M356 336.7h0M355.7 335.9h0M356.5 337.3h0M388.4 342.3h0M391.7 339.4h0M392.7 341.1h0M391.6 333.6h0M388.2 328.9h0M392.4 336.5h0M393.4 331.1h0M391.9 330.5h0M385.6 345.1h0M387.6 344.6h0M388.2 342.5h0M387.8 328.2h0M392.6 340h0M393.5 336.3h0M392.2 332.9h0M392.2 335.4h0M391.2 339.4h0M389.9 330.5h0M387.5 345.6h0M387.5 343h0M389.4 329.8h0M348.2 356.9h0M350.5 354.7h0M342.3 351.6h0M343.9 351.3h0M361.4 356.4h0M349 354.3h0M356.4 351.9h0M353 349.5h0M358.9 359.5h0M352.2 351.5h0M351.2 357.3h0M357.2 357.9h0M357.4 359.1h0M358.5 358.5h0M348.7 356.1h0M360.1 358.6h0M361.8 357.8h0M352 359h0M351 354.1h0M345.3 355.6h0M353.3 353.9h0M375.7 359.7h0M372.9 361h0M373.2 360.6h0M371 361.3h0M377.2 357.9h0M375.2 342.6h0M371.3 360.8h0M376.6 359.6h0M373.4 360.4h0M373.4 361.7h0M375 343.8h0M366.1 342.2h0M366.7 349.5h0M367.6 349.8h0M368.7 357h0M370.2 359.6h0M372.5 347.4h0" stroke="#64adbf" stroke-width="1.75" stroke-linecap="round" fill="none"/>
<path d="M346.5 316.3h0M358.9 308.6h0M364.4 305.7h0M344.5 319h0M370.5 301.5h0M359.4 306.7h0M348.9 314.6h0M363.3 306.6h0M351.3 313.5h0M348.4 313.9h0M349.9 314.4h0M382 319.8h0M376.9 333.6h0M373 334.6h0M385 318.6h0M382.7 318.5h0M377.8 333.4h0M383.4 315.5h0M373.4 334.1h0M380.8 325.1h0M378.2 331.5h0M383.5 317.7h0M336.5 334.1h0M332.8 319h0M332.4 321.5h0M340.4 337.8h0M336.8 338.2h0M332.4 325.4h0M333.8 322.7h0M333.4 318.3h0M340.1 338.7h0M334.8 324.4h0M340.6 326.5h0M339.9 327.7h0M333.1 328.3h0M358.7 323.4h0M368.5 320.7h0M369.7 325.4h0M364.7 332.5h0M359.2 323h0M353.9 328.8h0M366 331.9h0M365.4 331.2h0M366.2 318.8h0M356.8 332.4h0M361.6 324.8h0M362.2 326.6h0M360 330.5h0M359 331.2h0M353.4 338.6h0M354.1 338.9h0M388 345.7h0M390.4 341.3h0M390.9 332.6h0M390.6 341.9h0M355.4 351.9h0M345.8 353.2h0M357.7 352.2h0M357.2 358h0M347.8 351.6h0M342.6 349.8h0M358.3 359.1h0M355.9 351.2h0M348.8 357.4h0M355.9 355.3h0M363.6 357.9h0M377.4 344.1h0M378 358.1h0M369.6 362.1h0M379 347.2h0M366.1 343.5h0M366.6 341.8h0M370.7 360.4h0M370.1 360.5h0" stroke="#78b7c5" stroke-width="1.75" stroke-linecap="round" fill="none"/>
<path d="M356.1 309.5h0M375.4 336.5h0M376.9 308.1h0M342 341.4h0M332.6 328.9h0M355.8 327.3h0M361.7 325.7h0M359.7 355.4h0M343.5 351.3h0M353.3 359.3h0M368.8 360.5h0" stroke="#9ebe91" stroke-width="1.75" stroke-linecap="round" fill="none"/>
<path d="M385.5 317.7h0M356.6 322.4h0M388.8 329.1h0" stroke="#c5c55e" stroke-width="1.75" stroke-linecap="round" fill="none"/>
<path d="M351.9 312h0M379.1 331.6h0M385.4 313.5h0M338.9 337.3h0M335.7 326.4h0M362.7 321h0M357.7 335.2h0M359.5 329.2h0M357.7 333.9h0M343.3 354.3h0M348.1 357.4h0M358.2 357.9h0M346.7 349.9h0M378.7 348.7h0M370.5 360.7h0M374.8 356.9h0" stroke="#ebcc2a" stroke-width="1.75" stroke-linecap="round" fill="none"/>
<path d="M355.1 310h0M350.7 309.5h0M349.8 311.8h0M382.1 322.9h0M376.3 333.7h0M378.8 304.3h0M381.5 310.1h0M384.9 321.2h0M381.9 326.6h0M380.5 310.7h0M383.2 323.8h0M383.1 309.5h0M332.2 328.9h0M336 320h0M335 324.2h0M335.9 334.7h0M334.7 334.6h0M332.7 329.3h0M339.4 339.5h0M339.3 336.8h0M332.5 317.8h0M338.2 337.7h0M334.9 321.2h0M333.3 329.9h0M333 326.7h0M333.1 322.7h0M342.5 341.2h0M342.6 340.3h0M333.5 327.3h0M334.2 329.8h0M341.5 327.2h0M338.2 329.5h0M365.7 332h0M363.9 333.2h0M356.1 334.9h0M369.7 323.4h0M361 327.7h0M364.2 327.1h0M393.8 339.9h0M347.8 351.6h0M345.4 354.4h0M359.6 352.3h0M359 351.8h0M357.8 358.7h0M356.8 356.5h0M345.8 349h0M352 357h0M347.8 352.3h0M349.5 357.9h0M349 353.5h0M345.2 351.8h0M344.9 350.9h0M352.9 353.3h0M344.6 353.9h0M346.2 352.3h0M360.8 358.4h0M358.9 357.1h0M358.7 354.6h0M354.4 353.8h0M345.8 348.8h0M356.6 352.2h0M373.3 340.7h0M376.7 346.4h0M369.8 361.5h0M368.8 341.1h0M378 356.4h0M375.5 359.5h0M371 341.5h0M376.7 344.5h0M367.5 347h0M367.3 344.5h0M367.3 344.1h0M367.6 354.4h0M368.1 356.7h0M374.1 347.4h0M375.4 349.2h0" stroke="#e8c21c" stroke-width="1.75" stroke-linecap="round" fill="none"/>
<path d="M346.7 318.8h0M362.7 305.6h0M384.9 321.1h0M375.4 332.9h0M376.2 330.3h0M378.8 329.3h0M381.3 320.8h0M382.9 314.4h0M334 321.8h0M332.7 324.9h0M338.8 337.6h0M333.7 324.9h0M342.9 338.9h0M334.3 323.5h0M335.3 332.4h0M343.5 339.4h0M335 330.8h0M339.9 341h0M335.5 319.7h0M339 327.2h0M337.1 326.4h0M336.9 327h0M358.5 332.9h0M354.9 335.8h0M392 341.8h0M352 357.1h0M354.9 351.8h0M350.8 352.8h0M355.7 356.7h0M350.3 355.5h0M355.3 353.4h0M343.6 351.1h0M359.2 355h0M353.4 354.4h0M350.1 357.9h0M354 355.1h0M357.6 351.3h0M347.2 353.6h0M354 359.3h0M346.7 349.5h0M349.3 348.7h0M347.9 352.9h0M350.7 353.8h0M351.8 350.2h0M360.3 356.9h0M354.8 350.2h0M361.2 355.3h0M354.3 358.6h0M353.7 352.7h0M352.8 355.6h0M343.3 349.2h0M349.7 358.1h0M362 354.9h0M349.7 350.9h0M349 349.7h0M352.8 359.1h0M361 353.9h0M355.4 356.3h0M360.2 354.1h0M354 353.3h0M354.6 354.7h0M353.3 353.1h0M351.6 349.3h0M355.9 357.3h0M354.5 355.4h0M378.6 350.7h0M379 354.1h0M366.6 340.7h0M378.3 350.2h0M368.2 340.7h0M378.2 355.9h0M377.8 345.9h0M377.6 343.1h0M377.8 347h0M367.6 348.1h0M367.1 348h0M368.9 350.6h0M370 351.6h0M366.3 347.3h0M366.9 355.2h0M368.8 359.4h0M368.5 356.5h0M373.5 356.7h0M373.8 349.5h0M374.2 347.7h0" stroke="#e4b90e" stroke-width="1.75" stroke-linecap="round" fill="none"/>
<path d="M364.8 306.1h0M331.6 328.3h0M332.5 327.3h0M337.7 327.8h0M351.9 348.8h0M360.5 357.1h0M342.4 351.9h0M349.9 357.2h0M345.3 355.3h0M346.4 352.5h0M348.3 350.9h0M357.5 358h0M374.2 342.1h0M368.6 340.6h0M369.8 350.4h0" stroke="#e1af00" stroke-width="1.75" stroke-linecap="round" fill="none"/>
<path d="M350.2 351h0" stroke="#e77d00" stroke-width="1.75" stroke-linecap="round" fill="none"/>
<path d="M353.8 353.3h0" stroke="#ec4c00" stroke-width="1.75" stroke-linecap="round" fill="none"/>
<path d="M357.5 310.7h0M349.9 311.7h0M358.9 309.8h0M343.7 319.4h0M370.8 301.8h0M347.4 316.7h0M349.9 310.3h0M361.8 308.5h0M358.7 308.6h0M361.6 303.5h0M365.8 302.7h0M350.7 313.2h0M347.3 311.8h0M349.5 310.1h0M364.1 303.5h0M357.3 305.6h0M343.2 321.5h0M359.4 306.2h0M363.1 307.8h0M346 321.7h0M356.5 306.7h0M360.5 307.4h0M361.4 307.9h0M365.7 302.1h0M361.4 303.8h0M346.1 321.7h0M344.8 315.6h0M353 307.6h0M348.6 310.8h0M344.1 316.5h0M370.8 299.5h0M359.3 309h0M348.8 311.5h0M383.1 325.1h0M373.7 334.5h0M381 325.5h0M382.9 327.2h0M382.8 316.3h0M383.1 309.8h0M383.2 327.7h0M383 320.3h0M377.2 331.8h0M385.9 315.2h0M379.1 304.8h0M383.7 324.7h0M379.7 328.2h0M382.7 325.3h0M384.3 317.3h0M380 326.3h0M384.9 319.5h0M380.9 325.4h0M335 334.5h0M331.8 329.9h0M335.1 336.5h0M335.5 320h0M332.9 329h0M332.3 332.7h0M331.2 324.3h0M331.7 329h0M335 331.5h0M338.2 336.6h0M336.7 329.7h0M337.4 327.1h0M356.5 331.5h0M370 326.3h0M369.8 324.8h0M360.7 320.7h0M369.2 321.1h0M356.4 326.6h0M372.7 323.9h0M365.7 332.1h0M360.5 322.5h0M368.2 322.1h0M356.4 334.3h0M358.3 323.9h0M358.1 335.1h0M363.3 333.5h0M353.7 328.2h0M355.6 326.9h0M358.3 323.1h0M366.8 329.6h0M362.9 327.9h0M362.4 326.9h0M367.2 328.5h0M360.7 325.1h0M359.2 329.1h0M364.5 323.8h0M362.2 328.6h0M363.7 326.3h0M362.6 326.4h0M357.6 334.5h0M354.5 337.8h0M356.2 335.3h0M392.1 332.9h0M393.7 332.5h0M391.7 338.9h0M392.6 338.4h0M392.3 337.7h0M394.5 334.6h0M391.9 332.5h0M392.8 330.1h0M389.1 340.8h0M393.3 333.7h0M392.3 334.6h0M387.6 329.6h0M349 352.7h0M350.8 358.1h0M357 352.3h0M358.9 354h0M374.7 359.2h0M373.8 342h0M367.4 345.8h0M368.6 359.1h0" stroke="#3b9ab2" stroke-width="1.75" stroke-linecap="round" fill="none"/>
<path d="M362 307.4h0M358.1 310.7h0M369.5 298.1h0M362.7 307.3h0M354.8 309.4h0M368.1 299.4h0M351.8 309.3h0M359.1 305.6h0M345 316.3h0M371 300.7h0M346 313.4h0M368.5 302.5h0M370.3 299.3h0M368.2 304.6h0M355.4 308.6h0M345.9 316.7h0M347.2 321h0M343.9 320.5h0M367.2 301h0M352.4 309.3h0M344.5 321.5h0M346.7 314.2h0M355.2 307.7h0M367.3 305.1h0M347.7 315.4h0M346.7 316.9h0M350 313.5h0M348.5 311.9h0M355.6 306.9h0M367.6 301.8h0M348.1 317.4h0M347.5 319.5h0M360.9 305.8h0M348.9 316.5h0M353.2 309.6h0M371.4 300.2h0M365.9 305.4h0M346 315.9h0M364.8 304.5h0M363.9 306.6h0M365.2 306.9h0M369.4 298.9h0M350.7 312.6h0M356.2 310.7h0M344.6 319.5h0M381.1 325.7h0M374.4 334.1h0M377.6 332h0M377.1 334.4h0M382 318.4h0M377.1 328.2h0M381.8 324.4h0M383.4 312.4h0M383.4 324.8h0M380.5 329h0M382.2 318.7h0M380.7 306.4h0M378.2 307.6h0M377.6 306h0M382.6 317.3h0M382.9 318.1h0M379.7 331.2h0M383.1 316.3h0M383.5 324.9h0M380.6 331.1h0M376.3 332h0M378.3 307.9h0M384.5 313.8h0M384 311.7h0M380.3 330.1h0M379.3 307.6h0M379.8 306.2h0M380.1 328.7h0M382.3 326.5h0M385.5 316.1h0M381.3 322.4h0M377 306.5h0M383.8 310.7h0M382.2 317.5h0M375.2 332.6h0M377.1 307.8h0M379.3 327.6h0M381.7 311.2h0M342.7 340.8h0M333.9 337h0M332.9 332.5h0M333.3 333.3h0M336.7 333.5h0M332.3 324.9h0M333.5 326.8h0M333.2 327.4h0M330.6 325.6h0M331.9 327.7h0M333.5 324.9h0M334.3 329.6h0M333.6 331.1h0M331.7 330.4h0M334.9 330.6h0M341.2 338h0M338.7 337h0M334.3 320.9h0M333.8 320.8h0M339.7 340.1h0M340.1 326.4h0M341.4 327h0M334 327.5h0M336.1 329.3h0M338.8 327.3h0M338.9 327.5h0M357 322.5h0M363.4 333.6h0M361.6 334.9h0M362.5 318.6h0M369.6 329.4h0M356.1 330.7h0M355.3 323.7h0M358.5 321.9h0M371.3 325.3h0M355.4 325.8h0M358.4 325.2h0M370.7 326.3h0M365.8 320.2h0M355.4 329.5h0M369.7 327.7h0M357.2 322.7h0M369.3 327.3h0M370.2 322.7h0M356.6 326h0M367.2 319.2h0M369.4 323.1h0M357.2 326.6h0M355.1 329h0M367.3 329.7h0M367.2 331h0M368.5 319.1h0M371.8 322.2h0M358.7 333h0M357.8 332.1h0M369.3 325h0M357.1 332.2h0M355.1 324.9h0M361.3 334.2h0M358.2 321h0M370.5 324.6h0M367.2 328.7h0M366.6 329.5h0M362.8 325.1h0M359.6 325.9h0M363.7 325.6h0M365.2 329.4h0M363.9 327.1h0M361 327.4h0M363 326h0M360.1 330.4h0M366 324.5h0M365.5 321.9h0M362.7 327.6h0M362.1 328.9h0M364.8 323.4h0M361.5 327.7h0M365.1 325h0M358.8 329.6h0M366.2 324h0M357.6 335.1h0M353.9 340.1h0M355.4 338.8h0M354.5 339.2h0M355.2 337.7h0M355 339.3h0M393.1 330.8h0M389.6 331.2h0M391.6 337.8h0M392.4 340.7h0M393.6 334.2h0M386.7 328.3h0M392.5 337.1h0M392.3 337.8h0M386.6 330.8h0M391.7 329.1h0M391 338.9h0M390 331.5h0M390.7 332.8h0M390.5 329.9h0M393.4 340.5h0M393.8 335.4h0M387.2 345.3h0M388.2 329.5h0M387.3 346.7h0M393.8 339.7h0M394.4 336.9h0M389.9 341.6h0M387.7 343.9h0M387.8 330h0M389.3 345.8h0M351.2 353h0M363.1 357.1h0M355.7 358.4h0M349.2 349.2h0M357.4 355.6h0M354.8 350h0M345.2 355.4h0M346.6 348.5h0M352.1 352.9h0M352.9 352.3h0M345 352h0M342.9 349.9h0M362.5 357h0M358.3 352.6h0M379.4 347.5h0M378 349.5h0M379.5 347.7h0M376.5 359.6h0M373.2 341.7h0M375.9 358.9h0M369.7 340.7h0M378.2 348.3h0M368.8 339.9h0M369.3 362h0M371.6 340.3h0M375 360h0M368.5 359h0M368.9 359.6h0M365.5 354.9h0" stroke="#4fa4b8" stroke-width="1.75" stroke-linecap="round" fill="none"/>
<path d="M347.1 315.2h0M347.7 317.4h0M369.8 301.7h0M348.2 321.6h0M352 311.7h0M347.4 320.6h0M351.9 308.6h0M366.4 302.1h0M351.1 312.5h0M347.4 319.7h0M355.1 310.5h0M346.7 320.3h0M345.7 320.7h0M353 309.1h0M358.6 307.1h0M353 311.1h0M347.3 321.7h0M348.9 310.6h0M347.4 312.8h0M370.1 298.8h0M344.2 320.5h0M344.2 316.4h0M349.1 314h0M347.6 319.2h0M364.1 305.2h0M347.7 317h0M346.9 313.8h0M371.9 302h0M343.6 321.5h0M350.9 313.8h0M344 317.1h0M361.8 304.1h0M344.7 321h0M348.9 311.9h0M345.4 314.3h0M353.2 310h0M352.2 312.3h0M380.3 329.4h0M382.1 325.9h0M382.7 316.1h0M383.4 314.3h0M374.5 333.6h0M383.4 312.3h0M382.8 325h0M381.7 313.3h0M376.9 335.1h0M381.2 324.3h0M384.2 322h0M383.2 321.5h0M383.9 320.8h0M376.7 334.3h0M380.9 330.2h0M375.7 331.3h0M380.9 328.8h0M379.5 330.3h0M380.7 327.3h0M385 322.7h0M376.9 331.8h0M384.9 316.3h0M384.6 317.8h0M383 320.1h0M385.4 319.5h0M382.9 325h0M382.5 326.9h0M383.1 316.5h0M379.2 307.9h0M383.2 324.6h0M378.7 330.4h0M384.1 316.1h0M384.4 321.5h0M382.2 312.4h0M376.2 332.3h0M376.6 330.3h0M381.9 319.4h0M379.1 305.6h0M383.2 312.8h0M380.4 310.1h0M376.5 334.8h0M384.2 312h0M385.5 318.7h0M330.1 325.6h0M331.9 320.4h0M334.8 324.5h0M340 340.5h0M333.1 333.5h0M332.7 334.3h0M343.5 339h0M333.8 335.8h0M334.8 337.6h0M332 319.6h0M335.3 335.3h0M333.7 319h0M339.4 338.1h0M335.7 337.3h0M335.5 320.3h0M332.5 330.7h0M336.2 336.7h0M336.7 336.5h0M334.2 335.3h0M339 337.7h0M331.5 327.5h0M332.1 324.7h0M342 338.2h0M335.3 328.5h0M333.4 329.2h0M339.8 327.6h0M361.4 320.8h0M355.3 334h0M361.3 334.6h0M357.3 328.8h0M366.1 331.6h0M357.9 333.7h0M363.3 334.9h0M356.1 331.9h0M354.2 328.2h0M367.3 319.1h0M366.5 330.8h0M357.8 332.2h0M357.5 321.4h0M356.6 333.8h0M369.6 324.7h0M368.9 327.6h0M368.7 318.4h0M360.4 319.4h0M357.2 323.6h0M360 333.6h0M359.2 320.8h0M353.3 329.5h0M355.4 325.8h0M367.3 329h0M357 323.4h0M354.5 324.8h0M369.8 326.8h0M356.1 322.5h0M354 330.5h0M356.9 322.3h0M360.7 334.9h0M364.6 329.4h0M360.6 326.5h0M367.2 328.2h0M364 327.1h0M362.6 325h0M361.4 327h0M361.3 324.6h0M359.3 326.1h0M363.3 327.1h0M362.1 326.5h0M357.8 330.1h0M361.4 327.3h0M361.7 326.7h0M364.7 325.4h0M359.9 328.6h0M364 326.4h0M359.3 329.2h0M363.8 326.9h0M365.2 325.1h0M361.4 327.2h0M364.1 325.8h0M355.7 339.2h0M353.5 338.6h0M355.1 339h0M356.6 337.4h0M354.8 340.3h0M388 344.2h0M386.5 331.4h0M392.8 331.5h0M393.2 336.3h0M392.2 334.6h0M386.7 330.8h0M393.1 336.5h0M388.2 343.2h0M391.2 338.3h0M386.3 345.5h0M388.5 330.1h0M392.9 334h0M392.3 340.3h0M391.2 340.2h0M394.5 333.7h0M388.5 342.5h0M387.2 343.8h0M391.8 338.3h0M389 331.5h0M387.9 344.9h0M343.2 352.5h0M349.8 353h0M353.1 357.2h0M362.6 357.3h0M358.4 355.8h0M353.5 356.3h0M348.6 355.1h0M344.7 351.9h0M360 358.6h0M347.9 349.4h0M359.7 353.8h0M355.9 358.4h0M361.5 357h0M354.5 353.2h0M354.4 352.6h0M355.6 354.3h0M359.8 355.8h0M353.3 351.2h0M357.5 355.5h0M362.1 355.8h0M346.5 353.8h0M343.5 354.5h0M377.4 358.7h0M377.5 354.7h0M378.5 358.2h0M375.5 360h0M377.6 348.2h0M379.3 351.1h0M375.9 344.3h0M376.4 343.1h0M374.8 359.4h0M374.4 359.2h0M367.1 345.3h0M366.6 349.6h0M367.4 343.4h0M368.3 358.8h0M365.3 355.1h0M376.5 353.4h0M375.2 349.9h0" stroke="#64adbf" stroke-width="1.75" stroke-linecap="round" fill="none"/>
<path d="M346.9 318.8h0M368.1 301.9h0M364.7 305.2h0M354.6 308.7h0M368.5 303.2h0M351.8 310.3h0M344.5 319.3h0M357.4 308h0M346.2 320.7h0M366.6 306.3h0M379.6 310h0M377.7 333h0M377.3 329.7h0M384.1 317.5h0M377.3 308h0M381.5 305.7h0M382.8 314.9h0M382 321h0M383.4 319.9h0M375.7 334.7h0M375.4 332.4h0M380.3 327.7h0M343.1 339h0M335.1 337.3h0M334.9 324.2h0M333 324.9h0M334.1 333.8h0M333.1 328.4h0M334.8 328.4h0M337.6 337.8h0M333.8 331.1h0M333.8 335.3h0M334.8 328.2h0M338.8 327.8h0M333.2 327.7h0M369.8 329.1h0M369.8 328.8h0M365.6 330.6h0M369.8 329.8h0M355 328.6h0M355.2 327.6h0M355.5 325.9h0M366.7 329.6h0M355.3 332.1h0M358.8 335.5h0M362.9 325.3h0M361.8 326.5h0M360 330.5h0M359.2 328h0M357 335h0M356.9 335.5h0M394.5 336.9h0M390.5 343.6h0M391.2 338.9h0M393.5 335h0M342.6 349.8h0M356.7 356.7h0M356.4 356.1h0M347.4 352.2h0M359.5 352.8h0M351.4 357.2h0M360.7 355.5h0M352 352.2h0M352.1 352.8h0M353.7 351.6h0M346.9 349.4h0M368.3 341.4h0M379.8 351.4h0M369.8 361.8h0M373.5 342.1h0M369.5 351.8h0M365.3 355.2h0M369 360.4h0M371.4 354h0" stroke="#78b7c5" stroke-width="1.75" stroke-linecap="round" fill="none"/>
<path d="M368.6 299.3h0M381.1 310.3h0M382.4 308.7h0M332 322.9h0M339.3 326.1h0M362.6 331.7h0M361.7 327.5h0M354.6 357.4h0M344 351.7h0M358.9 355.8h0" stroke="#9ebe91" stroke-width="1.75" stroke-linecap="round" fill="none"/>
<path d="M331.5 323.3h0M354.4 337.9h0M348.1 350.2h0" stroke="#c5c55e" stroke-width="1.75" stroke-linecap="round" fill="none"/>
<path d="M364.2 306.4h0M382.1 326.2h0M383.3 315.3h0M339.7 340.8h0M340.2 327.2h0M364.7 331.2h0M363.1 319h0M365.7 323h0M350.4 357.3h0M346.2 351h0M360.5 354.6h0M354.2 350.6h0M362 356.9h0M375.4 342.5h0M367.7 354.3h0M370.9 347.6h0" stroke="#ebcc2a" stroke-width="1.75" stroke-linecap="round" fill="none"/>
<path d="M357 309.7h0M359.8 306.6h0M347.9 312.2h0M383.4 312.9h0M384.5 314.3h0M380.8 327.7h0M383 323.4h0M374.8 335.3h0M381.6 308.8h0M378.8 332.8h0M381.7 312.2h0M378.1 332h0M335.7 320.8h0M330.6 325h0M334.1 329.3h0M340.2 336.7h0M342.1 339.7h0M332.9 320.9h0M332.6 320.1h0M340.4 339.5h0M335.1 332.1h0M334.3 333h0M338.2 338.8h0M335 336.9h0M337.6 336h0M341.7 338.6h0M331.8 330.7h0M333.2 334.7h0M339.8 328.1h0M336 329.5h0M335.3 327.5h0M335.3 328.7h0M370.6 323h0M367 321.4h0M367.1 319.3h0M363.4 326.2h0M363.3 324.8h0M366.5 325.1h0M353.1 359h0M344.7 350.1h0M355.1 355.5h0M355.3 357.3h0M347.7 356.9h0M343.5 352.6h0M350.7 350.2h0M342.9 349.6h0M355.1 350.8h0M342.2 352.9h0M349.7 352.8h0M360 357.3h0M357.8 358.7h0M357 354.2h0M354.1 354.7h0M354.5 355.2h0M352.4 358h0M353.7 355.5h0M359.8 352.6h0M355.1 356.1h0M351.8 356.7h0M350.6 353.8h0M379.6 346.6h0M374 340.6h0M375.2 341.3h0M379.5 349.8h0M376.7 343.5h0M371.5 340.7h0M369.5 341.4h0M379.9 353.1h0M376.7 344.9h0M367 342.8h0M368 347.7h0M367.9 350.6h0M367.9 357.7h0M373.6 347.7h0M371.5 348.8h0" stroke="#e8c21c" stroke-width="1.75" stroke-linecap="round" fill="none"/>
<path d="M349.6 312.2h0M383.8 318.1h0M379.9 326.1h0M382.9 309.5h0M384.8 316.8h0M383.8 315.3h0M379.3 308.4h0M384.3 320.1h0M335.3 320.7h0M333.1 328.8h0M331.1 328.6h0M333.7 326.9h0M334.5 336.5h0M333 331.2h0M334 329.8h0M337.2 334.5h0M336.1 333.2h0M331.5 332.9h0M334.1 327.4h0M335.8 328.5h0M338.2 328.4h0M336.1 326.6h0M363.5 333.2h0M387.8 329.3h0M394.6 333.1h0M357.1 355.4h0M348.8 357.3h0M347.4 349.5h0M356.2 356.8h0M356.9 358.9h0M363.8 356.8h0M347.4 354.9h0M360.9 354h0M357.8 355h0M356.5 352.7h0M356 358h0M358.5 352.6h0M349.3 352.4h0M361.5 357.1h0M351.4 352.3h0M343.2 354.3h0M352 352.5h0M342.5 351.2h0M352.8 356.6h0M352.5 356.8h0M349.8 353.4h0M347.9 356.4h0M342.6 352.9h0M346.7 348.8h0M353 352.4h0M347.9 349h0M345.3 353h0M354 353h0M361.4 353.7h0M352 354h0M348.8 350.8h0M345.2 349.7h0M351.7 358.5h0M360.1 352.7h0M352.4 349.4h0M353.5 355.2h0M356.7 351.7h0M347.2 352.8h0M354.2 357.3h0M369.8 340.9h0M373.5 341.1h0M376.6 359.6h0M379.5 349h0M378.8 347h0M377.5 356.7h0M378.4 350.6h0M378.7 349h0M378.2 349.5h0M379.7 348.8h0M366.1 345.1h0M369.1 351.2h0M366.5 346.1h0M367.5 343.8h0M368.6 349.4h0M369 354.4h0M367.9 356h0M368.1 355.4h0M374.3 349.5h0M373.7 354.3h0" stroke="#e4b90e" stroke-width="1.75" stroke-linecap="round" fill="none"/>
<path d="M375.1 335.4h0M333.5 326.8h0M333.2 329.1h0M335.9 327.9h0M342.8 351.6h0M353.7 353.8h0M346.8 350.1h0M358.9 353.4h0M343.1 352.6h0M354.7 357.8h0M361.4 355.3h0M378.4 347.1h0M379.3 351.6h0M369.1 340.6h0M374.6 351.5h0" stroke="#e1af00" stroke-width="1.75" stroke-linecap="round" fill="none"/>
<path d="M375.2 343.7h0" stroke="#e77d00" stroke-width="1.75" stroke-linecap="round" fill="none"/>
<path d="M362.9 356.6h0" stroke="#ec4c00" stroke-width="1.75" stroke-linecap="round" fill="none"/>
<path d="M361.7 305h0M367.4 304.1h0M358.8 307.3h0M349 314.2h0M366.9 306h0M350.2 311.2h0M352.1 310.3h0M368.6 302.3h0M365.7 304.9h0M354.9 308h0M344.8 319.5h0M349.4 314.8h0M344.8 319.7h0M368.6 304h0M344.8 313.8h0M346.4 318.8h0M359.8 304.7h0M343.8 317.2h0M351.4 312.3h0M347.2 321h0M349.1 310.8h0M343.1 320.6h0M368.1 300.5h0M346.1 314.9h0M360.9 307.1h0M353.6 310.2h0M347.3 312.7h0M346 315.6h0M367.1 302.9h0M348.5 314.7h0M369.1 303.6h0M352.5 312.7h0M351.9 311.5h0M384.8 324.3h0M380.7 310.5h0M379.4 307.9h0M381.4 313.7h0M377.7 332.2h0M375.7 333h0M382.7 319.6h0M377 329.7h0M382.2 326h0M381.2 309.1h0M380.6 306.9h0M375.7 331.3h0M373.7 333.5h0M384.2 317.2h0M373.8 334h0M380.1 325.4h0M380.7 324.8h0M340.7 337.9h0M330.5 324.5h0M332.8 331.7h0M332.6 323.4h0M331.2 324.3h0M332.4 324.2h0M330.7 324.3h0M334.2 323.9h0M331.1 321.1h0M333.6 328.4h0M337.8 336.7h0M337.1 327.2h0M363.8 332.6h0M354.3 329.2h0M369.3 322.8h0M359.5 319.6h0M364.8 330.8h0M369.5 326.5h0M367.3 329.3h0M359.4 319.6h0M360 319.1h0M368.1 330.3h0M358.6 320h0M357.9 335.8h0M370.2 324h0M369 325.3h0M361 335.3h0M357.3 324.5h0M361.3 335.1h0M362.8 318.6h0M360.2 325.5h0M364.9 328.6h0M363 325.8h0M364.6 329.7h0M365.8 330h0M365.9 323.7h0M362.6 325.1h0M364.6 322.9h0M367.2 323.8h0M355.9 336.1h0M357.7 334.7h0M356.1 337.4h0M353.6 338.3h0M386.8 344.2h0M392.7 333.9h0M386.2 345.5h0M392 329.7h0M393.5 334h0M387.1 343.9h0M392.3 332.6h0M392.9 333.4h0M394 332.8h0M392.7 332.8h0M392 335.6h0M349.6 351.4h0M361.8 357.6h0M362 355.2h0M350 358.4h0M375.2 360.3h0M374.6 361.3h0M376.1 359.7h0M369.3 360.6h0M368.9 358.3h0" stroke="#3b9ab2" stroke-width="1.75" stroke-linecap="round" fill="none"/>
<path d="M348 313.7h0M363.8 306.7h0M348.5 310.5h0M368 301.4h0M361.6 306.1h0M362 308.7h0M351.2 309.6h0M353.4 308.5h0M344.4 317.3h0M352.9 309.6h0M348 320.4h0M353.4 308.7h0M372 300.5h0M349.4 312.2h0M348 320.3h0M356.2 310.9h0M356.2 309.8h0M346 317.9h0M352.6 308.3h0M349.3 311.7h0M369.1 302.5h0M368 301h0M348.2 315.4h0M370.7 302.6h0M361.1 305.9h0M353.2 312.6h0M347.7 314.1h0M362.6 306h0M350 312.6h0M367 302.1h0M367.6 302.5h0M363.5 305.2h0M347.5 313.3h0M369.2 301.5h0M362.4 304.9h0M345.1 319h0M356 307.4h0M368.1 299.9h0M347 314.3h0M348.9 315h0M369.9 299.6h0M347 312.3h0M356.2 306.8h0M360.8 305.1h0M353 310.6h0M377.9 330.4h0M382.5 315.7h0M381.8 319.4h0M380.1 309.6h0M378.7 328.9h0M380.5 327h0M385.2 319.7h0M385.6 320.9h0M375.5 333.9h0M377.1 307.4h0M380.5 323.8h0M379.2 304h0M378.9 309.4h0M385.3 320.3h0M384.1 316.1h0M374.7 331.6h0M378.2 305.7h0M377.1 330.6h0M381.1 324.4h0M381.2 309.2h0M386.1 317.2h0M385.7 316.4h0M377.7 333.5h0M379.1 307.6h0M383.4 319.5h0M377.1 335.4h0M381.5 307.9h0M379.3 327.1h0M380.8 325.8h0M378.5 305h0M375.5 332.1h0M383.3 318.9h0M383.1 324.2h0M374.7 333.7h0M377.7 307.5h0M384.8 321.1h0M381 325.3h0M333.1 321.1h0M340.6 337.9h0M335.5 321.4h0M339.8 340.6h0M334.7 333h0M343.2 339.4h0M333.3 324h0M341.9 341.1h0M334.8 320.1h0M334.5 319.7h0M331.9 325.7h0M336.9 335.5h0M336.9 335.4h0M334.5 329.9h0M340.7 340.9h0M336.9 334h0M335 319.9h0M334.2 330.1h0M335.8 332.7h0M334.9 336.3h0M333.2 328.1h0M338.2 326.2h0M341.1 327h0M340.9 326.4h0M335.2 328.6h0M338.9 329.3h0M362.9 320.8h0M356.7 334.1h0M371.7 323.7h0M369.7 326.7h0M360.5 335.9h0M371 324.9h0M354.5 331.7h0M362.8 318.8h0M356.9 334.4h0M362.1 333.5h0M370.8 324.8h0M362.2 333.3h0M358.8 321.7h0M368.7 321.9h0M361.5 321.3h0M369 322.2h0M366 332.3h0M358.8 322.4h0M353.4 329.8h0M358.7 332.8h0M362.5 321.4h0M356 332.9h0M355.7 326h0M368 326.7h0M356 323h0M357.6 326.7h0M363.9 334.3h0M355.1 329.7h0M370.1 320.9h0M356.1 324.4h0M367.4 328.5h0M371.2 323.8h0M367.8 331.8h0M369.2 322.3h0M368.7 327.7h0M369 324.2h0M361.3 332.4h0M363.4 328.5h0M359.7 325.4h0M362.6 326.1h0M361.2 326.1h0M361.5 326.9h0M366.7 328.7h0M360.1 329.6h0M360.8 327.9h0M364.1 325.6h0M362.1 327.3h0M363.1 328.4h0M362.3 326.2h0M359.7 328.1h0M361.1 330h0M361.8 327.5h0M360.4 328.2h0M359.2 329.6h0M364.5 325.4h0M356.7 334.6h0M355.9 335.3h0M356.8 337.5h0M355.1 336.1h0M354.3 338.6h0M355.9 339.8h0M393.3 331.1h0M392.6 339.2h0M388.9 341.5h0M391.5 340h0M387.5 329h0M391.4 335.6h0M387.8 343.7h0M393.4 337.9h0M393.3 338.2h0M392.3 338.8h0M387.4 346.5h0M387.3 344.2h0M390.1 339.5h0M392.5 334.5h0M394.3 334.4h0M391.8 334.6h0M390.4 331.1h0M390 330.4h0M393.3 340.8h0M392 337.9h0M386.9 346.5h0M389.3 331.5h0M386.9 345.2h0M391.7 341.9h0M344.7 355.4h0M356.5 353.8h0M347.4 353.5h0M343.9 349.4h0M355.3 349.9h0M349.7 358.1h0M349 352.4h0M354.4 357.6h0M360.7 353.6h0M352.6 351.3h0M350.7 351.7h0M346.9 353.3h0M358.5 354.7h0M352.4 357h0M343.5 354.6h0M370.7 362.2h0M379.2 347.3h0M377 359.6h0M374 342.9h0M379.7 347.8h0M371.8 361.8h0M379.3 348.3h0M374.9 359.4h0M374.7 341.3h0M373.9 361h0M371.2 361.5h0M368 350.4h0M368.5 355.2h0M368.2 358.4h0" stroke="#4fa4b8" stroke-width="1.75" stroke-linecap="round" fill="none"/>
<path d="M357 308h0M365.3 301.9h0M368.4 304h0M355.8 308.7h0M353.1 312h0M349.7 312.1h0M344.9 319.5h0M354.8 309.8h0M367.3 300.5h0M352 308.6h0M346.5 317h0M346.1 319.9h0M360.7 306.3h0M361 307.4h0M371.5 300.8h0M370.3 302.4h0M358.6 306.2h0M370.4 301.3h0M358.8 309h0M358.2 306.8h0M348.1 311.7h0M365.8 305.6h0M344.9 319.3h0M370.7 300.9h0M369.1 304.3h0M361.3 307.4h0M344.4 320.8h0M367.6 302.9h0M346.1 313.2h0M363.1 307.8h0M365.5 304.2h0M361.6 305.1h0M345.5 320.7h0M349.9 314.8h0M352.6 312.8h0M352.3 312.5h0M364.1 307.6h0M383.6 312.1h0M372.7 334.8h0M382.6 312.6h0M383.4 309.7h0M384.8 320h0M381.5 307.2h0M384.4 313.6h0M379 306.9h0M381.7 307.4h0M383 322.2h0M377.5 330.7h0M384.7 313.4h0M382.4 307.2h0M384.8 313.9h0M376.5 333.9h0M383.3 323.3h0M382.6 317.1h0M381.2 309.9h0M380.3 309.3h0M383.4 325.7h0M381 328.3h0M380.2 308.3h0M381.6 307.7h0M378 305h0M381.1 312.3h0M381.8 321.1h0M383.6 314.3h0M378.2 305.8h0M384.7 313.8h0M384.5 324.6h0M382.5 317.4h0M378.1 331.2h0M382 310.5h0M380.1 309.8h0M385.2 317.4h0M382.9 313.2h0M382.6 315.1h0M382.7 318.4h0M382.1 322.4h0M380 306.4h0M383.6 315.5h0M384.3 313.4h0M333.9 326.7h0M331.8 326.5h0M334.6 332.5h0M341.5 340.4h0M335.4 320.4h0M335.8 337.7h0M333.2 318.7h0M332.8 325.8h0M334.4 334.9h0M334.6 335h0M334.3 333.1h0M333.5 332.2h0M333.9 320.1h0M343.1 339.7h0M340 338h0M333.7 332.9h0M331.1 327.7h0M332 328h0M334.8 333.5h0M333.3 319.7h0M335.3 337.4h0M335.7 320.7h0M337.8 335.5h0M331.5 322.8h0M340 326.9h0M337.7 329.8h0M337.6 329.1h0M369.3 323.7h0M364.1 319.5h0M355.6 328.8h0M359.5 323.5h0M363.5 331.3h0M353.9 329.3h0M365.4 332h0M363.2 320.8h0M366.9 331h0M360.8 335.4h0M356.2 326.9h0M357.3 332.3h0M370.8 327.7h0M357.1 326.9h0M366.7 333.1h0M358.2 325.8h0M355.5 330.7h0M358.7 334.8h0M366.1 320.5h0M371.6 326.6h0M365 331.2h0M369.6 324.9h0M354.8 324.3h0M355.5 331.9h0M360.8 320.9h0M355.5 333.6h0M369.7 323.8h0M361.9 335.7h0M370.8 320.4h0M360.3 322.5h0M370.6 321.7h0M362 327.2h0M363.1 325.9h0M363.8 325.5h0M363.9 329.1h0M366.7 328.1h0M361.7 324.8h0M365 329.5h0M363.3 328.1h0M362.7 326h0M362.3 328h0M360.8 330.2h0M365.3 323.5h0M364.5 326.5h0M361.6 326.3h0M365 323.5h0M360 328.2h0M365.6 325.1h0M359 330.1h0M364.5 322.9h0M364.2 323.1h0M356.1 338.8h0M355.6 334.2h0M354.4 337.3h0M356.1 334.7h0M353.4 339.6h0M391.8 331h0M391.1 330.7h0M391.2 329.3h0M392 335.4h0M388.9 343.3h0M391.7 337.2h0M391.3 341.7h0M389.2 341.6h0M390.2 342h0M390.6 329.9h0M387.9 345.7h0M386.6 345.3h0M393.8 332.2h0M391.2 340.1h0M392.6 333.4h0M392 340.3h0M386 344.8h0M385.9 344.3h0M389.4 340.5h0M391.5 330.7h0M391.7 331.7h0M352 349.8h0M347.3 351.8h0M344.1 353.7h0M348.5 348.7h0M346.6 349.6h0M358.6 353.9h0M354.6 350.3h0M360 358.2h0M343.5 353.3h0M356.7 354.7h0M352.6 351.7h0M347.8 351.8h0M360.5 354.6h0M362.5 357.1h0M343.6 354.3h0M350.2 358.2h0M349.5 351.2h0M353.1 358.5h0M360.3 354h0M341.9 351.2h0M358.7 354.8h0M373.6 342.6h0M374.9 359.9h0M376.7 343.8h0M377.2 358.6h0M368.1 342h0M377.4 359.6h0M378 357.6h0M373.1 340.2h0M369.3 360.7h0M374.7 359.5h0M376.3 358.9h0M366.8 346.1h0M369.9 350.8h0M365.7 344.3h0M369.4 357.5h0M369.7 359.1h0M374.1 351.4h0" stroke="#64adbf" stroke-width="1.75" stroke-linecap="round" fill="none"/>
<path d="M351.5 310.5h0M360.4 305.6h0M366.2 304.3h0M353.9 308.2h0M355.4 306.6h0M366 303.2h0M365.6 302.2h0M362.3 305.5h0M372 299.9h0M352.3 308.8h0M379.9 325.9h0M382.3 313.1h0M381.1 308.7h0M377 334.9h0M381.9 323.9h0M381 327h0M379.9 308.8h0M382.7 327.4h0M384.3 326.1h0M382.8 328h0M380.7 308.1h0M382.4 320h0M331.6 329h0M334.5 334.5h0M334.6 336.2h0M330.8 325.3h0M333.9 318.7h0M335.2 334.5h0M331.8 325.8h0M341.5 340.5h0M339.9 338.7h0M331.2 332.2h0M335.9 328.9h0M342 328.5h0M339.4 326.9h0M368.5 318.2h0M368.6 328.3h0M370.2 328.7h0M365.5 331.6h0M359.8 333.1h0M372.1 326.8h0M371.8 324.5h0M360.3 333.1h0M357.5 320.8h0M365.8 327.4h0M365.6 328.1h0M366.4 329.1h0M361.4 327.2h0M358.8 330.9h0M357.4 336.6h0M354.8 338.8h0M393 338.7h0M392.7 330.4h0M390.4 339.3h0M354.7 357.7h0M350 353.1h0M362.7 358.7h0M356.1 354.9h0M361.4 358.1h0M350 352.5h0M342.9 353.9h0M346.9 350.5h0M355.3 352h0M352.9 351.4h0M348.4 348.9h0M352.3 358.3h0M379 355.2h0M368.3 341.8h0M374.6 359.9h0M366 347.3h0M366.1 341.8h0M368.8 356.6h0M369.3 357.8h0" stroke="#78b7c5" stroke-width="1.75" stroke-linecap="round" fill="none"/>
<path d="M369.2 300.4h0M385.1 317.3h0M332.1 325.1h0M339.4 340.5h0M336.1 326.7h0M366.9 329.3h0M365.8 324.9h0M361.6 357.1h0M353.7 359.2h0M369.8 350.5h0" stroke="#9ebe91" stroke-width="1.75" stroke-linecap="round" fill="none"/>
<path d="M364 333.1h0M357.1 334h0M375.9 358.9h0" stroke="#c5c55e" stroke-width="1.75" stroke-linecap="round" fill="none"/>
<path d="M353.6 307.9h0M378.8 307.2h0M334.8 322.1h0M339.2 338.1h0M341.3 326.5h0M370.8 328h0M361.9 326.9h0M355.6 337.7h0M350.6 352.1h0M355.2 351.7h0M359.7 357.7h0M347 356.2h0M369.3 340.1h0M379.5 352.2h0M367.5 355.2h0" stroke="#ebcc2a" stroke-width="1.75" stroke-linecap="round" fill="none"/>
<path d="M351.3 310.9h0M355.2 310.7h0M368.4 299.2h0M383.2 324.9h0M380 309.8h0M383.8 312.8h0M385.8 317.3h0M372.8 334.3h0M380.3 327.3h0M384.4 309.6h0M382 321.2h0M338.5 339h0M342.3 341.7h0M340.5 339.1h0M331.5 323.7h0M333.5 325.2h0M333.1 321.5h0M332.4 327.6h0M332 328.8h0M333.1 336.3h0M340.5 337.6h0M341.3 338.9h0M336.6 337.5h0M331.3 329.9h0M331.4 331.5h0M333.6 326.2h0M333.8 322.1h0M338.4 336.2h0M334.8 327.6h0M340 326.2h0M336.1 327.7h0M334.7 326.4h0M358.2 333.2h0M354.4 328.1h0M367.1 330.1h0M363.8 327.4h0M365.5 323.7h0M393.3 331.7h0M350.8 356.1h0M360.1 352.5h0M347.3 353.9h0M352.1 351.5h0M355.7 358.7h0M355.1 358.1h0M342.4 350.8h0M347.1 354.7h0M358.5 357.7h0M359.4 355.2h0M355 354.4h0M354.5 350.4h0M351.3 358.8h0M352.7 355.8h0M345.9 356.4h0M358.4 354.7h0M358.4 357.8h0M356.7 359.2h0M358.2 356h0M344.8 355.1h0M350.5 353.7h0M360 359.2h0M372.7 340.9h0M378.3 354.9h0M378 347.6h0M376.2 358.7h0M371.7 340h0M376.7 342.5h0M377.5 343.2h0M369.8 341.5h0M367.3 345.8h0M368.7 351.5h0M367.2 345.1h0M366.3 349.8h0M367.5 355.6h0M372.3 353.7h0M372.1 346.7h0" stroke="#e8c21c" stroke-width="1.75" stroke-linecap="round" fill="none"/>
<path d="M355.9 309.3h0M384.7 311.2h0M379.6 310h0M381.3 327h0M377.9 333.7h0M384.7 315.2h0M381.6 324.5h0M384.3 316.8h0M334.8 322.7h0M339.2 339.5h0M334.1 331.7h0M334.5 332.8h0M333.4 325.6h0M335.5 336.1h0M339.1 339.6h0M334.9 335.2h0M342.7 338.4h0M334.2 330h0M337.1 327.2h0M334.1 329h0M335.3 328h0M334.5 328.2h0M361.8 328.3h0M392.1 333h0M388.3 329h0M345.7 355.4h0M344.7 351.5h0M358.7 354.6h0M352.3 354.9h0M356 358.4h0M357.6 355h0M348.9 352.2h0M358.4 357h0M348.8 350h0M361.3 356.4h0M346.5 348.7h0M364 357.3h0M355.5 359.3h0M353.9 351.9h0M343.8 349.6h0M355.5 358.9h0M352.1 355.8h0M358.4 357.9h0M346.3 348.4h0M354 354.4h0M357.9 351.8h0M349.4 357.7h0M363 355.8h0M362.4 358.6h0M352.1 358.1h0M356.5 356.8h0M347.4 349.6h0M353.6 352.6h0M344 351.8h0M356.8 352h0M347.7 348.5h0M360.4 357.3h0M351.3 352.1h0M359.8 356.9h0M351.9 349.9h0M344.8 353h0M349 357.6h0M362 354.7h0M355.3 354.9h0M367.8 340.6h0M369.3 341.4h0M378.4 344.2h0M378.6 352.1h0M378.9 356.6h0M373.9 342.1h0M373.9 340.8h0M369.8 341.4h0M377.9 348.6h0M367.2 344h0M365.9 345.4h0M367.8 347.3h0M366.5 343.9h0M366.3 348.1h0M368.8 356.2h0M367.4 355.7h0M368.1 356.5h0M367.2 353.6h0M375.7 355.8h0M373.6 356.3h0" stroke="#e4b90e" stroke-width="1.75" stroke-linecap="round" fill="none"/>
<path d="M334.5 333h0M334.7 332.6h0M334.7 326.4h0M360.2 357.9h0M357.9 356h0M343.4 354.5h0M345.9 352.9h0M359.1 354.3h0M348.2 357.5h0M347.7 352.8h0M353.5 349.5h0M379.9 348.5h0M376.3 342.2h0M367 349.8h0M373.7 349.8h0" stroke="#e1af00" stroke-width="1.75" stroke-linecap="round" fill="none"/>
<path d="M367.9 340.2h0" stroke="#e77d00" stroke-width="1.75" stroke-linecap="round" fill="none"/>
<path d="M347.9 348.6h0" stroke="#ec4c00" stroke-width="1.75" stroke-linecap="round" fill="none"/>
<path d="M340.2 349.0C340.4 348.1 341.4 347.2 342.7 346.5C344.0 345.8 345.9 345.2 347.7 345.0C349.6 344.8 351.9 345.0 353.7 345.3C355.6 345.6 357.3 346.4 358.8 347.0C360.2 347.6 361.4 348.8 362.3 349.0C363.2 349.2 363.7 348.9 364.0 348.3C364.3 347.7 364.1 346.6 364.0 345.5C363.9 344.4 363.2 342.6 363.3 341.5C363.4 340.4 363.8 339.7 364.6 339.0C365.3 338.4 366.6 337.9 367.8 337.7C369.0 337.5 370.4 337.5 371.8 337.7C373.2 337.9 375.1 338.3 376.3 339.0C377.6 339.7 378.6 340.8 379.4 342.0C380.1 343.3 380.6 344.9 380.9 346.5C381.1 348.1 381.1 349.8 381.1 351.5C381.0 353.2 380.8 355.0 380.4 356.5C379.9 358.0 379.3 359.5 378.4 360.5C377.4 361.5 376.1 362.2 374.8 362.7C373.6 363.1 372.0 363.3 370.8 363.3C369.6 363.2 368.5 362.9 367.8 362.5C367.1 362.0 366.8 361.2 366.5 360.5C366.2 359.7 366.2 358.2 365.8 358.0C365.4 357.8 365.0 358.9 364.0 359.5C363.0 360.1 361.3 361.3 359.8 361.7C358.2 362.0 356.4 362.0 354.7 361.7C353.1 361.3 351.4 360.5 349.7 359.5C348.1 358.5 346.1 356.7 344.7 355.5C343.3 354.2 341.9 353.1 341.2 352.0C340.4 350.9 339.9 349.9 340.2 349.0Z" fill="none" stroke="#c832c8" stroke-width=".85"/>
<path d="M327.4 294.7V365.1H397.2" stroke="#000" stroke-width="1.3" fill="none"/>
<path d="M325.8 295.0h1.2" stroke="#333" stroke-width=".4"/>
<text x="325.20" y="296.12" font-size="3.10" fill="#444" text-anchor="end">50</text>
<path d="M325.8 313.2h1.2" stroke="#333" stroke-width=".4"/>
<text x="325.20" y="314.32" font-size="3.10" fill="#444" text-anchor="end">25</text>
<path d="M325.8 331.4h1.2" stroke="#333" stroke-width=".4"/>
<text x="325.20" y="332.52" font-size="3.10" fill="#444" text-anchor="end">0</text>
<path d="M325.8 349.6h1.2" stroke="#333" stroke-width=".4"/>
<text x="325.20" y="350.72" font-size="3.10" fill="#444" text-anchor="end">−25</text>
<path d="M343.9 365.5v1.2" stroke="#333" stroke-width=".4"/>
<text x="343.90" y="370.12" font-size="3.10" fill="#444" text-anchor="middle">−25</text>
<path d="M362.0 365.5v1.2" stroke="#333" stroke-width=".4"/>
<text x="362.00" y="370.12" font-size="3.10" fill="#444" text-anchor="middle">0</text>
<path d="M380.1 365.5v1.2" stroke="#333" stroke-width=".4"/>
<text x="380.10" y="370.12" font-size="3.10" fill="#444" text-anchor="middle">25</text>
<text x="362.00" y="374.22" font-size="4.50" fill="#222" text-anchor="middle">tSNE 1</text>
<text x="315.60" y="334.06" font-size="4.60" fill="#222" text-anchor="middle" transform="rotate(-90 315.60 332.40)">tSNE 2</text>
<text x="400.00" y="308.14" font-size="5.94" fill="#111">Citrate cycle (TCA cycle)</text>
<defs><linearGradient id="gG" x1="0" y1="1" x2="0" y2="0"><stop offset="0" stop-color="#3B9AB2"/><stop offset=".25" stop-color="#78B7C5"/><stop offset=".5" stop-color="#EBCC2A"/><stop offset=".75" stop-color="#E1AF00"/><stop offset="1" stop-color="#F21A00"/></linearGradient></defs>
<rect x="421.9" y="312.7" width="8.8" height="44.0" fill="url(#gG)"/>
<text x="433.70" y="325.14" font-size="4.00" fill="#222">1.0</text>
<path d="M421.9 323.7h1.6M430.7 323.7h-1.6" stroke="#fff" stroke-width=".3" stroke-opacity=".8"/>
<text x="433.70" y="338.44" font-size="4.00" fill="#222">0.5</text>
<path d="M421.9 337.0h1.6M430.7 337.0h-1.6" stroke="#fff" stroke-width=".3" stroke-opacity=".8"/>
<text x="433.70" y="351.54" font-size="4.00" fill="#222">0.0</text>
<path d="M421.9 350.1h1.6M430.7 350.1h-1.6" stroke="#fff" stroke-width=".3" stroke-opacity=".8"/>
<text x="4.40" y="393.80" font-size="10.00" fill="#000" font-weight="bold">H</text>
<text x="18.90" y="397.81" font-size="5.85" fill="#111" font-weight="bold">Pathway identifiers</text>
<text x="87.50" y="397.64" font-size="5.40" fill="#111" font-weight="bold">All detected</text>
<text x="164.00" y="397.84" font-size="5.94" fill="#111" font-weight="bold">All enriched</text>
<text x="228.20" y="397.83" font-size="5.93" fill="#111" font-weight="bold">Enriched in high MAM-score malignant cells</text>
<text x="418.4" y="397.6" font-size="5.4" font-weight="bold" fill="#111"><tspan font-style="italic">P</tspan> value</text>
<rect x="16.4" y="401.9" width="431.9" height="34.9" fill="#c9e6c3"/>
<rect x="16.4" y="436.8" width="431.9" height="36.5" fill="#fbd5b8"/>
<rect x="16.4" y="473.3" width="431.9" height="35.2" fill="#b3b6e6"/>
<rect x="16.4" y="508.5" width="431.9" height="35.0" fill="#fde9e6"/>
<text x="19.00" y="409.81" font-size="4.75" fill="#1a1a1a" font-weight="bold">KEGG:132956</text>
<rect x="75.6" y="403.5" width="54.3" height="9" fill="#808080" stroke="#2a2a2a" stroke-width=".6"/>
<text x="131.21" y="410.45" font-size="5.70" fill="#1a1a1a">1272</text>
<rect x="152.5" y="403.5" width="55.9" height="9" rx=".8" fill="#ececec" stroke="#2a2a2a" stroke-width=".6"/>
<text x="209.87" y="410.45" font-size="5.70" fill="#1a1a1a">378</text>
<text x="235.30" y="410.81" font-size="6.97" fill="#1a1a1a">Metabolic pathways</text>
<text x="411.2" y="410.57" font-size="6.3" fill="#1a1a1a">4.64×10<tspan font-size="3.2" dy="-2.2">−57</tspan></text>
<text x="19.00" y="421.11" font-size="4.75" fill="#1a1a1a" font-weight="bold">KEGG:82942</text>
<rect x="75.6" y="414.8" width="5.7" height="9" fill="#808080" stroke="#2a2a2a" stroke-width=".6"/>
<text x="82.58" y="421.75" font-size="5.70" fill="#1a1a1a">133</text>
<rect x="152.5" y="414.8" width="14.0" height="9" rx=".8" fill="#ececec" stroke="#2a2a2a" stroke-width=".6"/>
<text x="168.04" y="421.75" font-size="5.70" fill="#1a1a1a">95</text>
<text x="235.30" y="422.11" font-size="6.97" fill="#1a1a1a">Oxidative phosphorylation</text>
<text x="411.2" y="421.87" font-size="6.3" fill="#1a1a1a">7.02×10<tspan font-size="3.2" dy="-2.2">−53</tspan></text>
<text x="19.00" y="432.71" font-size="4.75" fill="#1a1a1a" font-weight="bold">KEGG:82927</text>
<rect x="75.6" y="426.4" width="1.3" height="9" fill="#808080" stroke="#2a2a2a" stroke-width=".6"/>
<text x="78.18" y="433.35" font-size="5.70" fill="#1a1a1a">30</text>
<rect x="152.5" y="426.4" width="3.0" height="9" rx=".8" fill="#ececec" stroke="#2a2a2a" stroke-width=".6"/>
<text x="156.96" y="433.35" font-size="5.70" fill="#1a1a1a">20</text>
<text x="235.30" y="433.71" font-size="6.97" fill="#1a1a1a">Citrate cycle (TCA cycle)</text>
<text x="411.2" y="433.47" font-size="6.3" fill="#1a1a1a">3.14×10<tspan font-size="3.2" dy="-2.2">−11</tspan></text>
<text x="18.40" y="444.91" font-size="4.75" fill="#1a1a1a" font-weight="bold">GO_BP:0006091</text>
<rect x="75.6" y="438.6" width="24.6" height="9" fill="#808080" stroke="#2a2a2a" stroke-width=".6"/>
<text x="101.45" y="445.55" font-size="5.70" fill="#1a1a1a">575</text>
<rect x="152.5" y="438.6" width="32.1" height="9" rx=".8" fill="#ececec" stroke="#2a2a2a" stroke-width=".6"/>
<text x="186.07" y="445.55" font-size="5.70" fill="#1a1a1a">217</text>
<text x="234.20" y="445.91" font-size="6.97" fill="#1a1a1a">Generation of precursor metabolites and energy</text>
<text x="411.2" y="445.67" font-size="6.3" fill="#1a1a1a">2.70×10<tspan font-size="3.2" dy="-2.2">−67</tspan></text>
<text x="18.40" y="456.61" font-size="4.75" fill="#1a1a1a" font-weight="bold">GO_BP:0006119</text>
<rect x="75.6" y="450.3" width="7.3" height="9" fill="#808080" stroke="#2a2a2a" stroke-width=".6"/>
<text x="84.24" y="457.25" font-size="5.70" fill="#1a1a1a">172</text>
<rect x="152.5" y="450.3" width="16.0" height="9" rx=".8" fill="#ececec" stroke="#2a2a2a" stroke-width=".6"/>
<text x="169.96" y="457.25" font-size="5.70" fill="#1a1a1a">108</text>
<text x="234.20" y="457.61" font-size="6.97" fill="#1a1a1a">Oxidative phosphorylation</text>
<text x="411.2" y="457.37" font-size="6.3" fill="#1a1a1a">2.71×10<tspan font-size="3.2" dy="-2.2">−61</tspan></text>
<text x="18.40" y="468.51" font-size="4.75" fill="#1a1a1a" font-weight="bold">GO_BP:0042775</text>
<rect x="75.6" y="462.2" width="4.7" height="9" fill="#808080" stroke="#2a2a2a" stroke-width=".6"/>
<text x="81.60" y="469.15" font-size="5.70" fill="#1a1a1a">110</text>
<rect x="152.5" y="462.2" width="12.0" height="9" rx=".8" fill="#ececec" stroke="#2a2a2a" stroke-width=".6"/>
<text x="165.97" y="469.15" font-size="5.70" fill="#1a1a1a">81</text>
<text x="234.20" y="469.51" font-size="6.97" fill="#1a1a1a">Mitochondrial ATP synthesis coupled electron transport</text>
<text x="411.2" y="469.27" font-size="6.3" fill="#1a1a1a">1.15×10<tspan font-size="3.2" dy="-2.2">−54</tspan></text>
<text x="18.40" y="480.51" font-size="4.75" fill="#1a1a1a" font-weight="bold">GO_MF:0016491</text>
<rect x="75.6" y="474.2" width="35.6" height="9" fill="#808080" stroke="#2a2a2a" stroke-width=".6"/>
<text x="112.51" y="481.15" font-size="5.70" fill="#1a1a1a">834</text>
<rect x="152.5" y="474.2" width="39.0" height="9" rx=".8" fill="#ececec" stroke="#2a2a2a" stroke-width=".6"/>
<text x="193.02" y="481.15" font-size="5.70" fill="#1a1a1a">264</text>
<text x="234.20" y="481.51" font-size="6.97" fill="#1a1a1a">Oxidoreductase activity</text>
<text x="411.2" y="481.27" font-size="6.3" fill="#1a1a1a">1.43×10<tspan font-size="3.2" dy="-2.2">−39</tspan></text>
<text x="18.40" y="492.61" font-size="4.75" fill="#1a1a1a" font-weight="bold">GO_MF:0003954</text>
<rect x="75.6" y="486.3" width="2.2" height="9" fill="#808080" stroke="#2a2a2a" stroke-width=".6"/>
<text x="79.08" y="493.25" font-size="5.70" fill="#1a1a1a">51</text>
<rect x="152.5" y="486.3" width="6.4" height="9" rx=".8" fill="#ececec" stroke="#2a2a2a" stroke-width=".6"/>
<text x="160.36" y="493.25" font-size="5.70" fill="#1a1a1a">43</text>
<text x="234.20" y="493.61" font-size="6.97" fill="#1a1a1a">NADH dehydrogenase activity</text>
<text x="411.2" y="493.37" font-size="6.3" fill="#1a1a1a">2.62×10<tspan font-size="3.2" dy="-2.2">−33</tspan></text>
<text x="18.40" y="504.41" font-size="4.75" fill="#1a1a1a" font-weight="bold">GO_MF:0008137</text>
<rect x="75.6" y="498.1" width="2.0" height="9" fill="#808080" stroke="#2a2a2a" stroke-width=".6"/>
<text x="78.86" y="505.05" font-size="5.70" fill="#1a1a1a">46</text>
<rect x="152.5" y="498.1" width="5.9" height="9" rx=".8" fill="#ececec" stroke="#2a2a2a" stroke-width=".6"/>
<text x="159.91" y="505.05" font-size="5.70" fill="#1a1a1a">40</text>
<text x="234.20" y="505.41" font-size="6.97" fill="#1a1a1a">NADH dehydrogenase (ubiquinone) activity</text>
<text x="411.2" y="505.17" font-size="6.3" fill="#1a1a1a">3.59×10<tspan font-size="3.2" dy="-2.2">−32</tspan></text>
<text x="18.40" y="516.51" font-size="4.75" fill="#1a1a1a" font-weight="bold">PW:0000034</text>
<rect x="75.6" y="510.2" width="2.2" height="9" fill="#808080" stroke="#2a2a2a" stroke-width=".6"/>
<text x="79.12" y="517.15" font-size="5.70" fill="#1a1a1a">52</text>
<rect x="152.5" y="510.2" width="5.9" height="9" rx=".8" fill="#ececec" stroke="#2a2a2a" stroke-width=".6"/>
<text x="159.91" y="517.15" font-size="5.70" fill="#1a1a1a">40</text>
<text x="234.20" y="517.51" font-size="6.97" fill="#1a1a1a">Oxidative phosphorylation</text>
<text x="411.2" y="517.27" font-size="6.3" fill="#1a1a1a">5.43×10<tspan font-size="3.2" dy="-2.2">−25</tspan></text>
<text x="18.40" y="528.51" font-size="4.75" fill="#1a1a1a" font-weight="bold">PW:0000026</text>
<rect x="75.6" y="522.2" width="0.9" height="9" fill="#808080" stroke="#2a2a2a" stroke-width=".6"/>
<text x="77.75" y="529.15" font-size="5.70" fill="#1a1a1a">20</text>
<rect x="152.5" y="522.2" width="2.1" height="9" rx=".8" fill="#ececec" stroke="#2a2a2a" stroke-width=".6"/>
<text x="156.07" y="529.15" font-size="5.70" fill="#1a1a1a">14</text>
<text x="234.20" y="529.51" font-size="6.97" fill="#1a1a1a">Citrate cycle</text>
<text x="411.2" y="529.27" font-size="6.3" fill="#1a1a1a">1.19×10<tspan font-size="3.2" dy="-2.2">−9</tspan></text>
<text x="18.40" y="540.71" font-size="4.75" fill="#1a1a1a" font-weight="bold">PW:0000025</text>
<rect x="75.6" y="534.4" width="1.2" height="9" fill="#808080" stroke="#2a2a2a" stroke-width=".6"/>
<text x="78.14" y="541.35" font-size="5.70" fill="#1a1a1a">29</text>
<rect x="152.5" y="534.4" width="2.4" height="9" rx=".8" fill="#ececec" stroke="#2a2a2a" stroke-width=".6"/>
<text x="156.36" y="541.35" font-size="5.70" fill="#1a1a1a">16</text>
<text x="234.20" y="541.71" font-size="6.97" fill="#1a1a1a">Glycolysis/gluconeogenesis</text>
<text x="411.2" y="541.47" font-size="6.3" fill="#1a1a1a">1.47×10<tspan font-size="3.2" dy="-2.2">−7</tspan></text>
</svg>
</body></html>
